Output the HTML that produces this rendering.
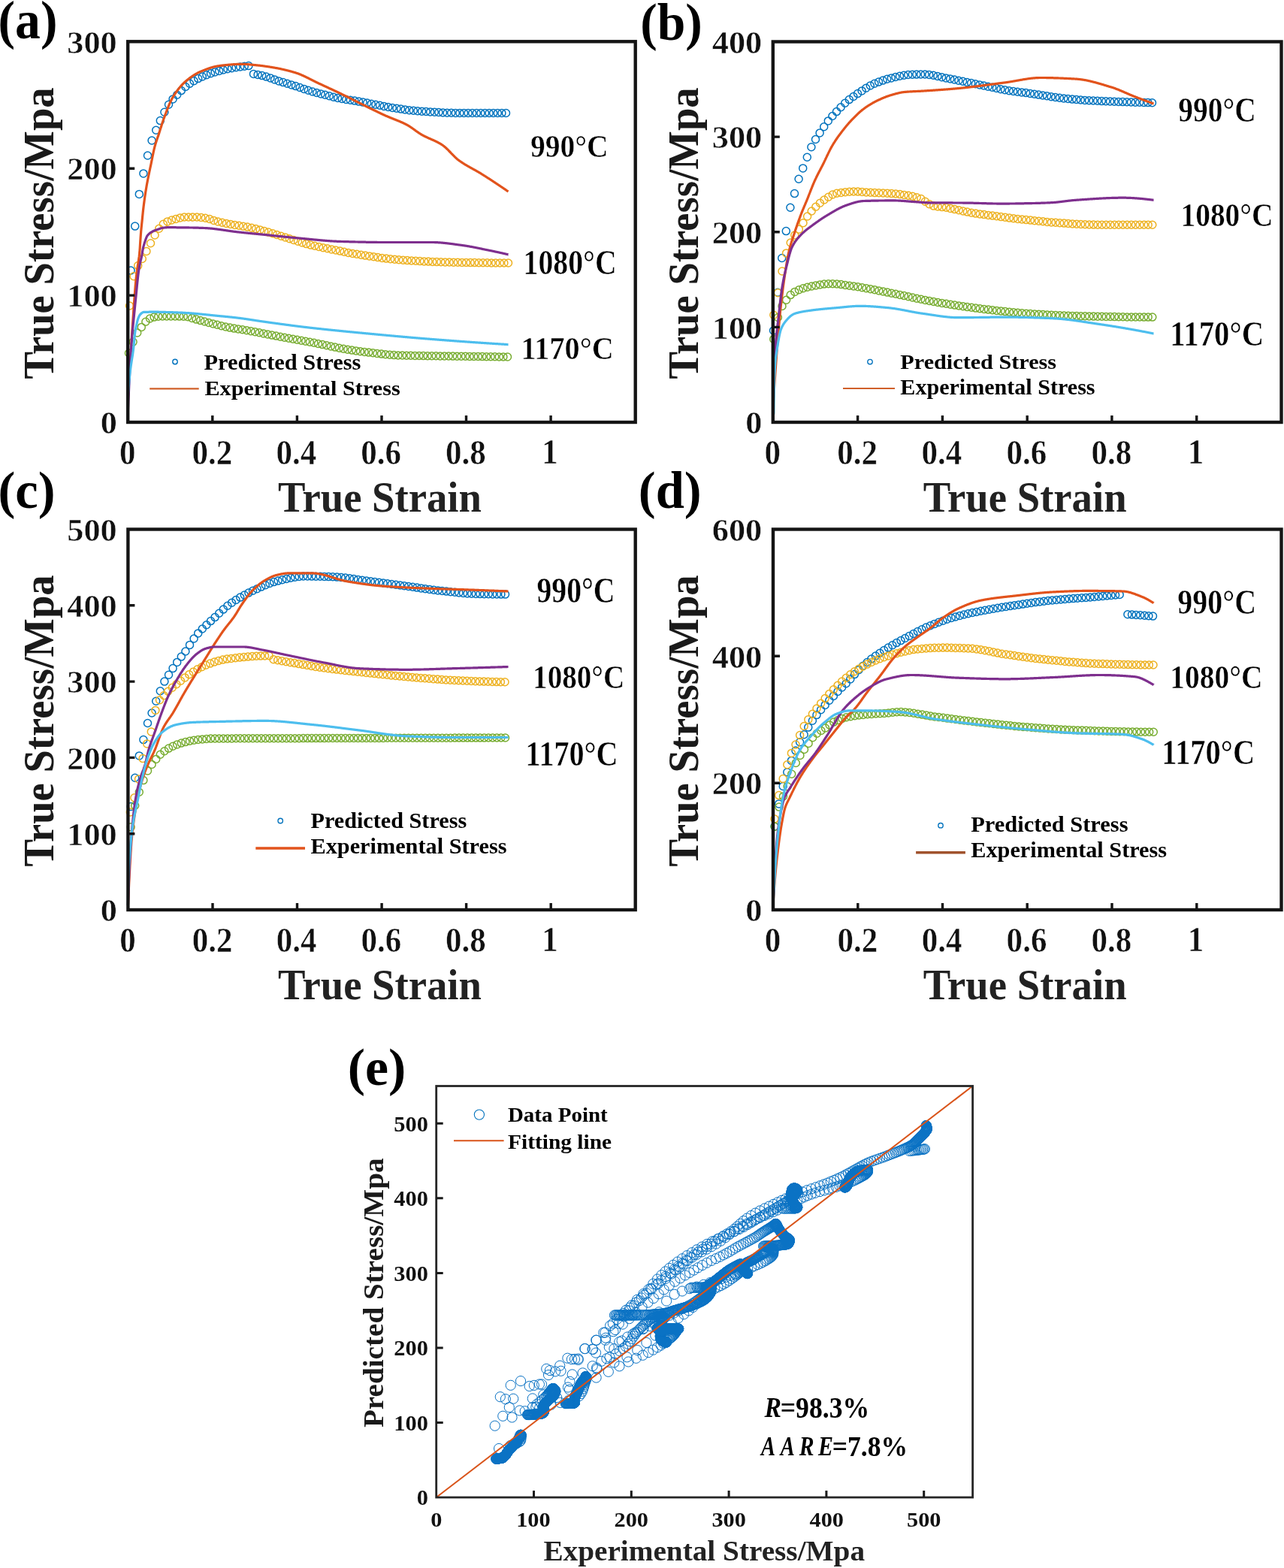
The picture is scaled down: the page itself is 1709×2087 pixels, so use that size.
<!DOCTYPE html><html><head><meta charset="utf-8"><style>html,body{margin:0;padding:0;background:#fff;}svg{display:block;} text{font-family:"Liberation Serif","Times New Roman",serif;}</style></head><body>
<svg xmlns="http://www.w3.org/2000/svg" width="1709" height="2087" viewBox="0 0 1709 2087">
<rect width="1709" height="2087" fill="#fff"/>
<g fill="none" stroke="#0072BD" stroke-width="1.5">
<circle cx="174.1" cy="360.0" r="5.0"/>
<circle cx="179.7" cy="301.1" r="5.0"/>
<circle cx="185.3" cy="258.4" r="5.0"/>
<circle cx="190.9" cy="230.9" r="5.0"/>
<circle cx="196.5" cy="207.0" r="5.0"/>
<circle cx="202.1" cy="187.0" r="5.0"/>
<circle cx="207.7" cy="173.2" r="5.0"/>
<circle cx="213.3" cy="160.6" r="5.0"/>
<circle cx="218.9" cy="149.3" r="5.0"/>
<circle cx="224.5" cy="139.3" r="5.0"/>
<circle cx="230.1" cy="131.9" r="5.0"/>
<circle cx="235.7" cy="126.3" r="5.0"/>
<circle cx="241.3" cy="120.6" r="5.0"/>
<circle cx="246.9" cy="115.5" r="5.0"/>
<circle cx="252.5" cy="111.3" r="5.0"/>
<circle cx="258.1" cy="107.7" r="5.0"/>
<circle cx="263.7" cy="104.6" r="5.0"/>
<circle cx="269.3" cy="102.0" r="5.0"/>
<circle cx="274.9" cy="99.7" r="5.0"/>
<circle cx="280.5" cy="97.7" r="5.0"/>
<circle cx="286.1" cy="95.9" r="5.0"/>
<circle cx="291.7" cy="94.4" r="5.0"/>
<circle cx="297.3" cy="93.0" r="5.0"/>
<circle cx="302.9" cy="91.8" r="5.0"/>
<circle cx="308.5" cy="90.7" r="5.0"/>
<circle cx="314.1" cy="89.8" r="5.0"/>
<circle cx="319.7" cy="88.9" r="5.0"/>
<circle cx="325.3" cy="88.2" r="5.0"/>
<circle cx="330.9" cy="87.6" r="5.0"/>
<circle cx="337.5" cy="98.4" r="5.0"/>
<circle cx="343.1" cy="99.4" r="5.0"/>
<circle cx="348.7" cy="100.6" r="5.0"/>
<circle cx="354.3" cy="102.1" r="5.0"/>
<circle cx="359.9" cy="103.9" r="5.0"/>
<circle cx="365.5" cy="105.9" r="5.0"/>
<circle cx="371.1" cy="107.9" r="5.0"/>
<circle cx="376.7" cy="109.6" r="5.0"/>
<circle cx="382.3" cy="111.3" r="5.0"/>
<circle cx="387.9" cy="112.9" r="5.0"/>
<circle cx="393.5" cy="114.6" r="5.0"/>
<circle cx="399.1" cy="116.5" r="5.0"/>
<circle cx="404.7" cy="118.4" r="5.0"/>
<circle cx="410.3" cy="120.3" r="5.0"/>
<circle cx="415.9" cy="122.0" r="5.0"/>
<circle cx="421.5" cy="123.5" r="5.0"/>
<circle cx="427.1" cy="124.9" r="5.0"/>
<circle cx="432.7" cy="126.3" r="5.0"/>
<circle cx="438.3" cy="127.8" r="5.0"/>
<circle cx="443.9" cy="129.2" r="5.0"/>
<circle cx="449.5" cy="130.5" r="5.0"/>
<circle cx="455.1" cy="131.5" r="5.0"/>
<circle cx="460.7" cy="132.4" r="5.0"/>
<circle cx="466.3" cy="133.2" r="5.0"/>
<circle cx="471.9" cy="134.1" r="5.0"/>
<circle cx="477.5" cy="135.1" r="5.0"/>
<circle cx="483.1" cy="136.1" r="5.0"/>
<circle cx="488.7" cy="137.1" r="5.0"/>
<circle cx="494.3" cy="138.2" r="5.0"/>
<circle cx="499.9" cy="139.2" r="5.0"/>
<circle cx="505.5" cy="140.3" r="5.0"/>
<circle cx="511.1" cy="141.4" r="5.0"/>
<circle cx="516.7" cy="142.4" r="5.0"/>
<circle cx="522.3" cy="143.4" r="5.0"/>
<circle cx="527.9" cy="144.3" r="5.0"/>
<circle cx="533.5" cy="145.1" r="5.0"/>
<circle cx="539.1" cy="145.9" r="5.0"/>
<circle cx="544.7" cy="146.7" r="5.0"/>
<circle cx="550.3" cy="147.3" r="5.0"/>
<circle cx="555.9" cy="147.8" r="5.0"/>
<circle cx="561.5" cy="148.2" r="5.0"/>
<circle cx="567.1" cy="148.5" r="5.0"/>
<circle cx="572.7" cy="148.9" r="5.0"/>
<circle cx="578.3" cy="149.2" r="5.0"/>
<circle cx="583.9" cy="149.5" r="5.0"/>
<circle cx="589.5" cy="149.9" r="5.0"/>
<circle cx="595.1" cy="150.2" r="5.0"/>
<circle cx="600.7" cy="150.3" r="5.0"/>
<circle cx="606.3" cy="150.4" r="5.0"/>
<circle cx="611.9" cy="150.4" r="5.0"/>
<circle cx="617.5" cy="150.4" r="5.0"/>
<circle cx="623.1" cy="150.5" r="5.0"/>
<circle cx="628.7" cy="150.5" r="5.0"/>
<circle cx="634.3" cy="150.5" r="5.0"/>
<circle cx="639.9" cy="150.5" r="5.0"/>
<circle cx="645.5" cy="150.5" r="5.0"/>
<circle cx="651.1" cy="150.5" r="5.0"/>
<circle cx="656.7" cy="150.5" r="5.0"/>
<circle cx="662.3" cy="150.5" r="5.0"/>
<circle cx="667.9" cy="150.5" r="5.0"/>
<circle cx="673.5" cy="150.5" r="5.0"/>
</g>
<g fill="none" stroke="#EDB120" stroke-width="1.5">
<circle cx="172.5" cy="407.0" r="5.0"/>
<circle cx="178.1" cy="367.7" r="5.0"/>
<circle cx="183.7" cy="353.6" r="5.0"/>
<circle cx="189.3" cy="344.5" r="5.0"/>
<circle cx="194.9" cy="334.4" r="5.0"/>
<circle cx="200.5" cy="323.7" r="5.0"/>
<circle cx="206.1" cy="313.0" r="5.0"/>
<circle cx="211.7" cy="304.2" r="5.0"/>
<circle cx="217.3" cy="298.3" r="5.0"/>
<circle cx="222.9" cy="294.9" r="5.0"/>
<circle cx="228.5" cy="293.0" r="5.0"/>
<circle cx="234.1" cy="291.5" r="5.0"/>
<circle cx="239.7" cy="289.9" r="5.0"/>
<circle cx="245.3" cy="289.0" r="5.0"/>
<circle cx="250.9" cy="289.0" r="5.0"/>
<circle cx="256.5" cy="289.0" r="5.0"/>
<circle cx="262.1" cy="289.0" r="5.0"/>
<circle cx="267.7" cy="289.5" r="5.0"/>
<circle cx="273.3" cy="290.2" r="5.0"/>
<circle cx="278.9" cy="291.5" r="5.0"/>
<circle cx="284.5" cy="293.4" r="5.0"/>
<circle cx="290.1" cy="295.0" r="5.0"/>
<circle cx="295.7" cy="296.3" r="5.0"/>
<circle cx="301.3" cy="297.4" r="5.0"/>
<circle cx="306.9" cy="298.4" r="5.0"/>
<circle cx="312.5" cy="299.4" r="5.0"/>
<circle cx="318.1" cy="300.3" r="5.0"/>
<circle cx="323.7" cy="301.2" r="5.0"/>
<circle cx="329.3" cy="302.1" r="5.0"/>
<circle cx="334.9" cy="303.2" r="5.0"/>
<circle cx="340.5" cy="304.5" r="5.0"/>
<circle cx="346.1" cy="305.9" r="5.0"/>
<circle cx="351.7" cy="307.5" r="5.0"/>
<circle cx="357.3" cy="309.1" r="5.0"/>
<circle cx="362.9" cy="310.7" r="5.0"/>
<circle cx="368.5" cy="312.5" r="5.0"/>
<circle cx="374.1" cy="314.2" r="5.0"/>
<circle cx="379.7" cy="315.9" r="5.0"/>
<circle cx="385.3" cy="317.7" r="5.0"/>
<circle cx="390.9" cy="319.5" r="5.0"/>
<circle cx="396.5" cy="321.3" r="5.0"/>
<circle cx="402.1" cy="323.0" r="5.0"/>
<circle cx="407.7" cy="324.6" r="5.0"/>
<circle cx="413.3" cy="326.1" r="5.0"/>
<circle cx="418.9" cy="327.3" r="5.0"/>
<circle cx="424.5" cy="328.5" r="5.0"/>
<circle cx="430.1" cy="329.7" r="5.0"/>
<circle cx="435.7" cy="330.8" r="5.0"/>
<circle cx="441.3" cy="331.9" r="5.0"/>
<circle cx="446.9" cy="333.0" r="5.0"/>
<circle cx="452.5" cy="334.1" r="5.0"/>
<circle cx="458.1" cy="335.3" r="5.0"/>
<circle cx="463.7" cy="336.4" r="5.0"/>
<circle cx="469.3" cy="337.4" r="5.0"/>
<circle cx="474.9" cy="338.3" r="5.0"/>
<circle cx="480.5" cy="339.2" r="5.0"/>
<circle cx="486.1" cy="340.1" r="5.0"/>
<circle cx="491.7" cy="340.9" r="5.0"/>
<circle cx="497.3" cy="341.8" r="5.0"/>
<circle cx="502.9" cy="342.6" r="5.0"/>
<circle cx="508.5" cy="343.4" r="5.0"/>
<circle cx="514.1" cy="344.1" r="5.0"/>
<circle cx="519.7" cy="344.7" r="5.0"/>
<circle cx="525.3" cy="345.3" r="5.0"/>
<circle cx="530.9" cy="345.8" r="5.0"/>
<circle cx="536.5" cy="346.2" r="5.0"/>
<circle cx="542.1" cy="346.6" r="5.0"/>
<circle cx="547.7" cy="346.9" r="5.0"/>
<circle cx="553.3" cy="347.3" r="5.0"/>
<circle cx="558.9" cy="347.6" r="5.0"/>
<circle cx="564.5" cy="347.9" r="5.0"/>
<circle cx="570.1" cy="348.1" r="5.0"/>
<circle cx="575.7" cy="348.4" r="5.0"/>
<circle cx="581.3" cy="348.6" r="5.0"/>
<circle cx="586.9" cy="348.8" r="5.0"/>
<circle cx="592.5" cy="348.9" r="5.0"/>
<circle cx="598.1" cy="349.0" r="5.0"/>
<circle cx="603.7" cy="349.2" r="5.0"/>
<circle cx="609.3" cy="349.3" r="5.0"/>
<circle cx="614.9" cy="349.4" r="5.0"/>
<circle cx="620.5" cy="349.5" r="5.0"/>
<circle cx="626.1" cy="349.6" r="5.0"/>
<circle cx="631.7" cy="349.6" r="5.0"/>
<circle cx="637.3" cy="349.7" r="5.0"/>
<circle cx="642.9" cy="349.8" r="5.0"/>
<circle cx="648.5" cy="349.8" r="5.0"/>
<circle cx="654.1" cy="349.9" r="5.0"/>
<circle cx="659.7" cy="349.9" r="5.0"/>
<circle cx="665.3" cy="350.0" r="5.0"/>
<circle cx="670.9" cy="350.0" r="5.0"/>
<circle cx="676.5" cy="350.0" r="5.0"/>
</g>
<g fill="none" stroke="#77AC30" stroke-width="1.5">
<circle cx="171.5" cy="470.0" r="5.0"/>
<circle cx="177.1" cy="455.1" r="5.0"/>
<circle cx="182.7" cy="442.9" r="5.0"/>
<circle cx="188.3" cy="435.4" r="5.0"/>
<circle cx="193.9" cy="428.3" r="5.0"/>
<circle cx="199.5" cy="424.0" r="5.0"/>
<circle cx="205.1" cy="422.1" r="5.0"/>
<circle cx="210.7" cy="421.2" r="5.0"/>
<circle cx="216.3" cy="421.0" r="5.0"/>
<circle cx="221.9" cy="421.0" r="5.0"/>
<circle cx="227.5" cy="421.0" r="5.0"/>
<circle cx="233.1" cy="421.0" r="5.0"/>
<circle cx="238.7" cy="421.1" r="5.0"/>
<circle cx="244.3" cy="421.3" r="5.0"/>
<circle cx="249.9" cy="421.8" r="5.0"/>
<circle cx="255.5" cy="423.5" r="5.0"/>
<circle cx="261.1" cy="425.1" r="5.0"/>
<circle cx="266.7" cy="426.6" r="5.0"/>
<circle cx="272.3" cy="428.0" r="5.0"/>
<circle cx="277.9" cy="429.5" r="5.0"/>
<circle cx="283.5" cy="430.9" r="5.0"/>
<circle cx="289.1" cy="432.3" r="5.0"/>
<circle cx="294.7" cy="433.8" r="5.0"/>
<circle cx="300.3" cy="435.0" r="5.0"/>
<circle cx="305.9" cy="436.1" r="5.0"/>
<circle cx="311.5" cy="437.1" r="5.0"/>
<circle cx="317.1" cy="438.0" r="5.0"/>
<circle cx="322.7" cy="438.8" r="5.0"/>
<circle cx="328.3" cy="439.7" r="5.0"/>
<circle cx="333.9" cy="440.7" r="5.0"/>
<circle cx="339.5" cy="441.7" r="5.0"/>
<circle cx="345.1" cy="442.8" r="5.0"/>
<circle cx="350.7" cy="443.9" r="5.0"/>
<circle cx="356.3" cy="445.0" r="5.0"/>
<circle cx="361.9" cy="446.1" r="5.0"/>
<circle cx="367.5" cy="447.1" r="5.0"/>
<circle cx="373.1" cy="448.2" r="5.0"/>
<circle cx="378.7" cy="449.2" r="5.0"/>
<circle cx="384.3" cy="450.2" r="5.0"/>
<circle cx="389.9" cy="451.2" r="5.0"/>
<circle cx="395.5" cy="452.2" r="5.0"/>
<circle cx="401.1" cy="453.2" r="5.0"/>
<circle cx="406.7" cy="454.2" r="5.0"/>
<circle cx="412.3" cy="455.2" r="5.0"/>
<circle cx="417.9" cy="456.3" r="5.0"/>
<circle cx="423.5" cy="457.5" r="5.0"/>
<circle cx="429.1" cy="458.6" r="5.0"/>
<circle cx="434.7" cy="459.8" r="5.0"/>
<circle cx="440.3" cy="461.0" r="5.0"/>
<circle cx="445.9" cy="462.1" r="5.0"/>
<circle cx="451.5" cy="463.2" r="5.0"/>
<circle cx="457.1" cy="464.3" r="5.0"/>
<circle cx="462.7" cy="465.2" r="5.0"/>
<circle cx="468.3" cy="466.1" r="5.0"/>
<circle cx="473.9" cy="466.9" r="5.0"/>
<circle cx="479.5" cy="467.7" r="5.0"/>
<circle cx="485.1" cy="468.4" r="5.0"/>
<circle cx="490.7" cy="469.1" r="5.0"/>
<circle cx="496.3" cy="469.8" r="5.0"/>
<circle cx="501.9" cy="470.5" r="5.0"/>
<circle cx="507.5" cy="471.1" r="5.0"/>
<circle cx="513.1" cy="471.7" r="5.0"/>
<circle cx="518.7" cy="472.2" r="5.0"/>
<circle cx="524.3" cy="472.6" r="5.0"/>
<circle cx="529.9" cy="472.9" r="5.0"/>
<circle cx="535.5" cy="473.0" r="5.0"/>
<circle cx="541.1" cy="473.2" r="5.0"/>
<circle cx="546.7" cy="473.3" r="5.0"/>
<circle cx="552.3" cy="473.4" r="5.0"/>
<circle cx="557.9" cy="473.5" r="5.0"/>
<circle cx="563.5" cy="473.6" r="5.0"/>
<circle cx="569.1" cy="473.7" r="5.0"/>
<circle cx="574.7" cy="473.7" r="5.0"/>
<circle cx="580.3" cy="473.8" r="5.0"/>
<circle cx="585.9" cy="473.9" r="5.0"/>
<circle cx="591.5" cy="473.9" r="5.0"/>
<circle cx="597.1" cy="474.0" r="5.0"/>
<circle cx="602.7" cy="474.1" r="5.0"/>
<circle cx="608.3" cy="474.2" r="5.0"/>
<circle cx="613.9" cy="474.2" r="5.0"/>
<circle cx="619.5" cy="474.3" r="5.0"/>
<circle cx="625.1" cy="474.4" r="5.0"/>
<circle cx="630.7" cy="474.5" r="5.0"/>
<circle cx="636.3" cy="474.5" r="5.0"/>
<circle cx="641.9" cy="474.6" r="5.0"/>
<circle cx="647.5" cy="474.7" r="5.0"/>
<circle cx="653.1" cy="474.7" r="5.0"/>
<circle cx="658.7" cy="474.8" r="5.0"/>
<circle cx="664.3" cy="474.9" r="5.0"/>
<circle cx="669.9" cy="474.9" r="5.0"/>
<circle cx="675.5" cy="475.0" r="5.0"/>
</g>
<path d="M170.2,549.6L170.4,528.0 170.7,518.8 171.2,509.8 171.7,504.1 172.0,500.0 172.2,496.8 172.7,489.2 173.2,481.8 173.7,474.5 174.0,470.0 174.2,467.0 174.7,459.3 175.2,451.7 175.7,444.0 176.2,436.5 176.5,432.0 176.7,429.0 177.2,421.6 177.7,414.2 178.2,407.0 178.7,400.0 179.0,396.0 179.2,393.4 179.7,386.9 180.2,380.7 180.7,375.1 181.0,372.0 181.2,370.1 181.7,365.7 182.2,361.7 182.7,358.0 183.2,354.6 183.7,351.6 184.2,348.4 184.4,347.0 184.7,344.9 185.2,341.4 185.7,337.0 185.8,336.0 186.2,330.3 186.7,322.0 187.2,314.6 187.7,308.0 188.2,302.6 188.7,297.9 189.1,294.0 189.2,293.0 189.7,287.8 190.2,282.8 190.5,280.0 190.7,278.3 191.2,274.1 191.7,270.2 192.2,266.4 192.7,262.8 193.2,259.3 193.7,256.0 194.2,252.9 194.7,249.9 195.2,247.0 195.7,244.3 196.2,241.6 196.7,239.0 197.2,236.5 197.7,234.0 198.2,231.6 198.7,229.2 199.2,226.8 199.7,224.5 200.2,222.1 200.7,219.8 201.2,217.4 201.4,216.4 201.7,214.9 202.2,212.5 202.7,210.0 203.2,207.5 203.7,205.1 204.2,202.7 204.7,200.4 205.2,198.2 205.7,196.2 206.0,195.0 206.2,194.3 206.7,192.5 207.2,190.8 207.7,189.2 208.2,187.7 208.7,186.2 209.2,184.7 209.7,183.3 210.2,181.9 210.7,180.4 211.2,178.9 211.5,178.0 211.7,177.4 212.2,175.8 212.7,174.2 213.2,172.6 213.7,171.1 214.2,169.5 214.7,167.9 215.2,166.3 215.7,164.7 216.2,163.2 216.7,161.7 217.2,160.2 217.7,158.8 218.0,158.0 218.2,157.5 218.7,156.1 219.2,154.7 219.7,153.4 220.2,152.0 220.7,150.7 221.2,149.3 221.7,148.0 222.2,146.7 222.7,145.4 223.2,144.1 223.7,142.8 224.2,141.6 224.7,140.4 225.2,139.2 225.7,138.0 226.2,136.9 226.7,135.8 227.2,134.7 227.7,133.7 228.2,132.7 228.7,131.8 229.2,130.9 229.7,130.0 230.2,129.2 230.7,128.4 231.2,127.6 231.7,126.8 232.2,126.0 232.7,125.2 233.2,124.5 233.7,123.7 234.2,123.0 234.7,122.3 235.2,121.6 235.7,120.9 236.2,120.2 236.7,119.6 237.2,118.9 237.7,118.3 238.2,117.6 238.7,117.0 239.2,116.4 239.7,115.8 240.2,115.2 240.7,114.7 241.2,114.1 241.7,113.5 242.2,113.0 242.7,112.5 243.2,111.9 243.7,111.4 244.2,110.9 244.7,110.5 245.2,110.0 245.7,109.5 246.2,109.1 246.7,108.6 247.2,108.2 247.4,108.0 247.7,107.7 248.2,107.3 248.7,106.9 249.2,106.5 249.7,106.1 250.2,105.7 250.7,105.3 251.2,104.9 251.7,104.5 252.2,104.1 252.7,103.7 253.2,103.4 253.7,103.0 254.2,102.6 254.7,102.3 255.2,101.9 255.7,101.6 256.2,101.2 256.7,100.9 257.2,100.6 257.7,100.3 258.2,99.9 258.7,99.6 259.2,99.3 259.7,99.0 260.2,98.7 260.7,98.4 261.2,98.2 261.7,97.9 262.2,97.6 262.7,97.3 263.2,97.1 263.7,96.8 264.2,96.6 264.7,96.3 265.2,96.1 265.7,95.9 266.2,95.6 266.7,95.4 267.0,95.3 267.2,95.2 267.7,95.0 268.2,94.8 268.7,94.6 269.2,94.4 269.7,94.2 270.2,94.0 270.7,93.8 271.2,93.6 271.7,93.4 272.2,93.2 272.7,93.0 273.2,92.8 273.7,92.6 274.2,92.4 274.7,92.2 275.2,92.0 275.7,91.8 276.2,91.7 276.7,91.5 277.2,91.3 277.7,91.1 278.2,91.0 278.7,90.8 279.2,90.6 279.7,90.5 280.2,90.3 280.7,90.1 281.2,90.0 281.7,89.8 282.2,89.7 282.7,89.5 283.2,89.4 283.7,89.3 284.2,89.1 284.7,89.0 285.2,88.9 285.7,88.8 286.2,88.6 286.7,88.5 287.2,88.4 287.7,88.3 288.2,88.2 288.7,88.1 289.2,88.0 289.7,87.9 290.2,87.8 290.7,87.8 291.2,87.7 291.7,87.6 292.2,87.5 292.5,87.5 292.7,87.5 293.2,87.4 293.7,87.4 294.2,87.3 294.7,87.2 295.2,87.2 295.7,87.1 296.2,87.1 296.7,87.0 297.2,86.9 297.7,86.9 298.2,86.8 298.7,86.8 299.2,86.7 299.7,86.7 300.2,86.6 300.7,86.6 301.2,86.5 301.7,86.5 302.2,86.4 302.7,86.4 303.2,86.3 303.7,86.3 304.2,86.2 304.7,86.2 305.2,86.1 305.7,86.1 306.2,86.0 306.7,86.0 307.2,86.0 307.7,85.9 308.2,85.9 308.7,85.8 309.2,85.8 309.7,85.8 310.2,85.7 310.7,85.7 311.2,85.7 311.7,85.6 312.2,85.6 312.7,85.6 313.2,85.5 313.7,85.5 314.2,85.5 314.7,85.5 315.2,85.4 315.7,85.4 316.2,85.4 316.7,85.4 317.2,85.4 317.7,85.4 318.2,85.3 318.7,85.3 319.2,85.3 319.7,85.3 320.2,85.3 320.7,85.3 321.2,85.3 321.7,85.3 321.9,85.3 322.2,85.3 322.7,85.3 323.2,85.3 323.7,85.3 324.2,85.3 324.7,85.3 325.2,85.4 325.7,85.4 326.2,85.4 326.7,85.4 327.2,85.5 327.7,85.5 328.2,85.5 328.7,85.6 329.2,85.6 329.7,85.6 330.2,85.7 330.7,85.7 331.2,85.8 331.7,85.8 332.2,85.9 332.7,85.9 333.2,86.0 333.7,86.0 334.2,86.1 334.7,86.1 335.2,86.2 335.7,86.2 336.2,86.3 336.7,86.3 337.2,86.4 337.7,86.4 338.2,86.5 338.7,86.5 339.2,86.6 339.7,86.6 340.2,86.7 340.7,86.7 341.2,86.8 341.5,86.8 341.7,86.8 342.2,86.9 342.7,86.9 343.2,87.0 343.7,87.0 344.2,87.1 344.7,87.1 345.2,87.2 345.7,87.2 346.2,87.3 346.7,87.4 347.2,87.4 347.7,87.5 348.2,87.5 348.7,87.6 349.2,87.7 349.7,87.7 350.2,87.8 350.7,87.9 351.2,87.9 351.7,88.0 352.2,88.1 352.7,88.1 353.2,88.2 353.7,88.3 354.2,88.3 354.7,88.4 355.2,88.5 355.7,88.6 356.2,88.6 356.7,88.7 357.2,88.8 357.7,88.9 358.2,88.9 358.7,89.0 359.2,89.1 359.7,89.2 360.2,89.3 360.7,89.3 361.2,89.4 361.7,89.5 362.2,89.6 362.3,89.6 362.7,89.7 363.2,89.8 363.7,89.8 364.2,89.9 364.7,90.0 365.2,90.1 365.7,90.2 366.2,90.3 366.7,90.4 367.2,90.5 367.7,90.6 368.2,90.7 368.7,90.7 369.2,90.8 369.7,90.9 370.2,91.0 370.7,91.1 371.2,91.2 371.7,91.3 372.2,91.4 372.7,91.5 373.2,91.6 373.7,91.8 374.2,91.9 374.7,92.0 375.2,92.1 375.7,92.2 376.2,92.3 376.7,92.4 377.2,92.5 377.7,92.6 378.2,92.7 378.7,92.9 379.2,93.0 379.7,93.1 380.2,93.2 380.7,93.3 381.2,93.5 381.7,93.6 382.2,93.7 382.7,93.8 383.2,94.0 383.7,94.1 384.2,94.2 384.7,94.3 385.2,94.5 385.7,94.6 386.2,94.7 386.7,94.9 387.2,95.0 387.7,95.2 388.2,95.3 388.7,95.4 389.2,95.6 389.7,95.7 390.2,95.9 390.7,96.0 391.2,96.2 391.7,96.3 392.2,96.5 392.7,96.6 393.2,96.8 393.3,96.8 393.7,96.9 394.2,97.1 394.7,97.2 395.2,97.4 395.7,97.6 396.2,97.8 396.7,98.0 397.2,98.1 397.7,98.3 398.2,98.5 398.7,98.7 399.2,98.9 399.7,99.1 400.2,99.3 400.7,99.5 401.2,99.8 401.7,100.0 402.2,100.2 402.7,100.4 403.2,100.6 403.7,100.9 404.2,101.1 404.7,101.3 405.2,101.6 405.7,101.8 406.2,102.0 406.7,102.3 407.2,102.5 407.7,102.8 408.2,103.0 408.7,103.3 409.2,103.5 409.7,103.7 410.2,104.0 410.7,104.2 411.2,104.5 411.7,104.8 412.2,105.0 412.7,105.3 413.2,105.5 413.7,105.8 414.2,106.0 414.7,106.3 415.2,106.5 415.7,106.8 416.2,107.0 416.7,107.3 417.2,107.5 417.7,107.8 418.2,108.0 418.7,108.3 419.2,108.5 419.7,108.8 420.2,109.0 420.7,109.3 421.2,109.5 421.7,109.8 422.2,110.0 422.7,110.2 423.2,110.5 423.7,110.7 424.2,111.0 424.3,111.0 424.7,111.2 425.2,111.4 425.7,111.6 426.2,111.9 426.7,112.1 427.2,112.3 427.7,112.6 428.2,112.8 428.7,113.0 429.2,113.3 429.7,113.5 430.2,113.7 430.7,114.0 431.2,114.2 431.7,114.4 432.2,114.7 432.7,114.9 433.2,115.1 433.7,115.3 434.2,115.6 434.7,115.8 435.2,116.0 435.7,116.3 436.2,116.5 436.7,116.7 437.2,117.0 437.7,117.2 438.2,117.4 438.7,117.7 439.2,117.9 439.7,118.1 440.2,118.4 440.7,118.6 441.2,118.8 441.7,119.1 442.2,119.3 442.7,119.5 443.2,119.8 443.7,120.0 444.2,120.2 444.7,120.5 445.2,120.7 445.7,120.9 446.2,121.2 446.7,121.4 447.2,121.6 447.7,121.9 448.2,122.1 448.7,122.3 449.2,122.6 449.7,122.8 450.2,123.1 450.7,123.3 451.2,123.5 451.7,123.8 452.2,124.0 452.7,124.2 453.2,124.5 453.7,124.7 454.2,125.0 454.7,125.2 455.2,125.5 455.3,125.5 455.7,125.7 456.2,125.9 456.7,126.2 457.2,126.4 457.7,126.7 458.2,126.9 458.7,127.2 459.2,127.4 459.7,127.7 460.2,127.9 460.7,128.1 461.2,128.4 461.7,128.6 462.2,128.9 462.7,129.1 463.2,129.4 463.7,129.6 464.2,129.9 464.7,130.1 465.2,130.4 465.7,130.6 466.2,130.9 466.7,131.1 467.2,131.4 467.7,131.7 468.2,131.9 468.7,132.2 469.2,132.4 469.7,132.7 470.2,132.9 470.7,133.2 471.2,133.4 471.7,133.7 472.2,133.9 472.7,134.2 473.2,134.4 473.7,134.7 474.2,134.9 474.7,135.2 475.2,135.4 475.7,135.7 476.2,136.0 476.7,136.2 477.2,136.5 477.7,136.7 478.2,137.0 478.7,137.2 479.2,137.5 479.7,137.7 480.2,138.0 480.7,138.2 481.2,138.5 481.7,138.7 482.2,139.0 482.7,139.2 483.2,139.5 483.7,139.7 484.2,140.0 484.7,140.2 485.2,140.5 485.7,140.7 486.2,141.0 486.3,141.0 486.7,141.2 487.2,141.4 487.7,141.7 488.2,141.9 488.7,142.2 489.2,142.4 489.7,142.7 490.2,142.9 490.7,143.2 491.2,143.4 491.7,143.7 492.2,143.9 492.7,144.2 493.2,144.4 493.7,144.6 494.2,144.9 494.7,145.1 495.2,145.4 495.7,145.6 496.2,145.9 496.7,146.1 497.2,146.4 497.7,146.6 498.2,146.9 498.7,147.1 499.2,147.3 499.7,147.6 500.2,147.8 500.7,148.1 501.2,148.3 501.7,148.6 502.2,148.8 502.7,149.0 503.2,149.3 503.7,149.5 504.2,149.8 504.7,150.0 505.2,150.2 505.7,150.5 506.2,150.7 506.7,151.0 507.2,151.2 507.7,151.4 508.2,151.7 508.7,151.9 509.2,152.1 509.7,152.4 510.2,152.6 510.7,152.8 511.1,153.0 511.2,153.0 511.7,153.3 512.2,153.5 512.7,153.7 513.2,153.9 513.7,154.2 514.2,154.4 514.7,154.6 515.2,154.8 515.7,155.0 516.2,155.2 516.7,155.4 517.2,155.6 517.7,155.9 518.2,156.1 518.7,156.3 519.2,156.5 519.7,156.7 520.2,156.9 520.7,157.1 521.2,157.3 521.7,157.5 522.2,157.7 522.7,157.9 523.2,158.1 523.7,158.3 524.2,158.5 524.7,158.7 525.2,158.9 525.7,159.1 526.2,159.3 526.7,159.5 527.2,159.7 527.7,159.9 528.2,160.1 528.7,160.3 529.2,160.5 529.7,160.7 530.2,160.9 530.7,161.1 531.2,161.3 531.7,161.5 532.2,161.7 532.7,162.0 533.2,162.2 533.7,162.4 534.2,162.6 534.7,162.8 535.2,163.1 535.7,163.3 536.2,163.5 536.7,163.7 537.2,164.0 537.7,164.2 538.2,164.5 538.7,164.7 539.2,165.0 539.7,165.2 540.2,165.5 540.7,165.7 541.2,166.0 541.7,166.2 542.2,166.5 542.7,166.8 543.2,167.1 543.7,167.3 544.2,167.6 544.7,168.0 545.2,168.3 545.7,168.6 546.2,168.9 546.7,169.3 547.2,169.6 547.7,169.9 548.2,170.3 548.7,170.6 549.2,171.0 549.7,171.3 550.2,171.7 550.7,172.1 551.2,172.4 551.7,172.8 552.2,173.2 552.7,173.5 553.2,173.9 553.7,174.3 554.2,174.6 554.7,175.0 555.2,175.3 555.7,175.7 556.2,176.0 556.7,176.4 557.2,176.7 557.7,177.1 558.2,177.4 558.7,177.7 559.2,178.0 559.7,178.3 560.2,178.6 560.7,178.9 560.8,179.0 561.2,179.2 561.7,179.5 562.2,179.8 562.7,180.1 563.2,180.3 563.7,180.6 564.2,180.9 564.7,181.1 565.2,181.4 565.7,181.6 566.2,181.9 566.7,182.1 567.2,182.3 567.7,182.6 568.2,182.8 568.7,183.0 569.2,183.3 569.7,183.5 570.2,183.7 570.7,183.9 571.2,184.2 571.7,184.4 572.2,184.6 572.7,184.8 573.2,185.0 573.7,185.3 574.2,185.5 574.7,185.7 575.2,185.9 575.7,186.1 576.2,186.4 576.7,186.6 577.2,186.8 577.7,187.0 578.2,187.3 578.7,187.5 579.2,187.7 579.7,188.0 580.2,188.2 580.7,188.5 581.2,188.7 581.7,189.0 582.2,189.2 582.7,189.5 583.2,189.7 583.7,190.0 584.2,190.3 584.7,190.6 585.2,190.8 585.7,191.1 586.2,191.4 586.7,191.7 587.2,192.0 587.7,192.4 588.2,192.7 588.7,193.0 589.2,193.3 589.7,193.7 590.2,194.1 590.7,194.4 591.2,194.8 591.7,195.3 592.2,195.7 592.7,196.1 593.2,196.6 593.7,197.0 594.2,197.5 594.7,198.0 595.2,198.4 595.7,198.9 596.2,199.4 596.7,199.9 597.2,200.4 597.7,201.0 598.2,201.5 598.7,202.0 599.2,202.5 599.7,203.0 600.2,203.6 600.7,204.1 601.2,204.6 601.7,205.1 602.2,205.7 602.7,206.2 603.2,206.7 603.7,207.2 604.2,207.7 604.7,208.2 605.2,208.7 605.7,209.2 606.2,209.6 606.7,210.1 607.2,210.6 607.7,211.0 608.2,211.4 608.7,211.9 609.2,212.3 609.7,212.7 610.2,213.1 610.4,213.2 610.7,213.4 611.2,213.8 611.7,214.1 612.2,214.5 612.7,214.8 613.2,215.2 613.7,215.5 614.2,215.9 614.7,216.2 615.2,216.5 615.7,216.9 616.2,217.2 616.7,217.5 617.2,217.8 617.7,218.1 618.2,218.4 618.7,218.8 619.2,219.1 619.7,219.4 620.2,219.7 620.7,220.0 621.2,220.2 621.7,220.5 622.2,220.8 622.7,221.1 623.2,221.4 623.7,221.7 624.2,222.0 624.7,222.3 625.2,222.5 625.7,222.8 626.2,223.1 626.7,223.4 627.2,223.7 627.7,223.9 628.2,224.2 628.7,224.5 629.2,224.8 629.7,225.0 630.2,225.3 630.7,225.6 631.2,225.9 631.7,226.1 632.2,226.4 632.7,226.7 633.2,227.0 633.7,227.3 634.2,227.5 634.7,227.8 635.2,228.1 635.7,228.4 636.2,228.7 636.7,229.0 637.2,229.3 637.7,229.6 638.2,229.8 638.7,230.1 639.2,230.4 639.7,230.7 640.2,231.1 640.7,231.4 641.2,231.7 641.4,231.8 641.7,232.0 642.2,232.3 642.7,232.6 643.2,232.9 643.7,233.3 644.2,233.6 644.7,233.9 645.2,234.2 645.7,234.5 646.2,234.8 646.7,235.2 647.2,235.5 647.7,235.8 648.2,236.1 648.7,236.4 649.2,236.8 649.7,237.1 650.2,237.4 650.7,237.7 651.2,238.0 651.7,238.4 652.2,238.7 652.7,239.0 653.2,239.3 653.7,239.7 654.2,240.0 654.7,240.3 655.2,240.6 655.7,241.0 656.2,241.3 656.7,241.6 657.2,242.0 657.7,242.3 658.2,242.6 658.7,242.9 659.2,243.3 659.7,243.6 660.2,243.9 660.7,244.3 661.2,244.6 661.7,244.9 662.2,245.3 662.7,245.6 663.2,245.9 663.7,246.3 664.2,246.6 664.7,246.9 665.2,247.3 665.7,247.6 666.2,248.0 666.7,248.3 667.2,248.6 667.7,249.0 668.2,249.3 668.7,249.6 669.2,250.0 669.7,250.3 670.2,250.7 670.7,251.0 671.2,251.4 671.7,251.7 672.2,252.0 672.7,252.4 673.2,252.7 673.7,253.1 674.2,253.4 674.7,253.8 675.2,254.1 675.7,254.4 676.2,254.8 676.5,255.0" fill="none" stroke="#E2531C" stroke-width="3.2" stroke-linejoin="round" stroke-linecap="butt"/>
<path d="M170.3,548.0L170.8,535.9 171.3,524.4 171.5,520.0 171.8,513.6 172.3,503.3 172.8,493.7 173.0,490.0 173.3,484.6 173.8,476.1 174.3,468.0 174.7,462.0 174.8,460.6 175.3,453.6 175.8,447.1 176.3,441.1 176.4,440.0 176.8,435.8 177.3,431.0 177.4,430.0 177.8,426.0 178.3,421.0 178.8,416.0 179.3,411.0 179.8,406.0 180.2,402.0 180.3,401.0 180.8,396.0 181.3,391.0 181.6,388.0 181.8,386.0 182.3,380.8 182.8,375.9 183.0,374.0 183.3,371.3 183.8,366.9 184.3,362.9 184.7,360.0 184.8,359.3 185.3,356.3 185.8,353.5 186.3,351.0 186.5,350.0 186.8,348.6 187.3,346.5 187.8,344.5 188.3,342.4 188.6,341.0 188.8,340.0 189.3,337.0 189.8,333.8 190.3,330.9 190.5,330.0 190.8,328.7 191.3,326.9 191.8,325.2 192.3,323.6 192.8,322.1 193.3,320.6 193.8,319.1 194.3,317.6 194.8,316.3 195.3,315.1 195.8,314.1 196.1,313.7 196.3,313.4 196.8,312.8 197.3,312.3 197.8,311.8 198.3,311.3 198.8,310.9 199.3,310.5 199.8,310.1 200.3,309.7 200.8,309.4 201.3,309.1 201.8,308.8 202.3,308.5 202.8,308.3 203.1,308.1 203.3,308.0 203.8,307.7 204.3,307.5 204.8,307.3 205.3,307.1 205.8,306.8 206.3,306.6 206.8,306.5 207.3,306.3 207.8,306.1 208.3,305.9 208.8,305.7 209.3,305.6 209.8,305.4 210.1,305.3 210.3,305.2 210.8,305.1 211.3,304.9 211.8,304.7 212.3,304.5 212.8,304.3 213.3,304.2 213.8,304.0 214.3,303.8 214.8,303.7 215.3,303.6 215.8,303.4 216.3,303.3 216.8,303.3 217.2,303.2 217.3,303.2 217.8,303.1 218.3,303.1 218.8,303.0 219.3,303.0 219.8,302.9 220.3,302.9 220.8,302.8 221.3,302.8 221.8,302.8 222.3,302.7 222.8,302.7 223.3,302.7 223.8,302.7 224.2,302.7 224.3,302.7 224.8,302.7 225.3,302.7 225.8,302.7 226.3,302.7 226.8,302.7 227.3,302.7 227.8,302.7 228.3,302.7 228.8,302.7 229.3,302.7 229.8,302.7 230.3,302.7 230.8,302.7 231.3,302.7 231.8,302.7 232.3,302.7 232.8,302.7 233.3,302.7 233.8,302.7 234.3,302.7 234.8,302.8 235.3,302.8 235.8,302.8 236.3,302.8 236.8,302.8 237.3,302.8 237.8,302.8 238.3,302.8 238.8,302.8 239.3,302.8 239.8,302.8 240.3,302.8 240.8,302.8 241.3,302.8 241.8,302.8 242.3,302.8 242.8,302.8 243.3,302.8 243.8,302.8 244.3,302.9 244.8,302.9 245.3,302.9 245.8,302.9 246.3,302.9 246.8,302.9 247.3,302.9 247.8,302.9 248.0,302.9 248.3,302.9 248.8,302.9 249.3,302.9 249.8,302.9 250.3,302.9 250.8,302.9 251.3,302.9 251.8,303.0 252.3,303.0 252.8,303.0 253.3,303.0 253.8,303.0 254.3,303.0 254.8,303.0 255.3,303.0 255.8,303.0 256.3,303.0 256.8,303.0 257.3,303.1 257.8,303.1 258.3,303.1 258.8,303.1 259.3,303.1 259.8,303.1 260.3,303.1 260.8,303.1 261.3,303.2 261.8,303.2 262.3,303.2 262.8,303.2 263.3,303.2 263.8,303.2 264.3,303.2 264.8,303.3 265.3,303.3 265.8,303.3 266.3,303.3 266.8,303.3 267.3,303.3 267.8,303.3 268.3,303.4 268.8,303.4 269.3,303.4 269.8,303.4 270.3,303.4 270.8,303.5 271.3,303.5 271.8,303.5 272.0,303.5 272.3,303.5 272.8,303.5 273.3,303.6 273.8,303.6 274.3,303.6 274.8,303.6 275.3,303.7 275.8,303.7 276.3,303.7 276.8,303.8 277.3,303.8 277.8,303.8 278.3,303.9 278.8,303.9 279.3,304.0 279.8,304.0 280.3,304.1 280.8,304.1 281.3,304.2 281.8,304.2 282.3,304.2 282.8,304.3 283.3,304.4 283.8,304.4 284.3,304.5 284.8,304.5 285.3,304.6 285.8,304.6 286.3,304.7 286.8,304.8 287.3,304.8 287.8,304.9 288.3,304.9 288.8,305.0 289.3,305.1 289.8,305.1 290.3,305.2 290.8,305.3 291.3,305.3 291.8,305.4 292.3,305.5 292.8,305.5 293.3,305.6 293.8,305.7 294.3,305.8 294.8,305.8 295.3,305.9 295.8,306.0 296.3,306.0 296.8,306.1 297.3,306.2 297.8,306.3 298.3,306.3 298.8,306.4 299.3,306.5 299.8,306.5 300.3,306.6 300.8,306.7 301.3,306.8 301.8,306.8 302.3,306.9 302.8,307.0 303.3,307.1 303.8,307.1 304.3,307.2 304.8,307.3 305.3,307.4 305.8,307.4 306.3,307.5 306.8,307.6 307.3,307.6 307.8,307.7 308.3,307.8 308.8,307.8 309.3,307.9 309.8,308.0 310.3,308.1 310.8,308.1 311.3,308.2 311.8,308.3 312.3,308.3 312.8,308.4 313.3,308.4 313.8,308.5 314.3,308.6 314.8,308.6 315.3,308.7 315.8,308.8 316.3,308.8 316.8,308.9 317.3,308.9 317.8,309.0 318.0,309.0 318.3,309.0 318.8,309.1 319.3,309.1 319.8,309.2 320.3,309.2 320.8,309.3 321.3,309.4 321.8,309.4 322.3,309.5 322.8,309.5 323.3,309.6 323.8,309.6 324.3,309.7 324.8,309.7 325.3,309.8 325.8,309.8 326.3,309.9 326.8,309.9 327.3,310.0 327.8,310.0 328.3,310.1 328.8,310.1 329.3,310.2 329.8,310.2 330.3,310.3 330.8,310.3 331.3,310.4 331.8,310.4 332.3,310.5 332.8,310.5 333.3,310.6 333.8,310.6 334.3,310.7 334.8,310.7 335.3,310.8 335.8,310.8 336.3,310.9 336.8,310.9 337.3,311.0 337.8,311.0 338.3,311.1 338.8,311.1 339.3,311.1 339.8,311.2 340.3,311.2 340.8,311.3 341.3,311.3 341.8,311.4 342.3,311.4 342.8,311.5 343.3,311.5 343.8,311.6 344.3,311.6 344.8,311.7 345.3,311.7 345.8,311.8 346.3,311.8 346.8,311.9 347.3,311.9 347.8,312.0 348.3,312.0 348.8,312.1 349.3,312.1 349.8,312.2 350.0,312.2 350.3,312.2 350.8,312.3 351.3,312.3 351.8,312.4 352.3,312.4 352.8,312.5 353.3,312.5 353.8,312.6 354.3,312.6 354.8,312.7 355.3,312.7 355.8,312.8 356.3,312.8 356.8,312.9 357.3,312.9 357.8,313.0 358.3,313.0 358.8,313.1 359.3,313.1 359.8,313.2 360.3,313.2 360.8,313.3 361.3,313.4 361.8,313.4 362.3,313.5 362.8,313.5 363.3,313.6 363.8,313.6 364.3,313.7 364.8,313.7 365.3,313.8 365.8,313.8 366.3,313.9 366.8,313.9 367.3,314.0 367.8,314.0 368.3,314.1 368.8,314.1 369.3,314.2 369.8,314.2 370.3,314.3 370.8,314.3 371.3,314.4 371.8,314.4 372.3,314.5 372.8,314.5 373.3,314.6 373.8,314.6 374.3,314.7 374.8,314.7 375.3,314.8 375.8,314.9 376.3,314.9 376.8,315.0 377.3,315.0 377.8,315.1 378.3,315.1 378.8,315.2 379.3,315.2 379.8,315.3 380.3,315.3 380.8,315.4 381.3,315.4 381.8,315.5 382.3,315.5 382.8,315.6 383.3,315.6 383.8,315.7 384.3,315.7 384.8,315.8 385.3,315.8 385.8,315.9 386.3,315.9 386.8,316.0 387.3,316.0 387.8,316.1 388.3,316.1 388.8,316.2 389.3,316.2 389.8,316.3 390.3,316.3 390.8,316.4 391.3,316.4 391.8,316.4 392.3,316.5 392.8,316.5 393.3,316.6 393.8,316.6 394.3,316.7 394.8,316.7 395.3,316.8 395.8,316.8 396.3,316.9 396.8,316.9 397.3,317.0 397.8,317.0 398.3,317.1 398.8,317.1 399.3,317.1 399.8,317.2 400.3,317.2 400.8,317.3 401.0,317.3 401.3,317.3 401.8,317.4 402.3,317.4 402.8,317.5 403.3,317.5 403.8,317.6 404.3,317.6 404.8,317.6 405.3,317.7 405.8,317.7 406.3,317.8 406.8,317.8 407.3,317.9 407.8,317.9 408.3,318.0 408.8,318.0 409.3,318.1 409.8,318.1 410.3,318.2 410.8,318.2 411.3,318.3 411.8,318.3 412.3,318.4 412.8,318.4 413.3,318.5 413.8,318.5 414.3,318.6 414.8,318.6 415.3,318.7 415.8,318.7 416.3,318.8 416.8,318.8 417.3,318.9 417.8,318.9 418.3,319.0 418.8,319.0 419.3,319.1 419.8,319.1 420.3,319.1 420.8,319.2 421.3,319.2 421.8,319.3 422.3,319.3 422.8,319.4 423.3,319.4 423.8,319.5 424.3,319.5 424.8,319.6 425.3,319.6 425.8,319.7 426.3,319.7 426.8,319.8 427.3,319.8 427.8,319.8 428.3,319.9 428.8,319.9 429.3,320.0 429.8,320.0 430.3,320.1 430.8,320.1 431.3,320.2 431.8,320.2 432.3,320.2 432.8,320.3 433.3,320.3 433.8,320.4 434.3,320.4 434.8,320.4 435.3,320.5 435.8,320.5 436.3,320.5 436.8,320.6 437.3,320.6 437.8,320.7 438.3,320.7 438.8,320.7 439.3,320.8 439.8,320.8 440.3,320.8 440.8,320.9 441.3,320.9 441.8,320.9 442.3,321.0 442.8,321.0 443.3,321.0 443.8,321.0 444.3,321.1 444.8,321.1 445.3,321.1 445.8,321.1 446.3,321.2 446.8,321.2 447.3,321.2 447.8,321.2 448.3,321.3 448.8,321.3 449.3,321.3 449.8,321.3 450.3,321.3 450.8,321.4 451.3,321.4 451.8,321.4 452.0,321.4 452.3,321.4 452.8,321.4 453.3,321.4 453.8,321.5 454.3,321.5 454.8,321.5 455.3,321.5 455.8,321.5 456.3,321.5 456.8,321.5 457.3,321.6 457.8,321.6 458.3,321.6 458.8,321.6 459.3,321.6 459.8,321.6 460.3,321.6 460.8,321.7 461.3,321.7 461.8,321.7 462.3,321.7 462.8,321.7 463.3,321.7 463.8,321.7 464.3,321.7 464.8,321.8 465.3,321.8 465.8,321.8 466.3,321.8 466.8,321.8 467.3,321.8 467.8,321.8 468.3,321.9 468.8,321.9 469.3,321.9 469.8,321.9 470.3,321.9 470.8,321.9 471.3,321.9 471.8,321.9 472.3,321.9 472.8,322.0 473.3,322.0 473.8,322.0 474.3,322.0 474.8,322.0 475.3,322.0 475.8,322.0 476.3,322.0 476.8,322.1 477.3,322.1 477.8,322.1 478.3,322.1 478.8,322.1 479.3,322.1 479.8,322.1 480.3,322.1 480.8,322.1 481.3,322.1 481.8,322.2 482.3,322.2 482.8,322.2 483.3,322.2 483.8,322.2 484.3,322.2 484.8,322.2 485.3,322.2 485.8,322.2 486.3,322.2 486.8,322.2 487.3,322.3 487.8,322.3 488.3,322.3 488.8,322.3 489.3,322.3 489.8,322.3 490.3,322.3 490.8,322.3 491.3,322.3 491.8,322.3 492.3,322.3 492.8,322.3 493.3,322.4 493.8,322.4 494.3,322.4 494.8,322.4 495.3,322.4 495.8,322.4 496.3,322.4 496.8,322.4 497.3,322.4 497.8,322.4 498.3,322.4 498.8,322.4 499.3,322.4 499.8,322.4 500.3,322.4 500.8,322.4 501.3,322.4 501.8,322.4 502.3,322.5 502.8,322.5 503.3,322.5 503.8,322.5 504.3,322.5 504.8,322.5 505.3,322.5 505.8,322.5 506.3,322.5 506.8,322.5 507.3,322.5 507.8,322.5 508.3,322.5 508.8,322.5 509.3,322.5 509.8,322.5 510.3,322.5 510.8,322.5 511.3,322.5 511.8,322.5 512.3,322.5 512.8,322.5 513.3,322.5 513.8,322.5 514.0,322.5 514.3,322.5 514.8,322.5 515.3,322.5 515.8,322.5 516.3,322.5 516.8,322.5 517.3,322.5 517.8,322.5 518.3,322.5 518.8,322.5 519.3,322.5 519.8,322.5 520.3,322.5 520.8,322.5 521.3,322.5 521.8,322.5 522.3,322.5 522.8,322.5 523.3,322.5 523.8,322.5 524.3,322.5 524.8,322.5 525.3,322.5 525.8,322.5 526.3,322.5 526.8,322.5 527.3,322.5 527.8,322.5 528.3,322.5 528.8,322.5 529.3,322.5 529.8,322.5 530.3,322.5 530.8,322.5 531.3,322.5 531.8,322.5 532.3,322.5 532.8,322.5 533.3,322.5 533.8,322.5 534.3,322.5 534.8,322.5 535.3,322.5 535.8,322.5 536.3,322.5 536.8,322.5 537.3,322.5 537.8,322.5 538.3,322.5 538.8,322.5 539.3,322.5 539.8,322.5 540.3,322.5 540.8,322.5 541.3,322.5 541.8,322.5 542.3,322.5 542.8,322.5 543.3,322.5 543.8,322.5 544.3,322.5 544.8,322.5 545.3,322.5 545.8,322.5 546.3,322.5 546.8,322.5 547.3,322.5 547.8,322.5 548.3,322.5 548.8,322.5 549.3,322.5 549.8,322.5 550.3,322.5 550.8,322.5 551.3,322.5 551.8,322.5 552.3,322.5 552.8,322.5 553.3,322.5 553.8,322.5 554.3,322.5 554.8,322.5 555.3,322.5 555.8,322.5 556.3,322.5 556.8,322.5 557.3,322.5 557.8,322.5 558.3,322.5 558.8,322.5 559.3,322.5 559.8,322.5 560.3,322.5 560.8,322.5 561.3,322.5 561.8,322.5 562.3,322.5 562.8,322.5 563.3,322.5 563.8,322.5 564.3,322.5 564.8,322.5 565.3,322.5 565.8,322.5 566.3,322.5 566.8,322.5 567.3,322.5 567.8,322.5 568.3,322.5 568.8,322.5 569.3,322.5 569.8,322.5 570.3,322.5 570.8,322.5 571.3,322.5 571.8,322.5 572.3,322.5 572.8,322.5 573.3,322.5 573.8,322.5 574.3,322.5 574.8,322.5 575.0,322.5 575.3,322.5 575.8,322.5 576.3,322.5 576.8,322.5 577.3,322.5 577.8,322.5 578.3,322.5 578.8,322.6 579.3,322.6 579.8,322.6 580.3,322.6 580.8,322.6 581.3,322.7 581.8,322.7 582.3,322.7 582.8,322.7 583.3,322.8 583.8,322.8 584.3,322.8 584.8,322.9 585.3,322.9 585.8,322.9 586.3,323.0 586.8,323.0 587.3,323.0 587.8,323.1 588.3,323.1 588.8,323.2 589.3,323.2 589.8,323.3 590.3,323.3 590.8,323.4 591.3,323.4 591.8,323.5 592.3,323.5 592.8,323.6 593.3,323.6 593.8,323.7 594.3,323.7 594.8,323.8 595.3,323.8 595.8,323.9 596.3,324.0 596.8,324.0 597.3,324.1 597.8,324.1 598.3,324.2 598.8,324.3 599.3,324.3 599.8,324.4 600.3,324.5 600.8,324.5 601.3,324.6 601.8,324.7 602.3,324.7 602.8,324.8 603.3,324.9 603.8,324.9 604.3,325.0 604.8,325.1 605.3,325.1 605.8,325.2 606.3,325.3 606.8,325.3 607.3,325.4 607.8,325.5 608.3,325.5 608.8,325.6 609.3,325.7 609.8,325.8 610.3,325.8 610.8,325.9 611.3,326.0 611.8,326.0 612.3,326.1 612.8,326.2 613.3,326.2 613.8,326.3 614.3,326.4 614.8,326.4 615.3,326.5 615.8,326.6 616.0,326.6 616.3,326.6 616.8,326.7 617.3,326.8 617.8,326.8 618.3,326.9 618.8,327.0 619.3,327.1 619.8,327.1 620.3,327.2 620.8,327.3 621.3,327.4 621.8,327.5 622.3,327.6 622.8,327.6 623.3,327.7 623.8,327.8 624.3,327.9 624.8,328.0 625.3,328.1 625.8,328.2 626.3,328.3 626.8,328.3 627.3,328.4 627.8,328.5 628.3,328.6 628.8,328.7 629.3,328.8 629.8,328.9 630.3,329.0 630.8,329.1 631.3,329.2 631.8,329.3 632.3,329.4 632.8,329.5 633.3,329.6 633.8,329.7 634.3,329.8 634.8,329.9 635.3,330.0 635.8,330.1 636.3,330.2 636.8,330.3 637.3,330.4 637.8,330.5 638.3,330.6 638.8,330.7 639.3,330.8 639.8,330.9 640.3,331.0 640.8,331.1 641.3,331.3 641.8,331.4 642.3,331.5 642.8,331.6 643.3,331.7 643.8,331.8 644.3,331.9 644.8,332.0 645.0,332.0 645.3,332.1 645.8,332.2 646.3,332.3 646.8,332.4 647.3,332.5 647.8,332.6 648.3,332.7 648.8,332.8 649.3,332.9 649.8,333.0 650.3,333.1 650.8,333.2 651.3,333.3 651.8,333.4 652.3,333.5 652.8,333.6 653.3,333.7 653.8,333.8 654.3,333.9 654.8,334.0 655.3,334.1 655.8,334.2 656.3,334.3 656.8,334.4 657.3,334.5 657.8,334.6 658.3,334.7 658.8,334.9 659.3,335.0 659.8,335.1 660.3,335.2 660.8,335.3 661.3,335.4 661.8,335.5 662.3,335.6 662.8,335.7 663.3,335.8 663.8,335.9 664.3,336.0 664.8,336.2 665.3,336.3 665.8,336.4 666.3,336.5 666.8,336.6 667.3,336.7 667.8,336.8 668.3,336.9 668.8,337.0 669.3,337.2 669.8,337.3 670.3,337.4 670.8,337.5 671.3,337.6 671.8,337.7 672.3,337.8 672.8,338.0 673.3,338.1 673.8,338.2 674.3,338.3 674.8,338.4 675.3,338.5 675.8,338.6 676.3,338.8 676.5,338.8" fill="none" stroke="#7E2F8E" stroke-width="3.2" stroke-linejoin="round" stroke-linecap="butt"/>
<path d="M170.2,527.0L170.7,521.1 171.2,515.4 171.6,511.0 171.7,509.9 172.2,504.7 172.7,499.6 173.2,494.9 173.5,492.3 173.7,490.7 174.2,487.1 174.7,483.8 175.2,480.5 175.3,479.8 175.7,477.2 176.2,474.2 176.7,471.0 177.2,467.4 177.7,463.0 178.2,458.0 178.5,455.0 178.7,452.9 179.2,447.2 179.7,442.5 180.2,439.4 180.7,437.0 181.2,434.8 181.6,433.0 181.7,432.5 182.2,430.2 182.7,427.9 183.2,426.0 183.5,425.0 183.7,424.4 184.2,423.1 184.7,421.9 185.2,420.8 185.7,419.9 186.2,419.1 186.7,418.5 187.2,418.0 187.7,417.5 188.2,417.0 188.7,416.6 189.2,416.3 189.7,415.9 190.2,415.7 190.7,415.5 191.2,415.4 191.4,415.4 191.7,415.4 192.2,415.4 192.7,415.4 193.2,415.3 193.7,415.3 194.2,415.3 194.7,415.3 195.2,415.3 195.7,415.3 196.2,415.3 196.7,415.3 197.2,415.3 197.7,415.3 198.2,415.2 198.7,415.2 199.2,415.2 199.7,415.2 200.2,415.2 200.7,415.2 201.2,415.2 201.7,415.2 202.2,415.2 202.7,415.2 203.2,415.2 203.7,415.2 204.2,415.2 204.7,415.2 205.2,415.2 205.5,415.2 205.7,415.2 206.2,415.2 206.7,415.2 207.2,415.2 207.7,415.2 208.2,415.2 208.7,415.2 209.2,415.2 209.7,415.2 210.2,415.2 210.7,415.2 211.2,415.2 211.7,415.3 212.2,415.3 212.7,415.3 213.2,415.3 213.7,415.3 214.2,415.3 214.7,415.3 215.2,415.3 215.7,415.3 216.2,415.3 216.7,415.4 217.2,415.4 217.7,415.4 218.2,415.4 218.7,415.4 219.2,415.4 219.7,415.4 220.2,415.4 220.7,415.5 221.2,415.5 221.7,415.5 222.2,415.5 222.7,415.5 223.2,415.5 223.7,415.5 224.2,415.6 224.7,415.6 225.2,415.6 225.7,415.6 226.2,415.6 226.7,415.6 227.2,415.6 227.7,415.7 228.2,415.7 228.7,415.7 229.0,415.7 229.2,415.7 229.7,415.7 230.2,415.7 230.7,415.8 231.2,415.8 231.7,415.8 232.2,415.8 232.7,415.8 233.2,415.8 233.7,415.9 234.2,415.9 234.7,415.9 235.2,415.9 235.7,415.9 236.2,415.9 236.7,416.0 237.2,416.0 237.7,416.0 238.2,416.0 238.7,416.0 239.2,416.1 239.7,416.1 240.2,416.1 240.7,416.1 241.2,416.2 241.7,416.2 242.2,416.2 242.7,416.2 243.2,416.2 243.7,416.3 244.2,416.3 244.7,416.3 245.2,416.4 245.7,416.4 246.2,416.4 246.7,416.4 247.2,416.5 247.7,416.5 248.0,416.5 248.2,416.5 248.7,416.5 249.2,416.6 249.7,416.6 250.2,416.6 250.7,416.7 251.2,416.7 251.7,416.7 252.2,416.8 252.7,416.8 253.2,416.8 253.7,416.9 254.2,416.9 254.7,416.9 255.2,417.0 255.7,417.0 256.2,417.1 256.7,417.1 257.2,417.1 257.7,417.2 258.2,417.2 258.7,417.3 259.2,417.3 259.7,417.4 260.2,417.4 260.7,417.4 261.2,417.5 261.7,417.5 262.2,417.6 262.7,417.6 263.2,417.7 263.7,417.7 264.2,417.8 264.7,417.8 265.2,417.9 265.7,417.9 266.2,418.0 266.7,418.0 267.2,418.1 267.7,418.1 268.2,418.2 268.7,418.2 269.2,418.3 269.7,418.3 270.2,418.4 270.7,418.4 271.2,418.5 271.7,418.5 272.2,418.6 272.7,418.6 273.2,418.7 273.7,418.7 274.2,418.8 274.7,418.8 275.2,418.9 275.7,418.9 276.2,419.0 276.7,419.0 277.2,419.1 277.7,419.1 278.2,419.2 278.7,419.2 279.2,419.3 279.7,419.4 280.2,419.4 280.7,419.5 281.2,419.5 281.7,419.6 282.2,419.6 282.7,419.7 283.2,419.7 283.7,419.8 284.2,419.8 284.7,419.9 285.2,419.9 285.7,420.0 286.2,420.0 286.7,420.1 287.2,420.1 287.7,420.2 288.0,420.2 288.2,420.2 288.7,420.3 289.2,420.3 289.7,420.4 290.2,420.4 290.7,420.5 291.2,420.5 291.7,420.6 292.2,420.6 292.7,420.7 293.2,420.7 293.7,420.8 294.2,420.8 294.7,420.8 295.2,420.9 295.7,420.9 296.2,421.0 296.7,421.0 297.2,421.1 297.7,421.1 298.2,421.2 298.7,421.2 299.2,421.3 299.7,421.3 300.2,421.4 300.7,421.4 301.2,421.5 301.7,421.5 302.2,421.6 302.7,421.6 303.2,421.7 303.7,421.7 304.2,421.8 304.7,421.8 305.2,421.9 305.7,421.9 306.2,422.0 306.7,422.0 307.2,422.1 307.7,422.1 308.2,422.2 308.7,422.2 309.2,422.3 309.7,422.4 310.2,422.4 310.7,422.5 311.2,422.5 311.7,422.6 312.2,422.6 312.7,422.7 313.2,422.7 313.7,422.8 314.2,422.9 314.7,422.9 315.2,423.0 315.7,423.0 316.2,423.1 316.7,423.1 317.2,423.2 317.7,423.3 318.0,423.3 318.2,423.3 318.7,423.4 319.2,423.4 319.7,423.5 320.2,423.6 320.7,423.6 321.2,423.7 321.7,423.8 322.2,423.8 322.7,423.9 323.2,424.0 323.7,424.0 324.2,424.1 324.7,424.2 325.2,424.3 325.7,424.3 326.2,424.4 326.7,424.5 327.2,424.5 327.7,424.6 328.2,424.7 328.7,424.8 329.2,424.8 329.7,424.9 330.2,425.0 330.7,425.1 331.2,425.1 331.7,425.2 332.2,425.3 332.7,425.4 333.2,425.5 333.7,425.5 334.2,425.6 334.7,425.7 335.2,425.8 335.7,425.8 336.2,425.9 336.7,426.0 337.2,426.1 337.7,426.2 338.2,426.2 338.7,426.3 339.2,426.4 339.7,426.5 340.2,426.5 340.7,426.6 341.2,426.7 341.7,426.8 342.2,426.9 342.7,426.9 343.2,427.0 343.7,427.1 344.2,427.2 344.7,427.2 345.2,427.3 345.7,427.4 346.2,427.5 346.7,427.5 347.2,427.6 347.7,427.7 348.2,427.7 348.7,427.8 349.2,427.9 349.7,428.0 350.0,428.0 350.2,428.0 350.7,428.1 351.2,428.2 351.7,428.2 352.2,428.3 352.7,428.4 353.2,428.4 353.7,428.5 354.2,428.6 354.7,428.7 355.2,428.7 355.7,428.8 356.2,428.9 356.7,428.9 357.2,429.0 357.7,429.1 358.2,429.1 358.7,429.2 359.2,429.3 359.7,429.3 360.2,429.4 360.7,429.5 361.2,429.6 361.7,429.6 362.2,429.7 362.7,429.8 363.2,429.8 363.7,429.9 364.2,430.0 364.7,430.0 365.2,430.1 365.7,430.2 366.2,430.2 366.7,430.3 367.2,430.4 367.7,430.5 368.2,430.5 368.7,430.6 369.2,430.7 369.7,430.7 370.2,430.8 370.7,430.9 371.2,430.9 371.7,431.0 372.2,431.1 372.7,431.1 373.2,431.2 373.7,431.3 374.2,431.3 374.7,431.4 375.2,431.5 375.7,431.5 376.2,431.6 376.7,431.7 377.2,431.7 377.7,431.8 378.2,431.9 378.7,431.9 379.2,432.0 379.7,432.1 380.2,432.1 380.7,432.2 381.2,432.3 381.7,432.3 382.2,432.4 382.7,432.5 383.2,432.5 383.7,432.6 384.2,432.7 384.7,432.7 385.2,432.8 385.7,432.9 386.2,432.9 386.7,433.0 387.2,433.1 387.7,433.1 388.2,433.2 388.7,433.3 389.2,433.3 389.7,433.4 390.2,433.5 390.7,433.5 391.2,433.6 391.7,433.6 392.2,433.7 392.7,433.8 393.2,433.8 393.7,433.9 394.2,434.0 394.7,434.0 395.2,434.1 395.7,434.2 396.2,434.2 396.7,434.3 397.2,434.3 397.7,434.4 398.2,434.5 398.7,434.5 399.2,434.6 399.7,434.7 400.2,434.7 400.7,434.8 401.2,434.8 401.7,434.9 402.2,435.0 402.7,435.0 403.2,435.1 403.7,435.1 404.2,435.2 404.7,435.3 405.2,435.3 405.7,435.4 406.2,435.4 406.7,435.5 407.2,435.6 407.7,435.6 408.2,435.7 408.7,435.7 409.2,435.8 409.7,435.8 410.2,435.9 410.7,436.0 411.0,436.0 411.2,436.0 411.7,436.1 412.2,436.1 412.7,436.2 413.2,436.3 413.7,436.3 414.2,436.4 414.7,436.4 415.2,436.5 415.7,436.5 416.2,436.6 416.7,436.6 417.2,436.7 417.7,436.8 418.2,436.8 418.7,436.9 419.2,436.9 419.7,437.0 420.2,437.0 420.7,437.1 421.2,437.1 421.7,437.2 422.2,437.3 422.7,437.3 423.2,437.4 423.7,437.4 424.2,437.5 424.7,437.5 425.2,437.6 425.7,437.6 426.2,437.7 426.7,437.7 427.2,437.8 427.7,437.9 428.2,437.9 428.7,438.0 429.2,438.0 429.7,438.1 430.2,438.1 430.7,438.2 431.2,438.2 431.7,438.3 432.2,438.3 432.7,438.4 433.2,438.4 433.7,438.5 434.2,438.5 434.7,438.6 435.2,438.7 435.7,438.7 436.2,438.8 436.7,438.8 437.2,438.9 437.7,438.9 438.2,439.0 438.7,439.0 439.2,439.1 439.7,439.1 440.2,439.2 440.7,439.2 441.2,439.3 441.7,439.3 442.2,439.4 442.7,439.4 443.2,439.5 443.7,439.5 444.2,439.6 444.7,439.6 445.2,439.7 445.7,439.7 446.2,439.8 446.7,439.8 447.2,439.9 447.7,439.9 448.2,440.0 448.7,440.0 449.2,440.1 449.7,440.1 450.2,440.2 450.7,440.2 451.2,440.3 451.7,440.3 452.2,440.4 452.7,440.4 453.2,440.5 453.7,440.5 454.2,440.6 454.7,440.6 455.2,440.7 455.7,440.7 456.2,440.8 456.7,440.8 457.2,440.9 457.7,440.9 458.2,441.0 458.7,441.0 459.2,441.1 459.7,441.1 460.2,441.2 460.7,441.2 461.2,441.3 461.7,441.3 462.2,441.4 462.7,441.4 463.2,441.5 463.7,441.5 464.2,441.6 464.7,441.6 465.2,441.7 465.7,441.7 466.2,441.8 466.7,441.8 467.2,441.9 467.7,441.9 468.2,441.9 468.7,442.0 469.2,442.0 469.7,442.1 470.2,442.1 470.7,442.2 471.2,442.2 471.7,442.3 472.2,442.3 472.7,442.4 473.2,442.4 473.7,442.5 474.2,442.5 474.7,442.6 475.2,442.6 475.7,442.7 476.2,442.7 476.7,442.8 477.2,442.8 477.7,442.9 478.2,442.9 478.7,443.0 479.2,443.0 479.7,443.0 480.2,443.1 480.7,443.1 481.2,443.2 481.7,443.2 482.2,443.3 482.7,443.3 483.2,443.4 483.7,443.4 484.2,443.5 484.7,443.5 485.2,443.6 485.7,443.6 486.2,443.7 486.7,443.7 487.2,443.8 487.7,443.8 488.2,443.8 488.7,443.9 489.2,443.9 489.7,444.0 490.2,444.0 490.7,444.1 491.2,444.1 491.7,444.2 492.2,444.2 492.7,444.3 493.0,444.3 493.2,444.3 493.7,444.4 494.2,444.4 494.7,444.5 495.2,444.5 495.7,444.6 496.2,444.6 496.7,444.6 497.2,444.7 497.7,444.7 498.2,444.8 498.7,444.8 499.2,444.9 499.7,444.9 500.2,445.0 500.7,445.0 501.2,445.1 501.7,445.1 502.2,445.2 502.7,445.2 503.2,445.3 503.7,445.3 504.2,445.3 504.7,445.4 505.2,445.4 505.7,445.5 506.2,445.5 506.7,445.6 507.2,445.6 507.7,445.7 508.2,445.7 508.7,445.8 509.2,445.8 509.7,445.9 510.2,445.9 510.7,446.0 511.2,446.0 511.7,446.0 512.2,446.1 512.7,446.1 513.2,446.2 513.7,446.2 514.2,446.3 514.7,446.3 515.2,446.4 515.7,446.4 516.2,446.5 516.7,446.5 517.2,446.5 517.7,446.6 518.2,446.6 518.7,446.7 519.2,446.7 519.7,446.8 520.2,446.8 520.7,446.9 521.2,446.9 521.7,447.0 522.2,447.0 522.7,447.0 523.2,447.1 523.7,447.1 524.2,447.2 524.7,447.2 525.2,447.3 525.7,447.3 526.2,447.4 526.7,447.4 527.2,447.5 527.7,447.5 528.2,447.5 528.7,447.6 529.2,447.6 529.7,447.7 530.2,447.7 530.7,447.8 531.2,447.8 531.7,447.9 532.2,447.9 532.7,447.9 533.2,448.0 533.7,448.0 534.2,448.1 534.7,448.1 535.2,448.2 535.7,448.2 536.2,448.3 536.7,448.3 537.2,448.3 537.7,448.4 538.2,448.4 538.7,448.5 539.2,448.5 539.7,448.6 540.2,448.6 540.7,448.7 541.2,448.7 541.7,448.7 542.2,448.8 542.7,448.8 543.2,448.9 543.7,448.9 544.2,449.0 544.7,449.0 545.2,449.0 545.7,449.1 546.2,449.1 546.7,449.2 547.2,449.2 547.7,449.3 548.2,449.3 548.7,449.3 549.2,449.4 549.7,449.4 550.2,449.5 550.7,449.5 551.2,449.6 551.7,449.6 552.2,449.6 552.7,449.7 553.2,449.7 553.7,449.8 554.2,449.8 554.7,449.9 555.2,449.9 555.7,449.9 556.2,450.0 556.7,450.0 557.2,450.1 557.7,450.1 558.2,450.1 558.7,450.2 559.2,450.2 559.7,450.3 560.2,450.3 560.7,450.4 561.2,450.4 561.7,450.4 562.2,450.5 562.7,450.5 563.2,450.6 563.7,450.6 564.2,450.6 564.7,450.7 565.2,450.7 565.7,450.8 566.2,450.8 566.7,450.8 567.2,450.9 567.7,450.9 568.2,451.0 568.7,451.0 569.2,451.0 569.7,451.1 570.2,451.1 570.7,451.2 571.2,451.2 571.7,451.2 572.2,451.3 572.7,451.3 573.2,451.4 573.7,451.4 574.2,451.4 574.7,451.5 575.0,451.5 575.2,451.5 575.7,451.6 576.2,451.6 576.7,451.6 577.2,451.7 577.7,451.7 578.2,451.7 578.7,451.8 579.2,451.8 579.7,451.9 580.2,451.9 580.7,451.9 581.2,452.0 581.7,452.0 582.2,452.1 582.7,452.1 583.2,452.1 583.7,452.2 584.2,452.2 584.7,452.3 585.2,452.3 585.7,452.3 586.2,452.4 586.7,452.4 587.2,452.4 587.7,452.5 588.2,452.5 588.7,452.6 589.2,452.6 589.7,452.6 590.2,452.7 590.7,452.7 591.2,452.7 591.7,452.8 592.2,452.8 592.7,452.9 593.2,452.9 593.7,452.9 594.2,453.0 594.7,453.0 595.2,453.1 595.7,453.1 596.2,453.1 596.7,453.2 597.2,453.2 597.7,453.2 598.2,453.3 598.7,453.3 599.2,453.4 599.7,453.4 600.2,453.4 600.7,453.5 601.2,453.5 601.7,453.5 602.2,453.6 602.7,453.6 603.2,453.6 603.7,453.7 604.2,453.7 604.7,453.8 605.2,453.8 605.7,453.8 606.2,453.9 606.7,453.9 607.2,453.9 607.7,454.0 608.2,454.0 608.7,454.1 609.2,454.1 609.7,454.1 610.2,454.2 610.7,454.2 611.2,454.2 611.7,454.3 612.2,454.3 612.7,454.3 613.2,454.4 613.7,454.4 614.2,454.5 614.7,454.5 615.2,454.5 615.7,454.6 616.2,454.6 616.7,454.6 617.2,454.7 617.7,454.7 618.2,454.7 618.7,454.8 619.2,454.8 619.7,454.9 620.2,454.9 620.7,454.9 621.2,455.0 621.7,455.0 622.2,455.0 622.7,455.1 623.2,455.1 623.7,455.1 624.2,455.2 624.7,455.2 625.2,455.2 625.7,455.3 626.2,455.3 626.7,455.3 627.2,455.4 627.7,455.4 628.2,455.5 628.7,455.5 629.2,455.5 629.7,455.6 630.2,455.6 630.7,455.6 631.2,455.7 631.7,455.7 632.2,455.7 632.7,455.8 633.2,455.8 633.7,455.8 634.2,455.9 634.7,455.9 635.2,455.9 635.7,456.0 636.2,456.0 636.7,456.0 637.2,456.1 637.7,456.1 638.2,456.1 638.7,456.2 639.2,456.2 639.7,456.2 640.2,456.3 640.7,456.3 641.2,456.3 641.7,456.4 642.2,456.4 642.7,456.4 643.2,456.5 643.7,456.5 644.2,456.5 644.7,456.6 645.2,456.6 645.7,456.6 646.2,456.7 646.7,456.7 647.2,456.7 647.7,456.8 648.2,456.8 648.7,456.8 649.2,456.9 649.7,456.9 650.2,456.9 650.7,457.0 651.2,457.0 651.7,457.0 652.2,457.1 652.7,457.1 653.2,457.1 653.7,457.2 654.2,457.2 654.7,457.2 655.2,457.3 655.7,457.3 656.2,457.3 656.7,457.4 657.2,457.4 657.7,457.4 658.2,457.5 658.7,457.5 659.2,457.5 659.7,457.6 660.2,457.6 660.7,457.6 661.2,457.7 661.7,457.7 662.2,457.7 662.7,457.7 663.2,457.8 663.7,457.8 664.2,457.8 664.7,457.9 665.2,457.9 665.7,457.9 666.2,458.0 666.7,458.0 667.2,458.0 667.7,458.1 668.2,458.1 668.7,458.1 669.2,458.2 669.7,458.2 670.2,458.2 670.7,458.2 671.2,458.3 671.7,458.3 672.2,458.3 672.7,458.4 673.2,458.4 673.7,458.4 674.2,458.5 674.7,458.5 675.2,458.5 675.7,458.6 676.2,458.6 676.5,458.6" fill="none" stroke="#4DBEEE" stroke-width="3.2" stroke-linejoin="round" stroke-linecap="butt"/>
<rect x="170.2" y="55.3" width="675.5" height="506.7" fill="none" stroke="#141414" stroke-width="4.4"/>
<path d="M282.8,562.0V553.0 M395.4,562.0V553.0 M508.0,562.0V553.0 M620.5,562.0V553.0 M733.1,562.0V553.0 M170.2,393.1H179.2 M170.2,224.2H179.2" stroke="#141414" stroke-width="3.4" fill="none"/>
<text transform="translate(133.63,577.28) scale(1.0300,1)" font-size="43.00" font-weight="bold" font-style="normal" fill="#111" stroke="#fff" stroke-width="0.5">0</text>
<text transform="translate(89.34,408.38) scale(1.0300,1)" font-size="43.00" font-weight="bold" font-style="normal" fill="#111" stroke="#fff" stroke-width="0.5">100</text>
<text transform="translate(89.34,239.48) scale(1.0300,1)" font-size="43.00" font-weight="bold" font-style="normal" fill="#111" stroke="#fff" stroke-width="0.5">200</text>
<text transform="translate(89.34,70.58) scale(1.0300,1)" font-size="43.00" font-weight="bold" font-style="normal" fill="#111" stroke="#fff" stroke-width="0.5">300</text>
<text transform="translate(158.94,617.72) scale(0.9200,1)" font-size="46.80" font-weight="bold" font-style="normal" fill="#111" stroke="#fff" stroke-width="0.5">0</text>
<text transform="translate(255.48,617.72) scale(0.9200,1)" font-size="46.80" font-weight="bold" font-style="normal" fill="#111" stroke="#fff" stroke-width="0.5">0.2</text>
<text transform="translate(367.53,617.72) scale(0.9200,1)" font-size="46.80" font-weight="bold" font-style="normal" fill="#111" stroke="#fff" stroke-width="0.5">0.4</text>
<text transform="translate(480.32,617.72) scale(0.9200,1)" font-size="46.80" font-weight="bold" font-style="normal" fill="#111" stroke="#fff" stroke-width="0.5">0.6</text>
<text transform="translate(593.02,617.72) scale(0.9200,1)" font-size="46.80" font-weight="bold" font-style="normal" fill="#111" stroke="#fff" stroke-width="0.5">0.8</text>
<text transform="translate(721.21,617.49) scale(0.9200,1)" font-size="46.80" font-weight="bold" font-style="normal" fill="#111" stroke="#fff" stroke-width="0.5">1</text>
<text transform="translate(70.50,504.52) rotate(-90) scale(0.9752,1)" font-size="56.06" font-weight="bold" fill="#1a1a1a">True Stress/Mpa</text>
<text transform="translate(370.08,681.34) scale(0.9738,1)" font-size="56.17" font-weight="bold" font-style="normal" fill="#222" >True Strain</text>
<text transform="translate(-2.45,50.92) scale(0.9404,1)" font-size="71.98" font-weight="bold" font-style="normal" fill="#000" >(a)</text>
<text transform="translate(705.91,208.58) scale(0.9394,1)" font-size="42.07" font-weight="bold" font-style="normal" fill="#000" stroke="#fff" stroke-width="0.5">990°C</text>
<text transform="translate(696.62,365.14) scale(0.8707,1)" font-size="45.63" font-weight="bold" font-style="normal" fill="#000" stroke="#fff" stroke-width="0.5">1080°C</text>
<text transform="translate(693.38,477.58) scale(0.9531,1)" font-size="42.22" font-weight="bold" font-style="normal" fill="#000" stroke="#fff" stroke-width="0.5">1170°C</text>
<circle cx="233" cy="481.5" r="3.2" fill="none" stroke="#0072BD" stroke-width="1.4"/>
<text transform="translate(271.44,491.70) scale(1.0354,1)" font-size="29.35" font-weight="bold" font-style="normal" fill="#000" >Predicted Stress</text>
<text transform="translate(272.45,525.65) scale(1.0734,1)" font-size="28.13" font-weight="bold" font-style="normal" fill="#000" >Experimental Stress</text>
<path d="M199.2,517.3H264.7" stroke="#D0602A" stroke-width="2.2"/>
<g fill="none" stroke="#0072BD" stroke-width="1.5">
<circle cx="1029.5" cy="440.0" r="5.0"/>
<circle cx="1035.1" cy="389.2" r="5.0"/>
<circle cx="1040.7" cy="343.5" r="5.0"/>
<circle cx="1046.3" cy="307.6" r="5.0"/>
<circle cx="1051.9" cy="276.3" r="5.0"/>
<circle cx="1057.5" cy="257.6" r="5.0"/>
<circle cx="1063.1" cy="238.2" r="5.0"/>
<circle cx="1068.7" cy="223.9" r="5.0"/>
<circle cx="1074.3" cy="209.3" r="5.0"/>
<circle cx="1079.9" cy="195.8" r="5.0"/>
<circle cx="1085.5" cy="185.5" r="5.0"/>
<circle cx="1091.1" cy="176.9" r="5.0"/>
<circle cx="1096.7" cy="168.7" r="5.0"/>
<circle cx="1102.3" cy="160.9" r="5.0"/>
<circle cx="1107.9" cy="154.5" r="5.0"/>
<circle cx="1113.5" cy="148.6" r="5.0"/>
<circle cx="1119.1" cy="142.7" r="5.0"/>
<circle cx="1124.7" cy="137.3" r="5.0"/>
<circle cx="1130.3" cy="132.6" r="5.0"/>
<circle cx="1135.9" cy="128.5" r="5.0"/>
<circle cx="1141.5" cy="124.6" r="5.0"/>
<circle cx="1147.1" cy="120.9" r="5.0"/>
<circle cx="1152.7" cy="117.2" r="5.0"/>
<circle cx="1158.3" cy="114.0" r="5.0"/>
<circle cx="1163.9" cy="111.3" r="5.0"/>
<circle cx="1169.5" cy="109.1" r="5.0"/>
<circle cx="1175.1" cy="107.1" r="5.0"/>
<circle cx="1180.7" cy="105.3" r="5.0"/>
<circle cx="1186.3" cy="103.9" r="5.0"/>
<circle cx="1191.9" cy="102.5" r="5.0"/>
<circle cx="1197.5" cy="101.2" r="5.0"/>
<circle cx="1203.1" cy="100.2" r="5.0"/>
<circle cx="1208.7" cy="99.5" r="5.0"/>
<circle cx="1214.3" cy="99.3" r="5.0"/>
<circle cx="1219.9" cy="99.1" r="5.0"/>
<circle cx="1225.5" cy="99.0" r="5.0"/>
<circle cx="1231.1" cy="99.0" r="5.0"/>
<circle cx="1236.7" cy="99.4" r="5.0"/>
<circle cx="1242.3" cy="100.3" r="5.0"/>
<circle cx="1247.9" cy="101.5" r="5.0"/>
<circle cx="1253.5" cy="102.7" r="5.0"/>
<circle cx="1259.1" cy="103.9" r="5.0"/>
<circle cx="1264.7" cy="104.9" r="5.0"/>
<circle cx="1270.3" cy="106.0" r="5.0"/>
<circle cx="1275.9" cy="107.2" r="5.0"/>
<circle cx="1281.5" cy="108.3" r="5.0"/>
<circle cx="1287.1" cy="109.5" r="5.0"/>
<circle cx="1292.7" cy="110.6" r="5.0"/>
<circle cx="1298.3" cy="111.8" r="5.0"/>
<circle cx="1303.9" cy="112.9" r="5.0"/>
<circle cx="1309.5" cy="114.0" r="5.0"/>
<circle cx="1315.1" cy="115.2" r="5.0"/>
<circle cx="1320.7" cy="116.3" r="5.0"/>
<circle cx="1326.3" cy="117.5" r="5.0"/>
<circle cx="1331.9" cy="118.7" r="5.0"/>
<circle cx="1337.5" cy="119.8" r="5.0"/>
<circle cx="1343.1" cy="120.7" r="5.0"/>
<circle cx="1348.7" cy="121.5" r="5.0"/>
<circle cx="1354.3" cy="122.2" r="5.0"/>
<circle cx="1359.9" cy="122.9" r="5.0"/>
<circle cx="1365.5" cy="123.6" r="5.0"/>
<circle cx="1371.1" cy="124.4" r="5.0"/>
<circle cx="1376.7" cy="125.2" r="5.0"/>
<circle cx="1382.3" cy="126.1" r="5.0"/>
<circle cx="1387.9" cy="127.0" r="5.0"/>
<circle cx="1393.5" cy="127.8" r="5.0"/>
<circle cx="1399.1" cy="128.7" r="5.0"/>
<circle cx="1404.7" cy="129.5" r="5.0"/>
<circle cx="1410.3" cy="130.3" r="5.0"/>
<circle cx="1415.9" cy="131.0" r="5.0"/>
<circle cx="1421.5" cy="131.5" r="5.0"/>
<circle cx="1427.1" cy="132.1" r="5.0"/>
<circle cx="1432.7" cy="132.5" r="5.0"/>
<circle cx="1438.3" cy="133.0" r="5.0"/>
<circle cx="1443.9" cy="133.4" r="5.0"/>
<circle cx="1449.5" cy="133.7" r="5.0"/>
<circle cx="1455.1" cy="134.0" r="5.0"/>
<circle cx="1460.7" cy="134.3" r="5.0"/>
<circle cx="1466.3" cy="134.6" r="5.0"/>
<circle cx="1471.9" cy="134.8" r="5.0"/>
<circle cx="1477.5" cy="135.0" r="5.0"/>
<circle cx="1483.1" cy="135.2" r="5.0"/>
<circle cx="1488.7" cy="135.5" r="5.0"/>
<circle cx="1494.3" cy="135.6" r="5.0"/>
<circle cx="1499.9" cy="135.8" r="5.0"/>
<circle cx="1505.5" cy="136.0" r="5.0"/>
<circle cx="1511.1" cy="136.2" r="5.0"/>
<circle cx="1516.7" cy="136.3" r="5.0"/>
<circle cx="1522.3" cy="136.5" r="5.0"/>
<circle cx="1527.9" cy="136.6" r="5.0"/>
<circle cx="1533.5" cy="136.7" r="5.0"/>
</g>
<g fill="none" stroke="#EDB120" stroke-width="1.5">
<circle cx="1029.8" cy="419.3" r="5.0"/>
<circle cx="1035.4" cy="389.7" r="5.0"/>
<circle cx="1041.0" cy="361.0" r="5.0"/>
<circle cx="1046.6" cy="336.9" r="5.0"/>
<circle cx="1052.2" cy="323.0" r="5.0"/>
<circle cx="1057.8" cy="313.1" r="5.0"/>
<circle cx="1063.4" cy="305.2" r="5.0"/>
<circle cx="1069.0" cy="296.7" r="5.0"/>
<circle cx="1074.6" cy="288.0" r="5.0"/>
<circle cx="1080.2" cy="281.0" r="5.0"/>
<circle cx="1085.8" cy="275.2" r="5.0"/>
<circle cx="1091.4" cy="270.2" r="5.0"/>
<circle cx="1097.0" cy="266.0" r="5.0"/>
<circle cx="1102.6" cy="262.2" r="5.0"/>
<circle cx="1108.2" cy="259.0" r="5.0"/>
<circle cx="1113.8" cy="257.2" r="5.0"/>
<circle cx="1119.4" cy="256.4" r="5.0"/>
<circle cx="1125.0" cy="255.7" r="5.0"/>
<circle cx="1130.6" cy="255.2" r="5.0"/>
<circle cx="1136.2" cy="255.0" r="5.0"/>
<circle cx="1141.8" cy="255.1" r="5.0"/>
<circle cx="1147.4" cy="255.4" r="5.0"/>
<circle cx="1153.0" cy="255.9" r="5.0"/>
<circle cx="1158.6" cy="256.3" r="5.0"/>
<circle cx="1164.2" cy="256.6" r="5.0"/>
<circle cx="1169.8" cy="256.8" r="5.0"/>
<circle cx="1175.4" cy="257.0" r="5.0"/>
<circle cx="1181.0" cy="257.2" r="5.0"/>
<circle cx="1186.6" cy="257.6" r="5.0"/>
<circle cx="1192.2" cy="258.0" r="5.0"/>
<circle cx="1197.8" cy="258.6" r="5.0"/>
<circle cx="1203.4" cy="259.4" r="5.0"/>
<circle cx="1209.0" cy="260.3" r="5.0"/>
<circle cx="1214.6" cy="261.3" r="5.0"/>
<circle cx="1220.2" cy="262.7" r="5.0"/>
<circle cx="1225.8" cy="264.6" r="5.0"/>
<circle cx="1231.4" cy="268.3" r="5.0"/>
<circle cx="1237.0" cy="271.7" r="5.0"/>
<circle cx="1242.6" cy="274.1" r="5.0"/>
<circle cx="1248.2" cy="275.0" r="5.0"/>
<circle cx="1253.8" cy="275.6" r="5.0"/>
<circle cx="1259.4" cy="276.3" r="5.0"/>
<circle cx="1265.0" cy="277.4" r="5.0"/>
<circle cx="1270.6" cy="278.6" r="5.0"/>
<circle cx="1276.2" cy="279.8" r="5.0"/>
<circle cx="1281.8" cy="281.0" r="5.0"/>
<circle cx="1287.4" cy="282.1" r="5.0"/>
<circle cx="1293.0" cy="283.2" r="5.0"/>
<circle cx="1298.6" cy="284.1" r="5.0"/>
<circle cx="1304.2" cy="284.9" r="5.0"/>
<circle cx="1309.8" cy="285.6" r="5.0"/>
<circle cx="1315.4" cy="286.4" r="5.0"/>
<circle cx="1321.0" cy="287.1" r="5.0"/>
<circle cx="1326.6" cy="287.8" r="5.0"/>
<circle cx="1332.2" cy="288.6" r="5.0"/>
<circle cx="1337.8" cy="289.3" r="5.0"/>
<circle cx="1343.4" cy="290.1" r="5.0"/>
<circle cx="1349.0" cy="290.8" r="5.0"/>
<circle cx="1354.6" cy="291.4" r="5.0"/>
<circle cx="1360.2" cy="292.0" r="5.0"/>
<circle cx="1365.8" cy="292.6" r="5.0"/>
<circle cx="1371.4" cy="293.1" r="5.0"/>
<circle cx="1377.0" cy="293.7" r="5.0"/>
<circle cx="1382.6" cy="294.2" r="5.0"/>
<circle cx="1388.2" cy="294.8" r="5.0"/>
<circle cx="1393.8" cy="295.4" r="5.0"/>
<circle cx="1399.4" cy="295.9" r="5.0"/>
<circle cx="1405.0" cy="296.3" r="5.0"/>
<circle cx="1410.6" cy="296.7" r="5.0"/>
<circle cx="1416.2" cy="297.1" r="5.0"/>
<circle cx="1421.8" cy="297.5" r="5.0"/>
<circle cx="1427.4" cy="297.9" r="5.0"/>
<circle cx="1433.0" cy="298.2" r="5.0"/>
<circle cx="1438.6" cy="298.5" r="5.0"/>
<circle cx="1444.2" cy="298.8" r="5.0"/>
<circle cx="1449.8" cy="299.0" r="5.0"/>
<circle cx="1455.4" cy="299.1" r="5.0"/>
<circle cx="1461.0" cy="299.2" r="5.0"/>
<circle cx="1466.6" cy="299.2" r="5.0"/>
<circle cx="1472.2" cy="299.2" r="5.0"/>
<circle cx="1477.8" cy="299.2" r="5.0"/>
<circle cx="1483.4" cy="299.2" r="5.0"/>
<circle cx="1489.0" cy="299.2" r="5.0"/>
<circle cx="1494.6" cy="299.2" r="5.0"/>
<circle cx="1500.2" cy="299.2" r="5.0"/>
<circle cx="1505.8" cy="299.2" r="5.0"/>
<circle cx="1511.4" cy="299.2" r="5.0"/>
<circle cx="1517.0" cy="299.2" r="5.0"/>
<circle cx="1522.6" cy="299.2" r="5.0"/>
<circle cx="1528.2" cy="299.2" r="5.0"/>
<circle cx="1533.8" cy="299.2" r="5.0"/>
</g>
<g fill="none" stroke="#77AC30" stroke-width="1.5">
<circle cx="1029.8" cy="451.4" r="5.0"/>
<circle cx="1035.4" cy="422.5" r="5.0"/>
<circle cx="1041.0" cy="407.5" r="5.0"/>
<circle cx="1046.6" cy="399.2" r="5.0"/>
<circle cx="1052.2" cy="392.6" r="5.0"/>
<circle cx="1057.8" cy="388.4" r="5.0"/>
<circle cx="1063.4" cy="385.8" r="5.0"/>
<circle cx="1069.0" cy="383.8" r="5.0"/>
<circle cx="1074.6" cy="382.2" r="5.0"/>
<circle cx="1080.2" cy="381.0" r="5.0"/>
<circle cx="1085.8" cy="379.9" r="5.0"/>
<circle cx="1091.4" cy="378.9" r="5.0"/>
<circle cx="1097.0" cy="378.1" r="5.0"/>
<circle cx="1102.6" cy="377.7" r="5.0"/>
<circle cx="1108.2" cy="377.7" r="5.0"/>
<circle cx="1113.8" cy="378.0" r="5.0"/>
<circle cx="1119.4" cy="378.6" r="5.0"/>
<circle cx="1125.0" cy="379.4" r="5.0"/>
<circle cx="1130.6" cy="380.2" r="5.0"/>
<circle cx="1136.2" cy="381.0" r="5.0"/>
<circle cx="1141.8" cy="381.8" r="5.0"/>
<circle cx="1147.4" cy="382.8" r="5.0"/>
<circle cx="1153.0" cy="383.7" r="5.0"/>
<circle cx="1158.6" cy="384.8" r="5.0"/>
<circle cx="1164.2" cy="385.8" r="5.0"/>
<circle cx="1169.8" cy="386.9" r="5.0"/>
<circle cx="1175.4" cy="388.0" r="5.0"/>
<circle cx="1181.0" cy="389.1" r="5.0"/>
<circle cx="1186.6" cy="390.2" r="5.0"/>
<circle cx="1192.2" cy="391.3" r="5.0"/>
<circle cx="1197.8" cy="392.5" r="5.0"/>
<circle cx="1203.4" cy="393.6" r="5.0"/>
<circle cx="1209.0" cy="394.8" r="5.0"/>
<circle cx="1214.6" cy="396.0" r="5.0"/>
<circle cx="1220.2" cy="397.2" r="5.0"/>
<circle cx="1225.8" cy="398.3" r="5.0"/>
<circle cx="1231.4" cy="399.4" r="5.0"/>
<circle cx="1237.0" cy="400.5" r="5.0"/>
<circle cx="1242.6" cy="401.5" r="5.0"/>
<circle cx="1248.2" cy="402.5" r="5.0"/>
<circle cx="1253.8" cy="403.4" r="5.0"/>
<circle cx="1259.4" cy="404.3" r="5.0"/>
<circle cx="1265.0" cy="405.2" r="5.0"/>
<circle cx="1270.6" cy="406.1" r="5.0"/>
<circle cx="1276.2" cy="407.0" r="5.0"/>
<circle cx="1281.8" cy="407.8" r="5.0"/>
<circle cx="1287.4" cy="408.6" r="5.0"/>
<circle cx="1293.0" cy="409.3" r="5.0"/>
<circle cx="1298.6" cy="410.1" r="5.0"/>
<circle cx="1304.2" cy="410.8" r="5.0"/>
<circle cx="1309.8" cy="411.5" r="5.0"/>
<circle cx="1315.4" cy="412.1" r="5.0"/>
<circle cx="1321.0" cy="412.8" r="5.0"/>
<circle cx="1326.6" cy="413.4" r="5.0"/>
<circle cx="1332.2" cy="414.0" r="5.0"/>
<circle cx="1337.8" cy="414.6" r="5.0"/>
<circle cx="1343.4" cy="415.2" r="5.0"/>
<circle cx="1349.0" cy="415.8" r="5.0"/>
<circle cx="1354.6" cy="416.3" r="5.0"/>
<circle cx="1360.2" cy="416.7" r="5.0"/>
<circle cx="1365.8" cy="417.2" r="5.0"/>
<circle cx="1371.4" cy="417.5" r="5.0"/>
<circle cx="1377.0" cy="417.9" r="5.0"/>
<circle cx="1382.6" cy="418.2" r="5.0"/>
<circle cx="1388.2" cy="418.6" r="5.0"/>
<circle cx="1393.8" cy="418.9" r="5.0"/>
<circle cx="1399.4" cy="419.2" r="5.0"/>
<circle cx="1405.0" cy="419.5" r="5.0"/>
<circle cx="1410.6" cy="419.8" r="5.0"/>
<circle cx="1416.2" cy="420.0" r="5.0"/>
<circle cx="1421.8" cy="420.2" r="5.0"/>
<circle cx="1427.4" cy="420.4" r="5.0"/>
<circle cx="1433.0" cy="420.5" r="5.0"/>
<circle cx="1438.6" cy="420.7" r="5.0"/>
<circle cx="1444.2" cy="420.8" r="5.0"/>
<circle cx="1449.8" cy="420.9" r="5.0"/>
<circle cx="1455.4" cy="421.1" r="5.0"/>
<circle cx="1461.0" cy="421.2" r="5.0"/>
<circle cx="1466.6" cy="421.3" r="5.0"/>
<circle cx="1472.2" cy="421.4" r="5.0"/>
<circle cx="1477.8" cy="421.5" r="5.0"/>
<circle cx="1483.4" cy="421.6" r="5.0"/>
<circle cx="1489.0" cy="421.7" r="5.0"/>
<circle cx="1494.6" cy="421.8" r="5.0"/>
<circle cx="1500.2" cy="421.9" r="5.0"/>
<circle cx="1505.8" cy="421.9" r="5.0"/>
<circle cx="1511.4" cy="422.0" r="5.0"/>
<circle cx="1517.0" cy="422.0" r="5.0"/>
<circle cx="1522.6" cy="422.1" r="5.0"/>
<circle cx="1528.2" cy="422.1" r="5.0"/>
<circle cx="1533.8" cy="422.1" r="5.0"/>
</g>
<path d="M1028.9,548.0L1029.4,536.8 1029.9,526.8 1030.0,525.0 1030.4,518.2 1030.9,510.6 1031.4,503.4 1031.9,496.4 1032.0,495.0 1032.4,489.4 1032.9,482.4 1033.4,475.6 1033.9,469.0 1034.4,462.5 1034.9,456.2 1035.0,455.0 1035.4,450.1 1035.9,444.0 1036.4,438.1 1036.9,432.2 1037.4,426.6 1037.9,421.1 1038.4,415.9 1038.9,410.9 1039.0,410.0 1039.4,406.3 1039.9,401.8 1040.4,397.4 1040.9,393.2 1041.4,389.2 1041.9,385.2 1042.4,381.4 1042.9,377.7 1043.4,374.1 1043.9,370.7 1044.0,370.0 1044.4,367.3 1044.9,364.0 1045.4,360.7 1045.9,357.4 1046.4,354.3 1046.9,351.2 1047.4,348.3 1047.9,345.4 1048.4,342.7 1048.9,340.1 1049.4,337.7 1049.9,335.4 1050.0,335.0 1050.4,333.3 1050.9,331.3 1051.4,329.4 1051.9,327.5 1052.4,325.8 1052.9,324.1 1053.4,322.4 1053.9,320.8 1054.4,319.3 1054.9,317.7 1055.4,316.2 1055.9,314.7 1056.4,313.2 1056.9,311.7 1057.4,310.2 1057.5,309.9 1057.9,308.7 1058.4,307.2 1058.9,305.6 1059.4,304.2 1059.9,302.7 1060.4,301.2 1060.9,299.8 1061.4,298.3 1061.9,296.9 1062.4,295.5 1062.9,294.1 1063.4,292.7 1063.9,291.3 1064.4,290.0 1064.9,288.6 1065.4,287.3 1065.9,286.0 1066.4,284.7 1066.9,283.4 1067.4,282.2 1067.9,280.9 1068.4,279.7 1068.9,278.5 1069.4,277.3 1069.9,276.1 1070.4,274.9 1070.9,273.7 1071.4,272.6 1071.9,271.4 1072.4,270.2 1072.9,269.0 1073.4,267.8 1073.9,266.6 1074.3,265.6 1074.4,265.4 1074.9,264.1 1075.4,262.9 1075.9,261.6 1076.4,260.3 1076.9,259.0 1077.4,257.7 1077.9,256.5 1078.4,255.2 1078.9,253.9 1079.4,252.6 1079.9,251.3 1080.4,250.1 1080.9,248.8 1081.4,247.6 1081.9,246.4 1082.4,245.2 1082.9,244.0 1083.4,242.8 1083.9,241.7 1084.4,240.6 1084.9,239.5 1085.4,238.4 1085.9,237.4 1086.4,236.3 1086.9,235.3 1087.4,234.3 1087.9,233.3 1088.4,232.3 1088.9,231.3 1089.4,230.3 1089.9,229.4 1090.4,228.4 1090.9,227.4 1091.4,226.5 1091.9,225.5 1092.4,224.5 1092.9,223.6 1093.4,222.6 1093.9,221.6 1094.4,220.7 1094.9,219.7 1095.4,218.7 1095.9,217.7 1096.4,216.7 1096.9,215.7 1097.4,214.6 1097.9,213.6 1098.4,212.6 1098.9,211.5 1099.4,210.4 1099.9,209.4 1100.4,208.3 1100.9,207.3 1101.4,206.2 1101.9,205.2 1102.4,204.1 1102.9,203.1 1103.4,202.1 1103.9,201.1 1104.4,200.1 1104.9,199.1 1105.4,198.1 1105.9,197.2 1106.4,196.3 1106.9,195.4 1107.4,194.5 1107.8,193.8 1107.9,193.6 1108.4,192.8 1108.9,192.0 1109.4,191.2 1109.9,190.3 1110.4,189.6 1110.9,188.8 1111.4,188.0 1111.9,187.2 1112.4,186.5 1112.9,185.7 1113.4,185.0 1113.9,184.3 1114.4,183.5 1114.9,182.8 1115.4,182.1 1115.9,181.4 1116.4,180.7 1116.9,180.0 1117.4,179.4 1117.9,178.7 1118.4,178.0 1118.9,177.4 1119.4,176.7 1119.9,176.0 1120.4,175.4 1120.9,174.7 1121.0,174.6 1121.4,174.1 1121.9,173.4 1122.4,172.8 1122.9,172.2 1123.4,171.5 1123.9,170.9 1124.4,170.3 1124.9,169.7 1125.4,169.1 1125.9,168.4 1126.4,167.8 1126.9,167.2 1127.4,166.6 1127.9,166.1 1128.4,165.5 1128.9,164.9 1129.4,164.3 1129.9,163.7 1130.4,163.2 1130.9,162.6 1131.4,162.1 1131.9,161.5 1132.4,161.0 1132.9,160.4 1133.4,159.9 1133.9,159.4 1134.4,158.8 1134.9,158.3 1135.4,157.8 1135.9,157.3 1136.4,156.8 1136.9,156.3 1137.4,155.8 1137.9,155.3 1138.4,154.8 1138.9,154.3 1139.4,153.8 1139.9,153.3 1140.4,152.8 1140.9,152.3 1141.4,151.9 1141.9,151.4 1142.4,150.9 1142.9,150.4 1143.4,150.0 1143.9,149.5 1144.4,149.1 1144.9,148.7 1145.4,148.2 1145.9,147.8 1146.4,147.4 1146.9,147.0 1147.4,146.5 1147.9,146.1 1148.4,145.8 1148.9,145.4 1149.4,145.0 1149.8,144.7 1149.9,144.6 1150.4,144.3 1150.9,143.9 1151.4,143.5 1151.9,143.2 1152.4,142.8 1152.9,142.5 1153.4,142.2 1153.9,141.8 1154.4,141.5 1154.9,141.2 1155.4,140.8 1155.9,140.5 1156.4,140.2 1156.9,139.9 1157.4,139.6 1157.9,139.3 1158.4,139.0 1158.9,138.7 1159.4,138.4 1159.9,138.1 1160.4,137.8 1160.9,137.5 1161.4,137.2 1161.9,136.9 1162.4,136.6 1162.9,136.4 1163.4,136.1 1163.9,135.8 1164.4,135.6 1164.9,135.3 1165.4,135.0 1165.9,134.8 1166.4,134.5 1166.9,134.3 1167.4,134.0 1167.7,133.9 1167.9,133.8 1168.4,133.6 1168.9,133.3 1169.4,133.1 1169.9,132.9 1170.4,132.6 1170.9,132.4 1171.4,132.2 1171.9,131.9 1172.4,131.7 1172.9,131.5 1173.4,131.3 1173.9,131.1 1174.4,130.8 1174.9,130.6 1175.4,130.4 1175.9,130.2 1176.4,130.0 1176.9,129.8 1177.4,129.6 1177.9,129.4 1178.4,129.2 1178.9,129.0 1179.4,128.8 1179.9,128.6 1180.4,128.5 1180.9,128.3 1181.4,128.1 1181.9,127.9 1182.4,127.7 1182.9,127.6 1183.4,127.4 1183.9,127.3 1184.4,127.1 1184.9,126.9 1185.4,126.8 1185.7,126.7 1185.9,126.6 1186.4,126.5 1186.9,126.3 1187.4,126.2 1187.9,126.0 1188.4,125.9 1188.9,125.8 1189.4,125.6 1189.9,125.5 1190.4,125.3 1190.9,125.2 1191.4,125.0 1191.9,124.9 1192.4,124.8 1192.9,124.6 1193.4,124.5 1193.9,124.4 1194.4,124.2 1194.9,124.1 1195.4,124.0 1195.9,123.9 1196.4,123.7 1196.9,123.6 1197.4,123.5 1197.9,123.4 1198.4,123.3 1198.9,123.2 1199.4,123.1 1199.9,123.0 1200.4,122.9 1200.9,122.9 1201.4,122.8 1201.9,122.7 1202.4,122.6 1202.9,122.6 1203.4,122.5 1203.7,122.5 1203.9,122.5 1204.4,122.4 1204.9,122.4 1205.4,122.3 1205.9,122.3 1206.4,122.3 1206.9,122.2 1207.4,122.2 1207.9,122.2 1208.4,122.1 1208.9,122.1 1209.4,122.0 1209.9,122.0 1210.4,122.0 1210.9,122.0 1211.4,121.9 1211.9,121.9 1212.4,121.9 1212.9,121.8 1213.4,121.8 1213.9,121.8 1214.4,121.8 1214.9,121.7 1215.4,121.7 1215.9,121.7 1216.4,121.7 1216.9,121.6 1217.4,121.6 1217.9,121.6 1218.4,121.6 1218.9,121.6 1219.4,121.5 1219.9,121.5 1220.4,121.5 1220.9,121.5 1221.4,121.4 1221.9,121.4 1222.4,121.4 1222.9,121.4 1223.4,121.4 1223.9,121.3 1224.4,121.3 1224.9,121.3 1225.4,121.3 1225.9,121.2 1226.4,121.2 1226.9,121.2 1227.4,121.2 1227.9,121.1 1228.4,121.1 1228.9,121.1 1229.4,121.0 1229.9,121.0 1230.0,121.0 1230.4,121.0 1230.9,120.9 1231.4,120.9 1231.9,120.9 1232.4,120.8 1232.9,120.8 1233.4,120.8 1233.9,120.7 1234.4,120.7 1234.9,120.7 1235.4,120.7 1235.9,120.6 1236.4,120.6 1236.9,120.6 1237.4,120.5 1237.9,120.5 1238.4,120.5 1238.9,120.4 1239.4,120.4 1239.9,120.4 1240.4,120.3 1240.9,120.3 1241.4,120.3 1241.9,120.2 1242.4,120.2 1242.9,120.2 1243.4,120.1 1243.9,120.1 1244.4,120.1 1244.9,120.0 1245.4,120.0 1245.9,119.9 1246.4,119.9 1246.9,119.9 1247.4,119.8 1247.9,119.8 1248.4,119.8 1248.9,119.7 1249.4,119.7 1249.9,119.7 1250.4,119.6 1250.9,119.6 1251.4,119.6 1251.9,119.5 1252.4,119.5 1252.9,119.4 1253.4,119.4 1253.9,119.4 1254.4,119.3 1254.9,119.3 1255.4,119.3 1255.9,119.2 1256.4,119.2 1256.9,119.2 1257.4,119.1 1257.9,119.1 1258.4,119.0 1258.9,119.0 1259.4,119.0 1259.9,118.9 1260.4,118.9 1260.9,118.8 1261.4,118.8 1261.9,118.8 1262.4,118.7 1262.9,118.7 1263.4,118.6 1263.9,118.6 1264.4,118.6 1264.9,118.5 1265.4,118.5 1265.9,118.4 1266.4,118.4 1266.9,118.4 1267.4,118.3 1267.9,118.3 1268.4,118.2 1268.9,118.2 1269.4,118.1 1269.9,118.1 1270.4,118.1 1270.9,118.0 1271.4,118.0 1271.9,117.9 1272.4,117.9 1272.9,117.8 1273.4,117.8 1273.9,117.7 1274.4,117.7 1274.9,117.7 1275.4,117.6 1275.5,117.6 1275.9,117.6 1276.4,117.5 1276.9,117.5 1277.4,117.4 1277.9,117.4 1278.4,117.3 1278.9,117.3 1279.4,117.2 1279.9,117.2 1280.4,117.1 1280.9,117.1 1281.4,117.0 1281.9,117.0 1282.4,116.9 1282.9,116.9 1283.4,116.8 1283.9,116.8 1284.4,116.7 1284.9,116.7 1285.4,116.6 1285.9,116.5 1286.4,116.5 1286.9,116.4 1287.4,116.4 1287.9,116.3 1288.4,116.3 1288.9,116.2 1289.4,116.2 1289.9,116.1 1290.4,116.0 1290.9,116.0 1291.4,115.9 1291.9,115.9 1292.4,115.8 1292.9,115.7 1293.4,115.7 1293.9,115.6 1294.4,115.6 1294.9,115.5 1295.4,115.4 1295.9,115.4 1296.4,115.3 1296.9,115.3 1297.4,115.2 1297.9,115.1 1298.4,115.1 1298.9,115.0 1299.4,114.9 1299.9,114.9 1300.4,114.8 1300.9,114.8 1301.4,114.7 1301.9,114.6 1302.4,114.6 1302.9,114.5 1303.4,114.4 1303.9,114.4 1304.4,114.3 1304.9,114.2 1305.4,114.2 1305.9,114.1 1306.4,114.0 1306.9,114.0 1307.4,113.9 1307.9,113.8 1308.4,113.8 1308.9,113.7 1309.4,113.6 1309.9,113.6 1310.4,113.5 1310.9,113.4 1311.4,113.4 1311.9,113.3 1312.4,113.2 1312.9,113.2 1313.4,113.1 1313.9,113.0 1314.4,113.0 1314.9,112.9 1315.4,112.8 1315.9,112.8 1316.4,112.7 1316.9,112.6 1317.4,112.6 1317.9,112.5 1318.4,112.4 1318.9,112.4 1319.4,112.3 1319.9,112.2 1320.4,112.2 1320.9,112.1 1321.4,112.0 1321.9,112.0 1322.4,111.9 1322.9,111.8 1323.4,111.8 1323.9,111.7 1324.4,111.6 1324.9,111.6 1325.4,111.5 1325.9,111.4 1326.4,111.4 1326.9,111.3 1327.4,111.2 1327.9,111.2 1328.4,111.1 1328.9,111.0 1329.4,110.9 1329.9,110.9 1330.4,110.8 1330.9,110.7 1331.4,110.7 1331.9,110.6 1332.4,110.5 1332.9,110.5 1333.4,110.4 1333.9,110.3 1334.4,110.3 1334.9,110.2 1335.4,110.2 1335.9,110.1 1336.4,110.0 1336.9,110.0 1337.4,109.9 1337.9,109.8 1338.1,109.8 1338.4,109.8 1338.9,109.7 1339.4,109.6 1339.9,109.6 1340.4,109.5 1340.9,109.4 1341.4,109.3 1341.9,109.3 1342.4,109.2 1342.9,109.1 1343.4,109.0 1343.9,109.0 1344.4,108.9 1344.9,108.8 1345.4,108.7 1345.9,108.6 1346.4,108.5 1346.9,108.5 1347.4,108.4 1347.9,108.3 1348.4,108.2 1348.9,108.1 1349.4,108.0 1349.9,107.9 1350.4,107.9 1350.9,107.8 1351.4,107.7 1351.9,107.6 1352.4,107.5 1352.9,107.4 1353.4,107.3 1353.9,107.2 1354.4,107.1 1354.9,107.1 1355.4,107.0 1355.9,106.9 1356.4,106.8 1356.9,106.7 1357.4,106.6 1357.9,106.5 1358.4,106.4 1358.9,106.3 1359.4,106.3 1359.9,106.2 1360.4,106.1 1360.9,106.0 1361.4,105.9 1361.9,105.8 1362.4,105.7 1362.9,105.7 1363.4,105.6 1363.9,105.5 1364.4,105.4 1364.9,105.3 1365.4,105.3 1365.9,105.2 1366.4,105.1 1366.9,105.0 1367.4,105.0 1367.9,104.9 1368.4,104.8 1368.9,104.7 1369.4,104.7 1369.9,104.6 1370.4,104.5 1370.9,104.5 1371.4,104.4 1371.9,104.4 1372.4,104.3 1372.9,104.2 1373.4,104.2 1373.9,104.1 1374.4,104.1 1374.9,104.0 1375.4,104.0 1375.9,103.9 1376.4,103.9 1376.9,103.8 1377.4,103.8 1377.9,103.8 1378.4,103.7 1378.9,103.7 1379.4,103.7 1379.9,103.6 1380.4,103.6 1380.9,103.6 1381.4,103.6 1381.9,103.6 1382.4,103.5 1382.9,103.5 1383.4,103.5 1383.9,103.5 1384.4,103.5 1384.9,103.5 1385.0,103.5 1385.4,103.5 1385.9,103.5 1386.4,103.5 1386.9,103.5 1387.4,103.5 1387.9,103.5 1388.4,103.5 1388.9,103.5 1389.4,103.5 1389.9,103.5 1390.4,103.5 1390.9,103.5 1391.4,103.5 1391.9,103.5 1392.4,103.5 1392.9,103.6 1393.4,103.6 1393.9,103.6 1394.4,103.6 1394.9,103.6 1395.4,103.6 1395.9,103.6 1396.4,103.6 1396.9,103.6 1397.4,103.6 1397.9,103.6 1398.4,103.7 1398.9,103.7 1399.4,103.7 1399.9,103.7 1400.4,103.7 1400.9,103.7 1401.4,103.7 1401.9,103.7 1402.4,103.8 1402.9,103.8 1403.4,103.8 1403.9,103.8 1404.4,103.8 1404.9,103.8 1405.4,103.8 1405.9,103.9 1406.4,103.9 1406.9,103.9 1407.4,103.9 1407.9,103.9 1408.4,103.9 1408.9,104.0 1409.4,104.0 1409.9,104.0 1410.4,104.0 1410.9,104.0 1411.4,104.1 1411.9,104.1 1412.4,104.1 1412.9,104.1 1413.4,104.1 1413.9,104.2 1414.4,104.2 1414.9,104.2 1415.4,104.2 1415.9,104.3 1416.4,104.3 1416.9,104.3 1417.4,104.3 1417.9,104.3 1418.4,104.4 1418.9,104.4 1419.4,104.4 1419.9,104.4 1420.4,104.5 1420.9,104.5 1421.4,104.5 1421.9,104.5 1422.4,104.6 1422.9,104.6 1423.4,104.6 1423.9,104.6 1424.4,104.7 1424.9,104.7 1425.4,104.7 1425.9,104.8 1426.4,104.8 1426.9,104.8 1427.4,104.8 1427.9,104.9 1428.4,104.9 1428.9,104.9 1429.4,104.9 1429.9,105.0 1430.4,105.0 1430.9,105.0 1431.4,105.1 1431.9,105.1 1432.0,105.1 1432.4,105.1 1432.9,105.2 1433.4,105.2 1433.9,105.2 1434.4,105.3 1434.9,105.3 1435.4,105.4 1435.9,105.4 1436.4,105.5 1436.9,105.5 1437.4,105.6 1437.9,105.6 1438.4,105.7 1438.9,105.8 1439.4,105.8 1439.9,105.9 1440.4,106.0 1440.9,106.1 1441.4,106.1 1441.9,106.2 1442.4,106.3 1442.9,106.4 1443.4,106.5 1443.9,106.6 1444.4,106.7 1444.9,106.7 1445.4,106.8 1445.9,106.9 1446.4,107.0 1446.9,107.1 1447.4,107.2 1447.9,107.3 1448.4,107.5 1448.9,107.6 1449.4,107.7 1449.9,107.8 1450.4,107.9 1450.9,108.0 1451.4,108.1 1451.9,108.2 1452.4,108.4 1452.9,108.5 1453.4,108.6 1453.9,108.7 1454.4,108.9 1454.9,109.0 1455.4,109.1 1455.9,109.2 1456.4,109.4 1456.9,109.5 1457.4,109.6 1457.9,109.8 1458.4,109.9 1458.9,110.0 1459.4,110.2 1459.9,110.3 1460.4,110.5 1460.9,110.6 1461.4,110.7 1461.9,110.9 1462.4,111.0 1462.9,111.2 1463.4,111.3 1463.9,111.5 1464.4,111.6 1464.9,111.8 1465.4,111.9 1465.9,112.0 1466.4,112.2 1466.9,112.3 1467.4,112.5 1467.9,112.6 1468.4,112.8 1468.9,112.9 1469.4,113.1 1469.9,113.2 1470.4,113.4 1470.9,113.5 1471.4,113.7 1471.9,113.8 1472.4,114.0 1472.9,114.2 1473.4,114.3 1473.9,114.5 1474.4,114.6 1474.9,114.8 1475.4,114.9 1475.9,115.1 1476.4,115.2 1476.9,115.4 1477.4,115.5 1477.9,115.7 1478.4,115.8 1478.9,116.0 1479.0,116.0 1479.4,116.1 1479.9,116.3 1480.4,116.4 1480.9,116.6 1481.4,116.8 1481.9,116.9 1482.4,117.1 1482.9,117.3 1483.4,117.4 1483.9,117.6 1484.4,117.8 1484.9,118.0 1485.4,118.2 1485.9,118.4 1486.4,118.6 1486.9,118.7 1487.4,118.9 1487.9,119.1 1488.4,119.3 1488.9,119.5 1489.4,119.7 1489.9,120.0 1490.4,120.2 1490.9,120.4 1491.4,120.6 1491.9,120.8 1492.4,121.0 1492.9,121.2 1493.4,121.4 1493.9,121.6 1494.4,121.9 1494.9,122.1 1495.4,122.3 1495.9,122.5 1496.4,122.7 1496.9,122.9 1497.4,123.2 1497.9,123.4 1498.4,123.6 1498.9,123.8 1499.4,124.0 1499.9,124.2 1500.4,124.5 1500.9,124.7 1501.4,124.9 1501.9,125.1 1502.4,125.3 1502.9,125.6 1503.4,125.8 1503.9,126.0 1504.4,126.2 1504.9,126.4 1505.4,126.6 1505.9,126.8 1506.4,127.0 1506.9,127.2 1507.4,127.4 1507.9,127.6 1508.4,127.9 1508.9,128.1 1509.4,128.2 1509.9,128.4 1510.3,128.6 1510.4,128.6 1510.9,128.8 1511.4,129.0 1511.9,129.2 1512.4,129.4 1512.9,129.6 1513.4,129.8 1513.9,130.0 1514.4,130.2 1514.9,130.4 1515.4,130.6 1515.9,130.7 1516.4,130.9 1516.9,131.1 1517.4,131.3 1517.9,131.5 1518.4,131.7 1518.9,131.9 1519.4,132.1 1519.9,132.3 1520.4,132.4 1520.9,132.6 1521.4,132.8 1521.9,133.0 1522.4,133.2 1522.9,133.4 1523.4,133.6 1523.9,133.8 1524.4,133.9 1524.9,134.1 1525.4,134.3 1525.9,134.5 1526.4,134.7 1526.9,134.9 1527.4,135.1 1527.9,135.2 1528.4,135.4 1528.9,135.6 1529.4,135.8 1529.9,136.0 1530.4,136.2 1530.9,136.3 1531.4,136.5 1531.9,136.7 1532.4,136.9 1532.9,137.1 1533.4,137.2 1533.9,137.4 1534.4,137.6 1534.9,137.8 1535.4,138.0 1535.5,138.0" fill="none" stroke="#E2531C" stroke-width="3.2" stroke-linejoin="round" stroke-linecap="butt"/>
<path d="M1028.9,548.0L1029.4,529.9 1029.9,513.1 1030.0,510.0 1030.4,497.2 1030.9,481.9 1031.4,470.7 1031.9,463.2 1032.4,456.7 1032.9,451.0 1033.4,446.0 1033.9,441.5 1034.4,437.3 1034.9,433.3 1035.4,429.3 1035.9,425.2 1036.2,422.5 1036.4,420.7 1036.9,416.1 1037.4,411.4 1037.9,406.9 1038.4,402.4 1038.9,398.0 1039.4,393.9 1039.9,390.0 1040.4,386.3 1040.9,383.0 1041.0,382.4 1041.4,380.0 1041.9,377.2 1042.4,374.5 1042.9,371.9 1043.4,369.4 1043.9,367.1 1044.4,364.8 1044.9,362.6 1045.4,360.5 1045.9,358.4 1046.4,356.3 1046.9,354.3 1047.4,352.3 1047.5,351.9 1047.9,350.3 1048.4,348.3 1048.9,346.2 1049.4,344.2 1049.9,342.2 1050.4,340.3 1050.9,338.4 1051.4,336.7 1051.9,335.0 1052.4,333.4 1052.9,331.9 1053.4,330.6 1053.9,329.5 1054.4,328.5 1054.9,327.5 1055.4,326.5 1055.9,325.6 1056.4,324.7 1056.9,323.9 1057.4,323.1 1057.9,322.3 1058.4,321.6 1058.9,320.9 1059.4,320.2 1059.9,319.5 1060.4,318.9 1060.9,318.2 1061.4,317.6 1061.9,317.0 1062.4,316.5 1062.9,315.9 1063.4,315.3 1063.9,314.8 1064.4,314.3 1064.9,313.7 1065.1,313.5 1065.4,313.2 1065.9,312.7 1066.4,312.1 1066.9,311.6 1067.4,311.1 1067.9,310.7 1068.4,310.2 1068.9,309.7 1069.4,309.3 1069.9,308.8 1070.4,308.4 1070.9,307.9 1071.4,307.5 1071.9,307.1 1072.4,306.7 1072.9,306.2 1073.4,305.8 1073.9,305.4 1074.4,305.0 1074.9,304.7 1075.4,304.3 1075.9,303.9 1076.4,303.5 1076.9,303.1 1077.4,302.8 1077.9,302.4 1078.4,302.0 1078.9,301.6 1079.4,301.3 1079.9,300.9 1080.4,300.6 1080.9,300.2 1081.4,299.8 1081.9,299.5 1082.4,299.1 1082.9,298.7 1083.4,298.4 1083.9,298.0 1084.4,297.6 1084.9,297.3 1085.4,296.9 1085.9,296.5 1086.4,296.2 1086.9,295.8 1087.4,295.5 1087.9,295.1 1088.4,294.8 1088.9,294.4 1089.4,294.1 1089.9,293.7 1090.4,293.4 1090.9,293.0 1091.4,292.7 1091.9,292.3 1092.4,292.0 1092.9,291.7 1093.4,291.3 1093.9,291.0 1094.4,290.7 1094.9,290.3 1095.4,290.0 1095.9,289.7 1096.4,289.4 1096.9,289.1 1097.4,288.7 1097.9,288.4 1098.4,288.1 1098.9,287.8 1099.4,287.5 1099.9,287.2 1100.4,286.9 1100.9,286.6 1101.4,286.3 1101.9,286.0 1102.4,285.7 1102.9,285.4 1103.4,285.1 1103.9,284.8 1104.4,284.5 1104.9,284.2 1105.4,283.9 1105.9,283.6 1106.4,283.3 1106.9,283.0 1107.4,282.7 1107.9,282.4 1108.4,282.1 1108.9,281.8 1109.4,281.5 1109.9,281.3 1110.4,281.0 1110.9,280.7 1111.4,280.4 1111.9,280.1 1112.4,279.8 1112.9,279.5 1113.4,279.2 1113.9,279.0 1114.4,278.7 1114.9,278.4 1115.4,278.2 1115.9,277.9 1116.4,277.6 1116.9,277.4 1117.4,277.1 1117.9,276.9 1118.4,276.6 1118.9,276.4 1119.4,276.1 1119.9,275.9 1120.4,275.7 1120.9,275.4 1121.4,275.2 1121.9,275.0 1122.4,274.8 1122.9,274.6 1123.4,274.4 1123.9,274.2 1124.4,274.0 1124.9,273.8 1125.4,273.6 1125.8,273.5 1125.9,273.5 1126.4,273.3 1126.9,273.1 1127.4,273.0 1127.9,272.8 1128.4,272.6 1128.9,272.4 1129.4,272.3 1129.9,272.1 1130.4,271.9 1130.9,271.8 1131.4,271.6 1131.9,271.4 1132.4,271.3 1132.9,271.1 1133.4,270.9 1133.9,270.8 1134.4,270.6 1134.9,270.4 1135.4,270.3 1135.9,270.1 1136.4,270.0 1136.9,269.8 1137.4,269.7 1137.9,269.5 1138.4,269.4 1138.9,269.3 1139.4,269.1 1139.9,269.0 1140.4,268.9 1140.9,268.8 1141.4,268.7 1141.9,268.5 1142.4,268.4 1142.9,268.3 1143.4,268.2 1143.9,268.1 1144.4,268.1 1144.9,268.0 1145.4,267.9 1145.9,267.8 1146.4,267.8 1146.9,267.7 1147.4,267.7 1147.9,267.6 1148.4,267.6 1148.9,267.5 1149.4,267.5 1149.8,267.5 1149.9,267.5 1150.4,267.5 1150.9,267.5 1151.4,267.5 1151.9,267.4 1152.4,267.4 1152.9,267.4 1153.4,267.4 1153.9,267.4 1154.4,267.4 1154.9,267.4 1155.4,267.3 1155.9,267.3 1156.4,267.3 1156.9,267.3 1157.4,267.3 1157.9,267.3 1158.4,267.3 1158.9,267.3 1159.4,267.2 1159.9,267.2 1160.4,267.2 1160.9,267.2 1161.4,267.2 1161.9,267.2 1162.4,267.2 1162.9,267.2 1163.4,267.2 1163.9,267.1 1164.4,267.1 1164.9,267.1 1165.4,267.1 1165.9,267.1 1166.4,267.1 1166.9,267.1 1167.4,267.1 1167.9,267.1 1168.4,267.1 1168.9,267.1 1169.4,267.0 1169.9,267.0 1170.4,267.0 1170.9,267.0 1171.4,267.0 1171.9,267.0 1172.4,267.0 1172.9,267.0 1173.4,267.0 1173.9,267.0 1174.4,267.0 1174.9,267.0 1175.4,267.0 1175.9,267.0 1176.4,267.0 1176.9,267.0 1177.4,267.0 1177.9,266.9 1178.4,266.9 1178.9,266.9 1179.4,266.9 1179.9,266.9 1180.4,266.9 1180.9,266.9 1181.4,266.9 1181.9,266.9 1182.4,266.9 1182.9,266.9 1183.4,266.9 1183.9,266.9 1184.4,266.9 1184.9,266.9 1185.4,266.9 1185.9,266.9 1186.4,266.9 1186.9,266.9 1187.4,266.9 1187.9,266.9 1188.4,266.9 1188.9,266.9 1189.3,266.9 1189.4,266.9 1189.9,266.9 1190.4,266.9 1190.9,266.9 1191.4,266.9 1191.9,266.9 1192.4,266.9 1192.9,267.0 1193.4,267.0 1193.9,267.0 1194.4,267.0 1194.9,267.0 1195.4,267.0 1195.9,267.1 1196.4,267.1 1196.9,267.1 1197.4,267.1 1197.9,267.2 1198.4,267.2 1198.9,267.2 1199.4,267.3 1199.9,267.3 1200.4,267.3 1200.9,267.4 1201.4,267.4 1201.9,267.4 1202.4,267.5 1202.9,267.5 1203.4,267.5 1203.9,267.6 1204.4,267.6 1204.9,267.7 1205.4,267.7 1205.9,267.7 1206.4,267.8 1206.9,267.8 1207.4,267.9 1207.9,267.9 1208.4,267.9 1208.9,268.0 1209.4,268.0 1209.9,268.1 1210.4,268.1 1210.9,268.1 1211.4,268.2 1211.9,268.2 1212.4,268.3 1212.9,268.3 1213.4,268.3 1213.9,268.4 1214.4,268.4 1214.9,268.5 1215.4,268.5 1215.9,268.5 1216.4,268.6 1216.9,268.6 1217.4,268.6 1217.9,268.7 1218.4,268.7 1218.5,268.7 1218.9,268.7 1219.4,268.8 1219.9,268.8 1220.4,268.8 1220.9,268.9 1221.4,268.9 1221.9,268.9 1222.4,269.0 1222.9,269.0 1223.4,269.1 1223.9,269.1 1224.4,269.1 1224.9,269.2 1225.4,269.2 1225.9,269.3 1226.4,269.3 1226.9,269.3 1227.4,269.4 1227.9,269.4 1228.4,269.5 1228.9,269.5 1229.4,269.5 1229.9,269.6 1230.4,269.6 1230.9,269.6 1231.4,269.6 1231.9,269.7 1232.4,269.7 1232.9,269.7 1233.4,269.7 1233.9,269.8 1234.4,269.8 1234.9,269.8 1235.4,269.8 1235.9,269.8 1236.0,269.8 1236.4,269.8 1236.9,269.8 1237.4,269.8 1237.9,269.8 1238.4,269.8 1238.9,269.8 1239.4,269.8 1239.9,269.8 1240.4,269.8 1240.9,269.8 1241.4,269.8 1241.9,269.8 1242.4,269.8 1242.9,269.8 1243.4,269.8 1243.9,269.8 1244.4,269.8 1244.9,269.8 1245.4,269.9 1245.9,269.9 1246.4,269.9 1246.9,269.9 1247.4,269.9 1247.9,269.9 1248.4,269.9 1248.9,269.9 1249.4,269.9 1249.9,269.9 1250.4,269.9 1250.9,269.9 1251.4,269.9 1251.9,269.9 1252.4,269.9 1252.9,269.9 1253.4,269.9 1253.9,269.9 1254.4,269.9 1254.9,269.9 1255.4,269.9 1255.9,269.9 1256.4,269.9 1256.9,269.9 1257.4,269.9 1257.9,269.9 1258.4,269.9 1258.9,269.9 1259.4,269.9 1259.5,269.9 1259.9,269.9 1260.4,269.9 1260.9,269.9 1261.4,269.9 1261.9,269.9 1262.4,269.9 1262.9,269.9 1263.4,269.9 1263.9,269.9 1264.4,269.9 1264.9,269.9 1265.4,269.9 1265.9,269.9 1266.4,269.9 1266.9,269.9 1267.4,269.9 1267.9,269.9 1268.4,270.0 1268.9,270.0 1269.4,270.0 1269.9,270.0 1270.4,270.0 1270.9,270.0 1271.4,270.0 1271.9,270.0 1272.4,270.0 1272.9,270.0 1273.4,270.0 1273.9,270.0 1274.4,270.0 1274.9,270.0 1275.4,270.0 1275.9,270.0 1276.4,270.0 1276.9,270.0 1277.4,270.0 1277.9,270.0 1278.4,270.0 1278.9,270.0 1279.4,270.0 1279.9,270.0 1280.4,270.0 1280.9,270.0 1281.4,270.0 1281.9,270.1 1282.4,270.1 1282.9,270.1 1283.4,270.1 1283.9,270.1 1284.4,270.1 1284.9,270.1 1285.4,270.1 1285.9,270.1 1286.4,270.1 1286.8,270.1 1286.9,270.1 1287.4,270.1 1287.9,270.1 1288.4,270.1 1288.9,270.1 1289.4,270.1 1289.9,270.1 1290.4,270.1 1290.9,270.2 1291.4,270.2 1291.9,270.2 1292.4,270.2 1292.9,270.2 1293.4,270.2 1293.9,270.2 1294.4,270.2 1294.9,270.2 1295.4,270.2 1295.9,270.3 1296.4,270.3 1296.9,270.3 1297.4,270.3 1297.9,270.3 1298.4,270.3 1298.9,270.3 1299.4,270.3 1299.9,270.4 1300.4,270.4 1300.9,270.4 1301.4,270.4 1301.9,270.4 1302.4,270.4 1302.9,270.4 1303.4,270.5 1303.9,270.5 1304.4,270.5 1304.9,270.5 1305.4,270.5 1305.9,270.5 1306.4,270.5 1306.9,270.6 1307.4,270.6 1307.9,270.6 1308.4,270.6 1308.9,270.6 1309.4,270.6 1309.9,270.7 1310.4,270.7 1310.9,270.7 1311.4,270.7 1311.9,270.7 1312.4,270.7 1312.9,270.7 1313.4,270.8 1313.9,270.8 1314.4,270.8 1314.9,270.8 1315.4,270.8 1315.9,270.8 1316.4,270.8 1316.9,270.8 1317.4,270.9 1317.9,270.9 1318.4,270.9 1318.9,270.9 1319.4,270.9 1319.9,270.9 1320.4,270.9 1320.9,270.9 1321.4,271.0 1321.9,271.0 1322.4,271.0 1322.9,271.0 1323.4,271.0 1323.9,271.0 1324.4,271.0 1324.9,271.0 1325.4,271.0 1325.9,271.0 1326.4,271.0 1326.9,271.1 1327.4,271.1 1327.9,271.1 1328.4,271.1 1328.9,271.1 1329.4,271.1 1329.9,271.1 1330.4,271.1 1330.9,271.1 1331.4,271.1 1331.9,271.1 1332.4,271.1 1332.9,271.1 1333.4,271.1 1333.6,271.1 1333.9,271.1 1334.4,271.1 1334.9,271.1 1335.4,271.1 1335.9,271.1 1336.4,271.1 1336.9,271.1 1337.4,271.1 1337.9,271.1 1338.4,271.1 1338.9,271.1 1339.4,271.1 1339.9,271.1 1340.4,271.1 1340.9,271.1 1341.4,271.1 1341.9,271.1 1342.4,271.1 1342.9,271.1 1343.4,271.1 1343.9,271.0 1344.4,271.0 1344.9,271.0 1345.4,271.0 1345.9,271.0 1346.4,271.0 1346.9,271.0 1347.4,271.0 1347.9,271.0 1348.4,271.0 1348.9,271.0 1349.4,271.0 1349.9,271.0 1350.4,271.0 1350.9,271.0 1351.4,271.0 1351.9,270.9 1352.4,270.9 1352.9,270.9 1353.4,270.9 1353.9,270.9 1354.4,270.9 1354.9,270.9 1355.4,270.9 1355.9,270.9 1356.4,270.9 1356.9,270.9 1357.4,270.9 1357.9,270.8 1358.4,270.8 1358.9,270.8 1359.4,270.8 1359.9,270.8 1360.4,270.8 1360.9,270.8 1361.4,270.8 1361.9,270.8 1362.4,270.8 1362.9,270.8 1363.4,270.7 1363.9,270.7 1364.4,270.7 1364.9,270.7 1365.4,270.7 1365.9,270.7 1366.4,270.7 1366.9,270.7 1367.4,270.7 1367.9,270.7 1368.4,270.7 1368.9,270.6 1369.4,270.6 1369.9,270.6 1370.4,270.6 1370.9,270.6 1371.1,270.6 1371.4,270.6 1371.9,270.6 1372.4,270.6 1372.9,270.6 1373.4,270.6 1373.9,270.5 1374.4,270.5 1374.9,270.5 1375.4,270.5 1375.9,270.5 1376.4,270.5 1376.9,270.5 1377.4,270.5 1377.9,270.5 1378.4,270.4 1378.9,270.4 1379.4,270.4 1379.9,270.4 1380.4,270.4 1380.9,270.4 1381.4,270.4 1381.9,270.3 1382.4,270.3 1382.9,270.3 1383.4,270.3 1383.9,270.3 1384.4,270.3 1384.9,270.3 1385.4,270.2 1385.9,270.2 1386.4,270.2 1386.9,270.2 1387.4,270.2 1387.9,270.2 1388.4,270.1 1388.9,270.1 1389.4,270.1 1389.9,270.1 1390.4,270.1 1390.9,270.1 1391.4,270.0 1391.9,270.0 1392.4,270.0 1392.9,270.0 1393.4,270.0 1393.9,269.9 1394.4,269.9 1394.9,269.9 1395.4,269.9 1395.9,269.9 1396.4,269.8 1396.9,269.8 1397.4,269.8 1397.9,269.8 1398.4,269.7 1398.9,269.7 1399.2,269.7 1399.4,269.7 1399.9,269.7 1400.4,269.6 1400.9,269.6 1401.4,269.6 1401.9,269.5 1402.4,269.5 1402.9,269.5 1403.4,269.4 1403.9,269.4 1404.4,269.3 1404.9,269.3 1405.4,269.3 1405.9,269.2 1406.4,269.2 1406.9,269.1 1407.4,269.1 1407.9,269.0 1408.4,268.9 1408.9,268.9 1409.4,268.8 1409.9,268.8 1410.4,268.7 1410.9,268.7 1411.4,268.6 1411.9,268.5 1412.4,268.5 1412.9,268.4 1413.4,268.4 1413.9,268.3 1414.4,268.2 1414.9,268.2 1415.4,268.1 1415.9,268.0 1416.4,268.0 1416.9,267.9 1417.4,267.9 1417.9,267.8 1418.4,267.7 1418.9,267.7 1419.4,267.6 1419.9,267.5 1420.4,267.5 1420.9,267.4 1421.4,267.4 1421.9,267.3 1422.4,267.2 1422.9,267.2 1423.4,267.1 1423.9,267.1 1424.4,267.0 1424.9,267.0 1425.4,266.9 1425.9,266.8 1426.4,266.8 1426.9,266.7 1427.4,266.7 1427.9,266.6 1428.4,266.6 1428.9,266.5 1429.4,266.5 1429.9,266.5 1430.4,266.4 1430.9,266.4 1431.4,266.3 1431.9,266.3 1432.0,266.3 1432.4,266.3 1432.9,266.2 1433.4,266.2 1433.9,266.2 1434.4,266.1 1434.9,266.1 1435.4,266.1 1435.9,266.0 1436.4,266.0 1436.9,266.0 1437.4,265.9 1437.9,265.9 1438.4,265.9 1438.9,265.8 1439.4,265.8 1439.9,265.7 1440.4,265.7 1440.9,265.7 1441.4,265.6 1441.9,265.6 1442.4,265.6 1442.9,265.5 1443.4,265.5 1443.9,265.5 1444.4,265.4 1444.9,265.4 1445.4,265.4 1445.9,265.3 1446.4,265.3 1446.9,265.3 1447.4,265.2 1447.9,265.2 1448.4,265.2 1448.9,265.1 1449.4,265.1 1449.9,265.0 1450.4,265.0 1450.9,265.0 1451.4,264.9 1451.9,264.9 1452.4,264.9 1452.9,264.8 1453.4,264.8 1453.9,264.8 1454.4,264.8 1454.9,264.7 1455.4,264.7 1455.9,264.7 1456.4,264.6 1456.9,264.6 1457.4,264.6 1457.9,264.5 1458.4,264.5 1458.9,264.5 1459.4,264.4 1459.9,264.4 1460.4,264.4 1460.9,264.3 1461.4,264.3 1461.9,264.3 1462.4,264.3 1462.9,264.2 1463.4,264.2 1463.9,264.2 1464.4,264.1 1464.9,264.1 1465.4,264.1 1465.9,264.1 1466.4,264.0 1466.9,264.0 1467.4,264.0 1467.9,264.0 1468.4,263.9 1468.9,263.9 1469.4,263.9 1469.9,263.9 1470.4,263.8 1470.9,263.8 1471.4,263.8 1471.9,263.8 1472.4,263.7 1472.9,263.7 1473.4,263.7 1473.9,263.7 1474.4,263.7 1474.9,263.6 1475.4,263.6 1475.9,263.6 1476.4,263.6 1476.9,263.6 1477.4,263.5 1477.9,263.5 1478.4,263.5 1478.9,263.5 1479.4,263.5 1479.9,263.4 1480.4,263.4 1480.9,263.4 1481.4,263.4 1481.9,263.4 1482.4,263.4 1482.9,263.4 1483.4,263.3 1483.9,263.3 1484.4,263.3 1484.9,263.3 1485.4,263.3 1485.9,263.3 1486.4,263.3 1486.9,263.3 1487.4,263.3 1487.9,263.3 1488.4,263.2 1488.9,263.2 1489.4,263.2 1489.9,263.2 1490.4,263.2 1490.9,263.2 1491.4,263.2 1491.9,263.2 1492.4,263.2 1492.9,263.2 1493.4,263.2 1493.9,263.2 1494.4,263.2 1494.6,263.2 1494.9,263.2 1495.4,263.2 1495.9,263.2 1496.4,263.2 1496.9,263.2 1497.4,263.2 1497.9,263.2 1498.4,263.2 1498.9,263.2 1499.4,263.3 1499.9,263.3 1500.4,263.3 1500.9,263.3 1501.4,263.3 1501.9,263.3 1502.4,263.3 1502.9,263.4 1503.4,263.4 1503.9,263.4 1504.4,263.4 1504.9,263.4 1505.4,263.5 1505.9,263.5 1506.4,263.5 1506.9,263.5 1507.4,263.6 1507.9,263.6 1508.4,263.6 1508.9,263.7 1509.4,263.7 1509.9,263.7 1510.4,263.8 1510.9,263.8 1511.4,263.8 1511.9,263.9 1512.4,263.9 1512.9,263.9 1513.4,264.0 1513.9,264.0 1514.4,264.1 1514.9,264.1 1515.4,264.1 1515.9,264.2 1516.4,264.2 1516.9,264.3 1517.4,264.3 1517.9,264.4 1518.4,264.4 1518.9,264.4 1519.4,264.5 1519.9,264.5 1520.4,264.6 1520.9,264.6 1521.4,264.7 1521.9,264.7 1522.4,264.8 1522.9,264.8 1523.4,264.9 1523.9,264.9 1524.4,265.0 1524.9,265.1 1525.4,265.1 1525.9,265.2 1526.4,265.2 1526.9,265.3 1527.4,265.3 1527.9,265.4 1528.4,265.4 1528.9,265.5 1529.4,265.6 1529.9,265.6 1530.4,265.7 1530.9,265.7 1531.4,265.8 1531.9,265.9 1532.4,265.9 1532.9,266.0 1533.4,266.0 1533.9,266.1 1534.4,266.2 1534.9,266.2 1535.4,266.3 1535.5,266.3" fill="none" stroke="#7E2F8E" stroke-width="3.2" stroke-linejoin="round" stroke-linecap="butt"/>
<path d="M1028.9,552.0L1029.4,551.7 1029.8,550.9 1029.9,548.9 1030.4,512.4 1030.6,502.7 1030.9,497.0 1031.4,488.9 1031.9,482.6 1032.4,477.5 1032.9,473.5 1033.4,470.1 1033.9,467.0 1034.4,463.9 1034.6,462.6 1034.9,460.6 1035.4,457.4 1035.9,454.3 1036.4,451.4 1036.9,448.7 1037.4,446.2 1037.9,443.9 1038.4,441.8 1038.9,440.1 1039.4,438.6 1039.9,437.3 1040.4,436.1 1040.9,435.0 1041.4,434.0 1041.9,433.1 1042.4,432.2 1042.9,431.4 1043.4,430.6 1043.9,429.9 1044.4,429.2 1044.9,428.5 1045.4,427.9 1045.9,427.3 1046.4,426.7 1046.9,426.1 1047.4,425.6 1047.9,425.0 1048.4,424.4 1048.9,423.9 1049.4,423.4 1049.9,422.9 1050.4,422.4 1050.9,421.9 1051.4,421.4 1051.9,421.0 1052.4,420.6 1052.9,420.1 1053.4,419.8 1053.9,419.4 1054.4,419.1 1054.9,418.8 1055.4,418.5 1055.9,418.2 1056.4,418.0 1056.9,417.8 1057.1,417.7 1057.4,417.6 1057.9,417.4 1058.4,417.3 1058.9,417.1 1059.4,416.9 1059.9,416.8 1060.4,416.6 1060.9,416.5 1061.4,416.4 1061.9,416.2 1062.4,416.1 1062.9,416.0 1063.4,415.8 1063.9,415.7 1064.4,415.6 1064.9,415.5 1065.4,415.4 1065.9,415.3 1066.4,415.2 1066.9,415.1 1067.4,415.0 1067.9,414.9 1068.4,414.8 1068.9,414.7 1069.4,414.6 1069.9,414.5 1070.4,414.4 1070.9,414.4 1071.4,414.3 1071.9,414.2 1072.4,414.1 1072.9,414.0 1073.4,414.0 1073.9,413.9 1074.4,413.8 1074.9,413.8 1075.4,413.7 1075.9,413.6 1076.4,413.5 1076.9,413.5 1077.4,413.4 1077.9,413.3 1078.4,413.3 1078.9,413.2 1079.4,413.1 1079.9,413.1 1080.4,413.0 1080.9,412.9 1081.2,412.9 1081.4,412.9 1081.9,412.8 1082.4,412.7 1082.9,412.7 1083.4,412.6 1083.9,412.5 1084.4,412.5 1084.9,412.4 1085.4,412.4 1085.9,412.3 1086.4,412.2 1086.9,412.2 1087.4,412.1 1087.9,412.1 1088.4,412.0 1088.9,412.0 1089.4,411.9 1089.9,411.8 1090.4,411.8 1090.9,411.7 1091.4,411.7 1091.9,411.6 1092.4,411.6 1092.9,411.5 1093.4,411.5 1093.9,411.4 1094.4,411.4 1094.9,411.3 1095.4,411.3 1095.9,411.2 1096.4,411.2 1096.9,411.1 1097.4,411.1 1097.9,411.0 1098.4,411.0 1098.9,410.9 1099.4,410.9 1099.9,410.9 1100.4,410.8 1100.9,410.8 1101.4,410.7 1101.9,410.7 1102.4,410.6 1102.9,410.6 1103.4,410.5 1103.9,410.5 1104.4,410.5 1104.9,410.4 1105.4,410.4 1105.9,410.3 1106.4,410.3 1106.9,410.2 1107.4,410.2 1107.9,410.2 1108.4,410.1 1108.9,410.1 1109.4,410.0 1109.9,410.0 1110.4,409.9 1110.9,409.9 1111.4,409.9 1111.9,409.8 1112.4,409.8 1112.9,409.7 1113.2,409.7 1113.4,409.7 1113.9,409.6 1114.4,409.6 1114.9,409.5 1115.4,409.5 1115.9,409.5 1116.4,409.4 1116.9,409.4 1117.4,409.3 1117.9,409.3 1118.4,409.2 1118.9,409.2 1119.4,409.1 1119.9,409.1 1120.4,409.0 1120.9,409.0 1121.4,408.9 1121.9,408.9 1122.4,408.8 1122.9,408.8 1123.4,408.7 1123.9,408.7 1124.4,408.6 1124.9,408.6 1125.4,408.5 1125.9,408.5 1126.4,408.4 1126.9,408.4 1127.4,408.3 1127.9,408.3 1128.4,408.2 1128.9,408.2 1129.4,408.1 1129.9,408.1 1130.4,408.0 1130.9,408.0 1131.4,408.0 1131.9,407.9 1132.4,407.9 1132.9,407.8 1133.4,407.8 1133.9,407.8 1134.4,407.7 1134.9,407.7 1135.4,407.7 1135.9,407.6 1136.4,407.6 1136.9,407.6 1137.4,407.5 1137.9,407.5 1138.4,407.5 1138.9,407.4 1139.4,407.4 1139.9,407.4 1140.4,407.4 1140.9,407.4 1141.4,407.4 1141.9,407.3 1142.4,407.3 1142.9,407.3 1143.4,407.3 1143.9,407.3 1144.4,407.3 1144.9,407.3 1145.0,407.3 1145.4,407.3 1145.9,407.3 1146.4,407.3 1146.9,407.3 1147.4,407.3 1147.9,407.3 1148.4,407.3 1148.9,407.3 1149.4,407.4 1149.9,407.4 1150.4,407.4 1150.9,407.4 1151.4,407.4 1151.9,407.4 1152.4,407.4 1152.9,407.5 1153.4,407.5 1153.9,407.5 1154.4,407.5 1154.9,407.5 1155.4,407.6 1155.9,407.6 1156.4,407.6 1156.9,407.6 1157.4,407.7 1157.9,407.7 1158.4,407.7 1158.9,407.8 1159.4,407.8 1159.9,407.8 1160.4,407.8 1160.9,407.9 1161.4,407.9 1161.9,407.9 1162.4,408.0 1162.9,408.0 1163.4,408.1 1163.9,408.1 1164.4,408.1 1164.9,408.2 1165.4,408.2 1165.9,408.2 1166.4,408.3 1166.9,408.3 1167.4,408.4 1167.9,408.4 1168.4,408.4 1168.9,408.5 1169.4,408.5 1169.9,408.6 1170.4,408.6 1170.9,408.7 1171.4,408.7 1171.9,408.7 1172.4,408.8 1172.9,408.8 1173.4,408.9 1173.9,408.9 1174.4,409.0 1174.9,409.0 1175.4,409.0 1175.9,409.1 1176.4,409.1 1176.9,409.2 1177.4,409.2 1177.9,409.3 1178.4,409.3 1178.9,409.4 1179.4,409.4 1179.9,409.5 1180.4,409.5 1180.9,409.5 1181.4,409.6 1181.5,409.6 1181.9,409.6 1182.4,409.7 1182.9,409.7 1183.4,409.8 1183.9,409.8 1184.4,409.9 1184.9,409.9 1185.4,410.0 1185.9,410.1 1186.4,410.1 1186.9,410.2 1187.4,410.3 1187.9,410.3 1188.4,410.4 1188.9,410.5 1189.4,410.5 1189.9,410.6 1190.4,410.7 1190.9,410.7 1191.4,410.8 1191.9,410.9 1192.4,411.0 1192.9,411.1 1193.4,411.1 1193.9,411.2 1194.4,411.3 1194.9,411.4 1195.4,411.5 1195.9,411.6 1196.4,411.6 1196.9,411.7 1197.4,411.8 1197.9,411.9 1198.4,412.0 1198.9,412.1 1199.4,412.2 1199.9,412.3 1200.4,412.4 1200.9,412.5 1201.4,412.6 1201.9,412.6 1202.4,412.7 1202.9,412.8 1203.4,412.9 1203.9,413.0 1204.4,413.1 1204.9,413.2 1205.4,413.3 1205.9,413.4 1206.4,413.5 1206.9,413.6 1207.4,413.7 1207.9,413.8 1208.4,413.9 1208.9,414.0 1209.4,414.1 1209.9,414.2 1210.4,414.3 1210.9,414.4 1211.4,414.5 1211.9,414.6 1212.4,414.7 1212.9,414.8 1213.4,414.9 1213.9,415.0 1214.4,415.1 1214.9,415.1 1215.4,415.2 1215.9,415.3 1216.4,415.4 1216.9,415.5 1217.4,415.6 1217.9,415.7 1218.4,415.8 1218.9,415.9 1219.4,416.0 1219.9,416.1 1220.4,416.1 1220.9,416.2 1221.4,416.3 1221.9,416.4 1222.4,416.5 1222.9,416.6 1223.4,416.6 1223.9,416.7 1224.4,416.8 1224.9,416.9 1225.4,417.0 1225.9,417.0 1226.4,417.1 1226.9,417.2 1227.4,417.2 1227.9,417.3 1228.4,417.4 1228.5,417.4 1228.9,417.5 1229.4,417.5 1229.9,417.6 1230.4,417.7 1230.9,417.7 1231.4,417.8 1231.9,417.9 1232.4,417.9 1232.9,418.0 1233.4,418.1 1233.9,418.2 1234.4,418.2 1234.9,418.3 1235.4,418.4 1235.9,418.5 1236.4,418.5 1236.9,418.6 1237.4,418.7 1237.9,418.8 1238.4,418.8 1238.9,418.9 1239.4,419.0 1239.9,419.1 1240.4,419.1 1240.9,419.2 1241.4,419.3 1241.9,419.4 1242.4,419.4 1242.9,419.5 1243.4,419.6 1243.9,419.7 1244.4,419.7 1244.9,419.8 1245.4,419.9 1245.9,420.0 1246.4,420.0 1246.9,420.1 1247.4,420.2 1247.9,420.3 1248.4,420.3 1248.9,420.4 1249.4,420.5 1249.9,420.5 1250.4,420.6 1250.9,420.7 1251.4,420.8 1251.9,420.8 1252.4,420.9 1252.9,421.0 1253.4,421.0 1253.9,421.1 1254.4,421.2 1254.9,421.2 1255.4,421.3 1255.9,421.3 1256.4,421.4 1256.9,421.5 1257.4,421.5 1257.9,421.6 1258.4,421.6 1258.9,421.7 1259.4,421.7 1259.9,421.8 1260.4,421.9 1260.9,421.9 1261.4,422.0 1261.9,422.0 1262.4,422.0 1262.9,422.1 1263.4,422.1 1263.9,422.2 1264.4,422.2 1264.9,422.3 1265.4,422.3 1265.9,422.3 1266.4,422.4 1266.9,422.4 1267.4,422.4 1267.9,422.5 1268.4,422.5 1268.9,422.5 1269.4,422.5 1269.9,422.6 1270.4,422.6 1270.9,422.6 1271.4,422.6 1271.9,422.6 1272.4,422.7 1272.9,422.7 1273.4,422.7 1273.9,422.7 1274.4,422.7 1274.9,422.7 1275.4,422.7 1275.5,422.7 1275.9,422.7 1276.4,422.7 1276.9,422.7 1277.4,422.7 1277.9,422.7 1278.4,422.7 1278.9,422.7 1279.4,422.7 1279.9,422.7 1280.4,422.7 1280.9,422.7 1281.4,422.7 1281.9,422.7 1282.4,422.7 1282.9,422.7 1283.4,422.7 1283.9,422.7 1284.4,422.7 1284.9,422.7 1285.4,422.7 1285.9,422.7 1286.4,422.7 1286.9,422.6 1287.4,422.6 1287.9,422.6 1288.4,422.6 1288.9,422.6 1289.4,422.6 1289.9,422.6 1290.4,422.6 1290.9,422.6 1291.4,422.6 1291.9,422.6 1292.4,422.6 1292.9,422.6 1293.4,422.6 1293.9,422.6 1294.4,422.6 1294.9,422.6 1295.4,422.6 1295.9,422.6 1296.4,422.5 1296.9,422.5 1297.4,422.5 1297.9,422.5 1298.4,422.5 1298.9,422.5 1299.4,422.5 1299.9,422.5 1300.4,422.5 1300.9,422.5 1301.4,422.5 1301.9,422.5 1302.4,422.5 1302.9,422.5 1303.4,422.4 1303.9,422.4 1304.4,422.4 1304.9,422.4 1305.4,422.4 1305.9,422.4 1306.4,422.4 1306.9,422.4 1307.4,422.4 1307.9,422.4 1308.4,422.4 1308.9,422.4 1309.4,422.4 1309.9,422.4 1310.4,422.3 1310.9,422.3 1311.4,422.3 1311.9,422.3 1312.4,422.3 1312.9,422.3 1313.4,422.3 1313.9,422.3 1314.4,422.3 1314.9,422.3 1315.4,422.3 1315.9,422.3 1316.4,422.3 1316.9,422.3 1317.4,422.3 1317.9,422.2 1318.4,422.2 1318.9,422.2 1319.4,422.2 1319.9,422.2 1320.4,422.2 1320.9,422.2 1321.4,422.2 1321.9,422.2 1322.4,422.2 1322.9,422.2 1323.4,422.2 1323.9,422.2 1324.4,422.2 1324.9,422.2 1325.4,422.2 1325.9,422.2 1326.4,422.2 1326.9,422.2 1327.4,422.1 1327.9,422.1 1328.4,422.1 1328.9,422.1 1329.4,422.1 1329.9,422.1 1330.4,422.1 1330.9,422.1 1331.4,422.1 1331.9,422.1 1332.4,422.1 1332.9,422.1 1333.4,422.1 1333.9,422.1 1334.4,422.1 1334.9,422.1 1335.4,422.1 1335.9,422.1 1336.4,422.1 1336.9,422.1 1337.4,422.1 1337.9,422.1 1338.1,422.1 1338.4,422.1 1338.9,422.1 1339.4,422.1 1339.9,422.1 1340.4,422.1 1340.9,422.1 1341.4,422.1 1341.9,422.1 1342.4,422.1 1342.9,422.1 1343.4,422.1 1343.9,422.1 1344.4,422.1 1344.9,422.1 1345.4,422.1 1345.9,422.1 1346.4,422.1 1346.9,422.1 1347.4,422.1 1347.9,422.2 1348.4,422.2 1348.9,422.2 1349.4,422.2 1349.9,422.2 1350.4,422.2 1350.9,422.2 1351.4,422.2 1351.9,422.2 1352.4,422.2 1352.9,422.2 1353.4,422.2 1353.9,422.2 1354.4,422.2 1354.9,422.2 1355.4,422.3 1355.9,422.3 1356.4,422.3 1356.9,422.3 1357.4,422.3 1357.9,422.3 1358.4,422.3 1358.9,422.3 1359.4,422.3 1359.9,422.3 1360.4,422.3 1360.9,422.4 1361.4,422.4 1361.9,422.4 1362.4,422.4 1362.9,422.4 1363.4,422.4 1363.9,422.4 1364.4,422.4 1364.9,422.5 1365.4,422.5 1365.9,422.5 1366.4,422.5 1366.9,422.5 1367.4,422.5 1367.9,422.5 1368.4,422.5 1368.9,422.6 1369.4,422.6 1369.9,422.6 1370.4,422.6 1370.9,422.6 1371.4,422.6 1371.9,422.6 1372.4,422.7 1372.9,422.7 1373.4,422.7 1373.9,422.7 1374.4,422.7 1374.9,422.7 1375.4,422.7 1375.9,422.8 1376.4,422.8 1376.9,422.8 1377.4,422.8 1377.9,422.8 1378.4,422.8 1378.9,422.9 1379.4,422.9 1379.9,422.9 1380.4,422.9 1380.9,422.9 1381.4,422.9 1381.9,423.0 1382.4,423.0 1382.9,423.0 1383.4,423.0 1383.9,423.0 1384.4,423.1 1384.9,423.1 1385.4,423.1 1385.9,423.1 1386.4,423.1 1386.9,423.1 1387.4,423.2 1387.9,423.2 1388.4,423.2 1388.9,423.2 1389.4,423.2 1389.9,423.3 1390.4,423.3 1390.9,423.3 1391.4,423.3 1391.9,423.3 1392.4,423.4 1392.9,423.4 1393.4,423.4 1393.9,423.4 1394.4,423.4 1394.9,423.5 1395.4,423.5 1395.9,423.5 1396.4,423.5 1396.9,423.5 1397.4,423.6 1397.9,423.6 1398.4,423.6 1398.9,423.6 1399.4,423.6 1399.9,423.7 1400.4,423.7 1400.7,423.7 1400.9,423.7 1401.4,423.7 1401.9,423.8 1402.4,423.8 1402.9,423.8 1403.4,423.8 1403.9,423.9 1404.4,423.9 1404.9,423.9 1405.4,423.9 1405.9,424.0 1406.4,424.0 1406.9,424.0 1407.4,424.1 1407.9,424.1 1408.4,424.2 1408.9,424.2 1409.4,424.2 1409.9,424.3 1410.4,424.3 1410.9,424.4 1411.4,424.4 1411.9,424.4 1412.4,424.5 1412.9,424.5 1413.4,424.6 1413.9,424.6 1414.4,424.7 1414.9,424.7 1415.4,424.8 1415.9,424.8 1416.4,424.9 1416.9,424.9 1417.4,425.0 1417.9,425.0 1418.4,425.1 1418.9,425.1 1419.4,425.2 1419.9,425.3 1420.4,425.3 1420.9,425.4 1421.4,425.4 1421.9,425.5 1422.4,425.5 1422.9,425.6 1423.4,425.7 1423.9,425.7 1424.4,425.8 1424.9,425.9 1425.4,425.9 1425.9,426.0 1426.4,426.0 1426.9,426.1 1427.4,426.2 1427.9,426.2 1428.4,426.3 1428.9,426.4 1429.4,426.4 1429.9,426.5 1430.4,426.6 1430.9,426.6 1431.4,426.7 1431.9,426.8 1432.4,426.9 1432.9,426.9 1433.4,427.0 1433.9,427.1 1434.4,427.1 1434.9,427.2 1435.4,427.3 1435.9,427.4 1436.4,427.4 1436.9,427.5 1437.4,427.6 1437.9,427.7 1438.4,427.7 1438.9,427.8 1439.4,427.9 1439.9,428.0 1440.4,428.0 1440.9,428.1 1441.4,428.2 1441.9,428.3 1442.4,428.3 1442.9,428.4 1443.4,428.5 1443.9,428.6 1444.4,428.6 1444.9,428.7 1445.4,428.8 1445.9,428.9 1446.4,428.9 1446.9,429.0 1447.4,429.1 1447.9,429.2 1448.4,429.3 1448.9,429.3 1449.4,429.4 1449.9,429.5 1450.4,429.6 1450.9,429.6 1451.4,429.7 1451.9,429.8 1452.4,429.9 1452.9,429.9 1453.4,430.0 1453.9,430.1 1454.4,430.2 1454.9,430.2 1455.4,430.3 1455.9,430.4 1456.4,430.5 1456.9,430.6 1457.4,430.6 1457.9,430.7 1458.4,430.8 1458.9,430.9 1459.4,430.9 1459.9,431.0 1460.4,431.1 1460.9,431.1 1461.4,431.2 1461.9,431.3 1462.4,431.4 1462.9,431.4 1463.3,431.5 1463.4,431.5 1463.9,431.6 1464.4,431.7 1464.9,431.7 1465.4,431.8 1465.9,431.9 1466.4,432.0 1466.9,432.0 1467.4,432.1 1467.9,432.2 1468.4,432.2 1468.9,432.3 1469.4,432.4 1469.9,432.5 1470.4,432.5 1470.9,432.6 1471.4,432.7 1471.9,432.8 1472.4,432.8 1472.9,432.9 1473.4,433.0 1473.9,433.1 1474.4,433.2 1474.9,433.2 1475.4,433.3 1475.9,433.4 1476.4,433.5 1476.9,433.5 1477.4,433.6 1477.9,433.7 1478.4,433.8 1478.9,433.9 1479.4,433.9 1479.9,434.0 1480.4,434.1 1480.9,434.2 1481.4,434.3 1481.9,434.3 1482.4,434.4 1482.9,434.5 1483.4,434.6 1483.9,434.7 1484.4,434.7 1484.9,434.8 1485.4,434.9 1485.9,435.0 1486.4,435.1 1486.9,435.1 1487.4,435.2 1487.9,435.3 1488.4,435.4 1488.9,435.5 1489.4,435.6 1489.9,435.6 1490.4,435.7 1490.9,435.8 1491.4,435.9 1491.9,436.0 1492.4,436.1 1492.9,436.1 1493.4,436.2 1493.9,436.3 1494.4,436.4 1494.9,436.5 1495.4,436.6 1495.9,436.7 1496.4,436.7 1496.9,436.8 1497.4,436.9 1497.9,437.0 1498.4,437.1 1498.9,437.2 1499.4,437.3 1499.9,437.3 1500.4,437.4 1500.9,437.5 1501.4,437.6 1501.9,437.7 1502.4,437.8 1502.9,437.9 1503.4,438.0 1503.9,438.0 1504.4,438.1 1504.9,438.2 1505.4,438.3 1505.9,438.4 1506.4,438.5 1506.9,438.6 1507.4,438.7 1507.9,438.8 1508.4,438.9 1508.9,438.9 1509.4,439.0 1509.9,439.1 1510.4,439.2 1510.9,439.3 1511.4,439.4 1511.9,439.5 1512.4,439.6 1512.9,439.7 1513.4,439.8 1513.9,439.9 1514.4,439.9 1514.9,440.0 1515.4,440.1 1515.9,440.2 1516.4,440.3 1516.9,440.4 1517.4,440.5 1517.9,440.6 1518.4,440.7 1518.9,440.8 1519.4,440.9 1519.9,441.0 1520.4,441.1 1520.9,441.2 1521.4,441.3 1521.9,441.4 1522.4,441.4 1522.9,441.5 1523.4,441.6 1523.9,441.7 1524.4,441.8 1524.9,441.9 1525.4,442.0 1525.9,442.1 1526.4,442.2 1526.9,442.3 1527.4,442.4 1527.9,442.5 1528.4,442.6 1528.9,442.7 1529.4,442.8 1529.9,442.9 1530.4,443.0 1530.9,443.1 1531.4,443.2 1531.9,443.3 1532.4,443.4 1532.9,443.5 1533.4,443.6 1533.9,443.7 1534.4,443.8 1534.9,443.9 1535.4,444.0 1535.5,444.0" fill="none" stroke="#4DBEEE" stroke-width="3.2" stroke-linejoin="round" stroke-linecap="butt"/>
<rect x="1028.8" y="55.5" width="676.7" height="506.5" fill="none" stroke="#141414" stroke-width="4.4"/>
<path d="M1141.6,562.0V553.0 M1254.4,562.0V553.0 M1367.2,562.0V553.0 M1479.9,562.0V553.0 M1592.7,562.0V553.0 M1028.8,435.4H1037.8 M1028.8,308.8H1037.8 M1028.8,182.1H1037.8" stroke="#141414" stroke-width="3.4" fill="none"/>
<text transform="translate(992.13,577.28) scale(1.0300,1)" font-size="43.00" font-weight="bold" font-style="normal" fill="#111" stroke="#fff" stroke-width="0.5">0</text>
<text transform="translate(947.84,450.66) scale(1.0300,1)" font-size="43.00" font-weight="bold" font-style="normal" fill="#111" stroke="#fff" stroke-width="0.5">100</text>
<text transform="translate(947.84,324.03) scale(1.0300,1)" font-size="43.00" font-weight="bold" font-style="normal" fill="#111" stroke="#fff" stroke-width="0.5">200</text>
<text transform="translate(947.84,197.41) scale(1.0300,1)" font-size="43.00" font-weight="bold" font-style="normal" fill="#111" stroke="#fff" stroke-width="0.5">300</text>
<text transform="translate(947.84,70.78) scale(1.0300,1)" font-size="43.00" font-weight="bold" font-style="normal" fill="#111" stroke="#fff" stroke-width="0.5">400</text>
<text transform="translate(1017.54,617.72) scale(0.9200,1)" font-size="46.80" font-weight="bold" font-style="normal" fill="#111" stroke="#fff" stroke-width="0.5">0</text>
<text transform="translate(1114.28,617.72) scale(0.9200,1)" font-size="46.80" font-weight="bold" font-style="normal" fill="#111" stroke="#fff" stroke-width="0.5">0.2</text>
<text transform="translate(1226.53,617.72) scale(0.9200,1)" font-size="46.80" font-weight="bold" font-style="normal" fill="#111" stroke="#fff" stroke-width="0.5">0.4</text>
<text transform="translate(1339.52,617.72) scale(0.9200,1)" font-size="46.80" font-weight="bold" font-style="normal" fill="#111" stroke="#fff" stroke-width="0.5">0.6</text>
<text transform="translate(1452.42,617.72) scale(0.9200,1)" font-size="46.80" font-weight="bold" font-style="normal" fill="#111" stroke="#fff" stroke-width="0.5">0.8</text>
<text transform="translate(1580.81,617.49) scale(0.9200,1)" font-size="46.80" font-weight="bold" font-style="normal" fill="#111" stroke="#fff" stroke-width="0.5">1</text>
<text transform="translate(929.10,504.52) rotate(-90) scale(0.9752,1)" font-size="56.06" font-weight="bold" fill="#1a1a1a">True Stress/Mpa</text>
<text transform="translate(1228.68,681.34) scale(0.9738,1)" font-size="56.17" font-weight="bold" font-style="normal" fill="#222" >True Strain</text>
<text transform="translate(852.16,53.28) scale(0.9549,1)" font-size="70.77" font-weight="bold" font-style="normal" fill="#000" >(b)</text>
<text transform="translate(1568.31,161.84) scale(0.8580,1)" font-size="45.93" font-weight="bold" font-style="normal" fill="#000" stroke="#fff" stroke-width="0.5">990°C</text>
<text transform="translate(1571.44,301.07) scale(0.9122,1)" font-size="43.26" font-weight="bold" font-style="normal" fill="#000" stroke="#fff" stroke-width="0.5">1080°C</text>
<text transform="translate(1557.13,459.74) scale(0.8889,1)" font-size="45.93" font-weight="bold" font-style="normal" fill="#000" stroke="#fff" stroke-width="0.5">1170°C</text>
<circle cx="1158" cy="481.6" r="3.2" fill="none" stroke="#0072BD" stroke-width="1.4"/>
<text transform="translate(1198.35,491.01) scale(1.0757,1)" font-size="28.08" font-weight="bold" font-style="normal" fill="#000" >Predicted Stress</text>
<text transform="translate(1198.35,525.38) scale(1.0573,1)" font-size="28.46" font-weight="bold" font-style="normal" fill="#000" >Experimental Stress</text>
<path d="M1122,517H1191" stroke="#D0602A" stroke-width="2.2"/>
<g fill="none" stroke="#0072BD" stroke-width="1.5">
<circle cx="174.1" cy="1073.6" r="5.0"/>
<circle cx="179.7" cy="1035.2" r="5.0"/>
<circle cx="185.3" cy="1005.9" r="5.0"/>
<circle cx="190.9" cy="984.6" r="5.0"/>
<circle cx="196.5" cy="962.5" r="5.0"/>
<circle cx="202.1" cy="949.0" r="5.0"/>
<circle cx="207.7" cy="933.3" r="5.0"/>
<circle cx="213.3" cy="919.7" r="5.0"/>
<circle cx="218.9" cy="907.1" r="5.0"/>
<circle cx="224.5" cy="898.3" r="5.0"/>
<circle cx="230.1" cy="889.6" r="5.0"/>
<circle cx="235.7" cy="881.4" r="5.0"/>
<circle cx="241.3" cy="874.1" r="5.0"/>
<circle cx="246.9" cy="867.0" r="5.0"/>
<circle cx="252.5" cy="858.4" r="5.0"/>
<circle cx="258.1" cy="850.0" r="5.0"/>
<circle cx="263.7" cy="842.9" r="5.0"/>
<circle cx="269.3" cy="837.0" r="5.0"/>
<circle cx="274.9" cy="831.7" r="5.0"/>
<circle cx="280.5" cy="826.6" r="5.0"/>
<circle cx="286.1" cy="821.6" r="5.0"/>
<circle cx="291.7" cy="816.3" r="5.0"/>
<circle cx="297.3" cy="811.1" r="5.0"/>
<circle cx="302.9" cy="806.3" r="5.0"/>
<circle cx="308.5" cy="802.2" r="5.0"/>
<circle cx="314.1" cy="798.5" r="5.0"/>
<circle cx="319.7" cy="795.1" r="5.0"/>
<circle cx="325.3" cy="792.0" r="5.0"/>
<circle cx="330.9" cy="789.1" r="5.0"/>
<circle cx="336.5" cy="786.3" r="5.0"/>
<circle cx="342.1" cy="783.7" r="5.0"/>
<circle cx="347.7" cy="781.1" r="5.0"/>
<circle cx="353.3" cy="778.7" r="5.0"/>
<circle cx="358.9" cy="776.5" r="5.0"/>
<circle cx="364.5" cy="774.6" r="5.0"/>
<circle cx="370.1" cy="773.1" r="5.0"/>
<circle cx="375.7" cy="771.7" r="5.0"/>
<circle cx="381.3" cy="770.4" r="5.0"/>
<circle cx="386.9" cy="769.2" r="5.0"/>
<circle cx="392.5" cy="768.2" r="5.0"/>
<circle cx="398.1" cy="767.4" r="5.0"/>
<circle cx="403.7" cy="767.0" r="5.0"/>
<circle cx="409.3" cy="767.0" r="5.0"/>
<circle cx="414.9" cy="767.1" r="5.0"/>
<circle cx="420.5" cy="767.2" r="5.0"/>
<circle cx="426.1" cy="767.3" r="5.0"/>
<circle cx="431.7" cy="767.4" r="5.0"/>
<circle cx="437.3" cy="767.6" r="5.0"/>
<circle cx="442.9" cy="767.8" r="5.0"/>
<circle cx="448.5" cy="768.1" r="5.0"/>
<circle cx="454.1" cy="768.5" r="5.0"/>
<circle cx="459.7" cy="769.0" r="5.0"/>
<circle cx="465.3" cy="769.7" r="5.0"/>
<circle cx="470.9" cy="770.5" r="5.0"/>
<circle cx="476.5" cy="771.4" r="5.0"/>
<circle cx="482.1" cy="772.2" r="5.0"/>
<circle cx="487.7" cy="773.1" r="5.0"/>
<circle cx="493.3" cy="773.8" r="5.0"/>
<circle cx="498.9" cy="774.6" r="5.0"/>
<circle cx="504.5" cy="775.3" r="5.0"/>
<circle cx="510.1" cy="776.0" r="5.0"/>
<circle cx="515.7" cy="776.8" r="5.0"/>
<circle cx="521.3" cy="777.5" r="5.0"/>
<circle cx="526.9" cy="778.3" r="5.0"/>
<circle cx="532.5" cy="779.0" r="5.0"/>
<circle cx="538.1" cy="779.8" r="5.0"/>
<circle cx="543.7" cy="780.5" r="5.0"/>
<circle cx="549.3" cy="781.3" r="5.0"/>
<circle cx="554.9" cy="782.1" r="5.0"/>
<circle cx="560.5" cy="782.9" r="5.0"/>
<circle cx="566.1" cy="783.7" r="5.0"/>
<circle cx="571.7" cy="784.4" r="5.0"/>
<circle cx="577.3" cy="785.2" r="5.0"/>
<circle cx="582.9" cy="785.9" r="5.0"/>
<circle cx="588.5" cy="786.5" r="5.0"/>
<circle cx="594.1" cy="787.1" r="5.0"/>
<circle cx="599.7" cy="787.7" r="5.0"/>
<circle cx="605.3" cy="788.3" r="5.0"/>
<circle cx="610.9" cy="788.9" r="5.0"/>
<circle cx="616.5" cy="789.4" r="5.0"/>
<circle cx="622.1" cy="789.9" r="5.0"/>
<circle cx="627.7" cy="790.2" r="5.0"/>
<circle cx="633.3" cy="790.5" r="5.0"/>
<circle cx="638.9" cy="790.6" r="5.0"/>
<circle cx="644.5" cy="790.7" r="5.0"/>
<circle cx="650.1" cy="790.8" r="5.0"/>
<circle cx="655.7" cy="790.9" r="5.0"/>
<circle cx="661.3" cy="791.0" r="5.0"/>
<circle cx="666.9" cy="791.1" r="5.0"/>
<circle cx="672.5" cy="791.1" r="5.0"/>
</g>
<g fill="none" stroke="#EDB120" stroke-width="1.5">
<circle cx="173.3" cy="1081.0" r="5.0"/>
<circle cx="178.9" cy="1061.7" r="5.0"/>
<circle cx="184.5" cy="1037.0" r="5.0"/>
<circle cx="190.1" cy="1009.6" r="5.0"/>
<circle cx="195.7" cy="989.9" r="5.0"/>
<circle cx="201.3" cy="973.9" r="5.0"/>
<circle cx="206.9" cy="945.4" r="5.0"/>
<circle cx="212.5" cy="931.8" r="5.0"/>
<circle cx="218.1" cy="925.8" r="5.0"/>
<circle cx="223.7" cy="920.3" r="5.0"/>
<circle cx="229.3" cy="915.3" r="5.0"/>
<circle cx="234.9" cy="910.7" r="5.0"/>
<circle cx="240.5" cy="906.2" r="5.0"/>
<circle cx="246.1" cy="901.9" r="5.0"/>
<circle cx="251.7" cy="897.8" r="5.0"/>
<circle cx="257.3" cy="894.2" r="5.0"/>
<circle cx="262.9" cy="890.8" r="5.0"/>
<circle cx="268.5" cy="887.8" r="5.0"/>
<circle cx="274.1" cy="885.3" r="5.0"/>
<circle cx="279.7" cy="883.1" r="5.0"/>
<circle cx="285.3" cy="881.1" r="5.0"/>
<circle cx="290.9" cy="879.4" r="5.0"/>
<circle cx="296.5" cy="878.1" r="5.0"/>
<circle cx="302.1" cy="877.1" r="5.0"/>
<circle cx="307.7" cy="876.4" r="5.0"/>
<circle cx="313.3" cy="875.7" r="5.0"/>
<circle cx="318.9" cy="875.1" r="5.0"/>
<circle cx="324.5" cy="874.6" r="5.0"/>
<circle cx="330.1" cy="874.1" r="5.0"/>
<circle cx="335.7" cy="873.6" r="5.0"/>
<circle cx="341.3" cy="873.3" r="5.0"/>
<circle cx="346.9" cy="873.1" r="5.0"/>
<circle cx="352.5" cy="872.9" r="5.0"/>
<circle cx="358.1" cy="872.8" r="5.0"/>
<circle cx="364.0" cy="877.8" r="5.0"/>
<circle cx="369.6" cy="878.8" r="5.0"/>
<circle cx="375.2" cy="879.8" r="5.0"/>
<circle cx="380.8" cy="880.7" r="5.0"/>
<circle cx="386.4" cy="881.7" r="5.0"/>
<circle cx="392.0" cy="882.6" r="5.0"/>
<circle cx="397.6" cy="883.6" r="5.0"/>
<circle cx="403.2" cy="884.6" r="5.0"/>
<circle cx="408.8" cy="885.5" r="5.0"/>
<circle cx="414.4" cy="886.5" r="5.0"/>
<circle cx="420.0" cy="887.4" r="5.0"/>
<circle cx="425.6" cy="888.2" r="5.0"/>
<circle cx="431.2" cy="889.0" r="5.0"/>
<circle cx="436.8" cy="889.7" r="5.0"/>
<circle cx="442.4" cy="890.4" r="5.0"/>
<circle cx="448.0" cy="891.1" r="5.0"/>
<circle cx="453.6" cy="891.7" r="5.0"/>
<circle cx="459.2" cy="892.4" r="5.0"/>
<circle cx="464.8" cy="893.0" r="5.0"/>
<circle cx="470.4" cy="893.6" r="5.0"/>
<circle cx="476.0" cy="894.2" r="5.0"/>
<circle cx="481.6" cy="894.8" r="5.0"/>
<circle cx="487.2" cy="895.4" r="5.0"/>
<circle cx="492.8" cy="896.0" r="5.0"/>
<circle cx="498.4" cy="896.6" r="5.0"/>
<circle cx="504.0" cy="897.2" r="5.0"/>
<circle cx="509.6" cy="897.7" r="5.0"/>
<circle cx="515.2" cy="898.3" r="5.0"/>
<circle cx="520.8" cy="898.9" r="5.0"/>
<circle cx="526.4" cy="899.4" r="5.0"/>
<circle cx="532.0" cy="899.9" r="5.0"/>
<circle cx="537.6" cy="900.4" r="5.0"/>
<circle cx="543.2" cy="900.9" r="5.0"/>
<circle cx="548.8" cy="901.4" r="5.0"/>
<circle cx="554.4" cy="901.9" r="5.0"/>
<circle cx="560.0" cy="902.4" r="5.0"/>
<circle cx="565.6" cy="902.8" r="5.0"/>
<circle cx="571.2" cy="903.3" r="5.0"/>
<circle cx="576.8" cy="903.7" r="5.0"/>
<circle cx="582.4" cy="904.1" r="5.0"/>
<circle cx="588.0" cy="904.5" r="5.0"/>
<circle cx="593.6" cy="904.9" r="5.0"/>
<circle cx="599.2" cy="905.2" r="5.0"/>
<circle cx="604.8" cy="905.5" r="5.0"/>
<circle cx="610.4" cy="905.7" r="5.0"/>
<circle cx="616.0" cy="906.0" r="5.0"/>
<circle cx="621.6" cy="906.2" r="5.0"/>
<circle cx="627.2" cy="906.5" r="5.0"/>
<circle cx="632.8" cy="906.7" r="5.0"/>
<circle cx="638.4" cy="906.9" r="5.0"/>
<circle cx="644.0" cy="907.1" r="5.0"/>
<circle cx="649.6" cy="907.3" r="5.0"/>
<circle cx="655.2" cy="907.5" r="5.0"/>
<circle cx="660.8" cy="907.6" r="5.0"/>
<circle cx="666.4" cy="907.7" r="5.0"/>
<circle cx="672.0" cy="907.8" r="5.0"/>
</g>
<g fill="none" stroke="#77AC30" stroke-width="1.5">
<circle cx="174.1" cy="1100.8" r="5.0"/>
<circle cx="179.7" cy="1072.2" r="5.0"/>
<circle cx="185.3" cy="1054.2" r="5.0"/>
<circle cx="190.9" cy="1038.6" r="5.0"/>
<circle cx="196.5" cy="1025.9" r="5.0"/>
<circle cx="202.1" cy="1017.4" r="5.0"/>
<circle cx="207.7" cy="1010.4" r="5.0"/>
<circle cx="213.3" cy="1004.3" r="5.0"/>
<circle cx="218.9" cy="999.8" r="5.0"/>
<circle cx="224.5" cy="996.1" r="5.0"/>
<circle cx="230.1" cy="993.2" r="5.0"/>
<circle cx="235.7" cy="990.9" r="5.0"/>
<circle cx="241.3" cy="989.1" r="5.0"/>
<circle cx="246.9" cy="987.6" r="5.0"/>
<circle cx="252.5" cy="986.3" r="5.0"/>
<circle cx="258.1" cy="985.2" r="5.0"/>
<circle cx="263.7" cy="984.4" r="5.0"/>
<circle cx="269.3" cy="983.9" r="5.0"/>
<circle cx="274.9" cy="983.4" r="5.0"/>
<circle cx="280.5" cy="983.1" r="5.0"/>
<circle cx="286.1" cy="983.0" r="5.0"/>
<circle cx="291.7" cy="983.0" r="5.0"/>
<circle cx="297.3" cy="982.9" r="5.0"/>
<circle cx="302.9" cy="982.9" r="5.0"/>
<circle cx="308.5" cy="982.9" r="5.0"/>
<circle cx="314.1" cy="982.8" r="5.0"/>
<circle cx="319.7" cy="982.8" r="5.0"/>
<circle cx="325.3" cy="982.8" r="5.0"/>
<circle cx="330.9" cy="982.8" r="5.0"/>
<circle cx="336.5" cy="982.8" r="5.0"/>
<circle cx="342.1" cy="982.8" r="5.0"/>
<circle cx="347.7" cy="982.8" r="5.0"/>
<circle cx="353.3" cy="982.8" r="5.0"/>
<circle cx="358.9" cy="982.7" r="5.0"/>
<circle cx="364.5" cy="982.7" r="5.0"/>
<circle cx="370.1" cy="982.7" r="5.0"/>
<circle cx="375.7" cy="982.7" r="5.0"/>
<circle cx="381.3" cy="982.7" r="5.0"/>
<circle cx="386.9" cy="982.7" r="5.0"/>
<circle cx="392.5" cy="982.7" r="5.0"/>
<circle cx="398.1" cy="982.7" r="5.0"/>
<circle cx="403.7" cy="982.6" r="5.0"/>
<circle cx="409.3" cy="982.6" r="5.0"/>
<circle cx="414.9" cy="982.6" r="5.0"/>
<circle cx="420.5" cy="982.6" r="5.0"/>
<circle cx="426.1" cy="982.6" r="5.0"/>
<circle cx="431.7" cy="982.6" r="5.0"/>
<circle cx="437.3" cy="982.5" r="5.0"/>
<circle cx="442.9" cy="982.5" r="5.0"/>
<circle cx="448.5" cy="982.5" r="5.0"/>
<circle cx="454.1" cy="982.5" r="5.0"/>
<circle cx="459.7" cy="982.5" r="5.0"/>
<circle cx="465.3" cy="982.5" r="5.0"/>
<circle cx="470.9" cy="982.5" r="5.0"/>
<circle cx="476.5" cy="982.4" r="5.0"/>
<circle cx="482.1" cy="982.4" r="5.0"/>
<circle cx="487.7" cy="982.4" r="5.0"/>
<circle cx="493.3" cy="982.4" r="5.0"/>
<circle cx="498.9" cy="982.4" r="5.0"/>
<circle cx="504.5" cy="982.4" r="5.0"/>
<circle cx="510.1" cy="982.4" r="5.0"/>
<circle cx="515.7" cy="982.3" r="5.0"/>
<circle cx="521.3" cy="982.3" r="5.0"/>
<circle cx="526.9" cy="982.3" r="5.0"/>
<circle cx="532.5" cy="982.3" r="5.0"/>
<circle cx="538.1" cy="982.3" r="5.0"/>
<circle cx="543.7" cy="982.3" r="5.0"/>
<circle cx="549.3" cy="982.3" r="5.0"/>
<circle cx="554.9" cy="982.2" r="5.0"/>
<circle cx="560.5" cy="982.2" r="5.0"/>
<circle cx="566.1" cy="982.2" r="5.0"/>
<circle cx="571.7" cy="982.2" r="5.0"/>
<circle cx="577.3" cy="982.2" r="5.0"/>
<circle cx="582.9" cy="982.2" r="5.0"/>
<circle cx="588.5" cy="982.2" r="5.0"/>
<circle cx="594.1" cy="982.2" r="5.0"/>
<circle cx="599.7" cy="982.2" r="5.0"/>
<circle cx="605.3" cy="982.1" r="5.0"/>
<circle cx="610.9" cy="982.1" r="5.0"/>
<circle cx="616.5" cy="982.1" r="5.0"/>
<circle cx="622.1" cy="982.1" r="5.0"/>
<circle cx="627.7" cy="982.1" r="5.0"/>
<circle cx="633.3" cy="982.1" r="5.0"/>
<circle cx="638.9" cy="982.1" r="5.0"/>
<circle cx="644.5" cy="982.1" r="5.0"/>
<circle cx="650.1" cy="982.0" r="5.0"/>
<circle cx="655.7" cy="982.0" r="5.0"/>
<circle cx="661.3" cy="982.0" r="5.0"/>
<circle cx="666.9" cy="982.0" r="5.0"/>
<circle cx="672.5" cy="982.0" r="5.0"/>
</g>
<path d="M170.4,1205.0L170.9,1193.3 171.4,1182.2 171.9,1171.9 172.0,1170.0 172.4,1162.3 172.9,1152.8 173.4,1143.7 173.9,1135.3 174.4,1127.6 174.9,1121.1 175.0,1120.0 175.4,1115.7 175.9,1110.7 176.4,1106.0 176.9,1101.7 177.4,1097.7 177.9,1093.9 178.4,1090.4 178.9,1087.0 179.4,1083.8 179.9,1080.6 180.0,1080.0 180.4,1077.6 180.9,1074.6 181.4,1071.8 181.9,1069.0 182.4,1066.4 182.9,1063.8 183.4,1061.4 183.9,1059.0 184.4,1056.8 184.9,1054.6 185.4,1052.4 185.9,1050.4 186.0,1050.0 186.4,1048.4 186.9,1046.5 187.4,1044.7 187.9,1042.9 188.4,1041.1 188.9,1039.5 189.4,1037.8 189.9,1036.2 190.4,1034.7 190.9,1033.2 191.4,1031.7 191.9,1030.3 192.0,1030.0 192.4,1028.9 192.9,1027.5 193.4,1026.2 193.9,1024.9 194.4,1023.6 194.9,1022.4 195.4,1021.2 195.9,1020.0 196.4,1018.8 196.9,1017.7 197.4,1016.5 197.9,1015.4 198.2,1014.7 198.4,1014.2 198.9,1013.1 199.4,1012.1 199.9,1011.0 200.4,1010.0 200.9,1009.0 201.4,1008.0 201.9,1007.0 202.4,1006.0 202.9,1005.0 203.4,1004.0 203.9,1002.9 204.4,1001.9 204.9,1000.8 205.4,999.7 205.7,999.0 205.9,998.5 206.4,997.3 206.9,996.1 207.4,994.8 207.9,993.5 208.4,992.1 208.9,990.8 209.4,989.4 209.9,988.0 210.4,986.5 210.9,985.1 211.4,983.7 211.9,982.3 212.4,980.9 212.9,979.5 213.4,978.1 213.9,976.8 214.4,975.5 214.9,974.2 215.4,973.0 215.9,971.8 216.4,970.7 216.9,969.6 217.4,968.6 217.9,967.6 218.4,966.7 218.9,965.8 219.4,965.0 219.9,964.1 220.4,963.3 220.9,962.5 221.4,961.8 221.9,961.0 222.4,960.3 222.9,959.5 223.4,958.8 223.9,958.1 224.4,957.4 224.9,956.7 225.4,956.0 225.9,955.3 226.4,954.6 226.9,953.9 227.4,953.1 227.9,952.4 228.4,951.7 228.9,950.9 229.4,950.1 229.9,949.4 230.3,948.7 230.4,948.5 230.9,947.7 231.4,946.9 231.9,946.0 232.4,945.2 232.9,944.3 233.4,943.4 233.9,942.5 234.4,941.7 234.9,940.8 235.4,939.9 235.9,939.0 236.4,938.1 236.9,937.2 237.4,936.3 237.9,935.4 238.4,934.5 238.9,933.5 239.4,932.6 239.9,931.7 240.4,930.8 240.9,929.9 241.4,929.0 241.9,928.1 242.4,927.2 242.9,926.3 243.4,925.4 243.9,924.6 244.4,923.7 244.9,922.8 245.4,922.0 245.5,921.8 245.9,921.1 246.4,920.3 246.9,919.4 247.4,918.6 247.9,917.7 248.4,916.9 248.9,916.1 249.4,915.2 249.9,914.4 250.4,913.6 250.9,912.8 251.4,911.9 251.9,911.1 252.4,910.3 252.9,909.5 253.4,908.7 253.9,907.8 254.4,907.0 254.9,906.2 255.4,905.4 255.9,904.6 256.4,903.8 256.9,903.0 257.4,902.2 257.9,901.4 258.4,900.6 258.9,899.7 259.4,898.9 259.9,898.1 260.4,897.3 260.9,896.5 261.4,895.7 261.9,894.9 262.4,894.1 262.9,893.3 263.4,892.5 263.9,891.7 264.4,890.9 264.9,890.1 265.4,889.3 265.9,888.5 266.4,887.7 266.9,886.9 267.4,886.1 267.9,885.3 268.4,884.5 268.9,883.7 269.4,882.9 269.9,882.1 270.4,881.3 270.9,880.5 271.4,879.7 271.9,878.9 272.4,878.1 272.9,877.3 273.4,876.5 273.6,876.2 273.9,875.7 274.4,874.9 274.9,874.1 275.4,873.3 275.9,872.5 276.4,871.7 276.9,870.9 277.4,870.1 277.9,869.2 278.4,868.4 278.9,867.6 279.4,866.8 279.9,866.0 280.4,865.2 280.9,864.4 281.4,863.6 281.9,862.8 282.4,862.0 282.9,861.2 283.4,860.4 283.9,859.6 284.4,858.8 284.9,858.0 285.3,857.4 285.4,857.2 285.9,856.5 286.4,855.7 286.9,854.9 287.4,854.2 287.9,853.4 288.4,852.6 288.9,851.8 289.4,851.1 289.9,850.3 290.4,849.6 290.9,848.8 291.4,848.1 291.9,847.3 292.4,846.6 292.9,845.8 293.4,845.1 293.9,844.3 294.4,843.6 294.9,842.9 295.4,842.2 295.9,841.5 296.4,840.7 296.9,840.0 297.0,839.9 297.4,839.3 297.9,838.7 298.4,838.0 298.9,837.3 299.4,836.7 299.9,836.0 300.4,835.3 300.9,834.7 301.4,834.1 301.9,833.4 302.4,832.8 302.9,832.2 303.4,831.6 303.9,830.9 304.4,830.3 304.9,829.7 305.4,829.1 305.9,828.4 306.4,827.8 306.9,827.2 307.4,826.5 307.9,825.9 308.4,825.2 308.9,824.6 309.4,823.9 309.9,823.2 310.4,822.5 310.9,821.9 311.4,821.2 311.9,820.4 312.2,820.0 312.4,819.7 312.9,819.0 313.4,818.2 313.9,817.4 314.4,816.6 314.9,815.8 315.4,814.9 315.9,814.1 316.4,813.2 316.9,812.4 317.4,811.6 317.9,810.7 318.4,809.9 318.9,809.1 319.4,808.2 319.9,807.4 320.4,806.7 320.9,805.9 321.4,805.1 321.5,805.0 321.9,804.4 322.4,803.7 322.9,803.0 323.4,802.3 323.9,801.5 324.4,800.8 324.9,800.1 325.4,799.4 325.9,798.7 326.4,798.0 326.9,797.3 327.4,796.6 327.9,795.9 328.4,795.2 328.9,794.6 329.4,793.9 329.9,793.3 330.4,792.6 330.9,792.0 331.4,791.3 331.9,790.7 332.4,790.1 332.9,789.5 333.4,788.9 333.9,788.3 334.4,787.8 334.9,787.2 335.4,786.7 335.9,786.1 336.4,785.6 336.9,785.1 337.0,785.0 337.4,784.6 337.9,784.1 338.4,783.6 338.9,783.2 339.4,782.7 339.9,782.2 340.4,781.8 340.9,781.3 341.4,780.9 341.9,780.4 342.4,780.0 342.9,779.5 343.4,779.1 343.9,778.7 344.4,778.3 344.9,777.9 345.4,777.5 345.9,777.1 346.4,776.7 346.9,776.3 347.4,775.9 347.9,775.6 348.4,775.2 348.9,774.9 349.4,774.5 349.9,774.2 350.4,773.8 350.9,773.5 351.4,773.2 351.9,772.9 352.4,772.6 352.9,772.3 353.4,772.0 353.9,771.7 354.4,771.4 354.9,771.2 355.4,770.9 355.9,770.6 356.4,770.3 356.9,770.1 357.4,769.8 357.9,769.5 358.4,769.3 358.9,769.0 359.4,768.8 359.9,768.5 360.4,768.3 360.9,768.1 361.4,767.8 361.9,767.6 362.4,767.4 362.9,767.2 363.4,767.0 363.9,766.8 364.4,766.6 364.9,766.4 365.4,766.2 365.9,766.1 366.4,765.9 366.9,765.8 367.4,765.6 367.9,765.5 368.0,765.5 368.4,765.4 368.9,765.3 369.4,765.2 369.9,765.0 370.4,764.9 370.9,764.8 371.4,764.7 371.9,764.6 372.4,764.5 372.9,764.4 373.4,764.3 373.9,764.1 374.4,764.0 374.9,763.9 375.4,763.8 375.9,763.8 376.4,763.7 376.9,763.6 377.4,763.5 377.9,763.4 378.4,763.3 378.9,763.3 379.4,763.2 379.9,763.2 380.4,763.1 380.9,763.1 381.4,763.0 381.9,763.0 382.4,762.9 382.9,762.9 383.4,762.9 383.9,762.9 384.2,762.9 384.4,762.9 384.9,762.9 385.4,762.9 385.9,762.9 386.4,762.9 386.9,762.9 387.4,762.9 387.9,762.9 388.4,762.9 388.9,762.9 389.4,762.9 389.9,762.9 390.4,762.9 390.9,762.9 391.4,762.9 391.9,762.9 392.4,762.9 392.9,762.9 393.4,762.9 393.9,762.9 394.4,762.9 394.9,762.9 395.4,762.9 395.9,762.9 396.4,762.9 396.9,762.9 397.4,762.9 397.9,762.9 398.4,762.9 398.9,762.9 399.4,762.9 399.9,762.9 400.4,762.9 400.9,762.9 401.4,762.9 401.9,762.9 402.4,762.9 402.9,762.9 403.4,762.9 403.9,762.9 404.4,762.9 404.9,762.9 405.4,762.9 405.9,762.9 406.4,762.9 406.9,762.9 407.4,762.9 407.9,762.9 408.4,762.9 408.9,762.9 409.4,762.9 409.9,762.9 410.4,762.9 410.9,762.9 411.4,762.9 411.9,762.9 412.4,762.9 412.9,762.9 413.4,762.9 413.9,762.9 414.4,762.9 414.9,762.9 415.4,762.9 415.5,762.9 415.9,762.9 416.4,762.9 416.9,762.9 417.4,762.9 417.9,763.0 418.4,763.0 418.9,763.0 419.4,763.1 419.9,763.1 420.4,763.2 420.9,763.2 421.4,763.3 421.9,763.3 422.4,763.4 422.9,763.5 423.4,763.5 423.9,763.6 424.4,763.7 424.9,763.8 425.4,763.9 425.9,764.0 426.4,764.1 426.9,764.2 427.4,764.3 427.9,764.4 428.4,764.5 428.9,764.6 429.4,764.7 429.9,764.9 430.4,765.0 430.9,765.1 431.4,765.2 431.9,765.4 432.4,765.5 432.9,765.6 433.4,765.8 433.9,765.9 434.4,766.1 434.9,766.2 435.4,766.3 435.9,766.5 436.4,766.6 436.9,766.8 437.4,766.9 437.9,767.1 438.4,767.2 438.9,767.4 439.4,767.5 439.9,767.7 440.4,767.9 440.9,768.0 441.4,768.2 441.9,768.3 442.4,768.5 442.9,768.7 443.4,768.8 443.9,769.0 444.4,769.1 444.9,769.3 445.4,769.4 445.9,769.6 446.4,769.8 446.9,769.9 447.4,770.1 447.9,770.2 448.4,770.4 448.9,770.5 449.4,770.7 449.9,770.8 450.4,771.0 450.9,771.1 451.4,771.3 451.9,771.4 452.4,771.6 452.9,771.7 453.4,771.8 453.9,772.0 454.4,772.1 454.9,772.3 455.4,772.4 455.9,772.5 456.4,772.6 456.9,772.8 457.4,772.9 457.9,773.0 458.4,773.1 458.9,773.2 459.4,773.3 459.9,773.4 460.4,773.5 460.9,773.6 461.4,773.7 461.9,773.8 462.4,773.9 462.9,774.0 463.4,774.1 463.9,774.2 464.4,774.2 464.9,774.3 465.4,774.4 465.9,774.5 466.4,774.6 466.9,774.7 467.4,774.7 467.9,774.8 468.4,774.9 468.9,775.0 469.4,775.1 469.9,775.1 470.4,775.2 470.9,775.3 471.4,775.4 471.9,775.5 472.4,775.5 472.9,775.6 473.4,775.7 473.9,775.8 474.4,775.9 474.9,775.9 475.4,776.0 475.9,776.1 476.4,776.2 476.9,776.2 477.4,776.3 477.9,776.4 478.4,776.5 478.9,776.5 479.4,776.6 479.9,776.7 480.4,776.8 480.9,776.8 481.4,776.9 481.9,777.0 482.4,777.1 482.9,777.1 483.4,777.2 483.9,777.3 484.4,777.3 484.9,777.4 485.4,777.5 485.9,777.5 486.4,777.6 486.9,777.7 487.4,777.8 487.9,777.8 488.4,777.9 488.9,778.0 489.4,778.0 489.9,778.1 490.4,778.1 490.9,778.2 491.4,778.3 491.9,778.3 492.4,778.4 492.9,778.5 493.4,778.5 493.9,778.6 494.4,778.6 494.9,778.7 495.4,778.8 495.9,778.8 496.4,778.9 496.9,778.9 497.4,779.0 497.9,779.0 498.4,779.1 498.9,779.1 499.4,779.2 499.9,779.2 500.4,779.3 500.9,779.3 501.4,779.4 501.9,779.4 502.4,779.5 502.9,779.5 503.4,779.6 503.9,779.6 504.4,779.7 504.9,779.7 505.4,779.8 505.9,779.8 506.4,779.9 506.9,779.9 507.4,779.9 507.9,780.0 508.4,780.0 508.9,780.1 509.4,780.1 509.9,780.1 510.4,780.2 510.9,780.2 511.4,780.2 511.9,780.3 512.4,780.3 512.9,780.4 513.4,780.4 513.9,780.4 514.4,780.5 514.9,780.5 515.4,780.5 515.9,780.6 516.4,780.6 516.9,780.6 517.4,780.7 517.9,780.7 518.4,780.7 518.9,780.8 519.4,780.8 519.9,780.8 520.4,780.9 520.9,780.9 521.4,780.9 521.9,781.0 522.4,781.0 522.9,781.0 523.4,781.0 523.9,781.1 524.4,781.1 524.9,781.1 525.4,781.2 525.9,781.2 526.4,781.2 526.9,781.3 527.4,781.3 527.9,781.3 528.4,781.3 528.9,781.4 529.4,781.4 529.9,781.4 530.4,781.5 530.9,781.5 531.4,781.5 531.9,781.5 532.4,781.6 532.9,781.6 533.4,781.6 533.9,781.6 534.4,781.7 534.9,781.7 535.4,781.7 535.9,781.7 536.4,781.8 536.9,781.8 537.4,781.8 537.9,781.8 538.4,781.9 538.9,781.9 539.4,781.9 539.9,781.9 540.4,782.0 540.9,782.0 541.4,782.0 541.9,782.0 542.4,782.1 542.9,782.1 543.4,782.1 543.9,782.1 544.4,782.2 544.9,782.2 545.4,782.2 545.9,782.2 546.4,782.3 546.9,782.3 547.4,782.3 547.9,782.3 548.4,782.3 548.9,782.4 549.4,782.4 549.9,782.4 550.4,782.4 550.9,782.4 551.4,782.5 551.9,782.5 552.4,782.5 552.9,782.5 553.4,782.6 553.9,782.6 554.4,782.6 554.9,782.6 555.4,782.6 555.9,782.7 556.4,782.7 556.9,782.7 557.4,782.7 557.9,782.7 558.4,782.8 558.9,782.8 559.4,782.8 559.9,782.8 560.4,782.8 560.9,782.9 561.4,782.9 561.9,782.9 562.4,782.9 562.9,782.9 563.4,783.0 563.9,783.0 564.4,783.0 564.9,783.0 565.4,783.0 565.9,783.1 566.4,783.1 566.9,783.1 567.4,783.1 567.9,783.1 568.4,783.2 568.9,783.2 569.4,783.2 569.9,783.2 570.4,783.2 570.9,783.3 571.4,783.3 571.9,783.3 572.0,783.3 572.4,783.3 572.9,783.3 573.4,783.4 573.9,783.4 574.4,783.4 574.9,783.4 575.4,783.4 575.9,783.4 576.4,783.5 576.9,783.5 577.4,783.5 577.9,783.5 578.4,783.5 578.9,783.6 579.4,783.6 579.9,783.6 580.4,783.6 580.9,783.6 581.4,783.6 581.9,783.7 582.4,783.7 582.9,783.7 583.4,783.7 583.9,783.7 584.4,783.7 584.9,783.8 585.4,783.8 585.9,783.8 586.4,783.8 586.9,783.8 587.4,783.8 587.9,783.8 588.4,783.9 588.9,783.9 589.4,783.9 589.9,783.9 590.4,783.9 590.9,783.9 591.4,784.0 591.9,784.0 592.4,784.0 592.9,784.0 593.4,784.0 593.9,784.0 594.4,784.0 594.9,784.1 595.4,784.1 595.9,784.1 596.4,784.1 596.9,784.1 597.4,784.1 597.9,784.1 598.4,784.2 598.9,784.2 599.4,784.2 599.9,784.2 600.4,784.2 600.9,784.2 601.4,784.2 601.9,784.3 602.4,784.3 602.9,784.3 603.4,784.3 603.9,784.3 604.4,784.3 604.9,784.4 605.4,784.4 605.9,784.4 606.4,784.4 606.9,784.4 607.4,784.4 607.9,784.4 608.4,784.5 608.9,784.5 609.4,784.5 609.9,784.5 610.4,784.5 610.9,784.5 611.4,784.5 611.9,784.6 612.4,784.6 612.9,784.6 613.4,784.6 613.9,784.6 614.4,784.6 614.9,784.7 615.4,784.7 615.9,784.7 616.4,784.7 616.9,784.7 617.4,784.7 617.9,784.8 618.4,784.8 618.9,784.8 619.0,784.8 619.4,784.8 619.9,784.8 620.4,784.8 620.9,784.9 621.4,784.9 621.9,784.9 622.4,784.9 622.9,784.9 623.4,785.0 623.9,785.0 624.4,785.0 624.9,785.0 625.4,785.0 625.9,785.0 626.4,785.1 626.9,785.1 627.4,785.1 627.9,785.1 628.4,785.1 628.9,785.1 629.4,785.2 629.9,785.2 630.4,785.2 630.9,785.2 631.4,785.2 631.9,785.3 632.4,785.3 632.9,785.3 633.4,785.3 633.9,785.3 634.4,785.3 634.9,785.4 635.4,785.4 635.9,785.4 636.4,785.4 636.9,785.4 637.4,785.5 637.9,785.5 638.4,785.5 638.9,785.5 639.4,785.5 639.9,785.6 640.4,785.6 640.9,785.6 641.4,785.6 641.9,785.6 642.4,785.6 642.9,785.7 643.4,785.7 643.9,785.7 644.4,785.7 644.9,785.7 645.4,785.8 645.9,785.8 646.4,785.8 646.9,785.8 647.4,785.8 647.9,785.9 648.4,785.9 648.9,785.9 649.4,785.9 649.9,785.9 650.4,786.0 650.9,786.0 651.4,786.0 651.9,786.0 652.4,786.0 652.9,786.0 653.4,786.1 653.9,786.1 654.4,786.1 654.9,786.1 655.4,786.1 655.9,786.2 656.4,786.2 656.9,786.2 657.4,786.2 657.9,786.2 658.4,786.3 658.9,786.3 659.4,786.3 659.9,786.3 660.4,786.3 660.9,786.4 661.4,786.4 661.9,786.4 662.4,786.4 662.9,786.4 663.4,786.5 663.9,786.5 664.4,786.5 664.9,786.5 665.4,786.5 665.9,786.6 666.4,786.6 666.9,786.6 667.4,786.6 667.9,786.6 668.4,786.7 668.9,786.7 669.4,786.7 669.9,786.7 670.4,786.7 670.9,786.8 671.4,786.8 671.9,786.8 672.4,786.8 672.9,786.9 673.4,786.9 673.9,786.9 674.4,786.9 674.9,786.9 675.4,787.0 675.9,787.0 676.4,787.0 676.5,787.0" fill="none" stroke="#E2531C" stroke-width="3.2" stroke-linejoin="round" stroke-linecap="butt"/>
<path d="M170.4,1205.0L170.9,1189.2 171.4,1174.5 171.9,1162.1 172.0,1160.0 172.4,1152.1 172.9,1142.9 173.4,1134.4 173.9,1126.5 174.4,1119.3 174.9,1112.7 175.4,1106.7 175.9,1101.1 176.0,1100.0 176.4,1095.9 176.9,1090.9 177.4,1086.3 177.9,1081.8 178.4,1077.7 178.9,1073.8 179.4,1070.1 179.9,1066.7 180.4,1063.5 180.9,1060.6 181.0,1060.0 181.4,1057.8 181.9,1055.3 182.4,1052.8 182.9,1050.5 183.4,1048.4 183.9,1046.3 184.4,1044.3 184.9,1042.4 185.4,1040.6 185.9,1038.8 186.4,1037.0 186.9,1035.3 187.0,1035.0 187.4,1033.7 187.9,1032.2 188.4,1030.7 188.9,1029.4 189.4,1028.1 189.9,1026.8 190.4,1025.5 190.9,1024.2 191.4,1022.8 191.9,1021.4 192.4,1019.9 192.9,1018.3 193.0,1018.0 193.4,1016.6 193.9,1014.6 194.4,1012.5 194.9,1010.3 195.4,1008.1 195.9,1005.9 196.4,1003.7 196.9,1001.6 197.4,999.7 197.6,999.0 197.9,998.0 198.4,996.3 198.9,994.7 199.4,993.1 199.9,991.6 200.4,990.1 200.9,988.6 201.4,987.2 201.9,985.8 202.4,984.4 202.9,983.1 203.4,981.7 203.9,980.4 204.4,979.0 204.9,977.7 205.4,976.3 205.9,974.9 206.4,973.5 206.9,972.1 207.4,970.7 207.9,969.2 208.4,967.8 208.9,966.3 209.4,964.8 209.9,963.4 210.4,961.9 210.9,960.5 211.4,959.0 211.9,957.6 212.4,956.2 212.9,954.7 213.4,953.3 213.9,952.0 214.4,950.6 214.9,949.2 215.1,948.7 215.4,947.9 215.9,946.6 216.4,945.2 216.9,943.9 217.4,942.6 217.9,941.3 218.4,940.0 218.9,938.7 219.4,937.4 219.9,936.2 220.4,934.9 220.9,933.7 221.4,932.4 221.9,931.2 222.4,930.0 222.9,928.9 223.4,927.7 223.9,926.6 224.4,925.5 224.5,925.3 224.9,924.4 225.4,923.4 225.9,922.3 226.4,921.3 226.9,920.3 227.4,919.3 227.9,918.3 228.4,917.3 228.9,916.4 229.4,915.4 229.9,914.5 230.4,913.5 230.9,912.6 231.4,911.7 231.9,910.8 232.4,909.9 232.9,909.0 233.4,908.2 233.9,907.3 234.4,906.4 234.9,905.6 235.0,905.4 235.4,904.7 235.9,903.9 236.4,903.0 236.9,902.2 237.4,901.3 237.9,900.5 238.4,899.7 238.9,898.9 239.4,898.0 239.9,897.2 240.4,896.4 240.9,895.6 241.4,894.8 241.9,894.1 242.4,893.3 242.9,892.5 243.4,891.8 243.9,891.0 244.4,890.3 244.9,889.6 245.4,888.9 245.9,888.2 246.4,887.5 246.9,886.8 247.4,886.1 247.9,885.5 248.4,884.9 248.9,884.2 249.4,883.6 249.9,883.0 250.4,882.3 250.9,881.7 251.4,881.1 251.9,880.5 252.4,879.9 252.9,879.3 253.4,878.7 253.9,878.1 254.4,877.6 254.9,877.0 255.4,876.4 255.9,875.9 256.4,875.4 256.9,874.8 257.4,874.3 257.9,873.8 258.4,873.3 258.9,872.9 259.4,872.4 259.9,872.0 260.4,871.5 260.9,871.1 261.4,870.7 261.9,870.3 262.4,869.9 262.9,869.5 263.4,869.2 263.9,868.8 264.4,868.4 264.9,868.1 265.4,867.7 265.9,867.3 266.4,867.0 266.9,866.7 267.4,866.3 267.9,866.0 268.4,865.7 268.9,865.4 269.4,865.1 269.9,864.9 270.4,864.6 270.9,864.4 271.4,864.1 271.9,863.9 272.4,863.7 272.9,863.5 273.4,863.4 273.6,863.3 273.9,863.2 274.4,863.1 274.9,862.9 275.4,862.8 275.9,862.6 276.4,862.5 276.9,862.4 277.4,862.2 277.9,862.1 278.4,862.0 278.9,861.8 279.4,861.7 279.9,861.6 280.4,861.5 280.9,861.4 281.4,861.3 281.9,861.3 282.4,861.2 282.9,861.1 283.4,861.1 283.9,861.0 284.4,861.0 284.9,861.0 285.3,861.0 285.4,861.0 285.9,861.0 286.4,861.0 286.9,861.0 287.4,861.0 287.9,861.0 288.4,861.0 288.9,861.0 289.4,861.0 289.9,861.0 290.4,861.0 290.9,861.0 291.4,861.0 291.9,861.0 292.4,861.0 292.9,861.0 293.4,861.0 293.9,861.0 294.4,861.0 294.9,861.0 295.4,861.0 295.9,861.0 296.4,861.0 296.9,861.0 297.4,861.0 297.9,861.0 298.4,861.0 298.9,861.0 299.4,861.0 299.9,861.0 300.4,861.0 300.9,861.0 301.4,861.0 301.9,861.0 302.4,861.0 302.9,861.0 303.4,861.0 303.9,861.0 304.4,861.0 304.9,861.0 305.4,861.0 305.9,861.0 306.4,861.0 306.9,861.0 307.4,861.0 307.9,861.0 308.4,861.0 308.9,861.0 309.4,861.0 309.9,861.0 310.4,861.0 310.9,861.0 311.4,861.0 311.9,861.0 312.4,861.0 312.9,861.0 313.4,861.0 313.9,861.0 314.4,861.0 314.9,861.0 315.4,861.0 315.9,861.0 316.4,861.0 316.9,861.0 317.4,861.0 317.9,861.0 318.4,861.0 318.9,861.0 319.4,861.0 319.9,861.0 320.4,861.0 320.9,861.0 321.4,861.0 321.9,861.0 322.4,861.0 322.9,861.0 323.4,861.0 323.9,861.0 324.4,861.0 324.9,861.0 325.4,861.0 325.9,861.0 326.4,861.1 326.9,861.1 327.4,861.1 327.9,861.2 328.4,861.2 328.9,861.3 329.4,861.3 329.9,861.4 330.4,861.4 330.9,861.5 331.4,861.6 331.9,861.6 332.4,861.7 332.9,861.8 333.4,861.9 333.9,861.9 334.4,862.0 334.9,862.1 335.4,862.2 335.9,862.3 336.4,862.4 336.9,862.5 337.4,862.6 337.9,862.7 338.4,862.8 338.9,862.9 339.4,863.0 339.9,863.1 340.4,863.2 340.9,863.3 341.4,863.4 341.9,863.5 342.4,863.6 342.9,863.7 343.4,863.8 343.9,863.9 344.4,864.0 344.9,864.2 345.4,864.3 345.9,864.4 346.4,864.5 346.9,864.6 347.4,864.7 347.9,864.8 348.4,864.9 348.9,865.0 349.4,865.0 349.7,865.1 349.9,865.1 350.4,865.2 350.9,865.3 351.4,865.4 351.9,865.5 352.4,865.6 352.9,865.7 353.4,865.8 353.9,865.9 354.4,866.0 354.9,866.1 355.4,866.2 355.9,866.3 356.4,866.4 356.9,866.5 357.4,866.6 357.9,866.7 358.4,866.8 358.9,866.9 359.4,867.0 359.9,867.1 360.4,867.2 360.9,867.3 361.4,867.4 361.9,867.6 362.4,867.7 362.9,867.8 363.4,867.9 363.9,868.0 364.4,868.1 364.9,868.2 365.4,868.3 365.9,868.4 366.4,868.5 366.9,868.7 367.4,868.8 367.9,868.9 368.4,869.0 368.9,869.1 369.4,869.2 369.9,869.3 370.4,869.4 370.9,869.5 371.4,869.6 371.9,869.8 372.4,869.9 372.9,870.0 373.4,870.1 373.9,870.2 374.4,870.3 374.9,870.4 375.4,870.5 375.9,870.6 376.4,870.7 376.9,870.8 377.4,871.0 377.9,871.1 378.4,871.2 378.9,871.3 379.4,871.4 379.9,871.5 380.0,871.5 380.4,871.6 380.9,871.7 381.4,871.8 381.9,871.9 382.4,872.0 382.9,872.1 383.4,872.2 383.9,872.3 384.4,872.4 384.9,872.5 385.4,872.6 385.9,872.7 386.4,872.8 386.9,872.9 387.4,873.0 387.9,873.2 388.4,873.3 388.9,873.4 389.4,873.5 389.9,873.6 390.4,873.7 390.9,873.8 391.4,873.9 391.9,874.0 392.4,874.1 392.9,874.2 393.4,874.3 393.9,874.4 394.4,874.5 394.9,874.6 395.4,874.7 395.9,874.8 396.4,874.9 396.9,875.0 397.4,875.2 397.9,875.3 398.4,875.4 398.9,875.5 399.4,875.6 399.9,875.7 400.4,875.8 400.9,875.9 401.4,876.0 401.9,876.1 402.4,876.2 402.9,876.3 403.4,876.4 403.9,876.5 404.4,876.6 404.9,876.7 405.4,876.8 405.9,876.9 406.4,877.0 406.9,877.1 407.4,877.2 407.9,877.3 408.4,877.4 408.9,877.6 409.4,877.7 409.9,877.8 410.4,877.9 410.9,878.0 411.4,878.1 411.9,878.2 412.4,878.3 412.9,878.4 413.4,878.5 413.9,878.6 414.4,878.7 414.9,878.8 415.4,878.9 415.9,879.0 416.4,879.1 416.9,879.2 417.4,879.3 417.9,879.4 418.4,879.5 418.9,879.6 419.4,879.7 419.9,879.8 420.4,879.9 420.9,880.0 421.4,880.1 421.9,880.2 422.4,880.3 422.9,880.4 423.4,880.5 423.9,880.5 424.4,880.6 424.9,880.7 425.4,880.8 425.9,880.9 426.4,881.0 426.9,881.1 427.4,881.2 427.9,881.3 428.4,881.4 428.9,881.5 429.4,881.6 429.9,881.7 430.4,881.8 430.9,881.9 431.1,881.9 431.4,882.0 431.9,882.0 432.4,882.1 432.9,882.2 433.4,882.3 433.9,882.4 434.4,882.5 434.9,882.6 435.4,882.7 435.9,882.8 436.4,882.9 436.9,883.0 437.4,883.1 437.9,883.2 438.4,883.3 438.9,883.4 439.4,883.5 439.9,883.6 440.4,883.7 440.9,883.8 441.4,883.9 441.9,884.0 442.4,884.1 442.9,884.2 443.4,884.3 443.9,884.4 444.4,884.5 444.9,884.6 445.4,884.8 445.9,884.9 446.4,885.0 446.9,885.1 447.4,885.2 447.9,885.3 448.4,885.4 448.9,885.5 449.4,885.6 449.9,885.7 450.4,885.8 450.9,885.9 451.4,886.0 451.9,886.1 452.4,886.2 452.9,886.3 453.4,886.4 453.9,886.5 454.4,886.6 454.9,886.7 455.4,886.8 455.9,886.8 456.4,886.9 456.9,887.0 457.4,887.1 457.9,887.2 458.4,887.3 458.9,887.4 459.4,887.5 459.9,887.6 460.4,887.7 460.9,887.7 461.4,887.8 461.9,887.9 462.4,888.0 462.9,888.1 463.4,888.1 463.9,888.2 464.4,888.3 464.9,888.4 465.4,888.4 465.9,888.5 466.4,888.6 466.9,888.7 467.4,888.7 467.9,888.8 468.4,888.9 468.9,888.9 469.4,889.0 469.9,889.0 470.4,889.1 470.9,889.1 471.4,889.2 471.9,889.2 472.4,889.3 472.9,889.3 473.4,889.4 473.9,889.4 474.4,889.5 474.9,889.5 475.4,889.5 475.9,889.6 476.4,889.6 476.9,889.6 477.4,889.7 477.9,889.7 478.1,889.7 478.4,889.7 478.9,889.7 479.4,889.8 479.9,889.8 480.4,889.8 480.9,889.8 481.4,889.8 481.9,889.9 482.4,889.9 482.9,889.9 483.4,889.9 483.9,890.0 484.4,890.0 484.9,890.0 485.4,890.0 485.9,890.0 486.4,890.1 486.9,890.1 487.4,890.1 487.9,890.1 488.4,890.1 488.9,890.2 489.4,890.2 489.9,890.2 490.4,890.2 490.9,890.2 491.4,890.3 491.9,890.3 492.4,890.3 492.9,890.3 493.4,890.3 493.9,890.4 494.4,890.4 494.9,890.4 495.4,890.4 495.9,890.4 496.4,890.5 496.9,890.5 497.4,890.5 497.9,890.5 498.4,890.5 498.9,890.5 499.4,890.6 499.9,890.6 500.4,890.6 500.9,890.6 501.4,890.6 501.9,890.6 502.4,890.7 502.9,890.7 503.4,890.7 503.9,890.7 504.4,890.7 504.9,890.7 505.4,890.7 505.9,890.8 506.4,890.8 506.9,890.8 507.4,890.8 507.9,890.8 508.4,890.8 508.9,890.8 509.4,890.9 509.9,890.9 510.4,890.9 510.9,890.9 511.4,890.9 511.9,890.9 512.4,890.9 512.9,890.9 513.4,891.0 513.9,891.0 514.4,891.0 514.9,891.0 515.4,891.0 515.9,891.0 516.4,891.0 516.9,891.0 517.4,891.0 517.9,891.1 518.4,891.1 518.9,891.1 519.4,891.1 519.9,891.1 520.4,891.1 520.9,891.1 521.4,891.1 521.9,891.1 522.4,891.1 522.9,891.2 523.4,891.2 523.9,891.2 524.4,891.2 524.9,891.2 525.4,891.2 525.9,891.2 526.4,891.2 526.9,891.2 527.4,891.2 527.9,891.2 528.4,891.2 528.9,891.2 529.4,891.2 529.9,891.2 530.4,891.2 530.9,891.3 531.4,891.3 531.9,891.3 532.4,891.3 532.9,891.3 533.4,891.3 533.9,891.3 534.4,891.3 534.9,891.3 535.4,891.3 535.9,891.3 536.4,891.3 536.9,891.3 537.4,891.3 537.9,891.3 538.4,891.3 538.9,891.3 539.4,891.3 539.9,891.3 540.4,891.3 540.7,891.3 540.9,891.3 541.4,891.3 541.9,891.3 542.4,891.3 542.9,891.3 543.4,891.3 543.9,891.3 544.4,891.3 544.9,891.3 545.4,891.3 545.9,891.3 546.4,891.3 546.9,891.3 547.4,891.3 547.9,891.3 548.4,891.3 548.9,891.3 549.4,891.2 549.9,891.2 550.4,891.2 550.9,891.2 551.4,891.2 551.9,891.2 552.4,891.2 552.9,891.2 553.4,891.2 553.9,891.2 554.4,891.2 554.9,891.2 555.4,891.1 555.9,891.1 556.4,891.1 556.9,891.1 557.4,891.1 557.9,891.1 558.4,891.1 558.9,891.1 559.4,891.1 559.9,891.1 560.4,891.0 560.9,891.0 561.4,891.0 561.9,891.0 562.4,891.0 562.9,891.0 563.4,891.0 563.9,891.0 564.4,890.9 564.9,890.9 565.4,890.9 565.9,890.9 566.4,890.9 566.9,890.9 567.4,890.9 567.9,890.8 568.4,890.8 568.9,890.8 569.4,890.8 569.9,890.8 570.4,890.8 570.9,890.8 571.4,890.7 571.9,890.7 572.4,890.7 572.9,890.7 573.4,890.7 573.9,890.7 574.4,890.6 574.9,890.6 575.4,890.6 575.9,890.6 576.4,890.6 576.9,890.6 577.4,890.5 577.9,890.5 578.4,890.5 578.9,890.5 579.4,890.5 579.9,890.5 580.4,890.4 580.9,890.4 581.4,890.4 581.9,890.4 582.4,890.4 582.9,890.4 583.4,890.3 583.9,890.3 584.4,890.3 584.9,890.3 585.4,890.3 585.9,890.3 586.4,890.2 586.9,890.2 587.4,890.2 587.9,890.2 588.4,890.2 588.9,890.2 589.4,890.1 589.9,890.1 590.4,890.1 590.9,890.1 591.4,890.1 591.9,890.1 592.4,890.0 592.9,890.0 593.4,890.0 593.9,890.0 594.4,890.0 594.9,890.0 595.4,889.9 595.9,889.9 596.4,889.9 596.9,889.9 597.4,889.9 597.9,889.9 598.4,889.8 598.9,889.8 599.4,889.8 599.9,889.8 600.4,889.8 600.9,889.8 601.4,889.8 601.9,889.7 602.4,889.7 602.9,889.7 603.3,889.7 603.4,889.7 603.9,889.7 604.4,889.7 604.9,889.7 605.4,889.6 605.9,889.6 606.4,889.6 606.9,889.6 607.4,889.6 607.9,889.6 608.4,889.6 608.9,889.5 609.4,889.5 609.9,889.5 610.4,889.5 610.9,889.5 611.4,889.5 611.9,889.5 612.4,889.4 612.9,889.4 613.4,889.4 613.9,889.4 614.4,889.4 614.9,889.4 615.4,889.4 615.9,889.3 616.4,889.3 616.9,889.3 617.4,889.3 617.9,889.3 618.4,889.3 618.9,889.3 619.4,889.2 619.9,889.2 620.4,889.2 620.9,889.2 621.4,889.2 621.9,889.2 622.4,889.2 622.9,889.1 623.4,889.1 623.9,889.1 624.4,889.1 624.9,889.1 625.4,889.1 625.9,889.1 626.4,889.0 626.9,889.0 627.4,889.0 627.9,889.0 628.4,889.0 628.9,889.0 629.4,889.0 629.9,888.9 630.4,888.9 630.9,888.9 631.4,888.9 631.9,888.9 632.4,888.9 632.9,888.9 633.4,888.8 633.9,888.8 634.4,888.8 634.9,888.8 635.4,888.8 635.9,888.8 636.4,888.7 636.9,888.7 637.4,888.7 637.9,888.7 638.4,888.7 638.9,888.7 639.4,888.7 639.9,888.6 640.4,888.6 640.9,888.6 641.4,888.6 641.9,888.6 642.4,888.6 642.9,888.6 643.4,888.5 643.9,888.5 644.4,888.5 644.9,888.5 645.4,888.5 645.9,888.5 646.4,888.4 646.9,888.4 647.4,888.4 647.9,888.4 648.4,888.4 648.9,888.4 649.4,888.4 649.9,888.3 650.4,888.3 650.9,888.3 651.4,888.3 651.9,888.3 652.4,888.3 652.9,888.2 653.4,888.2 653.9,888.2 654.4,888.2 654.9,888.2 655.4,888.2 655.9,888.2 656.4,888.1 656.9,888.1 657.4,888.1 657.9,888.1 658.4,888.1 658.9,888.1 659.4,888.0 659.9,888.0 660.4,888.0 660.9,888.0 661.4,888.0 661.9,888.0 662.4,888.0 662.9,887.9 663.4,887.9 663.9,887.9 664.4,887.9 664.9,887.9 665.4,887.9 665.9,887.8 666.4,887.8 666.9,887.8 667.4,887.8 667.9,887.8 668.4,887.8 668.9,887.7 669.4,887.7 669.9,887.7 670.4,887.7 670.9,887.7 671.4,887.7 671.9,887.6 672.4,887.6 672.9,887.6 673.4,887.6 673.9,887.6 674.4,887.6 674.9,887.6 675.4,887.5 675.9,887.5 676.4,887.5 676.5,887.5" fill="none" stroke="#7E2F8E" stroke-width="3.2" stroke-linejoin="round" stroke-linecap="butt"/>
<path d="M170.3,1205.0L170.5,1187.0 170.8,1175.4 171.3,1161.3 171.8,1151.7 172.3,1144.3 172.5,1141.5 172.8,1137.3 173.3,1130.7 173.8,1124.7 174.3,1119.2 174.8,1114.3 175.3,1109.7 175.8,1105.5 176.3,1101.7 176.8,1098.1 177.1,1096.0 177.3,1094.7 177.8,1091.5 178.3,1088.7 178.8,1086.0 179.3,1083.4 179.8,1081.1 180.3,1078.8 180.8,1076.5 181.3,1074.3 181.8,1072.1 182.3,1069.8 182.8,1067.5 183.1,1066.0 183.3,1065.0 183.8,1062.5 184.3,1060.0 184.8,1057.4 185.3,1054.8 185.8,1052.3 186.3,1049.7 186.8,1047.2 187.3,1044.8 187.8,1042.4 188.3,1040.0 188.8,1037.8 189.2,1036.0 189.3,1035.6 189.8,1033.4 190.3,1031.3 190.8,1029.2 191.3,1027.2 191.8,1025.1 192.3,1023.2 192.8,1021.3 193.3,1019.4 193.8,1017.6 194.3,1015.9 194.8,1014.3 195.2,1013.0 195.3,1012.7 195.8,1011.2 196.3,1009.7 196.8,1008.2 197.3,1006.8 197.8,1005.4 198.3,1004.1 198.8,1002.7 199.3,1001.4 199.8,1000.2 200.3,998.9 200.8,997.7 201.3,996.6 201.8,995.4 202.3,994.4 202.8,993.3 203.3,992.3 203.8,991.3 204.2,990.6 204.3,990.4 204.8,989.5 205.3,988.6 205.8,987.7 206.3,986.9 206.8,986.0 207.3,985.2 207.8,984.4 208.3,983.6 208.8,982.8 209.3,982.1 209.8,981.3 210.3,980.6 210.8,979.9 211.3,979.3 211.8,978.7 212.3,978.1 212.8,977.5 213.3,976.9 213.8,976.4 214.3,975.9 214.8,975.5 215.3,975.1 215.8,974.7 216.3,974.2 216.8,973.8 217.3,973.4 217.8,973.0 218.3,972.7 218.8,972.3 219.3,971.9 219.8,971.5 220.3,971.2 220.8,970.8 221.3,970.5 221.8,970.2 222.3,969.8 222.8,969.5 223.3,969.2 223.8,968.9 224.3,968.6 224.8,968.3 225.3,968.1 225.8,967.8 226.3,967.5 226.8,967.3 227.3,967.0 227.8,966.8 228.3,966.6 228.8,966.4 229.3,966.2 229.8,966.0 230.3,965.8 230.8,965.6 231.3,965.5 231.8,965.3 232.3,965.2 232.8,965.0 232.9,965.0 233.3,964.9 233.8,964.8 234.3,964.7 234.8,964.5 235.3,964.4 235.8,964.3 236.3,964.2 236.8,964.1 237.3,964.0 237.8,963.9 238.3,963.8 238.8,963.7 239.3,963.6 239.8,963.5 240.3,963.4 240.8,963.3 241.3,963.2 241.8,963.1 242.3,963.0 242.8,962.9 243.3,962.8 243.8,962.8 244.3,962.7 244.8,962.6 245.3,962.5 245.8,962.5 246.3,962.4 246.8,962.3 247.3,962.3 247.8,962.2 248.3,962.1 248.8,962.1 249.3,962.0 249.8,962.0 250.3,961.9 250.8,961.9 251.3,961.8 251.8,961.8 252.3,961.7 252.8,961.7 253.3,961.6 253.8,961.6 254.3,961.6 254.8,961.5 255.3,961.5 255.6,961.5 255.8,961.5 256.3,961.5 256.8,961.4 257.3,961.4 257.8,961.4 258.3,961.4 258.8,961.3 259.3,961.3 259.8,961.3 260.3,961.3 260.8,961.3 261.3,961.2 261.8,961.2 262.3,961.2 262.8,961.2 263.3,961.2 263.8,961.1 264.3,961.1 264.8,961.1 265.3,961.1 265.8,961.1 266.3,961.1 266.8,961.0 267.3,961.0 267.8,961.0 268.3,961.0 268.8,961.0 269.3,961.0 269.8,961.0 270.3,960.9 270.8,960.9 271.3,960.9 271.8,960.9 272.3,960.9 272.8,960.9 273.3,960.9 273.8,960.9 274.3,960.8 274.8,960.8 275.3,960.8 275.8,960.8 276.3,960.8 276.8,960.8 277.3,960.8 277.8,960.8 278.3,960.7 278.8,960.7 279.3,960.7 279.8,960.7 280.3,960.7 280.8,960.7 281.3,960.7 281.8,960.7 282.3,960.7 282.8,960.7 283.3,960.6 283.8,960.6 284.3,960.6 284.8,960.6 285.3,960.6 285.8,960.6 286.3,960.6 286.8,960.6 287.3,960.6 287.8,960.5 288.3,960.5 288.8,960.5 289.3,960.5 289.8,960.5 290.0,960.5 290.3,960.5 290.8,960.5 291.3,960.5 291.8,960.5 292.3,960.4 292.8,960.4 293.3,960.4 293.8,960.4 294.3,960.4 294.8,960.4 295.3,960.4 295.8,960.4 296.3,960.4 296.8,960.3 297.3,960.3 297.8,960.3 298.3,960.3 298.8,960.3 299.3,960.3 299.8,960.3 300.3,960.3 300.8,960.2 301.3,960.2 301.8,960.2 302.3,960.2 302.8,960.2 303.3,960.2 303.8,960.2 304.3,960.2 304.8,960.2 305.3,960.1 305.8,960.1 306.3,960.1 306.8,960.1 307.3,960.1 307.8,960.1 308.3,960.1 308.8,960.1 309.3,960.0 309.8,960.0 310.3,960.0 310.8,960.0 311.3,960.0 311.8,960.0 312.3,960.0 312.8,960.0 313.3,960.0 313.8,959.9 314.3,959.9 314.8,959.9 315.3,959.9 315.8,959.9 316.3,959.9 316.8,959.9 317.3,959.9 317.8,959.9 318.3,959.8 318.8,959.8 319.3,959.8 319.8,959.8 320.3,959.8 320.8,959.8 321.3,959.8 321.8,959.8 322.3,959.8 322.8,959.7 323.3,959.7 323.8,959.7 324.3,959.7 324.8,959.7 325.3,959.7 325.8,959.7 326.3,959.7 326.8,959.7 327.3,959.7 327.8,959.7 328.3,959.6 328.8,959.6 329.3,959.6 329.8,959.6 330.3,959.6 330.8,959.6 331.3,959.6 331.8,959.6 332.3,959.6 332.8,959.6 333.3,959.6 333.8,959.6 334.3,959.5 334.8,959.5 335.3,959.5 335.8,959.5 336.3,959.5 336.8,959.5 337.3,959.5 337.8,959.5 338.3,959.5 338.8,959.5 339.3,959.5 339.8,959.5 340.3,959.5 340.8,959.5 341.3,959.5 341.8,959.5 342.3,959.4 342.8,959.4 343.3,959.4 343.8,959.4 344.3,959.4 344.8,959.4 345.3,959.4 345.8,959.4 346.3,959.4 346.8,959.4 347.3,959.4 347.8,959.4 348.3,959.4 348.8,959.4 349.3,959.4 349.8,959.4 350.3,959.4 350.8,959.4 351.3,959.4 351.8,959.4 352.3,959.4 352.8,959.4 352.9,959.4 353.3,959.4 353.8,959.4 354.3,959.4 354.8,959.4 355.3,959.4 355.8,959.4 356.3,959.4 356.8,959.4 357.3,959.4 357.8,959.5 358.3,959.5 358.8,959.5 359.3,959.5 359.8,959.5 360.3,959.5 360.8,959.5 361.3,959.6 361.8,959.6 362.3,959.6 362.8,959.6 363.3,959.6 363.8,959.7 364.3,959.7 364.8,959.7 365.3,959.7 365.8,959.8 366.3,959.8 366.8,959.8 367.3,959.8 367.8,959.9 368.3,959.9 368.8,959.9 369.3,960.0 369.8,960.0 370.3,960.0 370.8,960.1 371.3,960.1 371.8,960.1 372.3,960.2 372.8,960.2 373.3,960.2 373.8,960.3 374.3,960.3 374.8,960.4 375.3,960.4 375.8,960.4 376.3,960.5 376.8,960.5 377.3,960.6 377.8,960.6 378.3,960.6 378.8,960.7 379.3,960.7 379.8,960.8 380.3,960.8 380.8,960.9 381.3,960.9 381.8,961.0 382.3,961.0 382.8,961.1 383.3,961.1 383.8,961.2 384.3,961.2 384.8,961.3 385.3,961.3 385.8,961.3 386.3,961.4 386.8,961.5 387.3,961.5 387.8,961.6 388.3,961.6 388.8,961.7 389.3,961.7 389.8,961.8 390.3,961.8 390.8,961.9 391.3,961.9 391.8,962.0 392.3,962.0 392.8,962.1 393.3,962.1 393.8,962.2 394.3,962.2 394.8,962.3 395.3,962.4 395.8,962.4 396.3,962.5 396.8,962.5 397.3,962.6 397.8,962.6 398.3,962.7 398.8,962.7 399.3,962.8 399.8,962.8 400.3,962.9 400.8,963.0 401.3,963.0 401.8,963.1 402.3,963.1 402.8,963.2 403.3,963.2 403.8,963.3 404.3,963.3 404.8,963.4 405.3,963.4 405.8,963.5 406.3,963.6 406.8,963.6 407.3,963.7 407.8,963.7 408.3,963.8 408.8,963.8 409.3,963.9 409.8,963.9 410.3,964.0 410.8,964.0 411.3,964.1 411.8,964.1 412.3,964.2 412.8,964.2 413.3,964.3 413.8,964.3 414.3,964.4 414.8,964.4 415.3,964.5 415.5,964.5 415.8,964.5 416.3,964.6 416.8,964.6 417.3,964.7 417.8,964.7 418.3,964.8 418.8,964.8 419.3,964.9 419.8,964.9 420.3,965.0 420.8,965.0 421.3,965.1 421.8,965.1 422.3,965.2 422.8,965.2 423.3,965.3 423.8,965.3 424.3,965.4 424.8,965.5 425.3,965.5 425.8,965.6 426.3,965.6 426.8,965.7 427.3,965.7 427.8,965.8 428.3,965.8 428.8,965.9 429.3,966.0 429.8,966.0 430.3,966.1 430.8,966.1 431.3,966.2 431.8,966.2 432.3,966.3 432.8,966.4 433.3,966.4 433.8,966.5 434.3,966.5 434.8,966.6 435.3,966.7 435.8,966.7 436.3,966.8 436.8,966.8 437.3,966.9 437.8,966.9 438.3,967.0 438.8,967.1 439.3,967.1 439.8,967.2 440.3,967.3 440.8,967.3 441.3,967.4 441.8,967.4 442.3,967.5 442.8,967.6 443.3,967.6 443.8,967.7 444.3,967.7 444.8,967.8 445.3,967.9 445.8,967.9 446.3,968.0 446.8,968.1 447.3,968.1 447.8,968.2 448.3,968.2 448.8,968.3 449.3,968.4 449.8,968.4 450.3,968.5 450.8,968.6 451.3,968.6 451.8,968.7 452.3,968.7 452.8,968.8 453.3,968.9 453.8,968.9 454.3,969.0 454.8,969.1 455.3,969.1 455.8,969.2 456.3,969.3 456.8,969.3 457.3,969.4 457.8,969.4 458.3,969.5 458.8,969.6 459.3,969.6 459.8,969.7 460.3,969.8 460.8,969.8 461.3,969.9 461.8,970.0 462.3,970.0 462.8,970.1 463.3,970.1 463.8,970.2 464.3,970.3 464.8,970.3 465.3,970.4 465.8,970.5 466.3,970.5 466.8,970.6 467.3,970.7 467.8,970.7 468.3,970.8 468.8,970.8 469.3,970.9 469.8,971.0 470.3,971.0 470.8,971.1 471.3,971.2 471.8,971.2 472.3,971.3 472.8,971.3 473.3,971.4 473.8,971.5 474.3,971.5 474.8,971.6 475.3,971.7 475.8,971.7 476.3,971.8 476.8,971.8 477.3,971.9 477.8,972.0 478.1,972.0 478.3,972.0 478.8,972.1 479.3,972.1 479.8,972.2 480.3,972.3 480.8,972.3 481.3,972.4 481.8,972.5 482.3,972.5 482.8,972.6 483.3,972.7 483.8,972.7 484.3,972.8 484.8,972.9 485.3,972.9 485.8,973.0 486.3,973.1 486.8,973.2 487.3,973.2 487.8,973.3 488.3,973.4 488.8,973.4 489.3,973.5 489.8,973.6 490.3,973.7 490.8,973.7 491.3,973.8 491.8,973.9 492.3,973.9 492.8,974.0 493.3,974.1 493.8,974.2 494.3,974.2 494.8,974.3 495.3,974.4 495.8,974.5 496.3,974.5 496.8,974.6 497.3,974.7 497.8,974.8 498.3,974.8 498.8,974.9 499.3,975.0 499.8,975.1 500.3,975.2 500.8,975.2 501.3,975.3 501.8,975.4 502.3,975.5 502.8,975.5 503.3,975.6 503.8,975.7 504.3,975.8 504.8,975.8 505.3,975.9 505.8,976.0 506.3,976.1 506.8,976.1 507.3,976.2 507.8,976.3 508.3,976.3 508.8,976.4 509.3,976.5 509.8,976.6 510.3,976.6 510.8,976.7 511.3,976.8 511.8,976.9 512.3,976.9 512.8,977.0 513.3,977.1 513.8,977.1 514.3,977.2 514.8,977.3 515.3,977.3 515.8,977.4 516.3,977.5 516.8,977.5 517.3,977.6 517.8,977.7 518.3,977.7 518.8,977.8 519.3,977.9 519.8,977.9 520.3,978.0 520.8,978.1 521.3,978.1 521.8,978.2 522.3,978.2 522.8,978.3 523.3,978.3 523.8,978.4 524.3,978.5 524.8,978.5 525.3,978.6 525.8,978.6 526.3,978.7 526.8,978.7 527.3,978.8 527.8,978.8 528.3,978.9 528.8,978.9 529.3,979.0 529.8,979.0 530.3,979.1 530.8,979.1 531.3,979.2 531.8,979.2 532.3,979.3 532.8,979.3 533.3,979.3 533.8,979.4 534.3,979.4 534.8,979.5 535.3,979.5 535.8,979.5 536.3,979.6 536.8,979.6 537.3,979.6 537.8,979.6 538.3,979.7 538.8,979.7 539.3,979.7 539.8,979.8 540.3,979.8 540.7,979.8 540.8,979.8 541.3,979.8 541.8,979.8 542.3,979.9 542.8,979.9 543.3,979.9 543.8,979.9 544.3,980.0 544.8,980.0 545.3,980.0 545.8,980.0 546.3,980.0 546.8,980.1 547.3,980.1 547.8,980.1 548.3,980.1 548.8,980.2 549.3,980.2 549.8,980.2 550.3,980.2 550.8,980.2 551.3,980.3 551.8,980.3 552.3,980.3 552.8,980.3 553.3,980.3 553.8,980.4 554.3,980.4 554.8,980.4 555.3,980.4 555.8,980.4 556.3,980.5 556.8,980.5 557.3,980.5 557.8,980.5 558.3,980.5 558.8,980.6 559.3,980.6 559.8,980.6 560.3,980.6 560.8,980.6 561.3,980.6 561.8,980.7 562.3,980.7 562.8,980.7 563.3,980.7 563.8,980.7 564.3,980.8 564.8,980.8 565.3,980.8 565.8,980.8 566.3,980.8 566.8,980.8 567.3,980.9 567.8,980.9 568.3,980.9 568.8,980.9 569.3,980.9 569.8,980.9 570.3,980.9 570.8,981.0 571.3,981.0 571.8,981.0 572.3,981.0 572.8,981.0 573.3,981.0 573.8,981.1 574.3,981.1 574.8,981.1 575.3,981.1 575.8,981.1 576.3,981.1 576.8,981.1 577.3,981.1 577.8,981.2 578.3,981.2 578.8,981.2 579.3,981.2 579.8,981.2 580.3,981.2 580.8,981.2 581.3,981.2 581.8,981.3 582.3,981.3 582.8,981.3 583.3,981.3 583.8,981.3 584.3,981.3 584.8,981.3 585.3,981.3 585.8,981.3 586.3,981.3 586.8,981.4 587.3,981.4 587.8,981.4 588.3,981.4 588.8,981.4 589.3,981.4 589.8,981.4 590.3,981.4 590.8,981.4 591.3,981.4 591.8,981.4 592.3,981.4 592.8,981.4 593.3,981.4 593.8,981.4 594.3,981.5 594.8,981.5 595.3,981.5 595.8,981.5 596.3,981.5 596.8,981.5 597.3,981.5 597.8,981.5 598.3,981.5 598.8,981.5 599.3,981.5 599.8,981.5 600.3,981.5 600.8,981.5 601.3,981.5 601.8,981.5 602.3,981.5 602.8,981.5 603.3,981.5 603.8,981.5 604.3,981.5 604.8,981.5 605.3,981.5 605.8,981.5 606.3,981.5 606.8,981.5 607.3,981.5 607.8,981.5 608.3,981.5 608.8,981.5 609.3,981.5 609.8,981.5 610.3,981.5 610.8,981.5 611.3,981.5 611.8,981.5 612.3,981.5 612.8,981.5 613.3,981.5 613.8,981.5 614.3,981.5 614.8,981.5 615.3,981.5 615.8,981.5 616.3,981.5 616.8,981.5 617.3,981.5 617.8,981.5 618.3,981.5 618.8,981.5 619.3,981.5 619.8,981.5 620.3,981.5 620.8,981.5 621.3,981.5 621.8,981.5 622.3,981.5 622.8,981.5 623.3,981.5 623.8,981.5 624.3,981.5 624.8,981.5 625.3,981.5 625.8,981.5 626.3,981.5 626.8,981.5 627.3,981.5 627.8,981.5 628.3,981.5 628.8,981.5 629.3,981.5 629.8,981.5 630.3,981.5 630.8,981.5 631.3,981.5 631.8,981.5 632.3,981.5 632.8,981.5 633.3,981.5 633.8,981.5 634.3,981.5 634.8,981.5 635.3,981.5 635.8,981.5 636.3,981.5 636.8,981.5 637.3,981.5 637.8,981.5 638.3,981.5 638.8,981.5 639.3,981.5 639.8,981.5 640.3,981.5 640.8,981.5 641.3,981.5 641.8,981.5 642.3,981.5 642.8,981.5 643.3,981.5 643.8,981.5 644.3,981.5 644.8,981.5 645.3,981.5 645.8,981.5 646.3,981.5 646.8,981.5 647.3,981.5 647.8,981.5 648.3,981.5 648.8,981.5 649.3,981.5 649.8,981.5 650.3,981.5 650.8,981.5 651.3,981.5 651.8,981.5 652.3,981.5 652.8,981.5 653.3,981.5 653.8,981.5 654.3,981.5 654.8,981.5 655.3,981.5 655.8,981.5 656.3,981.5 656.8,981.5 657.3,981.5 657.8,981.5 658.3,981.5 658.8,981.5 659.3,981.5 659.8,981.5 660.3,981.5 660.8,981.5 661.3,981.5 661.8,981.5 662.3,981.5 662.8,981.5 663.3,981.5 663.8,981.5 664.3,981.5 664.8,981.5 665.3,981.5 665.8,981.5 666.3,981.5 666.8,981.5 667.3,981.5 667.8,981.5 668.3,981.5 668.8,981.5 669.3,981.5 669.8,981.5 670.3,981.5 670.8,981.5 671.3,981.5 671.8,981.5 672.3,981.5 672.8,981.5 673.3,981.5 673.8,981.5 674.3,981.5 674.8,981.5 675.3,981.5 675.8,981.5 676.3,981.5 676.5,981.5" fill="none" stroke="#4DBEEE" stroke-width="3.2" stroke-linejoin="round" stroke-linecap="butt"/>
<rect x="170.4" y="704.5" width="675.3" height="506.5" fill="none" stroke="#141414" stroke-width="4.4"/>
<path d="M283.0,1211.0V1202.0 M395.5,1211.0V1202.0 M508.1,1211.0V1202.0 M620.6,1211.0V1202.0 M733.2,1211.0V1202.0 M170.4,1109.7H179.4 M170.4,1008.4H179.4 M170.4,907.1H179.4 M170.4,805.8H179.4" stroke="#141414" stroke-width="3.4" fill="none"/>
<text transform="translate(133.63,1226.28) scale(1.0300,1)" font-size="43.00" font-weight="bold" font-style="normal" fill="#111" stroke="#fff" stroke-width="0.5">0</text>
<text transform="translate(89.34,1124.98) scale(1.0300,1)" font-size="43.00" font-weight="bold" font-style="normal" fill="#111" stroke="#fff" stroke-width="0.5">100</text>
<text transform="translate(89.34,1023.68) scale(1.0300,1)" font-size="43.00" font-weight="bold" font-style="normal" fill="#111" stroke="#fff" stroke-width="0.5">200</text>
<text transform="translate(89.34,922.38) scale(1.0300,1)" font-size="43.00" font-weight="bold" font-style="normal" fill="#111" stroke="#fff" stroke-width="0.5">300</text>
<text transform="translate(89.34,821.08) scale(1.0300,1)" font-size="43.00" font-weight="bold" font-style="normal" fill="#111" stroke="#fff" stroke-width="0.5">400</text>
<text transform="translate(89.34,719.78) scale(1.0300,1)" font-size="43.00" font-weight="bold" font-style="normal" fill="#111" stroke="#fff" stroke-width="0.5">500</text>
<text transform="translate(159.14,1266.72) scale(0.9200,1)" font-size="46.80" font-weight="bold" font-style="normal" fill="#111" stroke="#fff" stroke-width="0.5">0</text>
<text transform="translate(255.65,1266.72) scale(0.9200,1)" font-size="46.80" font-weight="bold" font-style="normal" fill="#111" stroke="#fff" stroke-width="0.5">0.2</text>
<text transform="translate(367.66,1266.72) scale(0.9200,1)" font-size="46.80" font-weight="bold" font-style="normal" fill="#111" stroke="#fff" stroke-width="0.5">0.4</text>
<text transform="translate(480.42,1266.72) scale(0.9200,1)" font-size="46.80" font-weight="bold" font-style="normal" fill="#111" stroke="#fff" stroke-width="0.5">0.6</text>
<text transform="translate(593.08,1266.72) scale(0.9200,1)" font-size="46.80" font-weight="bold" font-style="normal" fill="#111" stroke="#fff" stroke-width="0.5">0.8</text>
<text transform="translate(721.24,1266.49) scale(0.9200,1)" font-size="46.80" font-weight="bold" font-style="normal" fill="#111" stroke="#fff" stroke-width="0.5">1</text>
<text transform="translate(70.50,1153.52) rotate(-90) scale(0.9752,1)" font-size="56.06" font-weight="bold" fill="#1a1a1a">True Stress/Mpa</text>
<text transform="translate(370.08,1330.34) scale(0.9738,1)" font-size="56.17" font-weight="bold" font-style="normal" fill="#222" >True Strain</text>
<text transform="translate(-2.48,676.33) scale(0.9775,1)" font-size="70.11" font-weight="bold" font-style="normal" fill="#000" >(c)</text>
<text transform="translate(714.51,801.72) scale(0.8344,1)" font-size="47.56" font-weight="bold" font-style="normal" fill="#000" stroke="#fff" stroke-width="0.5">990°C</text>
<text transform="translate(709.07,915.75) scale(0.8773,1)" font-size="44.59" font-weight="bold" font-style="normal" fill="#000" stroke="#fff" stroke-width="0.5">1080°C</text>
<text transform="translate(699.59,1019.03) scale(0.8594,1)" font-size="46.67" font-weight="bold" font-style="normal" fill="#000" stroke="#fff" stroke-width="0.5">1170°C</text>
<circle cx="373.2" cy="1092.5" r="3.2" fill="none" stroke="#0072BD" stroke-width="1.4"/>
<text transform="translate(413.45,1101.80) scale(1.0340,1)" font-size="29.21" font-weight="bold" font-style="normal" fill="#000" >Predicted Stress</text>
<text transform="translate(413.45,1136.16) scale(1.0602,1)" font-size="28.57" font-weight="bold" font-style="normal" fill="#000" >Experimental Stress</text>
<path d="M340.3,1129H406" stroke="#E2531C" stroke-width="3.4"/>
<g fill="none" stroke="#0072BD" stroke-width="1.5">
<circle cx="1031.0" cy="1100.0" r="5.0"/>
<circle cx="1036.6" cy="1069.9" r="5.0"/>
<circle cx="1042.2" cy="1046.4" r="5.0"/>
<circle cx="1047.8" cy="1027.8" r="5.0"/>
<circle cx="1053.4" cy="1012.4" r="5.0"/>
<circle cx="1059.0" cy="999.1" r="5.0"/>
<circle cx="1064.6" cy="987.8" r="5.0"/>
<circle cx="1070.2" cy="977.7" r="5.0"/>
<circle cx="1075.8" cy="968.1" r="5.0"/>
<circle cx="1081.4" cy="959.3" r="5.0"/>
<circle cx="1087.0" cy="951.6" r="5.0"/>
<circle cx="1092.6" cy="944.8" r="5.0"/>
<circle cx="1098.2" cy="938.4" r="5.0"/>
<circle cx="1103.8" cy="932.3" r="5.0"/>
<circle cx="1109.4" cy="926.4" r="5.0"/>
<circle cx="1115.0" cy="920.5" r="5.0"/>
<circle cx="1120.6" cy="914.9" r="5.0"/>
<circle cx="1126.2" cy="909.7" r="5.0"/>
<circle cx="1131.8" cy="903.9" r="5.0"/>
<circle cx="1137.4" cy="897.6" r="5.0"/>
<circle cx="1143.0" cy="891.7" r="5.0"/>
<circle cx="1148.6" cy="886.2" r="5.0"/>
<circle cx="1154.2" cy="881.5" r="5.0"/>
<circle cx="1159.8" cy="877.1" r="5.0"/>
<circle cx="1165.4" cy="873.0" r="5.0"/>
<circle cx="1171.0" cy="869.2" r="5.0"/>
<circle cx="1176.6" cy="865.6" r="5.0"/>
<circle cx="1182.2" cy="862.1" r="5.0"/>
<circle cx="1187.8" cy="858.8" r="5.0"/>
<circle cx="1193.4" cy="855.6" r="5.0"/>
<circle cx="1199.0" cy="852.6" r="5.0"/>
<circle cx="1204.6" cy="849.5" r="5.0"/>
<circle cx="1210.2" cy="846.5" r="5.0"/>
<circle cx="1215.8" cy="843.5" r="5.0"/>
<circle cx="1221.4" cy="840.6" r="5.0"/>
<circle cx="1227.0" cy="837.8" r="5.0"/>
<circle cx="1232.6" cy="835.1" r="5.0"/>
<circle cx="1238.2" cy="832.7" r="5.0"/>
<circle cx="1243.8" cy="830.4" r="5.0"/>
<circle cx="1249.4" cy="828.3" r="5.0"/>
<circle cx="1255.0" cy="826.2" r="5.0"/>
<circle cx="1260.6" cy="824.3" r="5.0"/>
<circle cx="1266.2" cy="822.5" r="5.0"/>
<circle cx="1271.8" cy="820.9" r="5.0"/>
<circle cx="1277.4" cy="819.4" r="5.0"/>
<circle cx="1283.0" cy="818.0" r="5.0"/>
<circle cx="1288.6" cy="816.8" r="5.0"/>
<circle cx="1294.2" cy="815.5" r="5.0"/>
<circle cx="1299.8" cy="814.4" r="5.0"/>
<circle cx="1305.4" cy="813.3" r="5.0"/>
<circle cx="1311.0" cy="812.2" r="5.0"/>
<circle cx="1316.6" cy="811.2" r="5.0"/>
<circle cx="1322.2" cy="810.2" r="5.0"/>
<circle cx="1327.8" cy="809.2" r="5.0"/>
<circle cx="1333.4" cy="808.3" r="5.0"/>
<circle cx="1339.0" cy="807.4" r="5.0"/>
<circle cx="1344.6" cy="806.6" r="5.0"/>
<circle cx="1350.2" cy="805.7" r="5.0"/>
<circle cx="1355.8" cy="804.9" r="5.0"/>
<circle cx="1361.4" cy="804.1" r="5.0"/>
<circle cx="1367.0" cy="803.2" r="5.0"/>
<circle cx="1372.6" cy="802.4" r="5.0"/>
<circle cx="1378.2" cy="801.6" r="5.0"/>
<circle cx="1383.8" cy="800.9" r="5.0"/>
<circle cx="1389.4" cy="800.2" r="5.0"/>
<circle cx="1395.0" cy="799.5" r="5.0"/>
<circle cx="1400.6" cy="798.9" r="5.0"/>
<circle cx="1406.2" cy="798.4" r="5.0"/>
<circle cx="1411.8" cy="797.9" r="5.0"/>
<circle cx="1417.4" cy="797.5" r="5.0"/>
<circle cx="1423.0" cy="797.0" r="5.0"/>
<circle cx="1428.6" cy="796.6" r="5.0"/>
<circle cx="1434.2" cy="796.2" r="5.0"/>
<circle cx="1439.8" cy="795.8" r="5.0"/>
<circle cx="1445.4" cy="795.4" r="5.0"/>
<circle cx="1451.0" cy="794.9" r="5.0"/>
<circle cx="1456.6" cy="794.5" r="5.0"/>
<circle cx="1462.2" cy="794.0" r="5.0"/>
<circle cx="1467.8" cy="793.5" r="5.0"/>
<circle cx="1473.4" cy="793.0" r="5.0"/>
<circle cx="1479.0" cy="792.5" r="5.0"/>
<circle cx="1484.6" cy="792.0" r="5.0"/>
<circle cx="1490.2" cy="791.5" r="5.0"/>
<circle cx="1500.9" cy="817.7" r="5.0"/>
<circle cx="1506.5" cy="818.1" r="5.0"/>
<circle cx="1512.1" cy="818.4" r="5.0"/>
<circle cx="1517.7" cy="818.8" r="5.0"/>
<circle cx="1523.3" cy="819.2" r="5.0"/>
<circle cx="1528.9" cy="819.7" r="5.0"/>
<circle cx="1534.5" cy="820.1" r="5.0"/>
</g>
<g fill="none" stroke="#EDB120" stroke-width="1.5">
<circle cx="1031.0" cy="1090.0" r="5.0"/>
<circle cx="1036.6" cy="1058.6" r="5.0"/>
<circle cx="1042.2" cy="1036.6" r="5.0"/>
<circle cx="1047.8" cy="1017.7" r="5.0"/>
<circle cx="1053.4" cy="1002.4" r="5.0"/>
<circle cx="1059.0" cy="991.1" r="5.0"/>
<circle cx="1064.6" cy="978.6" r="5.0"/>
<circle cx="1070.2" cy="966.5" r="5.0"/>
<circle cx="1075.8" cy="957.7" r="5.0"/>
<circle cx="1081.4" cy="950.2" r="5.0"/>
<circle cx="1087.0" cy="943.1" r="5.0"/>
<circle cx="1092.6" cy="936.2" r="5.0"/>
<circle cx="1098.2" cy="929.6" r="5.0"/>
<circle cx="1103.8" cy="923.5" r="5.0"/>
<circle cx="1109.4" cy="917.7" r="5.0"/>
<circle cx="1115.0" cy="912.2" r="5.0"/>
<circle cx="1120.6" cy="907.1" r="5.0"/>
<circle cx="1126.2" cy="902.2" r="5.0"/>
<circle cx="1131.8" cy="897.7" r="5.0"/>
<circle cx="1137.4" cy="893.7" r="5.0"/>
<circle cx="1143.0" cy="890.2" r="5.0"/>
<circle cx="1148.6" cy="887.0" r="5.0"/>
<circle cx="1154.2" cy="884.1" r="5.0"/>
<circle cx="1159.8" cy="881.4" r="5.0"/>
<circle cx="1165.4" cy="878.9" r="5.0"/>
<circle cx="1171.0" cy="876.7" r="5.0"/>
<circle cx="1176.6" cy="874.7" r="5.0"/>
<circle cx="1182.2" cy="872.9" r="5.0"/>
<circle cx="1187.8" cy="871.2" r="5.0"/>
<circle cx="1193.4" cy="869.7" r="5.0"/>
<circle cx="1199.0" cy="868.3" r="5.0"/>
<circle cx="1204.6" cy="867.0" r="5.0"/>
<circle cx="1210.2" cy="865.7" r="5.0"/>
<circle cx="1215.8" cy="864.6" r="5.0"/>
<circle cx="1221.4" cy="863.9" r="5.0"/>
<circle cx="1227.0" cy="863.4" r="5.0"/>
<circle cx="1232.6" cy="863.0" r="5.0"/>
<circle cx="1238.2" cy="862.6" r="5.0"/>
<circle cx="1243.8" cy="862.3" r="5.0"/>
<circle cx="1249.4" cy="862.2" r="5.0"/>
<circle cx="1255.0" cy="862.1" r="5.0"/>
<circle cx="1260.6" cy="862.1" r="5.0"/>
<circle cx="1266.2" cy="862.2" r="5.0"/>
<circle cx="1271.8" cy="862.4" r="5.0"/>
<circle cx="1277.4" cy="862.5" r="5.0"/>
<circle cx="1283.0" cy="862.7" r="5.0"/>
<circle cx="1288.6" cy="863.0" r="5.0"/>
<circle cx="1294.2" cy="863.3" r="5.0"/>
<circle cx="1299.8" cy="863.9" r="5.0"/>
<circle cx="1305.4" cy="864.7" r="5.0"/>
<circle cx="1311.0" cy="865.7" r="5.0"/>
<circle cx="1316.6" cy="866.8" r="5.0"/>
<circle cx="1322.2" cy="868.0" r="5.0"/>
<circle cx="1327.8" cy="869.1" r="5.0"/>
<circle cx="1333.4" cy="870.2" r="5.0"/>
<circle cx="1339.0" cy="871.0" r="5.0"/>
<circle cx="1344.6" cy="871.8" r="5.0"/>
<circle cx="1350.2" cy="872.6" r="5.0"/>
<circle cx="1355.8" cy="873.4" r="5.0"/>
<circle cx="1361.4" cy="874.2" r="5.0"/>
<circle cx="1367.0" cy="874.9" r="5.0"/>
<circle cx="1372.6" cy="875.7" r="5.0"/>
<circle cx="1378.2" cy="876.4" r="5.0"/>
<circle cx="1383.8" cy="877.0" r="5.0"/>
<circle cx="1389.4" cy="877.6" r="5.0"/>
<circle cx="1395.0" cy="878.2" r="5.0"/>
<circle cx="1400.6" cy="878.8" r="5.0"/>
<circle cx="1406.2" cy="879.3" r="5.0"/>
<circle cx="1411.8" cy="879.8" r="5.0"/>
<circle cx="1417.4" cy="880.4" r="5.0"/>
<circle cx="1423.0" cy="880.9" r="5.0"/>
<circle cx="1428.6" cy="881.3" r="5.0"/>
<circle cx="1434.2" cy="881.8" r="5.0"/>
<circle cx="1439.8" cy="882.2" r="5.0"/>
<circle cx="1445.4" cy="882.6" r="5.0"/>
<circle cx="1451.0" cy="882.9" r="5.0"/>
<circle cx="1456.6" cy="883.2" r="5.0"/>
<circle cx="1462.2" cy="883.5" r="5.0"/>
<circle cx="1467.8" cy="883.6" r="5.0"/>
<circle cx="1473.4" cy="883.8" r="5.0"/>
<circle cx="1479.0" cy="884.0" r="5.0"/>
<circle cx="1484.6" cy="884.2" r="5.0"/>
<circle cx="1490.2" cy="884.3" r="5.0"/>
<circle cx="1495.8" cy="884.5" r="5.0"/>
<circle cx="1501.4" cy="884.6" r="5.0"/>
<circle cx="1507.0" cy="884.7" r="5.0"/>
<circle cx="1512.6" cy="884.8" r="5.0"/>
<circle cx="1518.2" cy="884.9" r="5.0"/>
<circle cx="1523.8" cy="884.9" r="5.0"/>
<circle cx="1529.4" cy="885.0" r="5.0"/>
<circle cx="1535.0" cy="885.0" r="5.0"/>
</g>
<g fill="none" stroke="#77AC30" stroke-width="1.5">
<circle cx="1031.3" cy="1100.3" r="5.0"/>
<circle cx="1036.9" cy="1074.1" r="5.0"/>
<circle cx="1042.5" cy="1059.9" r="5.0"/>
<circle cx="1048.1" cy="1046.8" r="5.0"/>
<circle cx="1053.7" cy="1030.2" r="5.0"/>
<circle cx="1059.3" cy="1015.5" r="5.0"/>
<circle cx="1064.9" cy="1005.4" r="5.0"/>
<circle cx="1070.5" cy="997.5" r="5.0"/>
<circle cx="1076.1" cy="989.5" r="5.0"/>
<circle cx="1081.7" cy="981.7" r="5.0"/>
<circle cx="1087.3" cy="976.2" r="5.0"/>
<circle cx="1092.9" cy="972.5" r="5.0"/>
<circle cx="1098.5" cy="969.0" r="5.0"/>
<circle cx="1104.1" cy="964.9" r="5.0"/>
<circle cx="1109.7" cy="961.1" r="5.0"/>
<circle cx="1115.3" cy="958.4" r="5.0"/>
<circle cx="1120.9" cy="956.4" r="5.0"/>
<circle cx="1126.5" cy="954.8" r="5.0"/>
<circle cx="1132.1" cy="953.7" r="5.0"/>
<circle cx="1137.7" cy="952.7" r="5.0"/>
<circle cx="1143.3" cy="952.0" r="5.0"/>
<circle cx="1148.9" cy="951.4" r="5.0"/>
<circle cx="1154.5" cy="950.8" r="5.0"/>
<circle cx="1160.1" cy="950.4" r="5.0"/>
<circle cx="1165.7" cy="950.0" r="5.0"/>
<circle cx="1171.3" cy="949.7" r="5.0"/>
<circle cx="1176.9" cy="949.4" r="5.0"/>
<circle cx="1182.5" cy="948.9" r="5.0"/>
<circle cx="1188.1" cy="948.2" r="5.0"/>
<circle cx="1193.7" cy="947.7" r="5.0"/>
<circle cx="1199.3" cy="947.6" r="5.0"/>
<circle cx="1204.9" cy="947.9" r="5.0"/>
<circle cx="1210.5" cy="948.5" r="5.0"/>
<circle cx="1216.1" cy="949.2" r="5.0"/>
<circle cx="1221.7" cy="950.2" r="5.0"/>
<circle cx="1227.3" cy="951.1" r="5.0"/>
<circle cx="1232.9" cy="952.1" r="5.0"/>
<circle cx="1238.5" cy="953.1" r="5.0"/>
<circle cx="1244.1" cy="953.9" r="5.0"/>
<circle cx="1249.7" cy="954.6" r="5.0"/>
<circle cx="1255.3" cy="955.3" r="5.0"/>
<circle cx="1260.9" cy="956.1" r="5.0"/>
<circle cx="1266.5" cy="956.8" r="5.0"/>
<circle cx="1272.1" cy="957.5" r="5.0"/>
<circle cx="1277.7" cy="958.2" r="5.0"/>
<circle cx="1283.3" cy="958.9" r="5.0"/>
<circle cx="1288.9" cy="959.6" r="5.0"/>
<circle cx="1294.5" cy="960.3" r="5.0"/>
<circle cx="1300.1" cy="960.9" r="5.0"/>
<circle cx="1305.7" cy="961.6" r="5.0"/>
<circle cx="1311.3" cy="962.2" r="5.0"/>
<circle cx="1316.9" cy="962.8" r="5.0"/>
<circle cx="1322.5" cy="963.4" r="5.0"/>
<circle cx="1328.1" cy="964.1" r="5.0"/>
<circle cx="1333.7" cy="964.7" r="5.0"/>
<circle cx="1339.3" cy="965.3" r="5.0"/>
<circle cx="1344.9" cy="965.8" r="5.0"/>
<circle cx="1350.5" cy="966.4" r="5.0"/>
<circle cx="1356.1" cy="966.9" r="5.0"/>
<circle cx="1361.7" cy="967.4" r="5.0"/>
<circle cx="1367.3" cy="967.8" r="5.0"/>
<circle cx="1372.9" cy="968.3" r="5.0"/>
<circle cx="1378.5" cy="968.7" r="5.0"/>
<circle cx="1384.1" cy="969.1" r="5.0"/>
<circle cx="1389.7" cy="969.5" r="5.0"/>
<circle cx="1395.3" cy="969.9" r="5.0"/>
<circle cx="1400.9" cy="970.2" r="5.0"/>
<circle cx="1406.5" cy="970.6" r="5.0"/>
<circle cx="1412.1" cy="970.9" r="5.0"/>
<circle cx="1417.7" cy="971.2" r="5.0"/>
<circle cx="1423.3" cy="971.4" r="5.0"/>
<circle cx="1428.9" cy="971.7" r="5.0"/>
<circle cx="1434.5" cy="971.9" r="5.0"/>
<circle cx="1440.1" cy="972.1" r="5.0"/>
<circle cx="1445.7" cy="972.3" r="5.0"/>
<circle cx="1451.3" cy="972.5" r="5.0"/>
<circle cx="1456.9" cy="972.7" r="5.0"/>
<circle cx="1462.5" cy="972.9" r="5.0"/>
<circle cx="1468.1" cy="973.0" r="5.0"/>
<circle cx="1473.7" cy="973.2" r="5.0"/>
<circle cx="1479.3" cy="973.4" r="5.0"/>
<circle cx="1484.9" cy="973.5" r="5.0"/>
<circle cx="1490.5" cy="973.7" r="5.0"/>
<circle cx="1496.1" cy="973.8" r="5.0"/>
<circle cx="1501.7" cy="973.9" r="5.0"/>
<circle cx="1507.3" cy="974.0" r="5.0"/>
<circle cx="1512.9" cy="974.1" r="5.0"/>
<circle cx="1518.5" cy="974.2" r="5.0"/>
<circle cx="1524.1" cy="974.2" r="5.0"/>
<circle cx="1529.7" cy="974.3" r="5.0"/>
<circle cx="1535.3" cy="974.3" r="5.0"/>
</g>
<path d="M1028.9,1205.0L1029.4,1196.9 1029.9,1189.4 1030.0,1188.0 1030.4,1182.8 1030.9,1176.5 1031.4,1170.5 1031.9,1164.8 1032.4,1159.4 1032.9,1154.2 1033.4,1149.2 1033.9,1144.5 1034.4,1140.0 1034.9,1135.7 1035.4,1131.5 1035.9,1127.5 1036.4,1123.5 1036.9,1119.7 1037.4,1116.1 1037.9,1112.5 1038.4,1109.1 1038.9,1105.8 1039.4,1102.6 1039.9,1099.6 1040.4,1096.7 1040.7,1095.0 1040.9,1093.9 1041.4,1091.1 1041.9,1088.5 1042.4,1085.9 1042.9,1083.4 1043.4,1081.1 1043.9,1079.0 1044.4,1077.0 1044.9,1075.3 1045.0,1075.0 1045.4,1073.8 1045.9,1072.4 1046.4,1071.2 1046.9,1070.0 1047.4,1068.9 1047.9,1067.9 1048.4,1066.9 1048.9,1065.9 1049.4,1064.9 1049.9,1063.9 1050.4,1062.9 1050.7,1062.3 1050.9,1061.9 1051.4,1060.8 1051.9,1059.8 1052.4,1058.7 1052.9,1057.7 1053.4,1056.7 1053.9,1055.6 1054.4,1054.6 1054.9,1053.6 1055.4,1052.6 1055.9,1051.6 1056.4,1050.5 1056.9,1049.5 1057.4,1048.5 1057.9,1047.6 1058.4,1046.6 1058.9,1045.6 1059.4,1044.6 1059.9,1043.7 1060.4,1042.7 1060.9,1041.8 1061.4,1040.9 1061.9,1040.0 1062.4,1039.1 1062.9,1038.2 1063.4,1037.3 1063.9,1036.4 1064.4,1035.5 1064.6,1035.2 1064.9,1034.7 1065.4,1033.9 1065.9,1033.0 1066.4,1032.2 1066.9,1031.4 1067.4,1030.6 1067.9,1029.8 1068.4,1029.0 1068.9,1028.2 1069.4,1027.4 1069.9,1026.6 1070.4,1025.9 1070.9,1025.1 1071.4,1024.3 1071.9,1023.6 1072.4,1022.9 1072.9,1022.1 1073.4,1021.4 1073.9,1020.6 1074.4,1019.9 1074.9,1019.2 1075.4,1018.5 1075.9,1017.8 1076.4,1017.1 1076.9,1016.4 1077.4,1015.7 1077.9,1015.0 1078.4,1014.3 1078.9,1013.6 1079.4,1012.9 1079.9,1012.2 1080.4,1011.5 1080.9,1010.8 1081.0,1010.7 1081.4,1010.2 1081.9,1009.5 1082.4,1008.8 1082.9,1008.2 1083.4,1007.5 1083.9,1006.9 1084.4,1006.2 1084.9,1005.6 1085.4,1004.9 1085.9,1004.3 1086.4,1003.7 1086.9,1003.1 1087.4,1002.4 1087.9,1001.8 1088.4,1001.2 1088.9,1000.6 1089.4,1000.0 1089.9,999.4 1090.4,998.8 1090.9,998.2 1091.4,997.5 1091.9,996.9 1092.4,996.3 1092.9,995.7 1093.4,995.1 1093.9,994.5 1094.4,993.9 1094.9,993.3 1095.4,992.7 1095.9,992.1 1096.4,991.4 1096.9,990.8 1097.4,990.2 1097.9,989.6 1098.4,988.9 1098.9,988.3 1099.4,987.7 1099.9,987.1 1100.4,986.4 1100.9,985.8 1101.4,985.2 1101.9,984.6 1102.4,983.9 1102.9,983.3 1103.4,982.7 1103.9,982.1 1104.4,981.4 1104.9,980.8 1105.4,980.2 1105.9,979.5 1106.4,978.9 1106.9,978.3 1107.4,977.7 1107.9,977.0 1108.4,976.4 1108.9,975.8 1109.4,975.2 1109.9,974.5 1110.4,973.9 1110.9,973.3 1111.4,972.7 1111.9,972.1 1112.4,971.4 1112.9,970.8 1113.4,970.2 1113.8,969.7 1113.9,969.6 1114.4,969.0 1114.9,968.3 1115.4,967.7 1115.9,967.1 1116.4,966.4 1116.9,965.8 1117.4,965.2 1117.9,964.6 1118.4,963.9 1118.9,963.3 1119.4,962.7 1119.9,962.0 1120.4,961.4 1120.9,960.8 1121.4,960.2 1121.9,959.6 1122.4,959.0 1122.9,958.4 1123.4,957.8 1123.9,957.2 1124.4,956.7 1124.9,956.1 1125.0,956.0 1125.4,955.6 1125.9,955.0 1126.4,954.5 1126.9,954.0 1127.4,953.5 1127.9,953.0 1128.4,952.5 1128.9,952.0 1129.4,951.5 1129.9,951.1 1130.4,950.6 1130.9,950.1 1131.4,949.6 1131.9,949.2 1132.4,948.7 1132.9,948.2 1133.4,947.8 1133.9,947.3 1134.4,946.8 1134.9,946.3 1135.4,945.8 1135.9,945.3 1136.4,944.8 1136.9,944.3 1137.4,943.7 1137.9,943.2 1138.4,942.6 1138.9,942.0 1139.4,941.4 1139.9,940.8 1140.4,940.2 1140.9,939.6 1141.4,938.9 1141.9,938.3 1142.4,937.6 1142.9,937.0 1143.4,936.3 1143.9,935.6 1144.4,934.9 1144.9,934.3 1145.4,933.6 1145.9,932.9 1146.4,932.2 1146.9,931.5 1147.4,930.7 1147.9,930.0 1148.4,929.3 1148.9,928.6 1149.4,927.9 1149.9,927.2 1150.4,926.5 1150.9,925.8 1151.4,925.1 1151.9,924.4 1152.4,923.7 1152.9,923.0 1153.4,922.4 1153.9,921.7 1154.4,921.0 1154.8,920.5 1154.9,920.4 1155.4,919.7 1155.9,919.1 1156.4,918.4 1156.9,917.8 1157.4,917.2 1157.9,916.5 1158.4,915.9 1158.9,915.3 1159.4,914.6 1159.9,914.0 1160.4,913.4 1160.9,912.8 1161.4,912.1 1161.9,911.5 1162.4,910.9 1162.9,910.3 1163.4,909.7 1163.9,909.0 1164.4,908.4 1164.9,907.8 1165.4,907.2 1165.9,906.6 1166.4,905.9 1166.9,905.3 1167.4,904.7 1167.9,904.1 1168.4,903.4 1168.9,902.8 1169.4,902.2 1169.9,901.5 1170.4,900.9 1170.9,900.3 1171.1,900.0 1171.4,899.6 1171.9,899.0 1172.4,898.3 1172.9,897.6 1173.4,897.0 1173.9,896.3 1174.4,895.6 1174.9,894.9 1175.4,894.3 1175.9,893.6 1176.4,892.9 1176.9,892.2 1177.4,891.5 1177.9,890.8 1178.4,890.1 1178.9,889.4 1179.4,888.7 1179.9,888.0 1180.4,887.4 1180.9,886.7 1181.4,886.0 1181.9,885.3 1182.4,884.6 1182.9,884.0 1183.4,883.3 1183.9,882.6 1184.4,882.0 1184.9,881.3 1185.4,880.7 1185.9,880.1 1186.4,879.4 1186.9,878.8 1187.4,878.2 1187.9,877.6 1188.4,877.0 1188.9,876.4 1189.2,876.1 1189.4,875.9 1189.9,875.3 1190.4,874.7 1190.9,874.2 1191.4,873.6 1191.9,873.1 1192.4,872.5 1192.9,872.0 1193.4,871.5 1193.9,870.9 1194.4,870.4 1194.9,869.9 1195.4,869.4 1195.9,868.9 1196.4,868.3 1196.9,867.8 1197.4,867.3 1197.9,866.8 1198.4,866.3 1198.9,865.8 1199.4,865.4 1199.9,864.9 1200.4,864.4 1200.9,863.9 1201.4,863.5 1201.9,863.0 1202.4,862.5 1202.9,862.1 1203.4,861.6 1203.9,861.2 1204.4,860.7 1204.9,860.3 1205.4,859.9 1205.6,859.7 1205.9,859.4 1206.4,859.0 1206.9,858.6 1207.4,858.2 1207.9,857.8 1208.4,857.4 1208.9,857.0 1209.4,856.6 1209.9,856.2 1210.4,855.8 1210.9,855.4 1211.4,855.1 1211.9,854.7 1212.4,854.3 1212.9,853.9 1213.4,853.6 1213.9,853.2 1214.4,852.8 1214.9,852.5 1215.4,852.1 1215.9,851.8 1216.4,851.4 1216.9,851.0 1217.4,850.7 1217.9,850.3 1218.4,850.0 1218.9,849.6 1219.4,849.3 1219.9,848.9 1220.4,848.6 1220.9,848.2 1221.4,847.8 1221.9,847.5 1222.0,847.4 1222.4,847.1 1222.9,846.8 1223.4,846.4 1223.9,846.0 1224.4,845.7 1224.9,845.3 1225.4,845.0 1225.9,844.6 1226.4,844.3 1226.9,844.0 1227.4,843.6 1227.9,843.3 1228.4,842.9 1228.9,842.6 1229.4,842.3 1229.9,841.9 1230.4,841.6 1230.9,841.2 1231.4,840.9 1231.9,840.5 1232.4,840.2 1232.9,839.9 1233.4,839.5 1233.9,839.2 1234.4,838.8 1234.9,838.5 1235.4,838.1 1235.9,837.7 1236.4,837.4 1236.9,837.0 1237.4,836.6 1237.9,836.3 1238.4,835.9 1238.9,835.5 1239.4,835.1 1239.9,834.7 1240.4,834.3 1240.9,833.9 1241.4,833.5 1241.9,833.1 1242.4,832.7 1242.9,832.3 1243.4,831.8 1243.9,831.4 1244.4,831.0 1244.9,830.6 1245.4,830.1 1245.9,829.7 1246.4,829.3 1246.9,828.8 1247.4,828.4 1247.9,828.0 1248.4,827.5 1248.9,827.1 1249.4,826.7 1249.9,826.3 1250.4,825.9 1250.9,825.5 1251.4,825.1 1251.9,824.7 1252.4,824.3 1252.9,823.9 1253.4,823.5 1253.9,823.1 1254.4,822.8 1254.8,822.5 1254.9,822.4 1255.4,822.1 1255.9,821.7 1256.4,821.4 1256.9,821.0 1257.4,820.7 1257.9,820.3 1258.4,820.0 1258.9,819.7 1259.4,819.3 1259.9,819.0 1260.4,818.6 1260.9,818.3 1261.4,818.0 1261.9,817.6 1262.4,817.3 1262.9,817.0 1263.4,816.7 1263.9,816.3 1264.4,816.0 1264.9,815.7 1265.4,815.4 1265.9,815.1 1266.4,814.8 1266.9,814.5 1267.4,814.2 1267.9,813.9 1268.4,813.6 1268.9,813.3 1269.4,813.0 1269.9,812.7 1270.4,812.5 1270.9,812.2 1271.4,811.9 1271.9,811.7 1272.4,811.4 1272.9,811.1 1273.4,810.9 1273.9,810.7 1274.4,810.4 1274.9,810.2 1275.4,809.9 1275.5,809.9 1275.9,809.7 1276.4,809.5 1276.9,809.3 1277.4,809.0 1277.9,808.8 1278.4,808.6 1278.9,808.4 1279.4,808.2 1279.9,807.9 1280.4,807.7 1280.9,807.5 1281.4,807.3 1281.9,807.1 1282.4,806.9 1282.9,806.7 1283.4,806.4 1283.9,806.2 1284.4,806.0 1284.9,805.8 1285.4,805.6 1285.9,805.4 1286.4,805.2 1286.9,805.0 1287.4,804.8 1287.9,804.6 1288.4,804.4 1288.9,804.2 1289.4,804.0 1289.9,803.9 1290.4,803.7 1290.9,803.5 1291.4,803.3 1291.9,803.1 1292.4,803.0 1292.9,802.8 1293.4,802.6 1293.9,802.4 1294.4,802.3 1294.9,802.1 1295.4,801.9 1295.9,801.8 1296.4,801.6 1296.9,801.5 1297.4,801.3 1297.9,801.1 1298.4,801.0 1298.9,800.8 1299.4,800.7 1299.9,800.6 1300.4,800.4 1300.9,800.3 1301.4,800.2 1301.9,800.0 1302.4,799.9 1302.9,799.8 1303.4,799.6 1303.9,799.5 1304.4,799.4 1304.9,799.3 1305.4,799.2 1305.9,799.1 1306.4,799.0 1306.8,798.9 1306.9,798.9 1307.4,798.8 1307.9,798.7 1308.4,798.6 1308.9,798.5 1309.4,798.4 1309.9,798.3 1310.4,798.2 1310.9,798.1 1311.4,798.0 1311.9,797.9 1312.4,797.9 1312.9,797.8 1313.4,797.7 1313.9,797.6 1314.4,797.5 1314.9,797.4 1315.4,797.4 1315.9,797.3 1316.4,797.2 1316.9,797.1 1317.4,797.0 1317.9,797.0 1318.4,796.9 1318.9,796.8 1319.4,796.7 1319.9,796.7 1320.4,796.6 1320.9,796.5 1321.4,796.5 1321.9,796.4 1322.4,796.3 1322.9,796.2 1323.4,796.2 1323.9,796.1 1324.4,796.0 1324.9,796.0 1325.4,795.9 1325.9,795.8 1326.4,795.8 1326.9,795.7 1327.4,795.7 1327.9,795.6 1328.4,795.5 1328.9,795.5 1329.4,795.4 1329.9,795.3 1330.4,795.3 1330.9,795.2 1331.4,795.2 1331.9,795.1 1332.4,795.1 1332.9,795.0 1333.4,794.9 1333.9,794.9 1334.4,794.8 1334.9,794.8 1335.4,794.7 1335.9,794.7 1336.4,794.6 1336.9,794.5 1337.4,794.5 1337.9,794.4 1338.4,794.4 1338.9,794.3 1339.4,794.3 1339.9,794.2 1340.4,794.2 1340.9,794.1 1341.4,794.0 1341.9,794.0 1342.4,793.9 1342.9,793.9 1343.4,793.8 1343.9,793.8 1344.4,793.7 1344.9,793.7 1345.4,793.6 1345.9,793.6 1346.4,793.5 1346.9,793.5 1347.4,793.4 1347.9,793.3 1348.4,793.3 1348.9,793.2 1349.4,793.2 1349.9,793.1 1350.4,793.1 1350.9,793.0 1351.4,793.0 1351.9,792.9 1352.4,792.8 1352.9,792.8 1353.4,792.7 1353.7,792.7 1353.9,792.7 1354.4,792.6 1354.9,792.6 1355.4,792.5 1355.9,792.4 1356.4,792.4 1356.9,792.3 1357.4,792.3 1357.9,792.2 1358.4,792.2 1358.9,792.1 1359.4,792.0 1359.9,792.0 1360.4,791.9 1360.9,791.9 1361.4,791.8 1361.9,791.7 1362.4,791.7 1362.9,791.6 1363.4,791.6 1363.9,791.5 1364.4,791.4 1364.9,791.4 1365.4,791.3 1365.9,791.3 1366.4,791.2 1366.9,791.2 1367.4,791.1 1367.9,791.0 1368.4,791.0 1368.9,790.9 1369.4,790.9 1369.9,790.8 1370.4,790.7 1370.9,790.7 1371.4,790.6 1371.9,790.6 1372.4,790.5 1372.9,790.5 1373.4,790.4 1373.9,790.3 1374.4,790.3 1374.9,790.2 1375.4,790.2 1375.9,790.1 1376.4,790.1 1376.9,790.0 1377.4,790.0 1377.9,789.9 1378.4,789.8 1378.9,789.8 1379.4,789.7 1379.9,789.7 1380.4,789.6 1380.9,789.6 1381.4,789.5 1381.9,789.5 1382.4,789.4 1382.9,789.4 1383.4,789.3 1383.9,789.3 1384.4,789.2 1384.9,789.2 1385.4,789.1 1385.9,789.1 1386.4,789.0 1386.9,789.0 1387.4,789.0 1387.9,788.9 1388.4,788.9 1388.9,788.8 1389.4,788.8 1389.9,788.7 1390.4,788.7 1390.9,788.7 1391.4,788.6 1391.9,788.6 1392.4,788.5 1392.9,788.5 1393.4,788.5 1393.9,788.4 1394.4,788.4 1394.9,788.4 1395.4,788.3 1395.9,788.3 1396.4,788.3 1396.9,788.2 1397.4,788.2 1397.9,788.2 1398.4,788.1 1398.9,788.1 1399.4,788.1 1399.9,788.0 1400.4,788.0 1400.7,788.0 1400.9,788.0 1401.4,788.0 1401.9,787.9 1402.4,787.9 1402.9,787.9 1403.4,787.9 1403.9,787.8 1404.4,787.8 1404.9,787.8 1405.4,787.8 1405.9,787.7 1406.4,787.7 1406.9,787.7 1407.4,787.7 1407.9,787.6 1408.4,787.6 1408.9,787.6 1409.4,787.6 1409.9,787.5 1410.4,787.5 1410.9,787.5 1411.4,787.5 1411.9,787.4 1412.4,787.4 1412.9,787.4 1413.4,787.4 1413.9,787.3 1414.4,787.3 1414.9,787.3 1415.4,787.3 1415.9,787.3 1416.4,787.2 1416.9,787.2 1417.4,787.2 1417.9,787.2 1418.4,787.1 1418.9,787.1 1419.4,787.1 1419.9,787.1 1420.4,787.1 1420.9,787.0 1421.4,787.0 1421.9,787.0 1422.4,787.0 1422.9,787.0 1423.4,786.9 1423.9,786.9 1424.4,786.9 1424.9,786.9 1425.4,786.9 1425.9,786.8 1426.4,786.8 1426.9,786.8 1427.4,786.8 1427.9,786.8 1428.4,786.8 1428.9,786.7 1429.4,786.7 1429.9,786.7 1430.4,786.7 1430.9,786.7 1431.4,786.7 1431.9,786.6 1432.4,786.6 1432.9,786.6 1433.4,786.6 1433.9,786.6 1434.4,786.6 1434.9,786.6 1435.4,786.6 1435.9,786.5 1436.4,786.5 1436.9,786.5 1437.4,786.5 1437.9,786.5 1438.4,786.5 1438.9,786.5 1439.4,786.5 1439.9,786.5 1440.4,786.5 1440.9,786.4 1441.4,786.4 1441.9,786.4 1442.4,786.4 1442.9,786.4 1443.4,786.4 1443.9,786.4 1444.4,786.4 1444.9,786.4 1445.4,786.4 1445.9,786.4 1446.4,786.4 1446.9,786.4 1447.4,786.4 1447.7,786.4 1447.9,786.4 1448.4,786.4 1448.9,786.4 1449.4,786.4 1449.9,786.4 1450.4,786.4 1450.9,786.4 1451.4,786.4 1451.9,786.4 1452.4,786.4 1452.9,786.4 1453.4,786.4 1453.9,786.4 1454.4,786.4 1454.9,786.4 1455.4,786.4 1455.9,786.4 1456.4,786.4 1456.9,786.4 1457.4,786.4 1457.9,786.4 1458.4,786.4 1458.9,786.4 1459.4,786.4 1459.9,786.4 1460.4,786.4 1460.9,786.4 1461.4,786.4 1461.9,786.5 1462.4,786.5 1462.9,786.5 1463.4,786.5 1463.9,786.5 1464.4,786.5 1464.9,786.5 1465.4,786.5 1465.9,786.5 1466.4,786.5 1466.9,786.5 1467.4,786.5 1467.9,786.5 1468.4,786.5 1468.9,786.5 1469.4,786.5 1469.9,786.5 1470.4,786.5 1470.9,786.5 1471.4,786.5 1471.9,786.6 1472.4,786.6 1472.9,786.6 1473.4,786.6 1473.9,786.6 1474.4,786.6 1474.9,786.6 1475.4,786.6 1475.9,786.6 1476.4,786.6 1476.9,786.6 1477.4,786.6 1477.9,786.6 1478.4,786.6 1478.9,786.7 1479.4,786.7 1479.9,786.7 1480.4,786.7 1480.9,786.7 1481.4,786.7 1481.9,786.7 1482.4,786.7 1482.9,786.7 1483.4,786.7 1483.9,786.7 1484.4,786.8 1484.9,786.8 1485.4,786.8 1485.9,786.8 1486.4,786.8 1486.9,786.8 1487.4,786.8 1487.9,786.8 1488.4,786.8 1488.9,786.9 1489.4,786.9 1489.9,786.9 1490.4,786.9 1490.9,786.9 1491.4,786.9 1491.9,786.9 1492.4,786.9 1492.9,787.0 1493.4,787.0 1493.9,787.0 1494.4,787.0 1494.6,787.0 1494.9,787.0 1495.4,787.0 1495.9,787.1 1496.4,787.1 1496.9,787.1 1497.4,787.2 1497.9,787.3 1498.4,787.3 1498.9,787.4 1499.4,787.5 1499.9,787.6 1500.4,787.7 1500.9,787.8 1501.4,787.9 1501.9,788.0 1502.4,788.1 1502.9,788.2 1503.4,788.4 1503.9,788.5 1504.4,788.6 1504.9,788.8 1505.4,788.9 1505.9,789.1 1506.4,789.2 1506.9,789.4 1507.4,789.6 1507.9,789.7 1508.4,789.9 1508.9,790.1 1509.4,790.3 1509.9,790.4 1510.4,790.6 1510.9,790.8 1511.4,791.0 1511.9,791.2 1512.4,791.4 1512.9,791.6 1513.4,791.7 1513.9,791.9 1514.4,792.1 1514.9,792.3 1515.4,792.5 1515.9,792.7 1516.4,792.9 1516.9,793.1 1517.4,793.3 1517.9,793.5 1518.4,793.7 1518.9,793.9 1519.4,794.1 1519.7,794.2 1519.9,794.3 1520.4,794.5 1520.9,794.7 1521.4,794.9 1521.9,795.1 1522.4,795.3 1522.9,795.6 1523.4,795.8 1523.9,796.0 1524.4,796.3 1524.9,796.5 1525.4,796.8 1525.9,797.0 1526.4,797.3 1526.9,797.6 1527.4,797.8 1527.9,798.1 1528.4,798.4 1528.9,798.7 1529.4,799.0 1529.9,799.3 1530.4,799.6 1530.9,799.9 1531.4,800.2 1531.9,800.5 1532.4,800.8 1532.9,801.1 1533.4,801.4 1533.9,801.7 1534.4,802.0 1534.9,802.3 1535.4,802.6 1535.5,802.7" fill="none" stroke="#E2531C" stroke-width="3.2" stroke-linejoin="round" stroke-linecap="butt"/>
<path d="M1028.9,1205.0L1029.4,1193.7 1029.9,1182.9 1030.4,1172.6 1030.9,1162.8 1031.4,1153.7 1031.9,1145.3 1032.4,1137.8 1032.9,1131.2 1033.0,1130.0 1033.4,1125.4 1033.9,1120.0 1034.4,1114.9 1034.9,1110.2 1035.4,1105.9 1035.9,1101.9 1036.4,1098.1 1036.9,1094.7 1037.4,1091.5 1037.5,1090.9 1037.9,1088.5 1038.4,1085.7 1038.9,1082.9 1039.4,1080.2 1039.9,1077.7 1040.4,1075.3 1040.9,1073.0 1041.4,1070.8 1041.9,1068.8 1042.4,1066.9 1042.9,1065.2 1043.4,1063.7 1043.9,1062.3 1044.0,1062.0 1044.4,1061.0 1044.9,1059.8 1045.4,1058.7 1045.9,1057.7 1046.4,1056.8 1046.9,1055.9 1047.4,1055.0 1047.9,1054.2 1048.4,1053.4 1048.9,1052.6 1049.4,1051.9 1049.9,1051.1 1050.4,1050.4 1050.9,1049.7 1051.4,1048.9 1051.9,1048.1 1052.3,1047.5 1052.4,1047.3 1052.9,1046.5 1053.4,1045.7 1053.9,1044.9 1054.4,1044.1 1054.9,1043.3 1055.4,1042.5 1055.9,1041.8 1056.4,1041.0 1056.9,1040.2 1057.4,1039.4 1057.9,1038.6 1058.4,1037.9 1058.9,1037.1 1059.4,1036.4 1059.9,1035.6 1060.4,1034.9 1060.9,1034.1 1061.4,1033.4 1061.9,1032.6 1062.4,1031.9 1062.9,1031.2 1063.4,1030.4 1063.9,1029.7 1064.4,1029.0 1064.9,1028.3 1065.4,1027.6 1065.9,1026.9 1066.4,1026.2 1066.9,1025.5 1067.4,1024.8 1067.9,1024.1 1068.4,1023.4 1068.7,1023.0 1068.9,1022.7 1069.4,1022.1 1069.9,1021.4 1070.4,1020.7 1070.9,1020.1 1071.4,1019.5 1071.9,1018.8 1072.4,1018.2 1072.9,1017.6 1073.4,1017.0 1073.9,1016.4 1074.4,1015.8 1074.9,1015.1 1075.4,1014.5 1075.9,1013.9 1076.4,1013.4 1076.9,1012.8 1077.4,1012.2 1077.9,1011.6 1078.4,1011.0 1078.9,1010.4 1079.4,1009.8 1079.9,1009.2 1080.4,1008.5 1080.9,1007.9 1081.4,1007.3 1081.9,1006.7 1082.4,1006.0 1082.9,1005.4 1083.4,1004.8 1083.9,1004.1 1084.4,1003.4 1084.9,1002.8 1085.1,1002.5 1085.4,1002.1 1085.9,1001.4 1086.4,1000.7 1086.9,1000.0 1087.4,999.3 1087.9,998.6 1088.4,997.9 1088.9,997.1 1089.4,996.4 1089.9,995.7 1090.4,994.9 1090.9,994.2 1091.4,993.4 1091.9,992.7 1092.4,991.9 1092.9,991.2 1093.4,990.4 1093.9,989.7 1094.4,988.9 1094.9,988.1 1095.4,987.4 1095.9,986.6 1096.4,985.8 1096.9,985.0 1097.4,984.3 1097.9,983.5 1098.4,982.7 1098.9,981.9 1099.4,981.2 1099.9,980.4 1100.4,979.6 1100.9,978.8 1101.4,978.1 1101.5,977.9 1101.9,977.3 1102.4,976.5 1102.9,975.7 1103.4,974.9 1103.9,974.1 1104.4,973.2 1104.9,972.4 1105.4,971.6 1105.9,970.7 1106.4,969.9 1106.9,969.0 1107.4,968.2 1107.9,967.3 1108.4,966.4 1108.9,965.6 1109.4,964.7 1109.9,963.8 1110.4,963.0 1110.9,962.1 1111.4,961.3 1111.9,960.4 1112.4,959.6 1112.9,958.7 1113.4,957.9 1113.9,957.0 1114.4,956.2 1114.9,955.4 1115.4,954.6 1115.9,953.8 1116.4,953.0 1116.9,952.2 1117.4,951.5 1117.9,950.7 1118.4,950.0 1118.9,949.2 1119.4,948.5 1119.9,947.8 1120.4,947.1 1120.9,946.5 1121.4,945.8 1121.9,945.2 1122.0,945.1 1122.4,944.6 1122.9,944.0 1123.4,943.4 1123.9,942.8 1124.4,942.3 1124.9,941.7 1125.4,941.1 1125.9,940.6 1126.4,940.1 1126.9,939.5 1127.4,939.0 1127.9,938.5 1128.4,938.0 1128.9,937.4 1129.4,936.9 1129.9,936.5 1130.4,936.0 1130.9,935.5 1131.4,935.0 1131.9,934.5 1132.4,934.0 1132.9,933.6 1133.4,933.1 1133.9,932.7 1134.4,932.2 1134.9,931.8 1135.4,931.3 1135.9,930.9 1136.4,930.4 1136.9,930.0 1137.4,929.6 1137.9,929.1 1138.4,928.7 1138.9,928.3 1139.4,927.8 1139.9,927.4 1140.4,927.0 1140.9,926.6 1141.4,926.2 1141.9,925.8 1142.4,925.4 1142.9,924.9 1143.4,924.5 1143.9,924.1 1144.4,923.7 1144.9,923.4 1145.4,923.0 1145.9,922.6 1146.4,922.2 1146.9,921.8 1147.4,921.4 1147.9,921.1 1148.4,920.7 1148.9,920.3 1149.4,920.0 1149.9,919.6 1150.4,919.3 1150.9,918.9 1151.4,918.6 1151.9,918.3 1152.4,917.9 1152.9,917.6 1153.4,917.3 1153.9,917.0 1154.4,916.6 1154.8,916.4 1154.9,916.3 1155.4,916.0 1155.9,915.7 1156.4,915.4 1156.9,915.1 1157.4,914.8 1157.9,914.5 1158.4,914.2 1158.9,913.9 1159.4,913.6 1159.9,913.3 1160.4,913.0 1160.9,912.7 1161.4,912.4 1161.9,912.1 1162.4,911.8 1162.9,911.5 1163.4,911.2 1163.9,910.9 1164.4,910.6 1164.9,910.4 1165.4,910.1 1165.9,909.8 1166.4,909.5 1166.9,909.3 1167.4,909.0 1167.9,908.7 1168.4,908.5 1168.9,908.2 1169.4,908.0 1169.9,907.7 1170.4,907.5 1170.9,907.2 1171.4,907.0 1171.9,906.8 1172.4,906.5 1172.9,906.3 1173.4,906.1 1173.9,905.9 1174.4,905.7 1174.9,905.5 1175.4,905.3 1175.9,905.1 1176.4,905.0 1176.9,904.8 1177.4,904.6 1177.9,904.5 1178.4,904.3 1178.9,904.2 1179.3,904.1 1179.4,904.1 1179.9,903.9 1180.4,903.8 1180.9,903.7 1181.4,903.6 1181.9,903.4 1182.4,903.3 1182.9,903.2 1183.4,903.1 1183.9,902.9 1184.4,902.8 1184.9,902.7 1185.4,902.6 1185.9,902.4 1186.4,902.3 1186.9,902.2 1187.4,902.1 1187.9,902.0 1188.4,901.8 1188.9,901.7 1189.4,901.6 1189.9,901.5 1190.4,901.4 1190.9,901.3 1191.4,901.2 1191.9,901.1 1192.4,901.0 1192.9,900.9 1193.4,900.7 1193.9,900.6 1194.4,900.5 1194.9,900.4 1195.4,900.4 1195.9,900.3 1196.4,900.2 1196.9,900.1 1197.4,900.0 1197.9,899.9 1198.4,899.8 1198.9,899.7 1199.4,899.7 1199.9,899.6 1200.4,899.5 1200.9,899.4 1201.4,899.4 1201.9,899.3 1202.4,899.2 1202.9,899.2 1203.4,899.1 1203.9,899.0 1204.4,899.0 1204.9,898.9 1205.4,898.9 1205.9,898.8 1206.4,898.8 1206.9,898.7 1207.4,898.7 1207.9,898.7 1208.4,898.6 1208.9,898.6 1209.4,898.6 1209.9,898.6 1210.4,898.5 1210.9,898.5 1211.4,898.5 1211.9,898.5 1212.4,898.5 1212.9,898.5 1213.4,898.5 1213.9,898.5 1214.4,898.5 1214.9,898.5 1215.4,898.5 1215.9,898.5 1216.4,898.5 1216.9,898.5 1217.4,898.5 1217.9,898.6 1218.4,898.6 1218.9,898.6 1219.4,898.6 1219.9,898.6 1220.4,898.6 1220.9,898.6 1221.4,898.7 1221.9,898.7 1222.4,898.7 1222.9,898.7 1223.4,898.7 1223.9,898.7 1224.4,898.8 1224.9,898.8 1225.4,898.8 1225.9,898.8 1226.4,898.9 1226.9,898.9 1227.4,898.9 1227.9,898.9 1228.4,899.0 1228.9,899.0 1229.4,899.0 1229.9,899.1 1230.4,899.1 1230.9,899.1 1231.4,899.1 1231.9,899.2 1232.4,899.2 1232.9,899.2 1233.4,899.3 1233.9,899.3 1234.4,899.3 1234.9,899.4 1235.4,899.4 1235.9,899.4 1236.4,899.5 1236.9,899.5 1237.4,899.5 1237.9,899.6 1238.4,899.6 1238.9,899.7 1239.4,899.7 1239.9,899.7 1240.4,899.8 1240.9,899.8 1241.4,899.9 1241.9,899.9 1242.4,899.9 1242.9,900.0 1243.4,900.0 1243.9,900.0 1244.4,900.1 1244.9,900.1 1245.4,900.2 1245.9,900.2 1246.4,900.2 1246.9,900.3 1247.4,900.3 1247.9,900.4 1248.4,900.4 1248.9,900.4 1249.4,900.5 1249.9,900.5 1250.4,900.6 1250.9,900.6 1251.4,900.7 1251.9,900.7 1252.4,900.7 1252.9,900.8 1253.4,900.8 1253.9,900.9 1254.4,900.9 1254.9,900.9 1255.4,901.0 1255.9,901.0 1256.4,901.0 1256.9,901.1 1257.4,901.1 1257.9,901.2 1258.4,901.2 1258.9,901.2 1259.4,901.3 1259.9,901.3 1260.4,901.3 1260.9,901.4 1261.4,901.4 1261.9,901.5 1262.4,901.5 1262.9,901.5 1263.4,901.6 1263.9,901.6 1264.4,901.6 1264.9,901.7 1265.4,901.7 1265.9,901.7 1266.4,901.8 1266.9,901.8 1267.4,901.8 1267.9,901.8 1268.4,901.9 1268.9,901.9 1269.4,901.9 1269.9,902.0 1270.4,902.0 1270.9,902.0 1271.4,902.0 1271.9,902.1 1272.4,902.1 1272.9,902.1 1273.4,902.1 1273.9,902.1 1274.4,902.2 1274.9,902.2 1275.4,902.2 1275.5,902.2 1275.9,902.2 1276.4,902.2 1276.9,902.3 1277.4,902.3 1277.9,902.3 1278.4,902.3 1278.9,902.3 1279.4,902.3 1279.9,902.4 1280.4,902.4 1280.9,902.4 1281.4,902.4 1281.9,902.4 1282.4,902.4 1282.9,902.5 1283.4,902.5 1283.9,902.5 1284.4,902.5 1284.9,902.5 1285.4,902.6 1285.9,902.6 1286.4,902.6 1286.9,902.6 1287.4,902.6 1287.9,902.6 1288.4,902.7 1288.9,902.7 1289.4,902.7 1289.9,902.7 1290.4,902.7 1290.9,902.8 1291.4,902.8 1291.9,902.8 1292.4,902.8 1292.9,902.8 1293.4,902.8 1293.9,902.9 1294.4,902.9 1294.9,902.9 1295.4,902.9 1295.9,902.9 1296.4,902.9 1296.9,903.0 1297.4,903.0 1297.9,903.0 1298.4,903.0 1298.9,903.0 1299.4,903.0 1299.9,903.1 1300.4,903.1 1300.9,903.1 1301.4,903.1 1301.9,903.1 1302.4,903.1 1302.9,903.2 1303.4,903.2 1303.9,903.2 1304.4,903.2 1304.9,903.2 1305.4,903.2 1305.9,903.3 1306.4,903.3 1306.9,903.3 1307.4,903.3 1307.9,903.3 1308.4,903.3 1308.9,903.3 1309.4,903.4 1309.9,903.4 1310.4,903.4 1310.9,903.4 1311.4,903.4 1311.9,903.4 1312.4,903.4 1312.9,903.4 1313.4,903.5 1313.9,903.5 1314.4,903.5 1314.9,903.5 1315.4,903.5 1315.9,903.5 1316.4,903.5 1316.9,903.5 1317.4,903.6 1317.9,903.6 1318.4,903.6 1318.9,903.6 1319.4,903.6 1319.9,903.6 1320.4,903.6 1320.9,903.6 1321.4,903.6 1321.9,903.6 1322.4,903.7 1322.9,903.7 1323.4,903.7 1323.9,903.7 1324.4,903.7 1324.9,903.7 1325.4,903.7 1325.9,903.7 1326.4,903.7 1326.9,903.7 1327.4,903.7 1327.9,903.7 1328.4,903.7 1328.9,903.7 1329.4,903.8 1329.9,903.8 1330.4,903.8 1330.9,903.8 1331.4,903.8 1331.9,903.8 1332.4,903.8 1332.9,903.8 1333.4,903.8 1333.9,903.8 1334.4,903.8 1334.9,903.8 1335.4,903.8 1335.9,903.8 1336.4,903.8 1336.9,903.8 1337.4,903.8 1337.9,903.8 1338.1,903.8 1338.4,903.8 1338.9,903.8 1339.4,903.8 1339.9,903.8 1340.4,903.8 1340.9,903.8 1341.4,903.8 1341.9,903.8 1342.4,903.8 1342.9,903.8 1343.4,903.8 1343.9,903.8 1344.4,903.8 1344.9,903.8 1345.4,903.7 1345.9,903.7 1346.4,903.7 1346.9,903.7 1347.4,903.7 1347.9,903.7 1348.4,903.7 1348.9,903.7 1349.4,903.7 1349.9,903.7 1350.4,903.7 1350.9,903.6 1351.4,903.6 1351.9,903.6 1352.4,903.6 1352.9,903.6 1353.4,903.6 1353.9,903.6 1354.4,903.6 1354.9,903.5 1355.4,903.5 1355.9,903.5 1356.4,903.5 1356.9,903.5 1357.4,903.5 1357.9,903.5 1358.4,903.4 1358.9,903.4 1359.4,903.4 1359.9,903.4 1360.4,903.4 1360.9,903.4 1361.4,903.3 1361.9,903.3 1362.4,903.3 1362.9,903.3 1363.4,903.3 1363.9,903.2 1364.4,903.2 1364.9,903.2 1365.4,903.2 1365.9,903.2 1366.4,903.1 1366.9,903.1 1367.4,903.1 1367.9,903.1 1368.4,903.1 1368.9,903.0 1369.4,903.0 1369.9,903.0 1370.4,903.0 1370.9,903.0 1371.4,902.9 1371.9,902.9 1372.4,902.9 1372.9,902.9 1373.4,902.8 1373.9,902.8 1374.4,902.8 1374.9,902.8 1375.4,902.8 1375.9,902.7 1376.4,902.7 1376.9,902.7 1377.4,902.7 1377.9,902.6 1378.4,902.6 1378.9,902.6 1379.4,902.6 1379.9,902.5 1380.4,902.5 1380.9,902.5 1381.4,902.5 1381.9,902.5 1382.4,902.4 1382.9,902.4 1383.4,902.4 1383.9,902.4 1384.4,902.3 1384.9,902.3 1385.4,902.3 1385.9,902.3 1386.4,902.2 1386.9,902.2 1387.4,902.2 1387.9,902.2 1388.4,902.1 1388.9,902.1 1389.4,902.1 1389.9,902.1 1390.4,902.1 1390.9,902.0 1391.4,902.0 1391.9,902.0 1392.4,902.0 1392.9,901.9 1393.4,901.9 1393.9,901.9 1394.4,901.9 1394.9,901.8 1395.4,901.8 1395.9,901.8 1396.4,901.8 1396.9,901.8 1397.4,901.7 1397.9,901.7 1398.4,901.7 1398.9,901.7 1399.4,901.7 1399.9,901.6 1400.4,901.6 1400.7,901.6 1400.9,901.6 1401.4,901.6 1401.9,901.5 1402.4,901.5 1402.9,901.5 1403.4,901.5 1403.9,901.5 1404.4,901.4 1404.9,901.4 1405.4,901.4 1405.9,901.4 1406.4,901.3 1406.9,901.3 1407.4,901.3 1407.9,901.3 1408.4,901.2 1408.9,901.2 1409.4,901.2 1409.9,901.1 1410.4,901.1 1410.9,901.1 1411.4,901.1 1411.9,901.0 1412.4,901.0 1412.9,901.0 1413.4,900.9 1413.9,900.9 1414.4,900.9 1414.9,900.8 1415.4,900.8 1415.9,900.8 1416.4,900.8 1416.9,900.7 1417.4,900.7 1417.9,900.7 1418.4,900.6 1418.9,900.6 1419.4,900.6 1419.9,900.5 1420.4,900.5 1420.9,900.5 1421.4,900.4 1421.9,900.4 1422.4,900.4 1422.9,900.3 1423.4,900.3 1423.9,900.3 1424.4,900.2 1424.9,900.2 1425.4,900.2 1425.9,900.1 1426.4,900.1 1426.9,900.1 1427.4,900.0 1427.9,900.0 1428.4,900.0 1428.9,899.9 1429.4,899.9 1429.9,899.9 1430.4,899.8 1430.9,899.8 1431.4,899.8 1431.9,899.7 1432.4,899.7 1432.9,899.7 1433.4,899.6 1433.9,899.6 1434.4,899.6 1434.9,899.5 1435.4,899.5 1435.9,899.5 1436.4,899.5 1436.9,899.4 1437.4,899.4 1437.9,899.4 1438.4,899.3 1438.9,899.3 1439.4,899.3 1439.9,899.3 1440.4,899.2 1440.9,899.2 1441.4,899.2 1441.9,899.1 1442.4,899.1 1442.9,899.1 1443.4,899.1 1443.9,899.0 1444.4,899.0 1444.9,899.0 1445.4,899.0 1445.9,898.9 1446.4,898.9 1446.9,898.9 1447.4,898.9 1447.9,898.9 1448.4,898.8 1448.9,898.8 1449.4,898.8 1449.9,898.8 1450.4,898.8 1450.9,898.7 1451.4,898.7 1451.9,898.7 1452.4,898.7 1452.9,898.7 1453.4,898.7 1453.9,898.6 1454.4,898.6 1454.9,898.6 1455.4,898.6 1455.9,898.6 1456.4,898.6 1456.9,898.6 1457.4,898.6 1457.9,898.5 1458.4,898.5 1458.9,898.5 1459.4,898.5 1459.9,898.5 1460.4,898.5 1460.9,898.5 1461.4,898.5 1461.9,898.5 1462.4,898.5 1462.9,898.5 1463.3,898.5 1463.4,898.5 1463.9,898.5 1464.4,898.5 1464.9,898.5 1465.4,898.5 1465.9,898.5 1466.4,898.5 1466.9,898.5 1467.4,898.5 1467.9,898.5 1468.4,898.5 1468.9,898.5 1469.4,898.5 1469.9,898.5 1470.4,898.6 1470.9,898.6 1471.4,898.6 1471.9,898.6 1472.4,898.6 1472.9,898.6 1473.4,898.6 1473.9,898.6 1474.4,898.6 1474.9,898.6 1475.4,898.6 1475.9,898.7 1476.4,898.7 1476.9,898.7 1477.4,898.7 1477.9,898.7 1478.4,898.7 1478.9,898.7 1479.4,898.8 1479.9,898.8 1480.4,898.8 1480.9,898.8 1481.4,898.8 1481.9,898.9 1482.4,898.9 1482.9,898.9 1483.4,898.9 1483.9,898.9 1484.4,899.0 1484.9,899.0 1485.4,899.0 1485.9,899.0 1486.4,899.0 1486.9,899.1 1487.4,899.1 1487.9,899.1 1488.4,899.1 1488.9,899.2 1489.4,899.2 1489.9,899.2 1490.4,899.2 1490.9,899.3 1491.4,899.3 1491.9,899.3 1492.4,899.4 1492.9,899.4 1493.4,899.4 1493.9,899.4 1494.4,899.5 1494.9,899.5 1495.4,899.5 1495.9,899.6 1496.4,899.6 1496.9,899.6 1497.4,899.7 1497.9,899.7 1498.4,899.7 1498.9,899.8 1499.4,899.8 1499.9,899.8 1500.4,899.9 1500.9,899.9 1501.4,900.0 1501.9,900.0 1502.4,900.0 1502.9,900.1 1503.4,900.1 1503.9,900.1 1504.4,900.2 1504.9,900.2 1505.4,900.3 1505.9,900.3 1506.4,900.4 1506.9,900.4 1507.4,900.4 1507.9,900.5 1508.4,900.5 1508.9,900.6 1509.4,900.6 1509.9,900.7 1510.3,900.7 1510.4,900.7 1510.9,900.8 1511.4,900.8 1511.9,900.9 1512.4,901.0 1512.9,901.1 1513.4,901.2 1513.9,901.3 1514.4,901.4 1514.9,901.6 1515.4,901.7 1515.9,901.8 1516.4,902.0 1516.9,902.2 1517.4,902.3 1517.9,902.5 1518.4,902.7 1518.9,902.9 1519.4,903.1 1519.9,903.3 1520.4,903.5 1520.9,903.7 1521.4,903.9 1521.9,904.2 1522.4,904.4 1522.9,904.7 1523.4,904.9 1523.9,905.1 1524.4,905.4 1524.9,905.7 1525.4,905.9 1525.9,906.2 1526.4,906.4 1526.9,906.7 1527.4,907.0 1527.9,907.3 1528.4,907.5 1528.9,907.8 1529.4,908.1 1529.9,908.4 1530.4,908.7 1530.9,909.0 1531.4,909.2 1531.9,909.5 1532.4,909.8 1532.9,910.1 1533.4,910.4 1533.9,910.7 1534.4,911.0 1534.9,911.3 1535.4,911.5 1535.5,911.6" fill="none" stroke="#7E2F8E" stroke-width="3.2" stroke-linejoin="round" stroke-linecap="butt"/>
<path d="M1028.9,1207.0L1029.2,1200.5 1029.4,1196.8 1029.9,1187.6 1030.4,1178.8 1030.9,1170.3 1031.4,1162.2 1031.9,1154.4 1032.4,1147.1 1032.9,1140.1 1033.4,1133.7 1033.9,1127.7 1034.4,1122.2 1034.9,1117.1 1035.4,1112.1 1035.9,1107.2 1036.4,1102.6 1036.9,1098.1 1037.4,1093.8 1037.9,1089.6 1038.4,1085.6 1038.9,1081.8 1039.4,1078.2 1039.9,1074.7 1040.4,1071.4 1040.9,1068.4 1041.4,1065.5 1041.9,1062.8 1042.4,1060.3 1042.5,1059.8 1042.9,1057.9 1043.4,1055.7 1043.9,1053.6 1044.4,1051.6 1044.9,1049.6 1045.4,1047.8 1045.9,1046.0 1046.4,1044.3 1046.9,1042.6 1047.4,1041.0 1047.9,1039.4 1048.4,1037.9 1048.9,1036.5 1049.4,1035.0 1049.9,1033.6 1050.4,1032.2 1050.9,1030.8 1051.4,1029.5 1051.9,1028.1 1052.3,1027.0 1052.4,1026.7 1052.9,1025.3 1053.4,1024.0 1053.9,1022.6 1054.4,1021.3 1054.9,1020.0 1055.4,1018.6 1055.9,1017.3 1056.4,1016.1 1056.9,1014.8 1057.4,1013.5 1057.9,1012.3 1058.4,1011.1 1058.9,1009.9 1059.4,1008.8 1059.9,1007.6 1060.4,1006.5 1060.9,1005.4 1061.4,1004.4 1061.9,1003.4 1062.4,1002.4 1062.9,1001.4 1063.4,1000.5 1063.9,999.6 1064.4,998.7 1064.6,998.4 1064.9,997.9 1065.4,997.1 1065.9,996.3 1066.4,995.6 1066.9,994.8 1067.4,994.1 1067.9,993.4 1068.4,992.7 1068.9,992.0 1069.4,991.3 1069.9,990.6 1070.4,990.0 1070.9,989.4 1071.4,988.7 1071.9,988.1 1072.4,987.5 1072.9,986.9 1073.4,986.3 1073.9,985.8 1074.4,985.2 1074.9,984.6 1075.4,984.1 1075.9,983.5 1076.4,982.9 1076.9,982.4 1077.4,981.8 1077.9,981.3 1078.4,980.8 1078.9,980.2 1079.4,979.7 1079.9,979.1 1080.4,978.6 1080.9,978.0 1081.0,977.9 1081.4,977.5 1081.9,976.9 1082.4,976.4 1082.9,975.8 1083.4,975.3 1083.9,974.7 1084.4,974.2 1084.9,973.6 1085.4,973.1 1085.9,972.6 1086.4,972.0 1086.9,971.5 1087.4,971.0 1087.9,970.4 1088.4,969.9 1088.9,969.4 1089.4,968.9 1089.9,968.4 1090.4,967.9 1090.9,967.4 1091.4,966.9 1091.9,966.4 1092.4,966.0 1092.9,965.5 1093.4,965.0 1093.9,964.6 1094.4,964.1 1094.9,963.6 1095.4,963.2 1095.9,962.8 1096.4,962.3 1096.9,961.9 1097.4,961.5 1097.9,961.1 1098.4,960.7 1098.9,960.3 1099.4,959.8 1099.9,959.4 1100.4,959.0 1100.9,958.6 1101.4,958.2 1101.9,957.8 1102.4,957.3 1102.9,956.9 1103.4,956.5 1103.9,956.1 1104.4,955.7 1104.9,955.3 1105.4,955.0 1105.9,954.6 1106.4,954.2 1106.9,953.9 1107.4,953.5 1107.9,953.2 1108.4,952.8 1108.9,952.5 1109.4,952.2 1109.9,951.9 1110.4,951.6 1110.9,951.3 1111.4,951.1 1111.9,950.8 1112.4,950.6 1112.9,950.4 1113.4,950.2 1113.8,950.0 1113.9,950.0 1114.4,949.8 1114.9,949.6 1115.4,949.4 1115.9,949.2 1116.4,949.0 1116.9,948.9 1117.4,948.7 1117.9,948.5 1118.4,948.3 1118.9,948.2 1119.4,948.0 1119.9,947.8 1120.4,947.7 1120.9,947.5 1121.4,947.4 1121.9,947.2 1122.4,947.1 1122.9,946.9 1123.4,946.8 1123.9,946.7 1124.4,946.6 1124.9,946.5 1125.4,946.4 1125.9,946.3 1126.4,946.2 1126.9,946.1 1127.4,946.1 1127.9,946.0 1128.4,946.0 1128.9,945.9 1129.4,945.9 1129.9,945.9 1130.2,945.9 1130.4,945.9 1130.9,945.9 1131.4,945.9 1131.9,945.9 1132.4,945.9 1132.9,945.9 1133.4,945.9 1133.9,945.9 1134.4,945.9 1134.9,945.9 1135.4,945.9 1135.9,945.9 1136.4,945.9 1136.9,945.9 1137.4,945.9 1137.9,945.9 1138.4,945.9 1138.9,945.9 1139.4,945.9 1139.9,945.9 1140.4,945.9 1140.9,945.9 1141.4,945.9 1141.9,945.9 1142.4,945.9 1142.9,945.9 1143.4,945.9 1143.9,945.9 1144.4,945.9 1144.9,945.9 1145.4,945.9 1145.9,945.9 1146.4,945.9 1146.9,945.9 1147.4,945.9 1147.9,945.9 1148.4,945.9 1148.9,945.9 1149.4,945.9 1149.9,945.9 1150.4,945.9 1150.9,945.9 1151.4,945.9 1151.9,945.9 1152.4,945.9 1152.9,945.9 1153.4,945.9 1153.9,945.9 1154.4,945.9 1154.8,945.9 1154.9,945.9 1155.4,945.9 1155.9,945.9 1156.4,945.9 1156.9,945.9 1157.4,945.9 1157.9,945.9 1158.4,945.9 1158.9,945.9 1159.4,945.9 1159.9,945.9 1160.4,945.9 1160.9,945.9 1161.4,946.0 1161.9,946.0 1162.4,946.0 1162.9,946.0 1163.4,946.0 1163.9,946.0 1164.4,946.0 1164.9,946.0 1165.4,946.0 1165.9,946.0 1166.4,946.1 1166.9,946.1 1167.4,946.1 1167.9,946.1 1168.4,946.1 1168.9,946.1 1169.4,946.1 1169.9,946.2 1170.4,946.2 1170.9,946.2 1171.4,946.2 1171.9,946.2 1172.4,946.3 1172.9,946.3 1173.4,946.3 1173.9,946.3 1174.4,946.3 1174.9,946.4 1175.4,946.4 1175.9,946.4 1176.4,946.4 1176.9,946.4 1177.4,946.5 1177.9,946.5 1178.4,946.5 1178.9,946.5 1179.4,946.6 1179.9,946.6 1180.4,946.6 1180.9,946.6 1181.4,946.7 1181.9,946.7 1182.4,946.7 1182.9,946.7 1183.4,946.8 1183.9,946.8 1184.4,946.8 1184.9,946.8 1185.4,946.9 1185.9,946.9 1186.4,946.9 1186.9,947.0 1187.4,947.0 1187.9,947.0 1188.4,947.0 1188.9,947.1 1189.4,947.1 1189.9,947.1 1190.4,947.2 1190.9,947.2 1191.4,947.2 1191.9,947.3 1192.4,947.3 1192.9,947.3 1193.4,947.4 1193.9,947.4 1194.4,947.4 1194.9,947.4 1195.4,947.5 1195.9,947.5 1196.4,947.5 1196.9,947.6 1197.2,947.6 1197.4,947.6 1197.9,947.6 1198.4,947.7 1198.9,947.7 1199.4,947.8 1199.9,947.8 1200.4,947.9 1200.9,947.9 1201.4,948.0 1201.9,948.0 1202.4,948.1 1202.9,948.2 1203.4,948.2 1203.9,948.3 1204.4,948.4 1204.9,948.5 1205.4,948.5 1205.9,948.6 1206.4,948.7 1206.9,948.8 1207.4,948.9 1207.9,949.0 1208.4,949.1 1208.9,949.2 1209.4,949.2 1209.9,949.3 1210.4,949.4 1210.9,949.5 1211.4,949.6 1211.9,949.7 1212.4,949.9 1212.9,950.0 1213.4,950.1 1213.9,950.2 1214.4,950.3 1214.9,950.4 1215.4,950.5 1215.9,950.6 1216.4,950.7 1216.9,950.9 1217.4,951.0 1217.9,951.1 1218.4,951.2 1218.9,951.3 1219.4,951.5 1219.9,951.6 1220.4,951.7 1220.9,951.8 1221.4,951.9 1221.9,952.1 1222.4,952.2 1222.9,952.3 1223.4,952.4 1223.9,952.6 1224.4,952.7 1224.9,952.8 1225.4,952.9 1225.9,953.1 1226.4,953.2 1226.9,953.3 1227.4,953.4 1227.9,953.5 1228.4,953.7 1228.9,953.8 1229.4,953.9 1229.9,954.0 1230.4,954.2 1230.9,954.3 1231.4,954.4 1231.9,954.5 1232.4,954.6 1232.9,954.7 1233.4,954.9 1233.9,955.0 1234.4,955.1 1234.9,955.2 1235.4,955.3 1235.9,955.4 1236.4,955.5 1236.9,955.6 1237.4,955.7 1237.9,955.8 1238.4,956.0 1238.9,956.1 1239.4,956.1 1239.9,956.2 1240.4,956.3 1240.9,956.4 1241.4,956.5 1241.9,956.6 1242.4,956.7 1242.9,956.8 1243.4,956.9 1243.9,957.0 1244.2,957.0 1244.4,957.0 1244.9,957.1 1245.4,957.2 1245.9,957.3 1246.4,957.3 1246.9,957.4 1247.4,957.5 1247.9,957.6 1248.4,957.6 1248.9,957.7 1249.4,957.8 1249.9,957.9 1250.4,957.9 1250.9,958.0 1251.4,958.1 1251.9,958.2 1252.4,958.2 1252.9,958.3 1253.4,958.4 1253.9,958.5 1254.4,958.5 1254.9,958.6 1255.4,958.7 1255.9,958.7 1256.4,958.8 1256.9,958.9 1257.4,958.9 1257.9,959.0 1258.4,959.1 1258.9,959.2 1259.4,959.2 1259.9,959.3 1260.4,959.4 1260.9,959.4 1261.4,959.5 1261.9,959.6 1262.4,959.6 1262.9,959.7 1263.4,959.8 1263.9,959.8 1264.4,959.9 1264.9,960.0 1265.4,960.0 1265.9,960.1 1266.4,960.2 1266.9,960.2 1267.4,960.3 1267.9,960.4 1268.4,960.4 1268.9,960.5 1269.4,960.5 1269.9,960.6 1270.4,960.7 1270.9,960.7 1271.4,960.8 1271.9,960.9 1272.4,960.9 1272.9,961.0 1273.4,961.0 1273.9,961.1 1274.4,961.2 1274.9,961.2 1275.4,961.3 1275.9,961.4 1276.4,961.4 1276.9,961.5 1277.4,961.5 1277.9,961.6 1278.4,961.7 1278.9,961.7 1279.4,961.8 1279.9,961.8 1280.4,961.9 1280.9,962.0 1281.4,962.0 1281.9,962.1 1282.4,962.1 1282.9,962.2 1283.4,962.3 1283.9,962.3 1284.4,962.4 1284.9,962.4 1285.4,962.5 1285.9,962.5 1286.4,962.6 1286.9,962.7 1287.4,962.7 1287.9,962.8 1288.4,962.8 1288.9,962.9 1289.4,962.9 1289.9,963.0 1290.4,963.1 1290.9,963.1 1291.4,963.2 1291.9,963.2 1292.4,963.3 1292.9,963.3 1293.4,963.4 1293.9,963.5 1294.4,963.5 1294.9,963.6 1295.4,963.6 1295.9,963.7 1296.4,963.7 1296.9,963.8 1297.4,963.9 1297.9,963.9 1298.4,964.0 1298.9,964.0 1299.4,964.1 1299.9,964.1 1300.4,964.2 1300.9,964.2 1301.4,964.3 1301.9,964.4 1302.4,964.4 1302.9,964.5 1303.4,964.5 1303.9,964.6 1304.4,964.6 1304.9,964.7 1305.4,964.7 1305.9,964.8 1306.4,964.9 1306.8,964.9 1306.9,964.9 1307.4,965.0 1307.9,965.0 1308.4,965.1 1308.9,965.1 1309.4,965.2 1309.9,965.2 1310.4,965.3 1310.9,965.4 1311.4,965.4 1311.9,965.5 1312.4,965.5 1312.9,965.6 1313.4,965.6 1313.9,965.7 1314.4,965.7 1314.9,965.8 1315.4,965.8 1315.9,965.9 1316.4,965.9 1316.9,966.0 1317.4,966.1 1317.9,966.1 1318.4,966.2 1318.9,966.2 1319.4,966.3 1319.9,966.3 1320.4,966.4 1320.9,966.4 1321.4,966.5 1321.9,966.5 1322.4,966.6 1322.9,966.6 1323.4,966.7 1323.9,966.7 1324.4,966.8 1324.9,966.9 1325.4,966.9 1325.9,967.0 1326.4,967.0 1326.9,967.1 1327.4,967.1 1327.9,967.2 1328.4,967.2 1328.9,967.3 1329.4,967.3 1329.9,967.4 1330.4,967.4 1330.9,967.5 1331.4,967.5 1331.9,967.6 1332.4,967.6 1332.9,967.7 1333.4,967.7 1333.9,967.8 1334.4,967.8 1334.9,967.9 1335.4,967.9 1335.9,968.0 1336.4,968.0 1336.9,968.1 1337.4,968.1 1337.9,968.2 1338.4,968.2 1338.9,968.3 1339.4,968.3 1339.9,968.4 1340.4,968.4 1340.9,968.5 1341.4,968.5 1341.9,968.6 1342.4,968.6 1342.9,968.7 1343.4,968.7 1343.9,968.8 1344.4,968.8 1344.9,968.9 1345.4,968.9 1345.9,969.0 1346.4,969.0 1346.9,969.1 1347.4,969.1 1347.9,969.2 1348.4,969.2 1348.9,969.2 1349.4,969.3 1349.9,969.3 1350.4,969.4 1350.9,969.4 1351.4,969.5 1351.9,969.5 1352.4,969.6 1352.9,969.6 1353.4,969.7 1353.9,969.7 1354.4,969.8 1354.9,969.8 1355.4,969.9 1355.9,969.9 1356.4,969.9 1356.9,970.0 1357.4,970.0 1357.9,970.1 1358.4,970.1 1358.9,970.2 1359.4,970.2 1359.9,970.3 1360.4,970.3 1360.9,970.4 1361.4,970.4 1361.9,970.4 1362.4,970.5 1362.9,970.5 1363.4,970.6 1363.9,970.6 1364.4,970.7 1364.9,970.7 1365.4,970.8 1365.9,970.8 1366.4,970.8 1366.9,970.9 1367.4,970.9 1367.9,971.0 1368.4,971.0 1368.9,971.1 1369.4,971.1 1369.9,971.1 1370.4,971.2 1370.9,971.2 1371.4,971.3 1371.9,971.3 1372.4,971.4 1372.9,971.4 1373.4,971.4 1373.9,971.5 1374.4,971.5 1374.9,971.6 1375.4,971.6 1375.9,971.7 1376.4,971.7 1376.9,971.8 1377.4,971.8 1377.9,971.8 1378.4,971.9 1378.9,971.9 1379.4,972.0 1379.9,972.0 1380.4,972.1 1380.9,972.1 1381.4,972.2 1381.9,972.2 1382.4,972.2 1382.9,972.3 1383.4,972.3 1383.9,972.4 1384.4,972.4 1384.9,972.5 1385.4,972.5 1385.9,972.5 1386.4,972.6 1386.9,972.6 1387.4,972.7 1387.9,972.7 1388.4,972.8 1388.9,972.8 1389.4,972.9 1389.9,972.9 1390.4,972.9 1390.9,973.0 1391.4,973.0 1391.9,973.1 1392.4,973.1 1392.9,973.2 1393.4,973.2 1393.9,973.2 1394.4,973.3 1394.9,973.3 1395.4,973.4 1395.9,973.4 1396.4,973.5 1396.9,973.5 1397.4,973.5 1397.9,973.6 1398.4,973.6 1398.9,973.7 1399.4,973.7 1399.9,973.8 1400.4,973.8 1400.9,973.8 1401.4,973.9 1401.9,973.9 1402.4,974.0 1402.9,974.0 1403.4,974.0 1403.9,974.1 1404.4,974.1 1404.9,974.2 1405.4,974.2 1405.9,974.2 1406.4,974.3 1406.9,974.3 1407.4,974.3 1407.9,974.4 1408.4,974.4 1408.9,974.5 1409.4,974.5 1409.9,974.5 1410.4,974.6 1410.9,974.6 1411.4,974.6 1411.9,974.7 1412.4,974.7 1412.9,974.7 1413.4,974.8 1413.9,974.8 1414.4,974.9 1414.9,974.9 1415.4,974.9 1415.9,975.0 1416.4,975.0 1416.9,975.0 1417.4,975.0 1417.9,975.1 1418.4,975.1 1418.9,975.1 1419.4,975.2 1419.9,975.2 1420.4,975.2 1420.9,975.3 1421.4,975.3 1421.9,975.3 1422.4,975.3 1422.9,975.4 1423.4,975.4 1423.9,975.4 1424.4,975.5 1424.9,975.5 1425.4,975.5 1425.9,975.5 1426.4,975.6 1426.9,975.6 1427.4,975.6 1427.9,975.6 1428.4,975.6 1428.9,975.7 1429.4,975.7 1429.9,975.7 1430.4,975.7 1430.9,975.8 1431.4,975.8 1431.9,975.8 1432.0,975.8 1432.4,975.8 1432.9,975.8 1433.4,975.9 1433.9,975.9 1434.4,975.9 1434.9,975.9 1435.4,975.9 1435.9,975.9 1436.4,976.0 1436.9,976.0 1437.4,976.0 1437.9,976.0 1438.4,976.0 1438.9,976.0 1439.4,976.0 1439.9,976.1 1440.4,976.1 1440.9,976.1 1441.4,976.1 1441.9,976.1 1442.4,976.1 1442.9,976.1 1443.4,976.1 1443.9,976.2 1444.4,976.2 1444.9,976.2 1445.4,976.2 1445.9,976.2 1446.4,976.2 1446.9,976.2 1447.4,976.2 1447.9,976.2 1448.4,976.2 1448.9,976.3 1449.4,976.3 1449.9,976.3 1450.4,976.3 1450.9,976.3 1451.4,976.3 1451.9,976.3 1452.4,976.3 1452.9,976.3 1453.4,976.3 1453.9,976.3 1454.4,976.4 1454.9,976.4 1455.4,976.4 1455.9,976.4 1456.4,976.4 1456.9,976.4 1457.4,976.4 1457.9,976.4 1458.4,976.4 1458.9,976.4 1459.4,976.4 1459.9,976.4 1460.4,976.4 1460.9,976.5 1461.4,976.5 1461.9,976.5 1462.4,976.5 1462.9,976.5 1463.4,976.5 1463.9,976.5 1464.4,976.5 1464.9,976.5 1465.4,976.5 1465.9,976.5 1466.4,976.5 1466.9,976.5 1467.4,976.6 1467.9,976.6 1468.4,976.6 1468.9,976.6 1469.4,976.6 1469.9,976.6 1470.4,976.6 1470.9,976.6 1471.4,976.6 1471.9,976.6 1472.4,976.6 1472.9,976.7 1473.4,976.7 1473.9,976.7 1474.4,976.7 1474.9,976.7 1475.4,976.7 1475.9,976.7 1476.4,976.7 1476.9,976.7 1477.4,976.8 1477.9,976.8 1478.4,976.8 1478.9,976.8 1479.4,976.8 1479.9,976.8 1480.4,976.8 1480.9,976.9 1481.4,976.9 1481.9,976.9 1482.4,976.9 1482.9,976.9 1483.4,976.9 1483.9,976.9 1484.4,977.0 1484.9,977.0 1485.4,977.0 1485.9,977.0 1486.4,977.0 1486.9,977.1 1487.4,977.1 1487.9,977.1 1488.4,977.1 1488.9,977.1 1489.4,977.2 1489.9,977.2 1490.4,977.2 1490.9,977.2 1491.4,977.2 1491.9,977.3 1492.4,977.3 1492.9,977.3 1493.4,977.3 1493.9,977.4 1494.4,977.4 1494.6,977.4 1494.9,977.4 1495.4,977.4 1495.9,977.5 1496.4,977.5 1496.9,977.6 1497.4,977.6 1497.9,977.7 1498.4,977.8 1498.9,977.8 1499.4,977.9 1499.9,978.0 1500.4,978.1 1500.9,978.2 1501.4,978.3 1501.9,978.3 1502.4,978.5 1502.9,978.6 1503.4,978.7 1503.9,978.8 1504.4,978.9 1504.9,979.0 1505.4,979.1 1505.9,979.3 1506.4,979.4 1506.9,979.5 1507.4,979.7 1507.9,979.8 1508.4,979.9 1508.9,980.1 1509.4,980.2 1509.9,980.4 1510.4,980.5 1510.9,980.7 1511.4,980.8 1511.9,981.0 1512.4,981.2 1512.9,981.3 1513.4,981.5 1513.9,981.7 1514.4,981.8 1514.9,982.0 1515.4,982.1 1515.9,982.3 1516.4,982.5 1516.9,982.7 1517.4,982.8 1517.9,983.0 1518.4,983.2 1518.9,983.3 1519.4,983.5 1519.7,983.6 1519.9,983.7 1520.4,983.8 1520.9,984.0 1521.4,984.2 1521.9,984.4 1522.4,984.6 1522.9,984.8 1523.4,985.0 1523.9,985.3 1524.4,985.5 1524.9,985.7 1525.4,985.9 1525.9,986.2 1526.4,986.4 1526.9,986.7 1527.4,986.9 1527.9,987.2 1528.4,987.5 1528.9,987.7 1529.4,988.0 1529.9,988.3 1530.4,988.5 1530.9,988.8 1531.4,989.1 1531.9,989.4 1532.4,989.7 1532.9,990.0 1533.4,990.3 1533.9,990.6 1534.4,990.8 1534.9,991.1 1535.4,991.4 1535.5,991.5" fill="none" stroke="#4DBEEE" stroke-width="3.2" stroke-linejoin="round" stroke-linecap="butt"/>
<rect x="1029.0" y="704.5" width="676.5" height="506.5" fill="none" stroke="#141414" stroke-width="4.4"/>
<path d="M1141.8,1211.0V1202.0 M1254.5,1211.0V1202.0 M1367.2,1211.0V1202.0 M1480.0,1211.0V1202.0 M1592.8,1211.0V1202.0 M1029.0,1042.2H1038.0 M1029.0,873.3H1038.0" stroke="#141414" stroke-width="3.4" fill="none"/>
<text transform="translate(992.13,1226.28) scale(1.0300,1)" font-size="43.00" font-weight="bold" font-style="normal" fill="#111" stroke="#fff" stroke-width="0.5">0</text>
<text transform="translate(947.84,1057.45) scale(1.0300,1)" font-size="43.00" font-weight="bold" font-style="normal" fill="#111" stroke="#fff" stroke-width="0.5">200</text>
<text transform="translate(947.84,888.62) scale(1.0300,1)" font-size="43.00" font-weight="bold" font-style="normal" fill="#111" stroke="#fff" stroke-width="0.5">400</text>
<text transform="translate(947.84,719.78) scale(1.0300,1)" font-size="43.00" font-weight="bold" font-style="normal" fill="#111" stroke="#fff" stroke-width="0.5">600</text>
<text transform="translate(1017.74,1266.72) scale(0.9200,1)" font-size="46.80" font-weight="bold" font-style="normal" fill="#111" stroke="#fff" stroke-width="0.5">0</text>
<text transform="translate(1114.45,1266.72) scale(0.9200,1)" font-size="46.80" font-weight="bold" font-style="normal" fill="#111" stroke="#fff" stroke-width="0.5">0.2</text>
<text transform="translate(1226.66,1266.72) scale(0.9200,1)" font-size="46.80" font-weight="bold" font-style="normal" fill="#111" stroke="#fff" stroke-width="0.5">0.4</text>
<text transform="translate(1339.62,1266.72) scale(0.9200,1)" font-size="46.80" font-weight="bold" font-style="normal" fill="#111" stroke="#fff" stroke-width="0.5">0.6</text>
<text transform="translate(1452.48,1266.72) scale(0.9200,1)" font-size="46.80" font-weight="bold" font-style="normal" fill="#111" stroke="#fff" stroke-width="0.5">0.8</text>
<text transform="translate(1580.84,1266.49) scale(0.9200,1)" font-size="46.80" font-weight="bold" font-style="normal" fill="#111" stroke="#fff" stroke-width="0.5">1</text>
<text transform="translate(929.10,1153.52) rotate(-90) scale(0.9752,1)" font-size="56.06" font-weight="bold" fill="#1a1a1a">True Stress/Mpa</text>
<text transform="translate(1228.68,1330.34) scale(0.9738,1)" font-size="56.17" font-weight="bold" font-style="normal" fill="#222" >True Strain</text>
<text transform="translate(849.82,676.33) scale(0.9777,1)" font-size="70.11" font-weight="bold" font-style="normal" fill="#000" >(d)</text>
<text transform="translate(1567.20,817.43) scale(0.8517,1)" font-size="46.96" font-weight="bold" font-style="normal" fill="#000" stroke="#fff" stroke-width="0.5">990°C</text>
<text transform="translate(1557.24,916.35) scale(0.8762,1)" font-size="45.04" font-weight="bold" font-style="normal" fill="#000" stroke="#fff" stroke-width="0.5">1080°C</text>
<text transform="translate(1546.16,1016.54) scale(0.8807,1)" font-size="45.93" font-weight="bold" font-style="normal" fill="#000" stroke="#fff" stroke-width="0.5">1170°C</text>
<circle cx="1252" cy="1098.7" r="3.2" fill="none" stroke="#0072BD" stroke-width="1.4"/>
<text transform="translate(1292.24,1106.50) scale(1.0420,1)" font-size="29.21" font-weight="bold" font-style="normal" fill="#000" >Predicted Stress</text>
<text transform="translate(1292.25,1140.66) scale(1.0598,1)" font-size="28.57" font-weight="bold" font-style="normal" fill="#000" >Experimental Stress</text>
<path d="M1219.1,1134.7H1284.9" stroke="#A0522D" stroke-width="3.4"/>
<g fill="none" stroke="#0A72C4" stroke-width="1.0">
<circle cx="672.9" cy="1862.2" r="6.6"/>
<circle cx="704.6" cy="1845.0" r="6.6"/>
<circle cx="730.0" cy="1830.1" r="6.6"/>
<circle cx="745.2" cy="1817.7" r="6.6"/>
<circle cx="769.6" cy="1808.5" r="6.6"/>
<circle cx="793.0" cy="1800.6" r="6.6"/>
<circle cx="810.8" cy="1793.1" r="6.6"/>
<circle cx="824.2" cy="1786.1" r="6.6"/>
<circle cx="835.2" cy="1779.5" r="6.6"/>
<circle cx="845.4" cy="1773.6" r="6.6"/>
<circle cx="856.0" cy="1769.1" r="6.6"/>
<circle cx="864.9" cy="1765.1" r="6.6"/>
<circle cx="871.5" cy="1761.2" r="6.6"/>
<circle cx="878.0" cy="1757.5" r="6.6"/>
<circle cx="884.9" cy="1754.0" r="6.6"/>
<circle cx="891.3" cy="1750.7" r="6.6"/>
<circle cx="897.1" cy="1747.6" r="6.6"/>
<circle cx="902.8" cy="1744.7" r="6.6"/>
<circle cx="907.9" cy="1742.1" r="6.6"/>
<circle cx="912.2" cy="1740.0" r="6.6"/>
<circle cx="915.7" cy="1738.3" r="6.6"/>
<circle cx="918.9" cy="1736.7" r="6.6"/>
<circle cx="921.8" cy="1735.0" r="6.6"/>
<circle cx="924.4" cy="1733.3" r="6.6"/>
<circle cx="926.7" cy="1731.7" r="6.6"/>
<circle cx="928.8" cy="1730.2" r="6.6"/>
<circle cx="930.6" cy="1728.9" r="6.6"/>
<circle cx="932.4" cy="1727.7" r="6.6"/>
<circle cx="934.0" cy="1726.5" r="6.6"/>
<circle cx="935.4" cy="1725.5" r="6.6"/>
<circle cx="936.8" cy="1724.5" r="6.6"/>
<circle cx="937.9" cy="1723.6" r="6.6"/>
<circle cx="939.0" cy="1722.8" r="6.6"/>
<circle cx="939.9" cy="1722.0" r="6.6"/>
<circle cx="940.8" cy="1721.3" r="6.6"/>
<circle cx="941.6" cy="1720.7" r="6.6"/>
<circle cx="942.4" cy="1720.0" r="6.6"/>
<circle cx="943.1" cy="1719.5" r="6.6"/>
<circle cx="943.8" cy="1718.9" r="6.6"/>
<circle cx="944.4" cy="1718.4" r="6.6"/>
<circle cx="944.8" cy="1717.9" r="6.6"/>
<circle cx="945.2" cy="1717.5" r="6.6"/>
<circle cx="945.5" cy="1717.0" r="6.6"/>
<circle cx="945.8" cy="1716.6" r="6.6"/>
<circle cx="946.0" cy="1716.3" r="6.6"/>
<circle cx="946.2" cy="1715.9" r="6.6"/>
<circle cx="946.4" cy="1715.6" r="6.6"/>
<circle cx="946.6" cy="1715.3" r="6.6"/>
<circle cx="946.8" cy="1715.0" r="6.6"/>
<circle cx="946.9" cy="1714.7" r="6.6"/>
<circle cx="947.0" cy="1714.5" r="6.6"/>
<circle cx="947.0" cy="1714.2" r="6.6"/>
<circle cx="947.0" cy="1714.0" r="6.6"/>
<circle cx="947.0" cy="1713.8" r="6.6"/>
<circle cx="946.9" cy="1713.6" r="6.6"/>
<circle cx="946.7" cy="1713.4" r="6.6"/>
<circle cx="946.1" cy="1719.9" r="6.6"/>
<circle cx="945.9" cy="1720.2" r="6.6"/>
<circle cx="945.6" cy="1720.5" r="6.6"/>
<circle cx="945.4" cy="1720.9" r="6.6"/>
<circle cx="945.1" cy="1721.3" r="6.6"/>
<circle cx="944.8" cy="1721.7" r="6.6"/>
<circle cx="944.5" cy="1722.2" r="6.6"/>
<circle cx="944.2" cy="1722.8" r="6.6"/>
<circle cx="943.8" cy="1723.4" r="6.6"/>
<circle cx="943.5" cy="1724.0" r="6.6"/>
<circle cx="943.1" cy="1724.6" r="6.6"/>
<circle cx="942.7" cy="1725.1" r="6.6"/>
<circle cx="942.2" cy="1725.7" r="6.6"/>
<circle cx="941.8" cy="1726.2" r="6.6"/>
<circle cx="941.3" cy="1726.7" r="6.6"/>
<circle cx="940.8" cy="1727.2" r="6.6"/>
<circle cx="940.2" cy="1727.6" r="6.6"/>
<circle cx="939.6" cy="1728.1" r="6.6"/>
<circle cx="939.0" cy="1728.6" r="6.6"/>
<circle cx="938.4" cy="1729.1" r="6.6"/>
<circle cx="937.7" cy="1729.7" r="6.6"/>
<circle cx="936.9" cy="1730.2" r="6.6"/>
<circle cx="936.0" cy="1730.8" r="6.6"/>
<circle cx="935.0" cy="1731.4" r="6.6"/>
<circle cx="934.0" cy="1731.9" r="6.6"/>
<circle cx="933.0" cy="1732.5" r="6.6"/>
<circle cx="931.9" cy="1733.0" r="6.6"/>
<circle cx="930.8" cy="1733.5" r="6.6"/>
<circle cx="929.7" cy="1734.0" r="6.6"/>
<circle cx="928.6" cy="1734.4" r="6.6"/>
<circle cx="927.6" cy="1734.9" r="6.6"/>
<circle cx="926.6" cy="1735.3" r="6.6"/>
<circle cx="925.6" cy="1735.7" r="6.6"/>
<circle cx="924.6" cy="1736.1" r="6.6"/>
<circle cx="923.6" cy="1736.5" r="6.6"/>
<circle cx="922.6" cy="1737.0" r="6.6"/>
<circle cx="921.6" cy="1737.4" r="6.6"/>
<circle cx="920.6" cy="1737.8" r="6.6"/>
<circle cx="919.5" cy="1738.3" r="6.6"/>
<circle cx="918.5" cy="1738.6" r="6.6"/>
<circle cx="917.5" cy="1738.9" r="6.6"/>
<circle cx="916.5" cy="1739.2" r="6.6"/>
<circle cx="915.4" cy="1739.5" r="6.6"/>
<circle cx="914.3" cy="1739.7" r="6.6"/>
<circle cx="913.3" cy="1740.0" r="6.6"/>
<circle cx="912.2" cy="1740.2" r="6.6"/>
<circle cx="911.1" cy="1740.5" r="6.6"/>
<circle cx="910.0" cy="1740.8" r="6.6"/>
<circle cx="908.9" cy="1741.1" r="6.6"/>
<circle cx="907.8" cy="1741.4" r="6.6"/>
<circle cx="906.7" cy="1741.7" r="6.6"/>
<circle cx="905.6" cy="1741.9" r="6.6"/>
<circle cx="904.6" cy="1742.2" r="6.6"/>
<circle cx="903.5" cy="1742.5" r="6.6"/>
<circle cx="902.4" cy="1742.8" r="6.6"/>
<circle cx="901.4" cy="1743.2" r="6.6"/>
<circle cx="900.3" cy="1743.5" r="6.6"/>
<circle cx="899.2" cy="1743.8" r="6.6"/>
<circle cx="898.2" cy="1744.1" r="6.6"/>
<circle cx="897.2" cy="1744.4" r="6.6"/>
<circle cx="896.1" cy="1744.7" r="6.6"/>
<circle cx="895.1" cy="1745.0" r="6.6"/>
<circle cx="894.2" cy="1745.4" r="6.6"/>
<circle cx="893.2" cy="1745.7" r="6.6"/>
<circle cx="892.4" cy="1746.0" r="6.6"/>
<circle cx="891.5" cy="1746.2" r="6.6"/>
<circle cx="890.6" cy="1746.5" r="6.6"/>
<circle cx="889.8" cy="1746.8" r="6.6"/>
<circle cx="888.9" cy="1747.0" r="6.6"/>
<circle cx="887.9" cy="1747.3" r="6.6"/>
<circle cx="887.0" cy="1747.5" r="6.6"/>
<circle cx="885.9" cy="1747.8" r="6.6"/>
<circle cx="884.8" cy="1748.0" r="6.6"/>
<circle cx="883.6" cy="1748.2" r="6.6"/>
<circle cx="882.2" cy="1748.4" r="6.6"/>
<circle cx="880.7" cy="1748.6" r="6.6"/>
<circle cx="879.1" cy="1748.7" r="6.6"/>
<circle cx="877.5" cy="1748.9" r="6.6"/>
<circle cx="876.1" cy="1749.0" r="6.6"/>
<circle cx="874.8" cy="1749.1" r="6.6"/>
<circle cx="873.6" cy="1749.2" r="6.6"/>
<circle cx="872.5" cy="1749.3" r="6.6"/>
<circle cx="871.5" cy="1749.4" r="6.6"/>
<circle cx="870.6" cy="1749.5" r="6.6"/>
<circle cx="869.6" cy="1749.6" r="6.6"/>
<circle cx="868.6" cy="1749.7" r="6.6"/>
<circle cx="867.6" cy="1749.8" r="6.6"/>
<circle cx="866.5" cy="1749.9" r="6.6"/>
<circle cx="865.2" cy="1750.0" r="6.6"/>
<circle cx="863.8" cy="1750.1" r="6.6"/>
<circle cx="862.1" cy="1750.2" r="6.6"/>
<circle cx="860.1" cy="1750.3" r="6.6"/>
<circle cx="857.9" cy="1750.3" r="6.6"/>
<circle cx="855.6" cy="1750.4" r="6.6"/>
<circle cx="853.4" cy="1750.4" r="6.6"/>
<circle cx="851.3" cy="1750.4" r="6.6"/>
<circle cx="849.4" cy="1750.4" r="6.6"/>
<circle cx="847.8" cy="1750.4" r="6.6"/>
<circle cx="846.3" cy="1750.4" r="6.6"/>
<circle cx="845.0" cy="1750.4" r="6.6"/>
<circle cx="843.6" cy="1750.4" r="6.6"/>
<circle cx="842.4" cy="1750.5" r="6.6"/>
<circle cx="841.2" cy="1750.5" r="6.6"/>
<circle cx="840.0" cy="1750.5" r="6.6"/>
<circle cx="838.8" cy="1750.5" r="6.6"/>
<circle cx="837.6" cy="1750.5" r="6.6"/>
<circle cx="836.3" cy="1750.5" r="6.6"/>
<circle cx="835.0" cy="1750.5" r="6.6"/>
<circle cx="833.7" cy="1750.5" r="6.6"/>
<circle cx="832.3" cy="1750.5" r="6.6"/>
<circle cx="830.9" cy="1750.5" r="6.6"/>
<circle cx="829.5" cy="1750.5" r="6.6"/>
<circle cx="828.1" cy="1750.5" r="6.6"/>
<circle cx="826.7" cy="1750.5" r="6.6"/>
<circle cx="825.3" cy="1750.5" r="6.6"/>
<circle cx="823.8" cy="1750.5" r="6.6"/>
<circle cx="822.4" cy="1750.5" r="6.6"/>
<circle cx="820.9" cy="1750.5" r="6.6"/>
<circle cx="819.4" cy="1750.5" r="6.6"/>
<circle cx="818.0" cy="1750.5" r="6.6"/>
<circle cx="669.3" cy="1884.8" r="6.6"/>
<circle cx="691.7" cy="1877.4" r="6.6"/>
<circle cx="713.3" cy="1873.0" r="6.6"/>
<circle cx="733.6" cy="1869.6" r="6.6"/>
<circle cx="745.6" cy="1866.9" r="6.6"/>
<circle cx="756.6" cy="1864.2" r="6.6"/>
<circle cx="764.9" cy="1861.2" r="6.6"/>
<circle cx="770.8" cy="1858.2" r="6.6"/>
<circle cx="773.4" cy="1855.0" r="6.6"/>
<circle cx="775.0" cy="1851.8" r="6.6"/>
<circle cx="776.2" cy="1848.5" r="6.6"/>
<circle cx="777.1" cy="1845.6" r="6.6"/>
<circle cx="777.8" cy="1842.9" r="6.6"/>
<circle cx="778.6" cy="1840.5" r="6.6"/>
<circle cx="779.3" cy="1838.6" r="6.6"/>
<circle cx="779.7" cy="1837.2" r="6.6"/>
<circle cx="779.9" cy="1836.1" r="6.6"/>
<circle cx="780.0" cy="1835.4" r="6.6"/>
<circle cx="780.0" cy="1834.8" r="6.6"/>
<circle cx="780.0" cy="1834.3" r="6.6"/>
<circle cx="779.9" cy="1833.9" r="6.6"/>
<circle cx="779.9" cy="1833.5" r="6.6"/>
<circle cx="779.9" cy="1832.9" r="6.6"/>
<circle cx="779.9" cy="1832.5" r="6.6"/>
<circle cx="779.9" cy="1832.2" r="6.6"/>
<circle cx="779.8" cy="1832.1" r="6.6"/>
<circle cx="779.8" cy="1832.1" r="6.6"/>
<circle cx="779.8" cy="1832.1" r="6.6"/>
<circle cx="779.7" cy="1832.1" r="6.6"/>
<circle cx="779.7" cy="1832.1" r="6.6"/>
<circle cx="779.6" cy="1832.1" r="6.6"/>
<circle cx="779.6" cy="1832.2" r="6.6"/>
<circle cx="779.5" cy="1832.3" r="6.6"/>
<circle cx="779.5" cy="1832.5" r="6.6"/>
<circle cx="779.4" cy="1832.7" r="6.6"/>
<circle cx="779.3" cy="1832.9" r="6.6"/>
<circle cx="779.1" cy="1833.2" r="6.6"/>
<circle cx="779.0" cy="1833.8" r="6.6"/>
<circle cx="778.7" cy="1834.3" r="6.6"/>
<circle cx="778.5" cy="1834.9" r="6.6"/>
<circle cx="778.2" cy="1835.4" r="6.6"/>
<circle cx="778.0" cy="1835.8" r="6.6"/>
<circle cx="777.7" cy="1836.2" r="6.6"/>
<circle cx="777.3" cy="1836.5" r="6.6"/>
<circle cx="777.0" cy="1836.9" r="6.6"/>
<circle cx="776.7" cy="1837.2" r="6.6"/>
<circle cx="776.4" cy="1837.5" r="6.6"/>
<circle cx="776.1" cy="1837.8" r="6.6"/>
<circle cx="775.8" cy="1838.1" r="6.6"/>
<circle cx="775.5" cy="1838.4" r="6.6"/>
<circle cx="775.3" cy="1838.6" r="6.6"/>
<circle cx="775.0" cy="1838.9" r="6.6"/>
<circle cx="774.8" cy="1839.2" r="6.6"/>
<circle cx="774.6" cy="1839.4" r="6.6"/>
<circle cx="774.3" cy="1839.7" r="6.6"/>
<circle cx="774.1" cy="1840.0" r="6.6"/>
<circle cx="773.9" cy="1840.3" r="6.6"/>
<circle cx="773.7" cy="1840.6" r="6.6"/>
<circle cx="773.5" cy="1841.0" r="6.6"/>
<circle cx="773.3" cy="1841.4" r="6.6"/>
<circle cx="773.1" cy="1841.9" r="6.6"/>
<circle cx="772.9" cy="1842.3" r="6.6"/>
<circle cx="772.6" cy="1842.8" r="6.6"/>
<circle cx="772.4" cy="1843.2" r="6.6"/>
<circle cx="772.2" cy="1843.7" r="6.6"/>
<circle cx="772.0" cy="1844.2" r="6.6"/>
<circle cx="771.8" cy="1844.7" r="6.6"/>
<circle cx="771.5" cy="1845.2" r="6.6"/>
<circle cx="771.3" cy="1845.7" r="6.6"/>
<circle cx="771.1" cy="1846.2" r="6.6"/>
<circle cx="770.9" cy="1846.7" r="6.6"/>
<circle cx="770.6" cy="1847.2" r="6.6"/>
<circle cx="770.4" cy="1847.7" r="6.6"/>
<circle cx="770.2" cy="1848.2" r="6.6"/>
<circle cx="770.0" cy="1848.8" r="6.6"/>
<circle cx="769.8" cy="1849.3" r="6.6"/>
<circle cx="769.6" cy="1849.8" r="6.6"/>
<circle cx="769.4" cy="1850.4" r="6.6"/>
<circle cx="769.1" cy="1850.9" r="6.6"/>
<circle cx="768.9" cy="1851.4" r="6.6"/>
<circle cx="768.8" cy="1852.0" r="6.6"/>
<circle cx="768.6" cy="1852.5" r="6.6"/>
<circle cx="768.4" cy="1852.9" r="6.6"/>
<circle cx="768.1" cy="1853.4" r="6.6"/>
<circle cx="767.9" cy="1853.8" r="6.6"/>
<circle cx="767.7" cy="1854.2" r="6.6"/>
<circle cx="767.5" cy="1854.6" r="6.6"/>
<circle cx="767.3" cy="1854.9" r="6.6"/>
<circle cx="767.1" cy="1855.3" r="6.6"/>
<circle cx="766.9" cy="1855.6" r="6.6"/>
<circle cx="766.7" cy="1855.9" r="6.6"/>
<circle cx="766.5" cy="1856.3" r="6.6"/>
<circle cx="766.3" cy="1856.6" r="6.6"/>
<circle cx="766.2" cy="1856.9" r="6.6"/>
<circle cx="766.0" cy="1857.3" r="6.6"/>
<circle cx="765.9" cy="1857.6" r="6.6"/>
<circle cx="765.8" cy="1857.9" r="6.6"/>
<circle cx="765.7" cy="1858.3" r="6.6"/>
<circle cx="765.6" cy="1858.6" r="6.6"/>
<circle cx="765.5" cy="1858.9" r="6.6"/>
<circle cx="765.5" cy="1859.3" r="6.6"/>
<circle cx="765.4" cy="1859.6" r="6.6"/>
<circle cx="765.4" cy="1859.9" r="6.6"/>
<circle cx="765.3" cy="1860.2" r="6.6"/>
<circle cx="765.3" cy="1860.5" r="6.6"/>
<circle cx="765.2" cy="1860.8" r="6.6"/>
<circle cx="765.1" cy="1861.1" r="6.6"/>
<circle cx="765.1" cy="1861.4" r="6.6"/>
<circle cx="765.1" cy="1861.6" r="6.6"/>
<circle cx="765.0" cy="1861.9" r="6.6"/>
<circle cx="765.0" cy="1862.1" r="6.6"/>
<circle cx="764.9" cy="1862.4" r="6.6"/>
<circle cx="764.9" cy="1862.7" r="6.6"/>
<circle cx="764.9" cy="1862.9" r="6.6"/>
<circle cx="764.8" cy="1863.2" r="6.6"/>
<circle cx="764.8" cy="1863.4" r="6.6"/>
<circle cx="764.8" cy="1863.6" r="6.6"/>
<circle cx="764.8" cy="1863.9" r="6.6"/>
<circle cx="764.8" cy="1864.1" r="6.6"/>
<circle cx="764.8" cy="1864.3" r="6.6"/>
<circle cx="764.8" cy="1864.5" r="6.6"/>
<circle cx="764.8" cy="1864.7" r="6.6"/>
<circle cx="764.8" cy="1864.9" r="6.6"/>
<circle cx="764.8" cy="1865.1" r="6.6"/>
<circle cx="764.8" cy="1865.2" r="6.6"/>
<circle cx="764.8" cy="1865.4" r="6.6"/>
<circle cx="764.8" cy="1865.5" r="6.6"/>
<circle cx="764.8" cy="1865.7" r="6.6"/>
<circle cx="764.8" cy="1865.8" r="6.6"/>
<circle cx="764.8" cy="1865.9" r="6.6"/>
<circle cx="764.8" cy="1866.0" r="6.6"/>
<circle cx="764.8" cy="1866.1" r="6.6"/>
<circle cx="764.8" cy="1866.2" r="6.6"/>
<circle cx="764.8" cy="1866.3" r="6.6"/>
<circle cx="764.8" cy="1866.4" r="6.6"/>
<circle cx="764.8" cy="1866.5" r="6.6"/>
<circle cx="764.8" cy="1866.6" r="6.6"/>
<circle cx="764.8" cy="1866.7" r="6.6"/>
<circle cx="764.8" cy="1866.8" r="6.6"/>
<circle cx="764.8" cy="1866.9" r="6.6"/>
<circle cx="764.8" cy="1866.9" r="6.6"/>
<circle cx="764.8" cy="1867.0" r="6.6"/>
<circle cx="764.8" cy="1867.1" r="6.6"/>
<circle cx="764.7" cy="1867.2" r="6.6"/>
<circle cx="764.6" cy="1867.2" r="6.6"/>
<circle cx="764.5" cy="1867.3" r="6.6"/>
<circle cx="764.4" cy="1867.3" r="6.6"/>
<circle cx="764.2" cy="1867.4" r="6.6"/>
<circle cx="764.0" cy="1867.4" r="6.6"/>
<circle cx="763.7" cy="1867.5" r="6.6"/>
<circle cx="763.5" cy="1867.5" r="6.6"/>
<circle cx="763.2" cy="1867.5" r="6.6"/>
<circle cx="762.9" cy="1867.6" r="6.6"/>
<circle cx="762.6" cy="1867.6" r="6.6"/>
<circle cx="762.3" cy="1867.6" r="6.6"/>
<circle cx="762.0" cy="1867.6" r="6.6"/>
<circle cx="761.7" cy="1867.7" r="6.6"/>
<circle cx="761.4" cy="1867.7" r="6.6"/>
<circle cx="761.1" cy="1867.7" r="6.6"/>
<circle cx="760.7" cy="1867.8" r="6.6"/>
<circle cx="760.4" cy="1867.8" r="6.6"/>
<circle cx="759.9" cy="1867.8" r="6.6"/>
<circle cx="759.5" cy="1867.8" r="6.6"/>
<circle cx="759.1" cy="1867.9" r="6.6"/>
<circle cx="758.6" cy="1867.9" r="6.6"/>
<circle cx="758.2" cy="1867.9" r="6.6"/>
<circle cx="757.8" cy="1867.9" r="6.6"/>
<circle cx="757.3" cy="1867.9" r="6.6"/>
<circle cx="756.9" cy="1868.0" r="6.6"/>
<circle cx="756.4" cy="1868.0" r="6.6"/>
<circle cx="756.0" cy="1868.0" r="6.6"/>
<circle cx="755.5" cy="1868.0" r="6.6"/>
<circle cx="755.1" cy="1868.0" r="6.6"/>
<circle cx="754.6" cy="1868.0" r="6.6"/>
<circle cx="754.1" cy="1868.0" r="6.6"/>
<circle cx="753.6" cy="1868.0" r="6.6"/>
<circle cx="753.2" cy="1868.0" r="6.6"/>
<circle cx="752.7" cy="1868.1" r="6.6"/>
<circle cx="664.1" cy="1928.0" r="6.6"/>
<circle cx="679.3" cy="1924.1" r="6.6"/>
<circle cx="687.6" cy="1921.3" r="6.6"/>
<circle cx="691.3" cy="1919.1" r="6.6"/>
<circle cx="693.0" cy="1917.4" r="6.6"/>
<circle cx="693.4" cy="1915.2" r="6.6"/>
<circle cx="693.4" cy="1913.1" r="6.6"/>
<circle cx="693.5" cy="1912.0" r="6.6"/>
<circle cx="693.5" cy="1911.2" r="6.6"/>
<circle cx="693.5" cy="1910.7" r="6.6"/>
<circle cx="693.5" cy="1910.4" r="6.6"/>
<circle cx="693.5" cy="1910.1" r="6.6"/>
<circle cx="693.5" cy="1909.9" r="6.6"/>
<circle cx="693.4" cy="1909.9" r="6.6"/>
<circle cx="693.4" cy="1909.9" r="6.6"/>
<circle cx="693.3" cy="1909.9" r="6.6"/>
<circle cx="693.3" cy="1909.9" r="6.6"/>
<circle cx="693.2" cy="1909.9" r="6.6"/>
<circle cx="693.1" cy="1909.9" r="6.6"/>
<circle cx="693.1" cy="1909.9" r="6.6"/>
<circle cx="693.0" cy="1909.9" r="6.6"/>
<circle cx="692.9" cy="1910.0" r="6.6"/>
<circle cx="692.8" cy="1910.0" r="6.6"/>
<circle cx="692.7" cy="1910.1" r="6.6"/>
<circle cx="692.6" cy="1910.1" r="6.6"/>
<circle cx="692.5" cy="1910.3" r="6.6"/>
<circle cx="692.3" cy="1910.7" r="6.6"/>
<circle cx="692.2" cy="1911.2" r="6.6"/>
<circle cx="692.0" cy="1911.7" r="6.6"/>
<circle cx="691.8" cy="1912.2" r="6.6"/>
<circle cx="691.6" cy="1912.6" r="6.6"/>
<circle cx="691.4" cy="1913.1" r="6.6"/>
<circle cx="691.2" cy="1913.5" r="6.6"/>
<circle cx="691.0" cy="1913.9" r="6.6"/>
<circle cx="690.8" cy="1914.4" r="6.6"/>
<circle cx="690.5" cy="1914.8" r="6.6"/>
<circle cx="690.3" cy="1915.2" r="6.6"/>
<circle cx="690.1" cy="1915.6" r="6.6"/>
<circle cx="689.9" cy="1916.1" r="6.6"/>
<circle cx="689.6" cy="1916.5" r="6.6"/>
<circle cx="689.4" cy="1916.9" r="6.6"/>
<circle cx="689.2" cy="1917.3" r="6.6"/>
<circle cx="689.0" cy="1917.7" r="6.6"/>
<circle cx="688.8" cy="1918.1" r="6.6"/>
<circle cx="688.6" cy="1918.4" r="6.6"/>
<circle cx="688.4" cy="1918.8" r="6.6"/>
<circle cx="688.1" cy="1919.1" r="6.6"/>
<circle cx="687.9" cy="1919.3" r="6.6"/>
<circle cx="687.7" cy="1919.6" r="6.6"/>
<circle cx="687.4" cy="1919.8" r="6.6"/>
<circle cx="687.2" cy="1920.1" r="6.6"/>
<circle cx="686.9" cy="1920.3" r="6.6"/>
<circle cx="686.6" cy="1920.6" r="6.6"/>
<circle cx="686.3" cy="1920.9" r="6.6"/>
<circle cx="685.9" cy="1921.2" r="6.6"/>
<circle cx="685.6" cy="1921.5" r="6.6"/>
<circle cx="685.3" cy="1921.8" r="6.6"/>
<circle cx="684.9" cy="1922.1" r="6.6"/>
<circle cx="684.6" cy="1922.4" r="6.6"/>
<circle cx="684.3" cy="1922.7" r="6.6"/>
<circle cx="684.0" cy="1923.0" r="6.6"/>
<circle cx="683.6" cy="1923.4" r="6.6"/>
<circle cx="683.3" cy="1923.7" r="6.6"/>
<circle cx="683.0" cy="1924.0" r="6.6"/>
<circle cx="682.7" cy="1924.3" r="6.6"/>
<circle cx="682.4" cy="1924.7" r="6.6"/>
<circle cx="682.1" cy="1925.0" r="6.6"/>
<circle cx="681.8" cy="1925.3" r="6.6"/>
<circle cx="681.5" cy="1925.6" r="6.6"/>
<circle cx="681.3" cy="1925.9" r="6.6"/>
<circle cx="681.0" cy="1926.2" r="6.6"/>
<circle cx="680.7" cy="1926.5" r="6.6"/>
<circle cx="680.4" cy="1926.8" r="6.6"/>
<circle cx="680.1" cy="1927.1" r="6.6"/>
<circle cx="679.8" cy="1927.4" r="6.6"/>
<circle cx="679.5" cy="1927.7" r="6.6"/>
<circle cx="679.3" cy="1928.0" r="6.6"/>
<circle cx="679.0" cy="1928.3" r="6.6"/>
<circle cx="678.7" cy="1928.6" r="6.6"/>
<circle cx="678.4" cy="1928.9" r="6.6"/>
<circle cx="678.2" cy="1929.2" r="6.6"/>
<circle cx="677.9" cy="1929.5" r="6.6"/>
<circle cx="677.7" cy="1929.8" r="6.6"/>
<circle cx="677.4" cy="1930.1" r="6.6"/>
<circle cx="677.2" cy="1930.4" r="6.6"/>
<circle cx="676.9" cy="1930.7" r="6.6"/>
<circle cx="676.7" cy="1931.0" r="6.6"/>
<circle cx="676.5" cy="1931.4" r="6.6"/>
<circle cx="676.2" cy="1931.7" r="6.6"/>
<circle cx="676.0" cy="1932.1" r="6.6"/>
<circle cx="675.8" cy="1932.4" r="6.6"/>
<circle cx="675.5" cy="1932.8" r="6.6"/>
<circle cx="675.3" cy="1933.1" r="6.6"/>
<circle cx="675.1" cy="1933.5" r="6.6"/>
<circle cx="674.9" cy="1933.8" r="6.6"/>
<circle cx="674.6" cy="1934.1" r="6.6"/>
<circle cx="674.4" cy="1934.5" r="6.6"/>
<circle cx="674.2" cy="1934.8" r="6.6"/>
<circle cx="674.0" cy="1935.1" r="6.6"/>
<circle cx="673.8" cy="1935.4" r="6.6"/>
<circle cx="673.6" cy="1935.7" r="6.6"/>
<circle cx="673.4" cy="1936.0" r="6.6"/>
<circle cx="673.1" cy="1936.3" r="6.6"/>
<circle cx="672.9" cy="1936.5" r="6.6"/>
<circle cx="672.7" cy="1936.8" r="6.6"/>
<circle cx="672.5" cy="1937.0" r="6.6"/>
<circle cx="672.3" cy="1937.2" r="6.6"/>
<circle cx="672.1" cy="1937.4" r="6.6"/>
<circle cx="671.9" cy="1937.6" r="6.6"/>
<circle cx="671.7" cy="1937.9" r="6.6"/>
<circle cx="671.5" cy="1938.1" r="6.6"/>
<circle cx="671.3" cy="1938.3" r="6.6"/>
<circle cx="671.1" cy="1938.5" r="6.6"/>
<circle cx="670.9" cy="1938.7" r="6.6"/>
<circle cx="670.7" cy="1938.9" r="6.6"/>
<circle cx="670.5" cy="1939.1" r="6.6"/>
<circle cx="670.3" cy="1939.3" r="6.6"/>
<circle cx="670.1" cy="1939.5" r="6.6"/>
<circle cx="669.9" cy="1939.6" r="6.6"/>
<circle cx="669.7" cy="1939.8" r="6.6"/>
<circle cx="669.5" cy="1939.9" r="6.6"/>
<circle cx="669.3" cy="1940.1" r="6.6"/>
<circle cx="669.1" cy="1940.2" r="6.6"/>
<circle cx="668.9" cy="1940.3" r="6.6"/>
<circle cx="668.7" cy="1940.4" r="6.6"/>
<circle cx="668.5" cy="1940.5" r="6.6"/>
<circle cx="668.3" cy="1940.5" r="6.6"/>
<circle cx="668.1" cy="1940.6" r="6.6"/>
<circle cx="667.9" cy="1940.6" r="6.6"/>
<circle cx="667.7" cy="1940.7" r="6.6"/>
<circle cx="667.6" cy="1940.7" r="6.6"/>
<circle cx="667.4" cy="1940.7" r="6.6"/>
<circle cx="667.2" cy="1940.8" r="6.6"/>
<circle cx="667.0" cy="1940.8" r="6.6"/>
<circle cx="666.8" cy="1940.8" r="6.6"/>
<circle cx="666.6" cy="1940.8" r="6.6"/>
<circle cx="666.5" cy="1940.9" r="6.6"/>
<circle cx="666.3" cy="1940.9" r="6.6"/>
<circle cx="666.1" cy="1940.9" r="6.6"/>
<circle cx="665.9" cy="1940.9" r="6.6"/>
<circle cx="665.8" cy="1941.0" r="6.6"/>
<circle cx="665.6" cy="1941.0" r="6.6"/>
<circle cx="665.4" cy="1941.0" r="6.6"/>
<circle cx="665.3" cy="1941.0" r="6.6"/>
<circle cx="665.1" cy="1941.0" r="6.6"/>
<circle cx="664.9" cy="1941.1" r="6.6"/>
<circle cx="664.8" cy="1941.1" r="6.6"/>
<circle cx="664.6" cy="1941.1" r="6.6"/>
<circle cx="664.4" cy="1941.1" r="6.6"/>
<circle cx="664.3" cy="1941.2" r="6.6"/>
<circle cx="664.1" cy="1941.2" r="6.6"/>
<circle cx="663.9" cy="1941.2" r="6.6"/>
<circle cx="663.8" cy="1941.2" r="6.6"/>
<circle cx="663.6" cy="1941.2" r="6.6"/>
<circle cx="663.5" cy="1941.3" r="6.6"/>
<circle cx="663.3" cy="1941.3" r="6.6"/>
<circle cx="663.2" cy="1941.3" r="6.6"/>
<circle cx="663.0" cy="1941.3" r="6.6"/>
<circle cx="662.8" cy="1941.4" r="6.6"/>
<circle cx="662.7" cy="1941.4" r="6.6"/>
<circle cx="662.5" cy="1941.4" r="6.6"/>
<circle cx="662.4" cy="1941.4" r="6.6"/>
<circle cx="662.2" cy="1941.4" r="6.6"/>
<circle cx="662.1" cy="1941.5" r="6.6"/>
<circle cx="661.9" cy="1941.5" r="6.6"/>
<circle cx="661.8" cy="1941.5" r="6.6"/>
<circle cx="661.7" cy="1941.5" r="6.6"/>
<circle cx="661.5" cy="1941.5" r="6.6"/>
<circle cx="661.4" cy="1941.6" r="6.6"/>
<circle cx="661.2" cy="1941.6" r="6.6"/>
<circle cx="661.1" cy="1941.6" r="6.6"/>
<circle cx="661.0" cy="1941.6" r="6.6"/>
<circle cx="660.8" cy="1941.6" r="6.6"/>
<circle cx="660.7" cy="1941.7" r="6.6"/>
<circle cx="660.5" cy="1941.7" r="6.6"/>
<circle cx="660.4" cy="1941.7" r="6.6"/>
<circle cx="660.3" cy="1941.7" r="6.6"/>
<circle cx="683.2" cy="1861.7" r="6.6"/>
<circle cx="717.9" cy="1842.5" r="6.6"/>
<circle cx="746.5" cy="1824.8" r="6.6"/>
<circle cx="769.6" cy="1810.0" r="6.6"/>
<circle cx="789.2" cy="1796.1" r="6.6"/>
<circle cx="806.2" cy="1780.7" r="6.6"/>
<circle cx="819.0" cy="1770.0" r="6.6"/>
<circle cx="828.8" cy="1762.6" r="6.6"/>
<circle cx="837.5" cy="1755.2" r="6.6"/>
<circle cx="846.3" cy="1746.9" r="6.6"/>
<circle cx="854.6" cy="1739.5" r="6.6"/>
<circle cx="862.4" cy="1733.6" r="6.6"/>
<circle cx="869.8" cy="1728.0" r="6.6"/>
<circle cx="876.7" cy="1722.2" r="6.6"/>
<circle cx="883.6" cy="1716.5" r="6.6"/>
<circle cx="890.8" cy="1710.9" r="6.6"/>
<circle cx="898.3" cy="1705.7" r="6.6"/>
<circle cx="905.4" cy="1701.3" r="6.6"/>
<circle cx="911.9" cy="1697.4" r="6.6"/>
<circle cx="917.9" cy="1693.9" r="6.6"/>
<circle cx="923.5" cy="1690.6" r="6.6"/>
<circle cx="929.1" cy="1687.3" r="6.6"/>
<circle cx="934.8" cy="1684.0" r="6.6"/>
<circle cx="940.8" cy="1680.8" r="6.6"/>
<circle cx="946.9" cy="1677.9" r="6.6"/>
<circle cx="952.8" cy="1675.2" r="6.6"/>
<circle cx="958.0" cy="1672.8" r="6.6"/>
<circle cx="962.8" cy="1670.4" r="6.6"/>
<circle cx="967.1" cy="1668.1" r="6.6"/>
<circle cx="971.3" cy="1665.8" r="6.6"/>
<circle cx="975.2" cy="1663.5" r="6.6"/>
<circle cx="978.9" cy="1661.2" r="6.6"/>
<circle cx="982.6" cy="1659.1" r="6.6"/>
<circle cx="986.1" cy="1657.2" r="6.6"/>
<circle cx="989.4" cy="1655.5" r="6.6"/>
<circle cx="992.6" cy="1653.8" r="6.6"/>
<circle cx="995.6" cy="1652.2" r="6.6"/>
<circle cx="998.5" cy="1650.6" r="6.6"/>
<circle cx="1001.3" cy="1649.1" r="6.6"/>
<circle cx="1004.0" cy="1647.6" r="6.6"/>
<circle cx="1006.4" cy="1646.2" r="6.6"/>
<circle cx="1008.6" cy="1644.7" r="6.6"/>
<circle cx="1010.7" cy="1643.3" r="6.6"/>
<circle cx="1012.6" cy="1641.9" r="6.6"/>
<circle cx="1014.4" cy="1640.7" r="6.6"/>
<circle cx="1016.1" cy="1639.6" r="6.6"/>
<circle cx="1017.7" cy="1638.6" r="6.6"/>
<circle cx="1019.2" cy="1637.7" r="6.6"/>
<circle cx="1020.5" cy="1636.9" r="6.6"/>
<circle cx="1021.9" cy="1636.0" r="6.6"/>
<circle cx="1023.1" cy="1635.3" r="6.6"/>
<circle cx="1024.3" cy="1634.6" r="6.6"/>
<circle cx="1025.4" cy="1633.9" r="6.6"/>
<circle cx="1026.3" cy="1633.3" r="6.6"/>
<circle cx="1027.2" cy="1632.8" r="6.6"/>
<circle cx="1028.1" cy="1632.2" r="6.6"/>
<circle cx="1028.9" cy="1631.7" r="6.6"/>
<circle cx="1029.6" cy="1631.1" r="6.6"/>
<circle cx="1030.3" cy="1630.7" r="6.6"/>
<circle cx="1030.8" cy="1630.2" r="6.6"/>
<circle cx="1031.2" cy="1629.9" r="6.6"/>
<circle cx="1031.5" cy="1629.6" r="6.6"/>
<circle cx="1031.7" cy="1629.4" r="6.6"/>
<circle cx="1031.8" cy="1629.3" r="6.6"/>
<circle cx="1032.0" cy="1629.2" r="6.6"/>
<circle cx="1032.1" cy="1629.2" r="6.6"/>
<circle cx="1032.3" cy="1629.1" r="6.6"/>
<circle cx="1032.4" cy="1629.1" r="6.6"/>
<circle cx="1032.5" cy="1629.0" r="6.6"/>
<circle cx="1032.7" cy="1629.0" r="6.6"/>
<circle cx="1032.9" cy="1629.0" r="6.6"/>
<circle cx="1033.1" cy="1629.2" r="6.6"/>
<circle cx="1033.3" cy="1629.4" r="6.6"/>
<circle cx="1033.4" cy="1629.8" r="6.6"/>
<circle cx="1033.6" cy="1630.2" r="6.6"/>
<circle cx="1033.8" cy="1630.6" r="6.6"/>
<circle cx="1034.0" cy="1631.1" r="6.6"/>
<circle cx="1034.2" cy="1631.6" r="6.6"/>
<circle cx="1034.5" cy="1632.1" r="6.6"/>
<circle cx="1034.7" cy="1632.5" r="6.6"/>
<circle cx="1034.9" cy="1633.0" r="6.6"/>
<circle cx="1035.1" cy="1633.4" r="6.6"/>
<circle cx="1035.4" cy="1633.8" r="6.6"/>
<circle cx="1035.6" cy="1634.3" r="6.6"/>
<circle cx="1035.9" cy="1634.7" r="6.6"/>
<circle cx="1036.1" cy="1635.2" r="6.6"/>
<circle cx="1036.4" cy="1635.6" r="6.6"/>
<circle cx="1036.7" cy="1636.1" r="6.6"/>
<circle cx="1037.0" cy="1636.5" r="6.6"/>
<circle cx="1037.3" cy="1637.0" r="6.6"/>
<circle cx="1037.6" cy="1637.4" r="6.6"/>
<circle cx="1037.9" cy="1637.9" r="6.6"/>
<circle cx="1038.3" cy="1638.3" r="6.6"/>
<circle cx="1038.6" cy="1638.8" r="6.6"/>
<circle cx="1039.0" cy="1639.2" r="6.6"/>
<circle cx="1039.3" cy="1639.7" r="6.6"/>
<circle cx="1039.7" cy="1640.1" r="6.6"/>
<circle cx="1040.1" cy="1640.6" r="6.6"/>
<circle cx="1040.5" cy="1641.0" r="6.6"/>
<circle cx="1040.9" cy="1641.5" r="6.6"/>
<circle cx="1041.3" cy="1641.9" r="6.6"/>
<circle cx="1041.6" cy="1642.4" r="6.6"/>
<circle cx="1042.0" cy="1642.9" r="6.6"/>
<circle cx="1042.4" cy="1643.3" r="6.6"/>
<circle cx="1042.8" cy="1643.8" r="6.6"/>
<circle cx="1043.2" cy="1644.3" r="6.6"/>
<circle cx="1043.6" cy="1644.7" r="6.6"/>
<circle cx="1044.0" cy="1645.1" r="6.6"/>
<circle cx="1044.4" cy="1645.5" r="6.6"/>
<circle cx="1044.8" cy="1645.9" r="6.6"/>
<circle cx="1045.2" cy="1646.3" r="6.6"/>
<circle cx="1045.7" cy="1646.6" r="6.6"/>
<circle cx="1046.2" cy="1646.9" r="6.6"/>
<circle cx="1046.7" cy="1647.2" r="6.6"/>
<circle cx="1047.2" cy="1647.4" r="6.6"/>
<circle cx="1047.7" cy="1647.7" r="6.6"/>
<circle cx="1048.2" cy="1648.0" r="6.6"/>
<circle cx="1048.7" cy="1648.3" r="6.6"/>
<circle cx="1049.2" cy="1648.6" r="6.6"/>
<circle cx="1049.6" cy="1648.9" r="6.6"/>
<circle cx="1049.9" cy="1649.2" r="6.6"/>
<circle cx="1050.2" cy="1649.5" r="6.6"/>
<circle cx="1050.5" cy="1649.9" r="6.6"/>
<circle cx="1050.6" cy="1650.2" r="6.6"/>
<circle cx="1050.7" cy="1650.6" r="6.6"/>
<circle cx="1050.7" cy="1650.9" r="6.6"/>
<circle cx="1050.7" cy="1651.2" r="6.6"/>
<circle cx="1050.6" cy="1651.6" r="6.6"/>
<circle cx="1050.6" cy="1651.9" r="6.6"/>
<circle cx="1050.5" cy="1652.2" r="6.6"/>
<circle cx="1050.5" cy="1652.6" r="6.6"/>
<circle cx="1050.4" cy="1652.9" r="6.6"/>
<circle cx="1050.3" cy="1653.2" r="6.6"/>
<circle cx="1050.2" cy="1653.5" r="6.6"/>
<circle cx="1050.1" cy="1653.8" r="6.6"/>
<circle cx="1050.0" cy="1654.1" r="6.6"/>
<circle cx="1049.8" cy="1654.3" r="6.6"/>
<circle cx="1049.7" cy="1654.5" r="6.6"/>
<circle cx="1049.5" cy="1654.8" r="6.6"/>
<circle cx="1049.4" cy="1655.0" r="6.6"/>
<circle cx="1049.2" cy="1655.2" r="6.6"/>
<circle cx="1049.1" cy="1655.3" r="6.6"/>
<circle cx="1048.8" cy="1655.5" r="6.6"/>
<circle cx="1048.5" cy="1655.7" r="6.6"/>
<circle cx="1048.1" cy="1655.8" r="6.6"/>
<circle cx="1047.7" cy="1656.0" r="6.6"/>
<circle cx="1047.1" cy="1656.1" r="6.6"/>
<circle cx="1046.5" cy="1656.3" r="6.6"/>
<circle cx="1045.9" cy="1656.4" r="6.6"/>
<circle cx="1045.2" cy="1656.5" r="6.6"/>
<circle cx="1044.4" cy="1656.6" r="6.6"/>
<circle cx="1043.6" cy="1656.7" r="6.6"/>
<circle cx="1042.8" cy="1656.8" r="6.6"/>
<circle cx="1042.0" cy="1657.0" r="6.6"/>
<circle cx="1041.1" cy="1657.0" r="6.6"/>
<circle cx="1040.2" cy="1657.1" r="6.6"/>
<circle cx="1039.3" cy="1657.2" r="6.6"/>
<circle cx="1038.5" cy="1657.3" r="6.6"/>
<circle cx="1037.6" cy="1657.4" r="6.6"/>
<circle cx="1036.6" cy="1657.5" r="6.6"/>
<circle cx="1035.6" cy="1657.6" r="6.6"/>
<circle cx="1034.5" cy="1657.7" r="6.6"/>
<circle cx="1033.3" cy="1657.7" r="6.6"/>
<circle cx="1032.0" cy="1657.8" r="6.6"/>
<circle cx="1030.8" cy="1657.9" r="6.6"/>
<circle cx="1029.5" cy="1658.0" r="6.6"/>
<circle cx="1028.3" cy="1658.0" r="6.6"/>
<circle cx="1027.0" cy="1658.1" r="6.6"/>
<circle cx="1025.8" cy="1658.2" r="6.6"/>
<circle cx="1024.7" cy="1658.2" r="6.6"/>
<circle cx="1023.6" cy="1658.3" r="6.6"/>
<circle cx="1022.5" cy="1658.4" r="6.6"/>
<circle cx="1021.4" cy="1658.4" r="6.6"/>
<circle cx="1020.3" cy="1658.5" r="6.6"/>
<circle cx="1019.2" cy="1658.5" r="6.6"/>
<circle cx="1018.2" cy="1658.6" r="6.6"/>
<circle cx="1017.1" cy="1658.6" r="6.6"/>
<circle cx="1016.1" cy="1658.7" r="6.6"/>
<circle cx="677.8" cy="1873.1" r="6.6"/>
<circle cx="708.8" cy="1861.4" r="6.6"/>
<circle cx="733.7" cy="1850.2" r="6.6"/>
<circle cx="758.4" cy="1838.8" r="6.6"/>
<circle cx="775.6" cy="1827.4" r="6.6"/>
<circle cx="788.7" cy="1818.2" r="6.6"/>
<circle cx="800.4" cy="1811.8" r="6.6"/>
<circle cx="811.5" cy="1806.5" r="6.6"/>
<circle cx="819.6" cy="1802.1" r="6.6"/>
<circle cx="824.9" cy="1798.3" r="6.6"/>
<circle cx="829.2" cy="1795.0" r="6.6"/>
<circle cx="832.7" cy="1792.0" r="6.6"/>
<circle cx="835.8" cy="1788.8" r="6.6"/>
<circle cx="838.7" cy="1785.4" r="6.6"/>
<circle cx="841.3" cy="1781.8" r="6.6"/>
<circle cx="843.7" cy="1778.4" r="6.6"/>
<circle cx="845.9" cy="1775.3" r="6.6"/>
<circle cx="848.1" cy="1772.6" r="6.6"/>
<circle cx="850.2" cy="1770.2" r="6.6"/>
<circle cx="852.3" cy="1768.0" r="6.6"/>
<circle cx="854.4" cy="1765.9" r="6.6"/>
<circle cx="856.4" cy="1763.9" r="6.6"/>
<circle cx="858.3" cy="1762.2" r="6.6"/>
<circle cx="860.2" cy="1760.6" r="6.6"/>
<circle cx="862.0" cy="1759.1" r="6.6"/>
<circle cx="863.7" cy="1757.6" r="6.6"/>
<circle cx="865.5" cy="1756.2" r="6.6"/>
<circle cx="867.2" cy="1755.0" r="6.6"/>
<circle cx="868.9" cy="1754.1" r="6.6"/>
<circle cx="870.5" cy="1753.4" r="6.6"/>
<circle cx="872.1" cy="1753.1" r="6.6"/>
<circle cx="873.6" cy="1752.8" r="6.6"/>
<circle cx="874.9" cy="1752.5" r="6.6"/>
<circle cx="876.0" cy="1752.2" r="6.6"/>
<circle cx="877.0" cy="1752.0" r="6.6"/>
<circle cx="878.0" cy="1751.8" r="6.6"/>
<circle cx="879.0" cy="1751.7" r="6.6"/>
<circle cx="879.9" cy="1751.7" r="6.6"/>
<circle cx="880.7" cy="1751.7" r="6.6"/>
<circle cx="881.4" cy="1751.7" r="6.6"/>
<circle cx="882.0" cy="1751.8" r="6.6"/>
<circle cx="882.4" cy="1752.0" r="6.6"/>
<circle cx="882.6" cy="1752.1" r="6.6"/>
<circle cx="882.7" cy="1752.3" r="6.6"/>
<circle cx="882.8" cy="1752.5" r="6.6"/>
<circle cx="882.8" cy="1752.7" r="6.6"/>
<circle cx="882.9" cy="1752.8" r="6.6"/>
<circle cx="883.0" cy="1752.9" r="6.6"/>
<circle cx="883.0" cy="1753.0" r="6.6"/>
<circle cx="883.1" cy="1753.1" r="6.6"/>
<circle cx="883.1" cy="1753.2" r="6.6"/>
<circle cx="883.1" cy="1753.2" r="6.6"/>
<circle cx="883.2" cy="1753.3" r="6.6"/>
<circle cx="883.2" cy="1753.4" r="6.6"/>
<circle cx="883.2" cy="1753.5" r="6.6"/>
<circle cx="883.2" cy="1753.7" r="6.6"/>
<circle cx="883.2" cy="1753.8" r="6.6"/>
<circle cx="883.2" cy="1754.0" r="6.6"/>
<circle cx="883.1" cy="1754.3" r="6.6"/>
<circle cx="882.9" cy="1754.5" r="6.6"/>
<circle cx="882.7" cy="1754.8" r="6.6"/>
<circle cx="882.5" cy="1755.1" r="6.6"/>
<circle cx="882.3" cy="1755.5" r="6.6"/>
<circle cx="882.1" cy="1755.8" r="6.6"/>
<circle cx="881.8" cy="1756.2" r="6.6"/>
<circle cx="881.6" cy="1756.6" r="6.6"/>
<circle cx="881.4" cy="1757.2" r="6.6"/>
<circle cx="881.2" cy="1757.8" r="6.6"/>
<circle cx="881.0" cy="1758.4" r="6.6"/>
<circle cx="880.8" cy="1759.4" r="6.6"/>
<circle cx="880.5" cy="1760.8" r="6.6"/>
<circle cx="880.4" cy="1762.4" r="6.6"/>
<circle cx="880.2" cy="1763.7" r="6.6"/>
<circle cx="880.2" cy="1765.0" r="6.6"/>
<circle cx="880.2" cy="1766.1" r="6.6"/>
<circle cx="880.2" cy="1766.7" r="6.6"/>
<circle cx="880.2" cy="1767.1" r="6.6"/>
<circle cx="880.2" cy="1767.4" r="6.6"/>
<circle cx="880.2" cy="1767.6" r="6.6"/>
<circle cx="880.1" cy="1767.9" r="6.6"/>
<circle cx="880.1" cy="1768.1" r="6.6"/>
<circle cx="880.1" cy="1768.5" r="6.6"/>
<circle cx="880.1" cy="1768.9" r="6.6"/>
<circle cx="880.1" cy="1769.4" r="6.6"/>
<circle cx="880.1" cy="1769.9" r="6.6"/>
<circle cx="880.1" cy="1770.3" r="6.6"/>
<circle cx="880.0" cy="1770.8" r="6.6"/>
<circle cx="880.0" cy="1771.3" r="6.6"/>
<circle cx="880.0" cy="1771.7" r="6.6"/>
<circle cx="880.0" cy="1772.2" r="6.6"/>
<circle cx="879.9" cy="1772.7" r="6.6"/>
<circle cx="879.9" cy="1773.1" r="6.6"/>
<circle cx="879.9" cy="1773.5" r="6.6"/>
<circle cx="879.8" cy="1773.9" r="6.6"/>
<circle cx="879.7" cy="1774.3" r="6.6"/>
<circle cx="879.7" cy="1774.6" r="6.6"/>
<circle cx="879.6" cy="1774.9" r="6.6"/>
<circle cx="879.5" cy="1775.3" r="6.6"/>
<circle cx="879.4" cy="1775.5" r="6.6"/>
<circle cx="879.3" cy="1775.8" r="6.6"/>
<circle cx="879.2" cy="1776.1" r="6.6"/>
<circle cx="879.2" cy="1776.4" r="6.6"/>
<circle cx="879.1" cy="1776.7" r="6.6"/>
<circle cx="879.0" cy="1777.0" r="6.6"/>
<circle cx="879.0" cy="1777.3" r="6.6"/>
<circle cx="878.9" cy="1777.6" r="6.6"/>
<circle cx="878.9" cy="1777.9" r="6.6"/>
<circle cx="878.9" cy="1778.2" r="6.6"/>
<circle cx="878.9" cy="1778.5" r="6.6"/>
<circle cx="878.9" cy="1778.8" r="6.6"/>
<circle cx="878.9" cy="1779.1" r="6.6"/>
<circle cx="879.0" cy="1779.4" r="6.6"/>
<circle cx="879.0" cy="1779.6" r="6.6"/>
<circle cx="879.0" cy="1779.9" r="6.6"/>
<circle cx="879.1" cy="1780.2" r="6.6"/>
<circle cx="879.1" cy="1780.4" r="6.6"/>
<circle cx="879.2" cy="1780.6" r="6.6"/>
<circle cx="879.2" cy="1780.9" r="6.6"/>
<circle cx="879.3" cy="1781.1" r="6.6"/>
<circle cx="879.3" cy="1781.3" r="6.6"/>
<circle cx="879.4" cy="1781.5" r="6.6"/>
<circle cx="879.4" cy="1781.7" r="6.6"/>
<circle cx="879.5" cy="1781.9" r="6.6"/>
<circle cx="879.6" cy="1782.2" r="6.6"/>
<circle cx="879.6" cy="1782.4" r="6.6"/>
<circle cx="879.7" cy="1782.6" r="6.6"/>
<circle cx="879.8" cy="1782.8" r="6.6"/>
<circle cx="879.9" cy="1783.1" r="6.6"/>
<circle cx="880.0" cy="1783.3" r="6.6"/>
<circle cx="880.1" cy="1783.5" r="6.6"/>
<circle cx="880.3" cy="1783.7" r="6.6"/>
<circle cx="880.4" cy="1783.9" r="6.6"/>
<circle cx="880.6" cy="1784.1" r="6.6"/>
<circle cx="880.9" cy="1784.2" r="6.6"/>
<circle cx="881.2" cy="1784.4" r="6.6"/>
<circle cx="881.6" cy="1784.5" r="6.6"/>
<circle cx="881.9" cy="1784.7" r="6.6"/>
<circle cx="882.3" cy="1784.9" r="6.6"/>
<circle cx="882.6" cy="1785.0" r="6.6"/>
<circle cx="883.0" cy="1785.2" r="6.6"/>
<circle cx="883.3" cy="1785.3" r="6.6"/>
<circle cx="883.6" cy="1785.4" r="6.6"/>
<circle cx="883.8" cy="1785.6" r="6.6"/>
<circle cx="884.0" cy="1785.7" r="6.6"/>
<circle cx="884.2" cy="1785.8" r="6.6"/>
<circle cx="884.4" cy="1785.9" r="6.6"/>
<circle cx="884.6" cy="1786.0" r="6.6"/>
<circle cx="884.8" cy="1786.1" r="6.6"/>
<circle cx="885.0" cy="1786.2" r="6.6"/>
<circle cx="885.2" cy="1786.3" r="6.6"/>
<circle cx="885.4" cy="1786.3" r="6.6"/>
<circle cx="885.6" cy="1786.4" r="6.6"/>
<circle cx="885.8" cy="1786.4" r="6.6"/>
<circle cx="885.9" cy="1786.4" r="6.6"/>
<circle cx="886.1" cy="1786.4" r="6.6"/>
<circle cx="886.3" cy="1786.4" r="6.6"/>
<circle cx="886.4" cy="1786.4" r="6.6"/>
<circle cx="886.5" cy="1786.4" r="6.6"/>
<circle cx="886.6" cy="1786.4" r="6.6"/>
<circle cx="886.7" cy="1786.4" r="6.6"/>
<circle cx="886.8" cy="1786.4" r="6.6"/>
<circle cx="886.9" cy="1786.4" r="6.6"/>
<circle cx="886.9" cy="1786.4" r="6.6"/>
<circle cx="887.0" cy="1786.4" r="6.6"/>
<circle cx="887.0" cy="1786.4" r="6.6"/>
<circle cx="887.0" cy="1786.4" r="6.6"/>
<circle cx="886.9" cy="1786.4" r="6.6"/>
<circle cx="886.8" cy="1786.4" r="6.6"/>
<circle cx="886.7" cy="1786.4" r="6.6"/>
<circle cx="886.6" cy="1786.4" r="6.6"/>
<circle cx="886.4" cy="1786.4" r="6.6"/>
<circle cx="886.2" cy="1786.4" r="6.6"/>
<circle cx="885.9" cy="1786.4" r="6.6"/>
<circle cx="885.7" cy="1786.4" r="6.6"/>
<circle cx="885.4" cy="1786.4" r="6.6"/>
<circle cx="885.1" cy="1786.4" r="6.6"/>
<circle cx="884.8" cy="1786.4" r="6.6"/>
<circle cx="884.4" cy="1786.4" r="6.6"/>
<circle cx="884.1" cy="1786.4" r="6.6"/>
<circle cx="658.7" cy="1897.7" r="6.6"/>
<circle cx="681.5" cy="1886.5" r="6.6"/>
<circle cx="698.7" cy="1878.2" r="6.6"/>
<circle cx="708.9" cy="1873.0" r="6.6"/>
<circle cx="714.6" cy="1869.0" r="6.6"/>
<circle cx="718.6" cy="1865.9" r="6.6"/>
<circle cx="721.9" cy="1863.1" r="6.6"/>
<circle cx="724.8" cy="1860.5" r="6.6"/>
<circle cx="727.1" cy="1858.4" r="6.6"/>
<circle cx="728.6" cy="1856.9" r="6.6"/>
<circle cx="729.5" cy="1855.8" r="6.6"/>
<circle cx="730.3" cy="1854.8" r="6.6"/>
<circle cx="731.0" cy="1853.9" r="6.6"/>
<circle cx="731.6" cy="1853.1" r="6.6"/>
<circle cx="732.1" cy="1852.4" r="6.6"/>
<circle cx="732.5" cy="1851.8" r="6.6"/>
<circle cx="732.9" cy="1851.3" r="6.6"/>
<circle cx="733.3" cy="1850.8" r="6.6"/>
<circle cx="733.7" cy="1850.4" r="6.6"/>
<circle cx="734.1" cy="1850.0" r="6.6"/>
<circle cx="734.4" cy="1849.5" r="6.6"/>
<circle cx="734.7" cy="1849.1" r="6.6"/>
<circle cx="735.0" cy="1848.8" r="6.6"/>
<circle cx="735.3" cy="1848.5" r="6.6"/>
<circle cx="735.6" cy="1848.3" r="6.6"/>
<circle cx="735.8" cy="1848.1" r="6.6"/>
<circle cx="736.1" cy="1848.0" r="6.6"/>
<circle cx="736.3" cy="1848.1" r="6.6"/>
<circle cx="736.6" cy="1848.2" r="6.6"/>
<circle cx="736.8" cy="1848.3" r="6.6"/>
<circle cx="737.1" cy="1848.6" r="6.6"/>
<circle cx="737.4" cy="1848.8" r="6.6"/>
<circle cx="737.7" cy="1849.1" r="6.6"/>
<circle cx="738.0" cy="1849.4" r="6.6"/>
<circle cx="738.2" cy="1849.8" r="6.6"/>
<circle cx="738.5" cy="1850.1" r="6.6"/>
<circle cx="738.8" cy="1850.4" r="6.6"/>
<circle cx="739.0" cy="1850.7" r="6.6"/>
<circle cx="739.1" cy="1851.0" r="6.6"/>
<circle cx="739.2" cy="1851.3" r="6.6"/>
<circle cx="739.3" cy="1851.7" r="6.6"/>
<circle cx="739.3" cy="1852.1" r="6.6"/>
<circle cx="739.2" cy="1852.4" r="6.6"/>
<circle cx="739.1" cy="1852.8" r="6.6"/>
<circle cx="739.0" cy="1853.2" r="6.6"/>
<circle cx="738.8" cy="1853.7" r="6.6"/>
<circle cx="738.7" cy="1854.1" r="6.6"/>
<circle cx="738.5" cy="1854.5" r="6.6"/>
<circle cx="738.2" cy="1854.9" r="6.6"/>
<circle cx="738.0" cy="1855.4" r="6.6"/>
<circle cx="737.7" cy="1855.8" r="6.6"/>
<circle cx="737.5" cy="1856.2" r="6.6"/>
<circle cx="737.2" cy="1856.7" r="6.6"/>
<circle cx="737.0" cy="1857.1" r="6.6"/>
<circle cx="736.7" cy="1857.5" r="6.6"/>
<circle cx="736.3" cy="1857.9" r="6.6"/>
<circle cx="736.0" cy="1858.4" r="6.6"/>
<circle cx="735.5" cy="1858.8" r="6.6"/>
<circle cx="735.0" cy="1859.3" r="6.6"/>
<circle cx="734.5" cy="1859.7" r="6.6"/>
<circle cx="734.0" cy="1860.2" r="6.6"/>
<circle cx="733.5" cy="1860.7" r="6.6"/>
<circle cx="732.9" cy="1861.1" r="6.6"/>
<circle cx="732.3" cy="1861.6" r="6.6"/>
<circle cx="731.8" cy="1862.1" r="6.6"/>
<circle cx="731.2" cy="1862.6" r="6.6"/>
<circle cx="730.7" cy="1863.0" r="6.6"/>
<circle cx="730.2" cy="1863.5" r="6.6"/>
<circle cx="729.7" cy="1863.9" r="6.6"/>
<circle cx="729.3" cy="1864.4" r="6.6"/>
<circle cx="728.9" cy="1864.8" r="6.6"/>
<circle cx="728.5" cy="1865.3" r="6.6"/>
<circle cx="728.0" cy="1865.7" r="6.6"/>
<circle cx="727.6" cy="1866.1" r="6.6"/>
<circle cx="727.2" cy="1866.5" r="6.6"/>
<circle cx="726.7" cy="1866.9" r="6.6"/>
<circle cx="726.3" cy="1867.3" r="6.6"/>
<circle cx="725.9" cy="1867.7" r="6.6"/>
<circle cx="725.5" cy="1868.0" r="6.6"/>
<circle cx="725.1" cy="1868.4" r="6.6"/>
<circle cx="724.7" cy="1868.8" r="6.6"/>
<circle cx="724.4" cy="1869.1" r="6.6"/>
<circle cx="724.1" cy="1869.5" r="6.6"/>
<circle cx="723.9" cy="1869.8" r="6.6"/>
<circle cx="723.7" cy="1870.2" r="6.6"/>
<circle cx="723.6" cy="1870.5" r="6.6"/>
<circle cx="723.5" cy="1870.9" r="6.6"/>
<circle cx="723.5" cy="1871.2" r="6.6"/>
<circle cx="723.5" cy="1871.5" r="6.6"/>
<circle cx="723.5" cy="1871.8" r="6.6"/>
<circle cx="723.5" cy="1872.2" r="6.6"/>
<circle cx="723.6" cy="1872.5" r="6.6"/>
<circle cx="723.6" cy="1872.8" r="6.6"/>
<circle cx="723.6" cy="1873.1" r="6.6"/>
<circle cx="723.7" cy="1873.4" r="6.6"/>
<circle cx="723.7" cy="1873.7" r="6.6"/>
<circle cx="723.7" cy="1873.9" r="6.6"/>
<circle cx="723.8" cy="1874.2" r="6.6"/>
<circle cx="723.8" cy="1874.5" r="6.6"/>
<circle cx="723.9" cy="1874.7" r="6.6"/>
<circle cx="723.9" cy="1875.0" r="6.6"/>
<circle cx="723.9" cy="1875.3" r="6.6"/>
<circle cx="724.0" cy="1875.5" r="6.6"/>
<circle cx="724.0" cy="1875.8" r="6.6"/>
<circle cx="724.0" cy="1876.0" r="6.6"/>
<circle cx="724.1" cy="1876.3" r="6.6"/>
<circle cx="724.1" cy="1876.5" r="6.6"/>
<circle cx="724.1" cy="1876.8" r="6.6"/>
<circle cx="724.1" cy="1877.0" r="6.6"/>
<circle cx="724.1" cy="1877.2" r="6.6"/>
<circle cx="724.1" cy="1877.5" r="6.6"/>
<circle cx="724.1" cy="1877.7" r="6.6"/>
<circle cx="724.1" cy="1877.9" r="6.6"/>
<circle cx="724.0" cy="1878.1" r="6.6"/>
<circle cx="724.0" cy="1878.3" r="6.6"/>
<circle cx="723.9" cy="1878.5" r="6.6"/>
<circle cx="723.9" cy="1878.7" r="6.6"/>
<circle cx="723.8" cy="1878.9" r="6.6"/>
<circle cx="723.8" cy="1879.0" r="6.6"/>
<circle cx="723.7" cy="1879.2" r="6.6"/>
<circle cx="723.6" cy="1879.4" r="6.6"/>
<circle cx="723.5" cy="1879.5" r="6.6"/>
<circle cx="723.4" cy="1879.6" r="6.6"/>
<circle cx="723.3" cy="1879.8" r="6.6"/>
<circle cx="723.2" cy="1879.9" r="6.6"/>
<circle cx="723.1" cy="1880.1" r="6.6"/>
<circle cx="723.0" cy="1880.2" r="6.6"/>
<circle cx="722.9" cy="1880.3" r="6.6"/>
<circle cx="722.8" cy="1880.5" r="6.6"/>
<circle cx="722.7" cy="1880.6" r="6.6"/>
<circle cx="722.6" cy="1880.7" r="6.6"/>
<circle cx="722.5" cy="1880.8" r="6.6"/>
<circle cx="722.3" cy="1880.9" r="6.6"/>
<circle cx="722.1" cy="1881.0" r="6.6"/>
<circle cx="721.9" cy="1881.1" r="6.6"/>
<circle cx="721.7" cy="1881.2" r="6.6"/>
<circle cx="721.4" cy="1881.3" r="6.6"/>
<circle cx="721.1" cy="1881.4" r="6.6"/>
<circle cx="720.8" cy="1881.5" r="6.6"/>
<circle cx="720.4" cy="1881.6" r="6.6"/>
<circle cx="720.1" cy="1881.6" r="6.6"/>
<circle cx="719.7" cy="1881.7" r="6.6"/>
<circle cx="719.3" cy="1881.8" r="6.6"/>
<circle cx="718.9" cy="1881.8" r="6.6"/>
<circle cx="718.5" cy="1881.9" r="6.6"/>
<circle cx="718.0" cy="1881.9" r="6.6"/>
<circle cx="717.6" cy="1882.0" r="6.6"/>
<circle cx="717.1" cy="1882.0" r="6.6"/>
<circle cx="716.7" cy="1882.1" r="6.6"/>
<circle cx="716.3" cy="1882.1" r="6.6"/>
<circle cx="715.8" cy="1882.2" r="6.6"/>
<circle cx="715.4" cy="1882.2" r="6.6"/>
<circle cx="714.9" cy="1882.3" r="6.6"/>
<circle cx="714.5" cy="1882.3" r="6.6"/>
<circle cx="714.1" cy="1882.4" r="6.6"/>
<circle cx="713.7" cy="1882.4" r="6.6"/>
<circle cx="713.2" cy="1882.5" r="6.6"/>
<circle cx="712.8" cy="1882.5" r="6.6"/>
<circle cx="712.3" cy="1882.5" r="6.6"/>
<circle cx="711.9" cy="1882.6" r="6.6"/>
<circle cx="711.4" cy="1882.6" r="6.6"/>
<circle cx="711.0" cy="1882.7" r="6.6"/>
<circle cx="710.5" cy="1882.7" r="6.6"/>
<circle cx="710.0" cy="1882.7" r="6.6"/>
<circle cx="709.5" cy="1882.8" r="6.6"/>
<circle cx="709.0" cy="1882.8" r="6.6"/>
<circle cx="708.5" cy="1882.8" r="6.6"/>
<circle cx="708.0" cy="1882.9" r="6.6"/>
<circle cx="707.5" cy="1882.9" r="6.6"/>
<circle cx="707.0" cy="1882.9" r="6.6"/>
<circle cx="706.5" cy="1882.9" r="6.6"/>
<circle cx="705.9" cy="1882.9" r="6.6"/>
<circle cx="705.4" cy="1883.0" r="6.6"/>
<circle cx="704.9" cy="1883.0" r="6.6"/>
<circle cx="704.3" cy="1883.0" r="6.6"/>
<circle cx="703.8" cy="1883.0" r="6.6"/>
<circle cx="703.2" cy="1883.0" r="6.6"/>
<circle cx="702.6" cy="1883.0" r="6.6"/>
<circle cx="702.1" cy="1883.0" r="6.6"/>
<circle cx="710.8" cy="1843.9" r="6.6"/>
<circle cx="739.1" cy="1825.4" r="6.6"/>
<circle cx="760.9" cy="1809.2" r="6.6"/>
<circle cx="778.7" cy="1795.1" r="6.6"/>
<circle cx="793.3" cy="1783.7" r="6.6"/>
<circle cx="805.4" cy="1773.6" r="6.6"/>
<circle cx="815.8" cy="1761.6" r="6.6"/>
<circle cx="824.9" cy="1750.9" r="6.6"/>
<circle cx="833.2" cy="1743.8" r="6.6"/>
<circle cx="840.7" cy="1737.4" r="6.6"/>
<circle cx="848.0" cy="1729.9" r="6.6"/>
<circle cx="856.3" cy="1722.1" r="6.6"/>
<circle cx="866.1" cy="1714.9" r="6.6"/>
<circle cx="876.3" cy="1708.3" r="6.6"/>
<circle cx="885.7" cy="1701.9" r="6.6"/>
<circle cx="893.3" cy="1695.7" r="6.6"/>
<circle cx="899.4" cy="1690.6" r="6.6"/>
<circle cx="904.7" cy="1686.5" r="6.6"/>
<circle cx="909.8" cy="1682.6" r="6.6"/>
<circle cx="915.1" cy="1678.1" r="6.6"/>
<circle cx="921.1" cy="1673.7" r="6.6"/>
<circle cx="927.4" cy="1669.8" r="6.6"/>
<circle cx="934.0" cy="1666.3" r="6.6"/>
<circle cx="940.5" cy="1662.7" r="6.6"/>
<circle cx="947.0" cy="1659.2" r="6.6"/>
<circle cx="953.2" cy="1655.6" r="6.6"/>
<circle cx="959.2" cy="1651.7" r="6.6"/>
<circle cx="965.2" cy="1647.3" r="6.6"/>
<circle cx="971.0" cy="1642.9" r="6.6"/>
<circle cx="976.9" cy="1638.9" r="6.6"/>
<circle cx="982.7" cy="1635.2" r="6.6"/>
<circle cx="988.5" cy="1631.8" r="6.6"/>
<circle cx="994.3" cy="1628.7" r="6.6"/>
<circle cx="1000.0" cy="1625.9" r="6.6"/>
<circle cx="1005.8" cy="1623.2" r="6.6"/>
<circle cx="1011.6" cy="1620.6" r="6.6"/>
<circle cx="1017.4" cy="1618.0" r="6.6"/>
<circle cx="1023.3" cy="1615.6" r="6.6"/>
<circle cx="1029.1" cy="1613.1" r="6.6"/>
<circle cx="1034.7" cy="1610.6" r="6.6"/>
<circle cx="1040.3" cy="1608.1" r="6.6"/>
<circle cx="1045.7" cy="1605.5" r="6.6"/>
<circle cx="1051.1" cy="1602.8" r="6.6"/>
<circle cx="1056.2" cy="1600.3" r="6.6"/>
<circle cx="1061.1" cy="1597.8" r="6.6"/>
<circle cx="1065.7" cy="1595.5" r="6.6"/>
<circle cx="1070.2" cy="1593.4" r="6.6"/>
<circle cx="1074.8" cy="1591.4" r="6.6"/>
<circle cx="1079.7" cy="1589.6" r="6.6"/>
<circle cx="1085.0" cy="1587.8" r="6.6"/>
<circle cx="1091.0" cy="1586.1" r="6.6"/>
<circle cx="1097.0" cy="1584.4" r="6.6"/>
<circle cx="1102.5" cy="1582.9" r="6.6"/>
<circle cx="1107.7" cy="1581.3" r="6.6"/>
<circle cx="1112.7" cy="1579.9" r="6.6"/>
<circle cx="1117.4" cy="1578.4" r="6.6"/>
<circle cx="1121.8" cy="1577.1" r="6.6"/>
<circle cx="1125.8" cy="1575.7" r="6.6"/>
<circle cx="1129.3" cy="1574.4" r="6.6"/>
<circle cx="1132.6" cy="1573.1" r="6.6"/>
<circle cx="1135.6" cy="1571.8" r="6.6"/>
<circle cx="1138.4" cy="1570.6" r="6.6"/>
<circle cx="1140.9" cy="1569.3" r="6.6"/>
<circle cx="1143.1" cy="1568.2" r="6.6"/>
<circle cx="1145.1" cy="1567.0" r="6.6"/>
<circle cx="1147.0" cy="1566.0" r="6.6"/>
<circle cx="1148.7" cy="1565.0" r="6.6"/>
<circle cx="1150.2" cy="1564.1" r="6.6"/>
<circle cx="1151.3" cy="1563.4" r="6.6"/>
<circle cx="1152.2" cy="1562.7" r="6.6"/>
<circle cx="1153.0" cy="1562.0" r="6.6"/>
<circle cx="1153.8" cy="1561.3" r="6.6"/>
<circle cx="1154.3" cy="1560.6" r="6.6"/>
<circle cx="1154.7" cy="1560.0" r="6.6"/>
<circle cx="1154.9" cy="1559.4" r="6.6"/>
<circle cx="1154.9" cy="1558.8" r="6.6"/>
<circle cx="1154.9" cy="1558.3" r="6.6"/>
<circle cx="1154.9" cy="1557.8" r="6.6"/>
<circle cx="1154.9" cy="1557.4" r="6.6"/>
<circle cx="1154.9" cy="1557.1" r="6.6"/>
<circle cx="1154.9" cy="1556.9" r="6.6"/>
<circle cx="1154.9" cy="1556.7" r="6.6"/>
<circle cx="1154.9" cy="1556.7" r="6.6"/>
<circle cx="1154.9" cy="1556.7" r="6.6"/>
<circle cx="1154.9" cy="1556.7" r="6.6"/>
<circle cx="1154.9" cy="1556.8" r="6.6"/>
<circle cx="1154.8" cy="1556.8" r="6.6"/>
<circle cx="1154.5" cy="1556.8" r="6.6"/>
<circle cx="1154.0" cy="1556.9" r="6.6"/>
<circle cx="1153.3" cy="1557.0" r="6.6"/>
<circle cx="1152.6" cy="1557.1" r="6.6"/>
<circle cx="1151.7" cy="1557.1" r="6.6"/>
<circle cx="1150.7" cy="1557.2" r="6.6"/>
<circle cx="1149.6" cy="1557.3" r="6.6"/>
<circle cx="1148.5" cy="1557.4" r="6.6"/>
<circle cx="1147.3" cy="1557.5" r="6.6"/>
<circle cx="1146.2" cy="1557.6" r="6.6"/>
<circle cx="1145.1" cy="1557.8" r="6.6"/>
<circle cx="1144.0" cy="1558.0" r="6.6"/>
<circle cx="1143.0" cy="1558.2" r="6.6"/>
<circle cx="1142.1" cy="1558.4" r="6.6"/>
<circle cx="1141.3" cy="1558.7" r="6.6"/>
<circle cx="1140.6" cy="1559.1" r="6.6"/>
<circle cx="1140.0" cy="1559.5" r="6.6"/>
<circle cx="1139.4" cy="1559.8" r="6.6"/>
<circle cx="1138.9" cy="1560.2" r="6.6"/>
<circle cx="1138.3" cy="1560.7" r="6.6"/>
<circle cx="1137.7" cy="1561.1" r="6.6"/>
<circle cx="1137.2" cy="1561.5" r="6.6"/>
<circle cx="1136.7" cy="1561.9" r="6.6"/>
<circle cx="1136.2" cy="1562.3" r="6.6"/>
<circle cx="1135.7" cy="1562.8" r="6.6"/>
<circle cx="1135.2" cy="1563.1" r="6.6"/>
<circle cx="1134.8" cy="1563.5" r="6.6"/>
<circle cx="1134.4" cy="1563.9" r="6.6"/>
<circle cx="1134.0" cy="1564.2" r="6.6"/>
<circle cx="1133.6" cy="1564.6" r="6.6"/>
<circle cx="1133.3" cy="1564.9" r="6.6"/>
<circle cx="1133.0" cy="1565.3" r="6.6"/>
<circle cx="1132.7" cy="1565.7" r="6.6"/>
<circle cx="1132.4" cy="1566.0" r="6.6"/>
<circle cx="1132.2" cy="1566.4" r="6.6"/>
<circle cx="1131.9" cy="1566.8" r="6.6"/>
<circle cx="1131.7" cy="1567.1" r="6.6"/>
<circle cx="1131.5" cy="1567.5" r="6.6"/>
<circle cx="1131.3" cy="1567.9" r="6.6"/>
<circle cx="1131.1" cy="1568.2" r="6.6"/>
<circle cx="1130.9" cy="1568.6" r="6.6"/>
<circle cx="1130.7" cy="1569.0" r="6.6"/>
<circle cx="1130.5" cy="1569.3" r="6.6"/>
<circle cx="1130.3" cy="1569.7" r="6.6"/>
<circle cx="1130.2" cy="1570.1" r="6.6"/>
<circle cx="1130.0" cy="1570.5" r="6.6"/>
<circle cx="1129.9" cy="1570.9" r="6.6"/>
<circle cx="1129.7" cy="1571.3" r="6.6"/>
<circle cx="1129.6" cy="1571.6" r="6.6"/>
<circle cx="1129.4" cy="1572.0" r="6.6"/>
<circle cx="1129.3" cy="1572.4" r="6.6"/>
<circle cx="1129.1" cy="1572.8" r="6.6"/>
<circle cx="1129.0" cy="1573.2" r="6.6"/>
<circle cx="1128.8" cy="1573.6" r="6.6"/>
<circle cx="1128.7" cy="1574.0" r="6.6"/>
<circle cx="1128.6" cy="1574.3" r="6.6"/>
<circle cx="1128.4" cy="1574.7" r="6.6"/>
<circle cx="1128.3" cy="1575.0" r="6.6"/>
<circle cx="1128.2" cy="1575.4" r="6.6"/>
<circle cx="1128.1" cy="1575.7" r="6.6"/>
<circle cx="1128.0" cy="1576.0" r="6.6"/>
<circle cx="1127.9" cy="1576.3" r="6.6"/>
<circle cx="1127.7" cy="1576.6" r="6.6"/>
<circle cx="1127.6" cy="1576.9" r="6.6"/>
<circle cx="1127.5" cy="1577.2" r="6.6"/>
<circle cx="1127.4" cy="1577.5" r="6.6"/>
<circle cx="1127.3" cy="1577.8" r="6.6"/>
<circle cx="1127.2" cy="1578.1" r="6.6"/>
<circle cx="1127.1" cy="1578.3" r="6.6"/>
<circle cx="1127.0" cy="1578.6" r="6.6"/>
<circle cx="1126.9" cy="1578.8" r="6.6"/>
<circle cx="1126.7" cy="1579.1" r="6.6"/>
<circle cx="1126.6" cy="1579.3" r="6.6"/>
<circle cx="1126.5" cy="1579.4" r="6.6"/>
<circle cx="1126.4" cy="1579.6" r="6.6"/>
<circle cx="1126.2" cy="1579.7" r="6.6"/>
<circle cx="1126.1" cy="1579.8" r="6.6"/>
<circle cx="1126.0" cy="1579.9" r="6.6"/>
<circle cx="1125.8" cy="1579.9" r="6.6"/>
<circle cx="1125.7" cy="1580.0" r="6.6"/>
<circle cx="1125.6" cy="1580.0" r="6.6"/>
<circle cx="1125.4" cy="1580.1" r="6.6"/>
<circle cx="1125.3" cy="1580.1" r="6.6"/>
<circle cx="1125.1" cy="1580.2" r="6.6"/>
<circle cx="1125.0" cy="1580.2" r="6.6"/>
<circle cx="1124.9" cy="1580.3" r="6.6"/>
<circle cx="1124.7" cy="1580.3" r="6.6"/>
<circle cx="1124.6" cy="1580.3" r="6.6"/>
<circle cx="1124.4" cy="1580.3" r="6.6"/>
<circle cx="1124.3" cy="1580.4" r="6.6"/>
<circle cx="1124.1" cy="1580.4" r="6.6"/>
<circle cx="723.3" cy="1856.4" r="6.6"/>
<circle cx="756.0" cy="1846.5" r="6.6"/>
<circle cx="778.7" cy="1835.5" r="6.6"/>
<circle cx="794.6" cy="1822.2" r="6.6"/>
<circle cx="807.4" cy="1808.3" r="6.6"/>
<circle cx="817.4" cy="1795.1" r="6.6"/>
<circle cx="827.6" cy="1784.6" r="6.6"/>
<circle cx="842.5" cy="1775.6" r="6.6"/>
<circle cx="856.4" cy="1768.3" r="6.6"/>
<circle cx="867.3" cy="1759.8" r="6.6"/>
<circle cx="877.1" cy="1746.3" r="6.6"/>
<circle cx="887.1" cy="1731.6" r="6.6"/>
<circle cx="897.6" cy="1722.8" r="6.6"/>
<circle cx="908.0" cy="1718.5" r="6.6"/>
<circle cx="917.9" cy="1715.2" r="6.6"/>
<circle cx="927.4" cy="1712.6" r="6.6"/>
<circle cx="936.5" cy="1709.9" r="6.6"/>
<circle cx="945.0" cy="1707.2" r="6.6"/>
<circle cx="952.6" cy="1704.7" r="6.6"/>
<circle cx="959.7" cy="1702.3" r="6.6"/>
<circle cx="966.3" cy="1699.9" r="6.6"/>
<circle cx="972.5" cy="1697.7" r="6.6"/>
<circle cx="978.6" cy="1695.5" r="6.6"/>
<circle cx="984.5" cy="1693.3" r="6.6"/>
<circle cx="990.0" cy="1691.1" r="6.6"/>
<circle cx="995.2" cy="1689.0" r="6.6"/>
<circle cx="999.9" cy="1687.0" r="6.6"/>
<circle cx="1004.3" cy="1685.0" r="6.6"/>
<circle cx="1008.5" cy="1683.2" r="6.6"/>
<circle cx="1012.4" cy="1681.5" r="6.6"/>
<circle cx="1015.7" cy="1679.8" r="6.6"/>
<circle cx="1018.6" cy="1678.2" r="6.6"/>
<circle cx="1021.2" cy="1676.6" r="6.6"/>
<circle cx="1023.5" cy="1675.2" r="6.6"/>
<circle cx="1025.3" cy="1673.9" r="6.6"/>
<circle cx="1026.6" cy="1672.8" r="6.6"/>
<circle cx="1027.6" cy="1671.7" r="6.6"/>
<circle cx="1028.4" cy="1670.6" r="6.6"/>
<circle cx="1029.0" cy="1669.6" r="6.6"/>
<circle cx="1029.2" cy="1668.7" r="6.6"/>
<circle cx="1029.2" cy="1667.8" r="6.6"/>
<circle cx="1029.2" cy="1667.0" r="6.6"/>
<circle cx="1029.2" cy="1666.3" r="6.6"/>
<circle cx="1029.2" cy="1665.8" r="6.6"/>
<circle cx="1029.2" cy="1665.3" r="6.6"/>
<circle cx="1029.2" cy="1664.8" r="6.6"/>
<circle cx="1029.2" cy="1664.5" r="6.6"/>
<circle cx="1029.2" cy="1664.1" r="6.6"/>
<circle cx="1029.2" cy="1663.8" r="6.6"/>
<circle cx="1029.2" cy="1663.5" r="6.6"/>
<circle cx="1029.2" cy="1663.2" r="6.6"/>
<circle cx="1029.2" cy="1662.9" r="6.6"/>
<circle cx="1029.2" cy="1662.6" r="6.6"/>
<circle cx="1029.1" cy="1662.4" r="6.6"/>
<circle cx="1028.9" cy="1662.1" r="6.6"/>
<circle cx="1028.6" cy="1661.9" r="6.6"/>
<circle cx="1028.0" cy="1661.6" r="6.6"/>
<circle cx="1027.4" cy="1661.4" r="6.6"/>
<circle cx="1026.7" cy="1661.3" r="6.6"/>
<circle cx="1025.9" cy="1661.1" r="6.6"/>
<circle cx="1025.1" cy="1661.0" r="6.6"/>
<circle cx="1024.4" cy="1660.9" r="6.6"/>
<circle cx="1023.7" cy="1660.8" r="6.6"/>
<circle cx="1023.1" cy="1660.8" r="6.6"/>
<circle cx="1022.3" cy="1660.7" r="6.6"/>
<circle cx="1021.6" cy="1660.7" r="6.6"/>
<circle cx="1020.0" cy="1665.7" r="6.6"/>
<circle cx="1019.2" cy="1666.2" r="6.6"/>
<circle cx="1018.4" cy="1666.6" r="6.6"/>
<circle cx="1017.6" cy="1667.1" r="6.6"/>
<circle cx="1016.9" cy="1667.6" r="6.6"/>
<circle cx="1016.1" cy="1668.1" r="6.6"/>
<circle cx="1015.3" cy="1668.5" r="6.6"/>
<circle cx="1014.6" cy="1669.0" r="6.6"/>
<circle cx="1013.8" cy="1669.5" r="6.6"/>
<circle cx="1013.1" cy="1670.0" r="6.6"/>
<circle cx="1012.3" cy="1670.4" r="6.6"/>
<circle cx="1011.5" cy="1670.9" r="6.6"/>
<circle cx="1010.8" cy="1671.4" r="6.6"/>
<circle cx="1010.0" cy="1671.9" r="6.6"/>
<circle cx="1009.3" cy="1672.4" r="6.6"/>
<circle cx="1008.5" cy="1672.8" r="6.6"/>
<circle cx="1007.8" cy="1673.3" r="6.6"/>
<circle cx="1007.0" cy="1673.8" r="6.6"/>
<circle cx="1006.3" cy="1674.2" r="6.6"/>
<circle cx="1005.6" cy="1674.7" r="6.6"/>
<circle cx="1004.9" cy="1675.1" r="6.6"/>
<circle cx="1004.2" cy="1675.5" r="6.6"/>
<circle cx="1003.5" cy="1675.9" r="6.6"/>
<circle cx="1002.8" cy="1676.3" r="6.6"/>
<circle cx="1002.2" cy="1676.7" r="6.6"/>
<circle cx="1001.5" cy="1677.1" r="6.6"/>
<circle cx="1000.8" cy="1677.4" r="6.6"/>
<circle cx="1000.0" cy="1677.8" r="6.6"/>
<circle cx="999.3" cy="1678.1" r="6.6"/>
<circle cx="998.5" cy="1678.4" r="6.6"/>
<circle cx="997.8" cy="1678.8" r="6.6"/>
<circle cx="997.1" cy="1679.1" r="6.6"/>
<circle cx="996.4" cy="1679.4" r="6.6"/>
<circle cx="995.7" cy="1679.7" r="6.6"/>
<circle cx="995.1" cy="1680.0" r="6.6"/>
<circle cx="994.5" cy="1680.3" r="6.6"/>
<circle cx="993.9" cy="1680.6" r="6.6"/>
<circle cx="993.4" cy="1680.9" r="6.6"/>
<circle cx="993.0" cy="1681.2" r="6.6"/>
<circle cx="992.7" cy="1681.5" r="6.6"/>
<circle cx="992.5" cy="1681.8" r="6.6"/>
<circle cx="992.3" cy="1682.1" r="6.6"/>
<circle cx="992.1" cy="1682.4" r="6.6"/>
<circle cx="992.0" cy="1682.7" r="6.6"/>
<circle cx="991.8" cy="1683.0" r="6.6"/>
<circle cx="991.7" cy="1683.3" r="6.6"/>
<circle cx="991.5" cy="1683.6" r="6.6"/>
<circle cx="991.4" cy="1683.9" r="6.6"/>
<circle cx="991.3" cy="1684.1" r="6.6"/>
<circle cx="991.2" cy="1684.4" r="6.6"/>
<circle cx="991.1" cy="1684.7" r="6.6"/>
<circle cx="991.0" cy="1685.0" r="6.6"/>
<circle cx="990.9" cy="1685.3" r="6.6"/>
<circle cx="990.8" cy="1685.6" r="6.6"/>
<circle cx="990.7" cy="1685.9" r="6.6"/>
<circle cx="990.6" cy="1686.1" r="6.6"/>
<circle cx="990.6" cy="1686.4" r="6.6"/>
<circle cx="990.5" cy="1686.7" r="6.6"/>
<circle cx="990.4" cy="1686.9" r="6.6"/>
<circle cx="990.4" cy="1687.2" r="6.6"/>
<circle cx="990.4" cy="1687.4" r="6.6"/>
<circle cx="990.4" cy="1687.7" r="6.6"/>
<circle cx="990.3" cy="1687.9" r="6.6"/>
<circle cx="990.3" cy="1688.2" r="6.6"/>
<circle cx="990.4" cy="1688.4" r="6.6"/>
<circle cx="990.4" cy="1688.6" r="6.6"/>
<circle cx="990.4" cy="1688.9" r="6.6"/>
<circle cx="990.5" cy="1689.1" r="6.6"/>
<circle cx="990.6" cy="1689.4" r="6.6"/>
<circle cx="990.6" cy="1689.6" r="6.6"/>
<circle cx="990.7" cy="1689.8" r="6.6"/>
<circle cx="990.8" cy="1690.1" r="6.6"/>
<circle cx="990.9" cy="1690.3" r="6.6"/>
<circle cx="991.0" cy="1690.5" r="6.6"/>
<circle cx="991.1" cy="1690.7" r="6.6"/>
<circle cx="991.2" cy="1691.0" r="6.6"/>
<circle cx="991.4" cy="1691.2" r="6.6"/>
<circle cx="991.5" cy="1691.4" r="6.6"/>
<circle cx="991.6" cy="1691.6" r="6.6"/>
<circle cx="991.7" cy="1691.8" r="6.6"/>
<circle cx="991.9" cy="1691.9" r="6.6"/>
<circle cx="992.0" cy="1692.1" r="6.6"/>
<circle cx="992.1" cy="1692.3" r="6.6"/>
<circle cx="992.2" cy="1692.4" r="6.6"/>
<circle cx="992.3" cy="1692.6" r="6.6"/>
<circle cx="992.4" cy="1692.7" r="6.6"/>
<circle cx="992.5" cy="1692.8" r="6.6"/>
<circle cx="992.6" cy="1693.0" r="6.6"/>
<circle cx="992.7" cy="1693.1" r="6.6"/>
<circle cx="992.8" cy="1693.2" r="6.6"/>
<circle cx="992.9" cy="1693.3" r="6.6"/>
<circle cx="993.0" cy="1693.5" r="6.6"/>
<circle cx="993.1" cy="1693.6" r="6.6"/>
<circle cx="993.2" cy="1693.7" r="6.6"/>
<circle cx="993.3" cy="1693.8" r="6.6"/>
<circle cx="993.4" cy="1693.9" r="6.6"/>
<circle cx="993.5" cy="1694.0" r="6.6"/>
<circle cx="993.7" cy="1694.1" r="6.6"/>
<circle cx="993.8" cy="1694.2" r="6.6"/>
<circle cx="993.9" cy="1694.3" r="6.6"/>
<circle cx="994.0" cy="1694.4" r="6.6"/>
<circle cx="994.1" cy="1694.5" r="6.6"/>
<circle cx="994.2" cy="1694.6" r="6.6"/>
<circle cx="994.3" cy="1694.7" r="6.6"/>
<circle cx="994.4" cy="1694.8" r="6.6"/>
<circle cx="994.5" cy="1694.8" r="6.6"/>
<circle cx="994.7" cy="1694.9" r="6.6"/>
<circle cx="994.8" cy="1695.0" r="6.6"/>
<circle cx="994.9" cy="1695.0" r="6.6"/>
<circle cx="995.0" cy="1695.1" r="6.6"/>
<circle cx="995.1" cy="1695.1" r="6.6"/>
<circle cx="718.2" cy="1873.9" r="6.6"/>
<circle cx="741.2" cy="1860.1" r="6.6"/>
<circle cx="757.9" cy="1849.6" r="6.6"/>
<circle cx="775.3" cy="1841.2" r="6.6"/>
<circle cx="793.6" cy="1833.6" r="6.6"/>
<circle cx="809.8" cy="1825.8" r="6.6"/>
<circle cx="824.4" cy="1818.4" r="6.6"/>
<circle cx="836.4" cy="1812.5" r="6.6"/>
<circle cx="846.7" cy="1807.8" r="6.6"/>
<circle cx="855.6" cy="1803.8" r="6.6"/>
<circle cx="863.0" cy="1800.1" r="6.6"/>
<circle cx="869.3" cy="1796.7" r="6.6"/>
<circle cx="875.0" cy="1793.4" r="6.6"/>
<circle cx="879.6" cy="1790.6" r="6.6"/>
<circle cx="883.1" cy="1788.1" r="6.6"/>
<circle cx="886.0" cy="1785.9" r="6.6"/>
<circle cx="888.6" cy="1783.9" r="6.6"/>
<circle cx="891.0" cy="1782.2" r="6.6"/>
<circle cx="892.9" cy="1780.6" r="6.6"/>
<circle cx="894.5" cy="1779.3" r="6.6"/>
<circle cx="895.7" cy="1778.1" r="6.6"/>
<circle cx="896.6" cy="1777.0" r="6.6"/>
<circle cx="897.4" cy="1776.0" r="6.6"/>
<circle cx="898.1" cy="1775.1" r="6.6"/>
<circle cx="898.7" cy="1774.3" r="6.6"/>
<circle cx="899.3" cy="1773.6" r="6.6"/>
<circle cx="899.7" cy="1772.9" r="6.6"/>
<circle cx="900.1" cy="1772.3" r="6.6"/>
<circle cx="900.3" cy="1771.7" r="6.6"/>
<circle cx="900.5" cy="1771.2" r="6.6"/>
<circle cx="900.7" cy="1770.7" r="6.6"/>
<circle cx="900.8" cy="1770.4" r="6.6"/>
<circle cx="900.9" cy="1770.1" r="6.6"/>
<circle cx="901.1" cy="1769.9" r="6.6"/>
<circle cx="901.2" cy="1769.6" r="6.6"/>
<circle cx="901.2" cy="1769.4" r="6.6"/>
<circle cx="901.3" cy="1769.2" r="6.6"/>
<circle cx="901.4" cy="1769.1" r="6.6"/>
<circle cx="901.5" cy="1769.0" r="6.6"/>
<circle cx="901.6" cy="1768.9" r="6.6"/>
<circle cx="901.6" cy="1768.9" r="6.6"/>
<circle cx="901.7" cy="1768.9" r="6.6"/>
<circle cx="901.8" cy="1768.9" r="6.6"/>
<circle cx="901.9" cy="1768.9" r="6.6"/>
<circle cx="902.0" cy="1768.9" r="6.6"/>
<circle cx="902.1" cy="1768.8" r="6.6"/>
<circle cx="902.1" cy="1768.8" r="6.6"/>
<circle cx="902.2" cy="1768.8" r="6.6"/>
<circle cx="902.3" cy="1768.8" r="6.6"/>
<circle cx="902.4" cy="1768.8" r="6.6"/>
<circle cx="902.5" cy="1768.8" r="6.6"/>
<circle cx="902.6" cy="1768.8" r="6.6"/>
<circle cx="902.6" cy="1768.8" r="6.6"/>
<circle cx="902.7" cy="1768.8" r="6.6"/>
<circle cx="902.8" cy="1768.8" r="6.6"/>
<circle cx="902.8" cy="1768.8" r="6.6"/>
<circle cx="902.9" cy="1768.7" r="6.6"/>
<circle cx="902.9" cy="1768.7" r="6.6"/>
<circle cx="903.0" cy="1768.7" r="6.6"/>
<circle cx="903.0" cy="1768.7" r="6.6"/>
<circle cx="903.0" cy="1768.7" r="6.6"/>
<circle cx="903.1" cy="1768.7" r="6.6"/>
<circle cx="903.1" cy="1768.7" r="6.6"/>
<circle cx="903.1" cy="1768.7" r="6.6"/>
<circle cx="903.1" cy="1768.7" r="6.6"/>
<circle cx="903.0" cy="1768.7" r="6.6"/>
<circle cx="902.9" cy="1768.7" r="6.6"/>
<circle cx="902.7" cy="1768.7" r="6.6"/>
<circle cx="902.5" cy="1768.7" r="6.6"/>
<circle cx="902.3" cy="1768.7" r="6.6"/>
<circle cx="902.0" cy="1768.7" r="6.6"/>
<circle cx="901.8" cy="1768.7" r="6.6"/>
<circle cx="901.5" cy="1768.7" r="6.6"/>
<circle cx="901.1" cy="1768.7" r="6.6"/>
<circle cx="900.8" cy="1768.6" r="6.6"/>
<circle cx="900.4" cy="1768.6" r="6.6"/>
<circle cx="900.1" cy="1768.6" r="6.6"/>
<circle cx="899.7" cy="1768.6" r="6.6"/>
<circle cx="899.3" cy="1768.6" r="6.6"/>
<circle cx="898.9" cy="1768.6" r="6.6"/>
<circle cx="898.5" cy="1768.6" r="6.6"/>
<circle cx="898.1" cy="1768.6" r="6.6"/>
<circle cx="897.7" cy="1768.6" r="6.6"/>
<circle cx="897.3" cy="1768.6" r="6.6"/>
<circle cx="896.9" cy="1768.6" r="6.6"/>
<circle cx="896.6" cy="1768.6" r="6.6"/>
<circle cx="896.2" cy="1768.6" r="6.6"/>
<circle cx="895.9" cy="1768.5" r="6.6"/>
<circle cx="895.5" cy="1768.5" r="6.6"/>
<circle cx="895.1" cy="1768.5" r="6.6"/>
<circle cx="894.7" cy="1768.5" r="6.6"/>
<circle cx="894.3" cy="1768.5" r="6.6"/>
<circle cx="893.9" cy="1768.5" r="6.6"/>
<circle cx="893.4" cy="1768.5" r="6.6"/>
<circle cx="893.0" cy="1768.5" r="6.6"/>
<circle cx="892.5" cy="1768.5" r="6.6"/>
<circle cx="892.1" cy="1768.5" r="6.6"/>
<circle cx="891.7" cy="1768.5" r="6.6"/>
<circle cx="891.2" cy="1768.5" r="6.6"/>
<circle cx="890.7" cy="1768.5" r="6.6"/>
<circle cx="890.3" cy="1768.4" r="6.6"/>
<circle cx="889.8" cy="1768.4" r="6.6"/>
<circle cx="889.4" cy="1768.4" r="6.6"/>
<circle cx="888.9" cy="1768.4" r="6.6"/>
<circle cx="888.4" cy="1768.4" r="6.6"/>
<circle cx="888.0" cy="1768.4" r="6.6"/>
<circle cx="887.5" cy="1768.4" r="6.6"/>
<circle cx="887.1" cy="1768.4" r="6.6"/>
<circle cx="886.7" cy="1768.4" r="6.6"/>
<circle cx="886.2" cy="1768.4" r="6.6"/>
<circle cx="885.7" cy="1768.4" r="6.6"/>
<circle cx="885.2" cy="1768.4" r="6.6"/>
<circle cx="884.7" cy="1768.4" r="6.6"/>
<circle cx="884.1" cy="1768.4" r="6.6"/>
<circle cx="883.6" cy="1768.3" r="6.6"/>
<circle cx="883.0" cy="1768.3" r="6.6"/>
<circle cx="882.5" cy="1768.3" r="6.6"/>
<circle cx="882.0" cy="1768.3" r="6.6"/>
<circle cx="881.4" cy="1768.3" r="6.6"/>
<circle cx="880.9" cy="1768.3" r="6.6"/>
<circle cx="880.4" cy="1768.3" r="6.6"/>
<circle cx="879.9" cy="1768.3" r="6.6"/>
<circle cx="879.4" cy="1768.3" r="6.6"/>
<circle cx="879.0" cy="1768.3" r="6.6"/>
<circle cx="878.6" cy="1768.3" r="6.6"/>
<circle cx="878.2" cy="1768.3" r="6.6"/>
<circle cx="877.8" cy="1768.3" r="6.6"/>
<circle cx="877.5" cy="1768.3" r="6.6"/>
<circle cx="877.3" cy="1768.3" r="6.6"/>
<circle cx="877.1" cy="1768.2" r="6.6"/>
<circle cx="876.9" cy="1768.2" r="6.6"/>
<circle cx="876.7" cy="1768.2" r="6.6"/>
<circle cx="876.6" cy="1768.2" r="6.6"/>
<circle cx="876.4" cy="1768.2" r="6.6"/>
<circle cx="876.3" cy="1768.2" r="6.6"/>
<circle cx="876.1" cy="1768.2" r="6.6"/>
<circle cx="876.0" cy="1768.2" r="6.6"/>
<circle cx="875.9" cy="1768.2" r="6.6"/>
<circle cx="875.7" cy="1768.2" r="6.6"/>
<circle cx="875.6" cy="1768.2" r="6.6"/>
<circle cx="875.5" cy="1768.2" r="6.6"/>
<circle cx="875.4" cy="1768.2" r="6.6"/>
<circle cx="875.3" cy="1768.2" r="6.6"/>
<circle cx="875.2" cy="1768.2" r="6.6"/>
<circle cx="875.1" cy="1768.2" r="6.6"/>
<circle cx="875.0" cy="1768.1" r="6.6"/>
<circle cx="875.0" cy="1768.1" r="6.6"/>
<circle cx="874.9" cy="1768.1" r="6.6"/>
<circle cx="874.9" cy="1768.1" r="6.6"/>
<circle cx="874.8" cy="1768.1" r="6.6"/>
<circle cx="874.8" cy="1768.1" r="6.6"/>
<circle cx="874.8" cy="1768.1" r="6.6"/>
<circle cx="874.8" cy="1768.1" r="6.6"/>
<circle cx="874.8" cy="1768.1" r="6.6"/>
<circle cx="874.8" cy="1768.1" r="6.6"/>
<circle cx="874.8" cy="1768.1" r="6.6"/>
<circle cx="874.8" cy="1768.1" r="6.6"/>
<circle cx="874.8" cy="1768.1" r="6.6"/>
<circle cx="874.8" cy="1768.1" r="6.6"/>
<circle cx="874.8" cy="1768.1" r="6.6"/>
<circle cx="874.8" cy="1768.1" r="6.6"/>
<circle cx="874.8" cy="1768.1" r="6.6"/>
<circle cx="874.8" cy="1768.0" r="6.6"/>
<circle cx="874.8" cy="1768.0" r="6.6"/>
<circle cx="874.8" cy="1768.0" r="6.6"/>
<circle cx="874.8" cy="1768.0" r="6.6"/>
<circle cx="874.8" cy="1768.0" r="6.6"/>
<circle cx="874.8" cy="1768.0" r="6.6"/>
<circle cx="874.8" cy="1768.0" r="6.6"/>
<circle cx="874.8" cy="1768.0" r="6.6"/>
<circle cx="874.8" cy="1768.0" r="6.6"/>
<circle cx="874.8" cy="1768.0" r="6.6"/>
<circle cx="874.8" cy="1768.0" r="6.6"/>
<circle cx="874.8" cy="1768.0" r="6.6"/>
<circle cx="874.8" cy="1768.0" r="6.6"/>
<circle cx="874.8" cy="1768.0" r="6.6"/>
<circle cx="874.8" cy="1768.0" r="6.6"/>
<circle cx="874.8" cy="1768.0" r="6.6"/>
<circle cx="693.0" cy="1838.1" r="6.6"/>
<circle cx="727.3" cy="1821.9" r="6.6"/>
<circle cx="755.4" cy="1807.7" r="6.6"/>
<circle cx="778.3" cy="1795.1" r="6.6"/>
<circle cx="793.8" cy="1783.9" r="6.6"/>
<circle cx="803.3" cy="1773.7" r="6.6"/>
<circle cx="812.1" cy="1764.5" r="6.6"/>
<circle cx="821.1" cy="1755.9" r="6.6"/>
<circle cx="829.8" cy="1748.0" r="6.6"/>
<circle cx="838.3" cy="1740.6" r="6.6"/>
<circle cx="846.3" cy="1733.8" r="6.6"/>
<circle cx="853.7" cy="1727.5" r="6.6"/>
<circle cx="860.7" cy="1721.4" r="6.6"/>
<circle cx="867.4" cy="1715.6" r="6.6"/>
<circle cx="873.8" cy="1709.9" r="6.6"/>
<circle cx="880.0" cy="1704.4" r="6.6"/>
<circle cx="886.0" cy="1699.1" r="6.6"/>
<circle cx="891.9" cy="1694.2" r="6.6"/>
<circle cx="897.5" cy="1689.6" r="6.6"/>
<circle cx="902.9" cy="1685.4" r="6.6"/>
<circle cx="908.2" cy="1681.3" r="6.6"/>
<circle cx="913.4" cy="1677.5" r="6.6"/>
<circle cx="918.8" cy="1673.6" r="6.6"/>
<circle cx="924.2" cy="1669.9" r="6.6"/>
<circle cx="929.6" cy="1666.3" r="6.6"/>
<circle cx="935.1" cy="1662.7" r="6.6"/>
<circle cx="940.5" cy="1659.2" r="6.6"/>
<circle cx="945.9" cy="1655.7" r="6.6"/>
<circle cx="951.3" cy="1652.1" r="6.6"/>
<circle cx="956.7" cy="1648.7" r="6.6"/>
<circle cx="962.2" cy="1645.4" r="6.6"/>
<circle cx="967.5" cy="1642.3" r="6.6"/>
<circle cx="972.5" cy="1639.2" r="6.6"/>
<circle cx="977.1" cy="1636.0" r="6.6"/>
<circle cx="981.2" cy="1632.5" r="6.6"/>
<circle cx="985.3" cy="1628.8" r="6.6"/>
<circle cx="989.6" cy="1625.1" r="6.6"/>
<circle cx="994.3" cy="1621.5" r="6.6"/>
<circle cx="999.7" cy="1618.0" r="6.6"/>
<circle cx="1005.5" cy="1614.6" r="6.6"/>
<circle cx="1011.6" cy="1611.4" r="6.6"/>
<circle cx="1017.7" cy="1608.4" r="6.6"/>
<circle cx="1023.7" cy="1605.6" r="6.6"/>
<circle cx="1029.5" cy="1602.9" r="6.6"/>
<circle cx="1035.0" cy="1600.3" r="6.6"/>
<circle cx="1040.4" cy="1597.8" r="6.6"/>
<circle cx="1045.8" cy="1595.4" r="6.6"/>
<circle cx="1051.1" cy="1593.0" r="6.6"/>
<circle cx="1056.6" cy="1590.8" r="6.6"/>
<circle cx="1062.2" cy="1588.6" r="6.6"/>
<circle cx="1068.1" cy="1586.4" r="6.6"/>
<circle cx="1074.1" cy="1584.3" r="6.6"/>
<circle cx="1080.0" cy="1582.3" r="6.6"/>
<circle cx="1085.8" cy="1580.3" r="6.6"/>
<circle cx="1091.4" cy="1578.3" r="6.6"/>
<circle cx="1096.5" cy="1576.4" r="6.6"/>
<circle cx="1101.3" cy="1574.6" r="6.6"/>
<circle cx="1105.8" cy="1572.7" r="6.6"/>
<circle cx="1110.2" cy="1570.9" r="6.6"/>
<circle cx="1114.4" cy="1569.1" r="6.6"/>
<circle cx="1118.4" cy="1567.3" r="6.6"/>
<circle cx="1122.1" cy="1565.5" r="6.6"/>
<circle cx="1125.6" cy="1563.7" r="6.6"/>
<circle cx="1128.9" cy="1561.9" r="6.6"/>
<circle cx="1132.1" cy="1560.2" r="6.6"/>
<circle cx="1135.2" cy="1558.4" r="6.6"/>
<circle cx="1138.3" cy="1556.7" r="6.6"/>
<circle cx="1141.4" cy="1555.0" r="6.6"/>
<circle cx="1144.4" cy="1553.3" r="6.6"/>
<circle cx="1147.4" cy="1551.7" r="6.6"/>
<circle cx="1150.4" cy="1550.1" r="6.6"/>
<circle cx="1153.4" cy="1548.6" r="6.6"/>
<circle cx="1156.5" cy="1547.2" r="6.6"/>
<circle cx="1159.9" cy="1545.8" r="6.6"/>
<circle cx="1163.5" cy="1544.5" r="6.6"/>
<circle cx="1167.2" cy="1543.2" r="6.6"/>
<circle cx="1170.9" cy="1541.9" r="6.6"/>
<circle cx="1174.5" cy="1540.7" r="6.6"/>
<circle cx="1177.7" cy="1539.5" r="6.6"/>
<circle cx="1180.8" cy="1538.3" r="6.6"/>
<circle cx="1183.7" cy="1537.2" r="6.6"/>
<circle cx="1186.6" cy="1536.1" r="6.6"/>
<circle cx="1189.3" cy="1535.0" r="6.6"/>
<circle cx="1191.9" cy="1534.1" r="6.6"/>
<circle cx="1194.3" cy="1533.1" r="6.6"/>
<circle cx="1196.5" cy="1532.2" r="6.6"/>
<circle cx="1198.5" cy="1531.4" r="6.6"/>
<circle cx="1200.4" cy="1530.5" r="6.6"/>
<circle cx="1202.3" cy="1529.7" r="6.6"/>
<circle cx="1204.1" cy="1528.9" r="6.6"/>
<circle cx="1205.8" cy="1528.2" r="6.6"/>
<circle cx="1207.4" cy="1527.4" r="6.6"/>
<circle cx="1209.0" cy="1526.7" r="6.6"/>
<circle cx="1210.4" cy="1526.0" r="6.6"/>
<circle cx="1211.7" cy="1525.3" r="6.6"/>
<circle cx="1212.8" cy="1524.7" r="6.6"/>
<circle cx="1213.8" cy="1524.0" r="6.6"/>
<circle cx="1214.7" cy="1523.4" r="6.6"/>
<circle cx="1215.5" cy="1522.8" r="6.6"/>
<circle cx="1216.3" cy="1522.1" r="6.6"/>
<circle cx="1217.0" cy="1521.5" r="6.6"/>
<circle cx="1217.6" cy="1520.9" r="6.6"/>
<circle cx="1218.3" cy="1520.4" r="6.6"/>
<circle cx="1218.9" cy="1519.8" r="6.6"/>
<circle cx="1219.4" cy="1519.2" r="6.6"/>
<circle cx="1219.9" cy="1518.7" r="6.6"/>
<circle cx="1220.4" cy="1518.2" r="6.6"/>
<circle cx="1220.9" cy="1517.6" r="6.6"/>
<circle cx="1221.4" cy="1517.1" r="6.6"/>
<circle cx="1221.9" cy="1516.6" r="6.6"/>
<circle cx="1222.4" cy="1516.1" r="6.6"/>
<circle cx="1222.8" cy="1515.6" r="6.6"/>
<circle cx="1223.3" cy="1515.1" r="6.6"/>
<circle cx="1223.8" cy="1514.6" r="6.6"/>
<circle cx="1224.3" cy="1514.1" r="6.6"/>
<circle cx="1224.8" cy="1513.6" r="6.6"/>
<circle cx="1225.3" cy="1513.1" r="6.6"/>
<circle cx="1225.8" cy="1512.6" r="6.6"/>
<circle cx="1226.3" cy="1512.1" r="6.6"/>
<circle cx="1226.8" cy="1511.6" r="6.6"/>
<circle cx="1227.3" cy="1511.1" r="6.6"/>
<circle cx="1227.8" cy="1510.7" r="6.6"/>
<circle cx="1228.3" cy="1510.2" r="6.6"/>
<circle cx="1228.7" cy="1509.7" r="6.6"/>
<circle cx="1229.2" cy="1509.3" r="6.6"/>
<circle cx="1229.6" cy="1508.9" r="6.6"/>
<circle cx="1230.0" cy="1508.5" r="6.6"/>
<circle cx="1230.3" cy="1508.1" r="6.6"/>
<circle cx="1230.6" cy="1507.7" r="6.6"/>
<circle cx="1230.9" cy="1507.3" r="6.6"/>
<circle cx="1231.1" cy="1507.0" r="6.6"/>
<circle cx="1231.4" cy="1506.7" r="6.6"/>
<circle cx="1231.6" cy="1506.4" r="6.6"/>
<circle cx="1231.8" cy="1506.1" r="6.6"/>
<circle cx="1232.0" cy="1505.8" r="6.6"/>
<circle cx="1232.2" cy="1505.5" r="6.6"/>
<circle cx="1232.4" cy="1505.3" r="6.6"/>
<circle cx="1232.6" cy="1505.0" r="6.6"/>
<circle cx="1232.8" cy="1504.8" r="6.6"/>
<circle cx="1232.9" cy="1504.6" r="6.6"/>
<circle cx="1233.1" cy="1504.3" r="6.6"/>
<circle cx="1233.2" cy="1504.1" r="6.6"/>
<circle cx="1233.3" cy="1503.8" r="6.6"/>
<circle cx="1233.4" cy="1503.6" r="6.6"/>
<circle cx="1233.5" cy="1503.3" r="6.6"/>
<circle cx="1233.5" cy="1503.1" r="6.6"/>
<circle cx="1233.6" cy="1502.8" r="6.6"/>
<circle cx="1233.6" cy="1502.6" r="6.6"/>
<circle cx="1233.6" cy="1502.3" r="6.6"/>
<circle cx="1233.6" cy="1502.0" r="6.6"/>
<circle cx="1233.5" cy="1501.7" r="6.6"/>
<circle cx="1233.5" cy="1501.4" r="6.6"/>
<circle cx="1233.5" cy="1501.2" r="6.6"/>
<circle cx="1233.4" cy="1500.9" r="6.6"/>
<circle cx="1233.4" cy="1500.6" r="6.6"/>
<circle cx="1233.3" cy="1500.3" r="6.6"/>
<circle cx="1233.3" cy="1500.0" r="6.6"/>
<circle cx="1233.2" cy="1499.7" r="6.6"/>
<circle cx="1233.1" cy="1499.4" r="6.6"/>
<circle cx="1233.1" cy="1499.1" r="6.6"/>
<circle cx="1233.0" cy="1498.8" r="6.6"/>
<circle cx="1232.9" cy="1498.5" r="6.6"/>
<circle cx="1232.8" cy="1498.2" r="6.6"/>
<circle cx="1232.7" cy="1497.9" r="6.6"/>
<circle cx="1230.9" cy="1529.3" r="6.6"/>
<circle cx="1229.7" cy="1529.6" r="6.6"/>
<circle cx="1228.3" cy="1529.8" r="6.6"/>
<circle cx="1226.7" cy="1530.0" r="6.6"/>
<circle cx="1225.1" cy="1530.2" r="6.6"/>
<circle cx="1223.4" cy="1530.5" r="6.6"/>
<circle cx="1221.7" cy="1530.7" r="6.6"/>
<circle cx="1219.9" cy="1530.9" r="6.6"/>
<circle cx="1217.8" cy="1531.2" r="6.6"/>
<circle cx="1215.5" cy="1531.4" r="6.6"/>
<circle cx="1213.0" cy="1531.7" r="6.6"/>
<circle cx="1210.4" cy="1531.9" r="6.6"/>
<circle cx="679.7" cy="1843.8" r="6.6"/>
<circle cx="731.9" cy="1824.1" r="6.6"/>
<circle cx="765.0" cy="1808.9" r="6.6"/>
<circle cx="788.5" cy="1795.7" r="6.6"/>
<circle cx="805.8" cy="1783.7" r="6.6"/>
<circle cx="816.4" cy="1772.3" r="6.6"/>
<circle cx="823.8" cy="1761.7" r="6.6"/>
<circle cx="830.3" cy="1752.3" r="6.6"/>
<circle cx="837.2" cy="1744.5" r="6.6"/>
<circle cx="844.0" cy="1737.8" r="6.6"/>
<circle cx="850.6" cy="1731.3" r="6.6"/>
<circle cx="857.0" cy="1723.9" r="6.6"/>
<circle cx="863.3" cy="1716.1" r="6.6"/>
<circle cx="869.3" cy="1708.7" r="6.6"/>
<circle cx="875.0" cy="1702.5" r="6.6"/>
<circle cx="880.4" cy="1697.2" r="6.6"/>
<circle cx="885.6" cy="1692.4" r="6.6"/>
<circle cx="890.8" cy="1688.0" r="6.6"/>
<circle cx="896.1" cy="1683.7" r="6.6"/>
<circle cx="901.9" cy="1679.5" r="6.6"/>
<circle cx="908.0" cy="1675.3" r="6.6"/>
<circle cx="914.3" cy="1671.2" r="6.6"/>
<circle cx="920.9" cy="1667.2" r="6.6"/>
<circle cx="927.5" cy="1663.3" r="6.6"/>
<circle cx="934.3" cy="1659.5" r="6.6"/>
<circle cx="941.0" cy="1655.9" r="6.6"/>
<circle cx="948.1" cy="1652.3" r="6.6"/>
<circle cx="955.5" cy="1648.9" r="6.6"/>
<circle cx="963.0" cy="1645.5" r="6.6"/>
<circle cx="970.3" cy="1642.3" r="6.6"/>
<circle cx="977.4" cy="1639.1" r="6.6"/>
<circle cx="983.9" cy="1636.1" r="6.6"/>
<circle cx="989.6" cy="1633.1" r="6.6"/>
<circle cx="994.7" cy="1630.2" r="6.6"/>
<circle cx="999.4" cy="1627.4" r="6.6"/>
<circle cx="1003.7" cy="1624.7" r="6.6"/>
<circle cx="1007.8" cy="1622.2" r="6.6"/>
<circle cx="1011.7" cy="1619.9" r="6.6"/>
<circle cx="1015.5" cy="1617.7" r="6.6"/>
<circle cx="1019.1" cy="1615.6" r="6.6"/>
<circle cx="1022.6" cy="1613.6" r="6.6"/>
<circle cx="1025.9" cy="1611.7" r="6.6"/>
<circle cx="1029.0" cy="1609.9" r="6.6"/>
<circle cx="1032.0" cy="1608.2" r="6.6"/>
<circle cx="1034.7" cy="1606.5" r="6.6"/>
<circle cx="1037.3" cy="1604.9" r="6.6"/>
<circle cx="1039.9" cy="1603.4" r="6.6"/>
<circle cx="1042.5" cy="1601.9" r="6.6"/>
<circle cx="1044.9" cy="1600.5" r="6.6"/>
<circle cx="1047.1" cy="1599.2" r="6.6"/>
<circle cx="1049.1" cy="1598.0" r="6.6"/>
<circle cx="1050.8" cy="1596.8" r="6.6"/>
<circle cx="1052.2" cy="1595.7" r="6.6"/>
<circle cx="1053.3" cy="1594.6" r="6.6"/>
<circle cx="1054.4" cy="1593.6" r="6.6"/>
<circle cx="1055.5" cy="1592.6" r="6.6"/>
<circle cx="1056.5" cy="1591.7" r="6.6"/>
<circle cx="1057.5" cy="1590.8" r="6.6"/>
<circle cx="1058.3" cy="1590.0" r="6.6"/>
<circle cx="1059.1" cy="1589.1" r="6.6"/>
<circle cx="1059.8" cy="1588.3" r="6.6"/>
<circle cx="1060.4" cy="1587.5" r="6.6"/>
<circle cx="1060.8" cy="1586.7" r="6.6"/>
<circle cx="1061.1" cy="1586.0" r="6.6"/>
<circle cx="1061.2" cy="1585.3" r="6.6"/>
<circle cx="1061.2" cy="1584.7" r="6.6"/>
<circle cx="1061.1" cy="1584.1" r="6.6"/>
<circle cx="1061.0" cy="1583.7" r="6.6"/>
<circle cx="1060.9" cy="1583.4" r="6.6"/>
<circle cx="1060.7" cy="1583.2" r="6.6"/>
<circle cx="1060.4" cy="1582.9" r="6.6"/>
<circle cx="1060.2" cy="1582.7" r="6.6"/>
<circle cx="1059.9" cy="1582.4" r="6.6"/>
<circle cx="1059.6" cy="1582.2" r="6.6"/>
<circle cx="1059.2" cy="1582.0" r="6.6"/>
<circle cx="1058.9" cy="1581.9" r="6.6"/>
<circle cx="1058.6" cy="1581.8" r="6.6"/>
<circle cx="1058.2" cy="1581.7" r="6.6"/>
<circle cx="1057.9" cy="1581.6" r="6.6"/>
<circle cx="1057.5" cy="1581.6" r="6.6"/>
<circle cx="1057.2" cy="1581.6" r="6.6"/>
<circle cx="1056.9" cy="1581.6" r="6.6"/>
<circle cx="1056.5" cy="1581.6" r="6.6"/>
<circle cx="1056.3" cy="1581.7" r="6.6"/>
<circle cx="1056.0" cy="1581.8" r="6.6"/>
<circle cx="1055.8" cy="1581.9" r="6.6"/>
<circle cx="1055.6" cy="1582.0" r="6.6"/>
<circle cx="1055.4" cy="1582.1" r="6.6"/>
<circle cx="1055.3" cy="1582.2" r="6.6"/>
<circle cx="1055.1" cy="1582.3" r="6.6"/>
<circle cx="1055.0" cy="1582.5" r="6.6"/>
<circle cx="1054.8" cy="1582.6" r="6.6"/>
<circle cx="1054.6" cy="1582.8" r="6.6"/>
<circle cx="1054.5" cy="1583.0" r="6.6"/>
<circle cx="1054.3" cy="1583.3" r="6.6"/>
<circle cx="1054.2" cy="1583.6" r="6.6"/>
<circle cx="1054.1" cy="1584.1" r="6.6"/>
<circle cx="1053.9" cy="1584.6" r="6.6"/>
<circle cx="1053.8" cy="1585.2" r="6.6"/>
<circle cx="1053.7" cy="1585.8" r="6.6"/>
<circle cx="1053.6" cy="1586.5" r="6.6"/>
<circle cx="1053.5" cy="1587.1" r="6.6"/>
<circle cx="1053.4" cy="1587.8" r="6.6"/>
<circle cx="1053.3" cy="1588.5" r="6.6"/>
<circle cx="1053.2" cy="1589.2" r="6.6"/>
<circle cx="1053.2" cy="1589.8" r="6.6"/>
<circle cx="1053.1" cy="1590.5" r="6.6"/>
<circle cx="1053.1" cy="1591.1" r="6.6"/>
<circle cx="1053.1" cy="1591.6" r="6.6"/>
<circle cx="1053.1" cy="1592.1" r="6.6"/>
<circle cx="1053.1" cy="1592.6" r="6.6"/>
<circle cx="1053.1" cy="1593.1" r="6.6"/>
<circle cx="1053.2" cy="1593.5" r="6.6"/>
<circle cx="1053.3" cy="1594.0" r="6.6"/>
<circle cx="1053.4" cy="1594.5" r="6.6"/>
<circle cx="1053.5" cy="1594.9" r="6.6"/>
<circle cx="1053.6" cy="1595.4" r="6.6"/>
<circle cx="1053.8" cy="1595.9" r="6.6"/>
<circle cx="1053.9" cy="1596.3" r="6.6"/>
<circle cx="1054.1" cy="1596.7" r="6.6"/>
<circle cx="1054.3" cy="1597.2" r="6.6"/>
<circle cx="1054.5" cy="1597.6" r="6.6"/>
<circle cx="1054.7" cy="1598.0" r="6.6"/>
<circle cx="1054.9" cy="1598.4" r="6.6"/>
<circle cx="1055.1" cy="1598.8" r="6.6"/>
<circle cx="1055.3" cy="1599.2" r="6.6"/>
<circle cx="1055.5" cy="1599.6" r="6.6"/>
<circle cx="1055.7" cy="1600.0" r="6.6"/>
<circle cx="1055.9" cy="1600.3" r="6.6"/>
<circle cx="1056.1" cy="1600.7" r="6.6"/>
<circle cx="1056.3" cy="1601.0" r="6.6"/>
<circle cx="1056.5" cy="1601.3" r="6.6"/>
<circle cx="1056.7" cy="1601.6" r="6.6"/>
<circle cx="1056.9" cy="1601.9" r="6.6"/>
<circle cx="1057.1" cy="1602.2" r="6.6"/>
<circle cx="1057.4" cy="1602.6" r="6.6"/>
<circle cx="1057.6" cy="1602.9" r="6.6"/>
<circle cx="1057.9" cy="1603.2" r="6.6"/>
<circle cx="1058.2" cy="1603.5" r="6.6"/>
<circle cx="1058.5" cy="1603.8" r="6.6"/>
<circle cx="1058.8" cy="1604.1" r="6.6"/>
<circle cx="1059.0" cy="1604.3" r="6.6"/>
<circle cx="1059.3" cy="1604.6" r="6.6"/>
<circle cx="1059.6" cy="1604.9" r="6.6"/>
<circle cx="1059.9" cy="1605.1" r="6.6"/>
<circle cx="1060.1" cy="1605.4" r="6.6"/>
<circle cx="1060.3" cy="1605.6" r="6.6"/>
<circle cx="1060.5" cy="1605.8" r="6.6"/>
<circle cx="1060.7" cy="1606.0" r="6.6"/>
<circle cx="1060.9" cy="1606.2" r="6.6"/>
<circle cx="1061.0" cy="1606.4" r="6.6"/>
<circle cx="1061.1" cy="1606.5" r="6.6"/>
<circle cx="1061.2" cy="1606.7" r="6.6"/>
<circle cx="1061.2" cy="1606.8" r="6.6"/>
<circle cx="1061.2" cy="1606.9" r="6.6"/>
<circle cx="1061.2" cy="1607.0" r="6.6"/>
<circle cx="1061.1" cy="1607.1" r="6.6"/>
<circle cx="1061.0" cy="1607.2" r="6.6"/>
<circle cx="1060.9" cy="1607.3" r="6.6"/>
<circle cx="1060.8" cy="1607.4" r="6.6"/>
<circle cx="1060.6" cy="1607.5" r="6.6"/>
<circle cx="1060.4" cy="1607.6" r="6.6"/>
<circle cx="1060.2" cy="1607.7" r="6.6"/>
<circle cx="1060.0" cy="1607.8" r="6.6"/>
<circle cx="1059.7" cy="1607.9" r="6.6"/>
<circle cx="1059.5" cy="1608.0" r="6.6"/>
<circle cx="1059.2" cy="1608.0" r="6.6"/>
<circle cx="1058.8" cy="1608.1" r="6.6"/>
<circle cx="1058.5" cy="1608.2" r="6.6"/>
<circle cx="1058.1" cy="1608.3" r="6.6"/>
<circle cx="1057.7" cy="1608.3" r="6.6"/>
<circle cx="1056.9" cy="1608.4" r="6.6"/>
<circle cx="1055.7" cy="1608.4" r="6.6"/>
<circle cx="1054.1" cy="1608.5" r="6.6"/>
<circle cx="1052.2" cy="1608.5" r="6.6"/>
<circle cx="1050.0" cy="1608.5" r="6.6"/>
<circle cx="1047.7" cy="1608.5" r="6.6"/>
<circle cx="1045.3" cy="1608.6" r="6.6"/>
<circle cx="1042.8" cy="1608.6" r="6.6"/>
<circle cx="665.8" cy="1859.2" r="6.6"/>
<circle cx="721.0" cy="1842.5" r="6.6"/>
<circle cx="761.7" cy="1829.4" r="6.6"/>
<circle cx="794.1" cy="1820.5" r="6.6"/>
<circle cx="817.4" cy="1813.5" r="6.6"/>
<circle cx="834.5" cy="1806.3" r="6.6"/>
<circle cx="848.3" cy="1797.1" r="6.6"/>
<circle cx="860.4" cy="1787.0" r="6.6"/>
<circle cx="872.3" cy="1777.6" r="6.6"/>
<circle cx="883.5" cy="1768.5" r="6.6"/>
<circle cx="893.8" cy="1760.7" r="6.6"/>
<circle cx="902.7" cy="1754.5" r="6.6"/>
<circle cx="910.2" cy="1749.3" r="6.6"/>
<circle cx="916.6" cy="1744.5" r="6.6"/>
<circle cx="922.2" cy="1740.0" r="6.6"/>
<circle cx="927.4" cy="1735.3" r="6.6"/>
<circle cx="932.2" cy="1730.4" r="6.6"/>
<circle cx="937.0" cy="1725.6" r="6.6"/>
<circle cx="941.8" cy="1721.4" r="6.6"/>
<circle cx="946.5" cy="1718.0" r="6.6"/>
<circle cx="951.0" cy="1715.3" r="6.6"/>
<circle cx="955.4" cy="1713.1" r="6.6"/>
<circle cx="959.5" cy="1711.1" r="6.6"/>
<circle cx="963.4" cy="1709.0" r="6.6"/>
<circle cx="967.0" cy="1706.8" r="6.6"/>
<circle cx="970.6" cy="1704.4" r="6.6"/>
<circle cx="974.0" cy="1702.0" r="6.6"/>
<circle cx="977.2" cy="1699.7" r="6.6"/>
<circle cx="979.8" cy="1697.6" r="6.6"/>
<circle cx="981.9" cy="1696.0" r="6.6"/>
<circle cx="983.5" cy="1694.6" r="6.6"/>
<circle cx="985.0" cy="1693.4" r="6.6"/>
<circle cx="986.3" cy="1692.3" r="6.6"/>
<circle cx="987.4" cy="1691.4" r="6.6"/>
<circle cx="988.1" cy="1690.6" r="6.6"/>
<circle cx="988.3" cy="1689.9" r="6.6"/>
<circle cx="988.3" cy="1689.3" r="6.6"/>
<circle cx="988.3" cy="1688.7" r="6.6"/>
<circle cx="988.3" cy="1688.3" r="6.6"/>
<circle cx="988.3" cy="1687.8" r="6.6"/>
<circle cx="988.3" cy="1687.4" r="6.6"/>
<circle cx="988.3" cy="1687.0" r="6.6"/>
<circle cx="988.3" cy="1686.7" r="6.6"/>
<circle cx="988.3" cy="1686.4" r="6.6"/>
<circle cx="988.3" cy="1686.1" r="6.6"/>
<circle cx="988.3" cy="1685.8" r="6.6"/>
<circle cx="988.2" cy="1685.6" r="6.6"/>
<circle cx="988.2" cy="1685.4" r="6.6"/>
<circle cx="988.0" cy="1685.2" r="6.6"/>
<circle cx="987.9" cy="1685.0" r="6.6"/>
<circle cx="987.8" cy="1684.8" r="6.6"/>
<circle cx="987.6" cy="1684.6" r="6.6"/>
<circle cx="987.4" cy="1684.4" r="6.6"/>
<circle cx="987.2" cy="1684.1" r="6.6"/>
<circle cx="986.9" cy="1683.7" r="6.6"/>
<circle cx="986.7" cy="1683.3" r="6.6"/>
<circle cx="986.4" cy="1683.0" r="6.6"/>
<circle cx="986.2" cy="1682.6" r="6.6"/>
<circle cx="985.9" cy="1682.4" r="6.6"/>
<circle cx="985.6" cy="1682.4" r="6.6"/>
<circle cx="985.2" cy="1682.5" r="6.6"/>
<circle cx="984.6" cy="1682.7" r="6.6"/>
<circle cx="984.0" cy="1682.9" r="6.6"/>
<circle cx="983.2" cy="1683.3" r="6.6"/>
<circle cx="982.3" cy="1683.7" r="6.6"/>
<circle cx="981.4" cy="1684.2" r="6.6"/>
<circle cx="980.4" cy="1684.7" r="6.6"/>
<circle cx="979.3" cy="1685.2" r="6.6"/>
<circle cx="978.2" cy="1685.8" r="6.6"/>
<circle cx="977.2" cy="1686.4" r="6.6"/>
<circle cx="976.1" cy="1687.0" r="6.6"/>
<circle cx="975.1" cy="1687.6" r="6.6"/>
<circle cx="974.1" cy="1688.1" r="6.6"/>
<circle cx="973.1" cy="1688.7" r="6.6"/>
<circle cx="972.3" cy="1689.2" r="6.6"/>
<circle cx="971.5" cy="1689.7" r="6.6"/>
<circle cx="970.8" cy="1690.1" r="6.6"/>
<circle cx="970.2" cy="1690.5" r="6.6"/>
<circle cx="969.5" cy="1691.0" r="6.6"/>
<circle cx="968.9" cy="1691.4" r="6.6"/>
<circle cx="968.3" cy="1691.8" r="6.6"/>
<circle cx="967.7" cy="1692.3" r="6.6"/>
<circle cx="967.1" cy="1692.7" r="6.6"/>
<circle cx="966.5" cy="1693.1" r="6.6"/>
<circle cx="966.0" cy="1693.5" r="6.6"/>
<circle cx="965.4" cy="1694.0" r="6.6"/>
<circle cx="964.9" cy="1694.4" r="6.6"/>
<circle cx="964.3" cy="1694.8" r="6.6"/>
<circle cx="963.8" cy="1695.2" r="6.6"/>
<circle cx="963.3" cy="1695.7" r="6.6"/>
<circle cx="962.8" cy="1696.1" r="6.6"/>
<circle cx="962.3" cy="1696.5" r="6.6"/>
<circle cx="961.8" cy="1696.9" r="6.6"/>
<circle cx="961.3" cy="1697.3" r="6.6"/>
<circle cx="960.8" cy="1697.7" r="6.6"/>
<circle cx="960.3" cy="1698.1" r="6.6"/>
<circle cx="959.9" cy="1698.4" r="6.6"/>
<circle cx="959.4" cy="1698.8" r="6.6"/>
<circle cx="958.9" cy="1699.2" r="6.6"/>
<circle cx="958.4" cy="1699.6" r="6.6"/>
<circle cx="957.9" cy="1699.9" r="6.6"/>
<circle cx="957.5" cy="1700.3" r="6.6"/>
<circle cx="957.0" cy="1700.7" r="6.6"/>
<circle cx="956.5" cy="1701.0" r="6.6"/>
<circle cx="956.1" cy="1701.4" r="6.6"/>
<circle cx="955.6" cy="1701.8" r="6.6"/>
<circle cx="955.2" cy="1702.1" r="6.6"/>
<circle cx="954.8" cy="1702.5" r="6.6"/>
<circle cx="954.3" cy="1702.8" r="6.6"/>
<circle cx="953.9" cy="1703.2" r="6.6"/>
<circle cx="953.5" cy="1703.5" r="6.6"/>
<circle cx="953.0" cy="1703.9" r="6.6"/>
<circle cx="952.6" cy="1704.2" r="6.6"/>
<circle cx="952.2" cy="1704.5" r="6.6"/>
<circle cx="951.8" cy="1704.8" r="6.6"/>
<circle cx="951.4" cy="1705.1" r="6.6"/>
<circle cx="951.0" cy="1705.4" r="6.6"/>
<circle cx="950.6" cy="1705.7" r="6.6"/>
<circle cx="950.2" cy="1706.0" r="6.6"/>
<circle cx="949.9" cy="1706.3" r="6.6"/>
<circle cx="949.5" cy="1706.5" r="6.6"/>
<circle cx="949.1" cy="1706.8" r="6.6"/>
<circle cx="948.7" cy="1707.0" r="6.6"/>
<circle cx="948.3" cy="1707.3" r="6.6"/>
<circle cx="948.0" cy="1707.5" r="6.6"/>
<circle cx="947.6" cy="1707.7" r="6.6"/>
<circle cx="947.2" cy="1708.0" r="6.6"/>
<circle cx="946.8" cy="1708.2" r="6.6"/>
<circle cx="946.4" cy="1708.4" r="6.6"/>
<circle cx="946.1" cy="1708.7" r="6.6"/>
<circle cx="945.7" cy="1708.9" r="6.6"/>
<circle cx="945.3" cy="1709.1" r="6.6"/>
<circle cx="945.0" cy="1709.3" r="6.6"/>
<circle cx="944.7" cy="1709.5" r="6.6"/>
<circle cx="944.3" cy="1709.7" r="6.6"/>
<circle cx="944.0" cy="1709.9" r="6.6"/>
<circle cx="943.7" cy="1710.1" r="6.6"/>
<circle cx="943.4" cy="1710.2" r="6.6"/>
<circle cx="943.2" cy="1710.4" r="6.6"/>
<circle cx="942.9" cy="1710.5" r="6.6"/>
<circle cx="942.7" cy="1710.7" r="6.6"/>
<circle cx="942.5" cy="1710.8" r="6.6"/>
<circle cx="942.3" cy="1710.9" r="6.6"/>
<circle cx="942.2" cy="1711.1" r="6.6"/>
<circle cx="942.0" cy="1711.2" r="6.6"/>
<circle cx="941.9" cy="1711.3" r="6.6"/>
<circle cx="941.8" cy="1711.4" r="6.6"/>
<circle cx="941.7" cy="1711.5" r="6.6"/>
<circle cx="941.6" cy="1711.6" r="6.6"/>
<circle cx="941.6" cy="1711.8" r="6.6"/>
<circle cx="941.5" cy="1711.9" r="6.6"/>
<circle cx="941.4" cy="1712.0" r="6.6"/>
<circle cx="941.4" cy="1712.1" r="6.6"/>
<circle cx="941.3" cy="1712.2" r="6.6"/>
<circle cx="941.2" cy="1712.3" r="6.6"/>
<circle cx="941.1" cy="1712.4" r="6.6"/>
<circle cx="941.1" cy="1712.5" r="6.6"/>
<circle cx="941.0" cy="1712.6" r="6.6"/>
<circle cx="940.9" cy="1712.7" r="6.6"/>
<circle cx="940.8" cy="1712.8" r="6.6"/>
<circle cx="940.6" cy="1712.9" r="6.6"/>
<circle cx="940.5" cy="1713.0" r="6.6"/>
<circle cx="940.3" cy="1713.1" r="6.6"/>
<circle cx="940.1" cy="1713.2" r="6.6"/>
<circle cx="939.9" cy="1713.2" r="6.6"/>
<circle cx="939.6" cy="1713.3" r="6.6"/>
<circle cx="939.0" cy="1713.4" r="6.6"/>
<circle cx="938.2" cy="1713.4" r="6.6"/>
<circle cx="937.2" cy="1713.5" r="6.6"/>
<circle cx="936.1" cy="1713.6" r="6.6"/>
<circle cx="934.8" cy="1713.6" r="6.6"/>
<circle cx="933.4" cy="1713.7" r="6.6"/>
<circle cx="931.9" cy="1713.7" r="6.6"/>
<circle cx="930.5" cy="1713.8" r="6.6"/>
<circle cx="928.9" cy="1713.8" r="6.6"/>
<circle cx="927.0" cy="1713.8" r="6.6"/>
<circle cx="924.8" cy="1713.8" r="6.6"/>
<circle cx="922.5" cy="1713.9" r="6.6"/>
<circle cx="920.0" cy="1713.9" r="6.6"/>
</g>
<path d="M580.7,1993.0L1294.6,1445.5" stroke="#D95319" stroke-width="2"/>
<rect x="580.7" y="1445.5" width="713.9" height="547.5" fill="none" stroke="#262626" stroke-width="2.8"/>
<path d="M710.5,1993.0V1984.0 M580.7,1893.5H589.7 M840.3,1993.0V1984.0 M580.7,1793.9H589.7 M970.1,1993.0V1984.0 M580.7,1694.4H589.7 M1099.9,1993.0V1984.0 M580.7,1594.8H589.7 M1229.7,1993.0V1984.0 M580.7,1495.3H589.7" stroke="#1a1a1a" stroke-width="3" fill="none"/>
<text transform="translate(554.72,2003.26) scale(1.0200,1)" font-size="29.80" font-weight="bold" font-style="normal" fill="#111" >0</text>
<text transform="translate(573.14,2032.09) scale(1.1000,1)" font-size="27.50" font-weight="bold" font-style="normal" fill="#111" >0</text>
<text transform="translate(524.32,1903.71) scale(1.0200,1)" font-size="29.80" font-weight="bold" font-style="normal" fill="#111" >100</text>
<text transform="translate(687.21,2032.09) scale(1.1000,1)" font-size="27.50" font-weight="bold" font-style="normal" fill="#111" >100</text>
<text transform="translate(524.32,1804.17) scale(1.0200,1)" font-size="29.80" font-weight="bold" font-style="normal" fill="#111" >200</text>
<text transform="translate(817.61,2032.09) scale(1.1000,1)" font-size="27.50" font-weight="bold" font-style="normal" fill="#111" >200</text>
<text transform="translate(524.32,1704.62) scale(1.0200,1)" font-size="29.80" font-weight="bold" font-style="normal" fill="#111" >300</text>
<text transform="translate(947.41,2032.09) scale(1.1000,1)" font-size="27.50" font-weight="bold" font-style="normal" fill="#111" >300</text>
<text transform="translate(524.32,1605.08) scale(1.0200,1)" font-size="29.80" font-weight="bold" font-style="normal" fill="#111" >400</text>
<text transform="translate(1077.59,2032.09) scale(1.1000,1)" font-size="27.50" font-weight="bold" font-style="normal" fill="#111" >400</text>
<text transform="translate(524.32,1505.53) scale(1.0200,1)" font-size="29.80" font-weight="bold" font-style="normal" fill="#111" >500</text>
<text transform="translate(1207.01,2032.09) scale(1.1000,1)" font-size="27.50" font-weight="bold" font-style="normal" fill="#111" >500</text>
<text transform="translate(509.50,1900.09) rotate(-90) scale(1.0516,1)" font-size="37.27" font-weight="bold" fill="#1a1a1a">Predicted Stress/Mpa</text>
<text transform="translate(723.41,2077.25) scale(1.0352,1)" font-size="37.91" font-weight="bold" font-style="normal" fill="#222" >Experimental Stress/Mpa</text>
<text transform="translate(462.75,1443.81) scale(0.9893,1)" font-size="70.66" font-weight="bold" font-style="normal" fill="#000" >(e)</text>
<circle cx="637.9" cy="1483.6" r="6.6" fill="none" stroke="#0072BD" stroke-width="1.1"/>
<text transform="translate(675.92,1493.03) scale(1.0757,1)" font-size="26.95" font-weight="bold" font-style="normal" fill="#000" >Data Point</text>
<text transform="translate(676.06,1528.92) scale(1.0471,1)" font-size="28.09" font-weight="bold" font-style="normal" fill="#000" >Fitting line</text>
<path d="M604,1518.3H670.6" stroke="#D95319" stroke-width="2"/>
<text transform="translate(1017.40,1886.30) scale(0.8644,1)" font-size="38.93" font-weight="bold" font-style="italic" fill="#000" >R</text>
<text transform="translate(1038.72,1887.39) scale(0.8760,1)" font-size="40.74" font-weight="bold" font-style="normal" fill="#000" >=98.3%</text>
<text transform="translate(1013.03,1936.50) scale(0.7830,1)" font-size="36.52" font-weight="bold" font-style="italic" fill="#000" >A</text>
<text transform="translate(1038.73,1936.50) scale(0.7830,1)" font-size="36.52" font-weight="bold" font-style="italic" fill="#000" >A</text>
<text transform="translate(1063.70,1936.50) scale(0.8067,1)" font-size="36.79" font-weight="bold" font-style="italic" fill="#000" >R</text>
<text transform="translate(1088.95,1936.50) scale(0.8132,1)" font-size="36.79" font-weight="bold" font-style="italic" fill="#000" >E</text>
<text transform="translate(1107.72,1938.22) scale(0.9167,1)" font-size="38.82" font-weight="bold" font-style="normal" fill="#000" >=7.8%</text>
</svg></body></html>
